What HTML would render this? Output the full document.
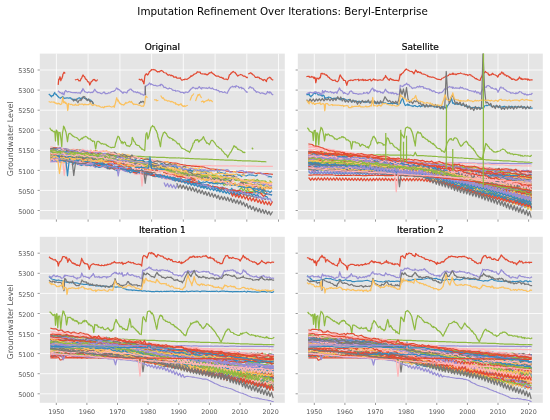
<!DOCTYPE html>
<html><head><meta charset="utf-8"><style>html,body{margin:0;padding:0;background:#fff;}svg{display:block;filter:blur(0.35px);}</style></head><body>
<svg width="550" height="420" viewBox="0 0 550 420" font-family="DejaVu Sans, Liberation Sans, sans-serif">
<rect width="550" height="420" fill="#fff"/>
<rect x="39.8" y="53.6" width="245.0" height="165.9" fill="#E5E5E5"/>
<clipPath id="cTL"><rect x="39.8" y="53.6" width="245.0" height="165.9"/></clipPath>
<path d="M56.4 53.6V219.5M88.1 53.6V219.5M119.9 53.6V219.5M151.6 53.6V219.5M183.3 53.6V219.5M215.1 53.6V219.5M246.8 53.6V219.5M278.5 53.6V219.5M39.8 210.5H284.8M39.8 190.4H284.8M39.8 170.4H284.8M39.8 150.3H284.8M39.8 130.2H284.8M39.8 110.2H284.8M39.8 90.1H284.8M39.8 70.0H284.8" stroke="#fff" stroke-width="0.8" fill="none"/>
<path d="M56.4 219.5v2.2M88.1 219.5v2.2M119.9 219.5v2.2M151.6 219.5v2.2M183.3 219.5v2.2M215.1 219.5v2.2M246.8 219.5v2.2M278.5 219.5v2.2M39.8 210.5h-2.2M39.8 190.4h-2.2M39.8 170.4h-2.2M39.8 150.3h-2.2M39.8 130.2h-2.2M39.8 110.2h-2.2M39.8 90.1h-2.2M39.8 70.0h-2.2" stroke="#555" stroke-width="0.6" fill="none"/>
<g clip-path="url(#cTL)"><g fill="none" stroke-width="5.00" stroke-linejoin="round" stroke-linecap="square" transform="scale(0.25)">
<path d="M233 337l2-20l2 1l3-11l2 8l1 8l3-8l1 0l4-12l0-4l4-8l1-2l3 3M302 319l5-1l4-1l1 1l4 6l4-2l1 1l3-8l3-4l2-5l3-6l1 1l3 5l2 0l4 10l0-1l5 4l2 4l2 4l4 0l1 2l3 11l1-2l4-9l0-1l5-4l1-2l3-4l3 1l2-1l4 5l1 0l4 0l2-3M557 317l5 3l4-2l1-1l4 9l2-1l2 9l1 1l3-27l1-6l4-5l1-2l3 2l2 3l3-3l4-8l0-2l5-3l4-5l1-1l4 1l4-1l1 1l3 0l5 3l1 2l3 2l3 2l2-2l4 0l1 1l4-4l2 0l2-1l5 3l2 2l2 3l4 1l5 1l2 2l2 3l5 4l4-2l5 2l2 2l2-2l5 2l4 5l4 0l4 1l1-2l4 6l5-1l4 1l4-2l1 3l4 6l4 0l5-2l4 0l1-2l4 1l4 1l1-2l4-2l4-3l5-4l2-4l2 2l4-2l5-5l2-2l2 0l5-2l4-4l1-3l4 1l4 0l4 0l1 6l4 1l4 0l5 1l4 1l1-2l4 3l4-1l0 3l5-3l4-6l0 2l5-2l4-3l0 2l4 3l5 4l1 0l3 3l5 4l4 0l5 0l4 3l3 2l2 0l4 0l4 4l3-1l2 4l4 1l5-1l1 0l3 2l3 0l2-3l4-13l0-2l5-3l2-5l2 0l4-4l3-2l2 2l4 1l5 6l1 1l3 4l3 4l2-1l4-3l4-1l1-1l4 1l4 2l0 1l5 3l4-1l0 1l5 3l4 3l1-1M995 295l4-1l2-3l3 1l3 3l1 0l5 5l3 1l1 2l4 6l5 0l3 1l1-2l5 1l4 5l2 0l3 1l4 3l5 4l1-3l3-1l4 2l5 6l0-4l4-7l2-2l3-2l3-1l1-1l5 4l0 2l4 3l3 2" stroke="#E24A33"/>
<path d="M197 378l5 4l4 5l0-1l4-4l3 0l2-6l4-6l0 4l5 4l1-1l3 5l5 5l1 1l3 3l5 2l1-2l3-1l4-3l1-1l4 7l1 1l3-2l5 0l1 0l3-1l5 1l4 0l0-1l5 0l4 5l4 2l0-1l5 0l4 0l3 3l2 0l4-3l5-4l4-2l4 3l1-1l4 0l4-3l3-1l2 2l4 3l5 1l2-1l2 3l5 2l4 0l1 0l4 1l4 5l4 2l0 3l3 3" stroke="#348ABD"/>
<path d="M234 365l5 5l4 0l0 1l5 4l3-4l1 5l4 3l0-1l3-11l2-3l1-2l3 2l3 3l2 1l4-2l5 1l4 2l1 0l4 1l4 1l4-1l5 0l1 1l3-1l5 2l4-1l5 0l2 3l2-3l4-9l1 3l4-11l0 3l4 4l3 6l2 0l4 2l5 2l2-2l2-1l5 1l4 2l4-2l3 1l2-2l4-5l0-2l3-4l2 3l4 6l1 0l4 4l4 0l1 0l4 1l4 3l4 1l0-1l5-3l4-3l4 4l1 3l4-1l5 0l2-1l2-2l5 1l4-2l1-2l3-2l5-1l4 0l1-2l4-2l2-3l2-4l1-2l4 2l2 5l2-2l5 3l2 4l2 0l4 4l5 5l2-3l2-2l5 1l4 2l3 0l2-6l4-4l0 1l5-3l1-3l3 0l3 2l1 3l5 3l4 4l5-1l4 3l3 0l2-2l4 3l5 0l1 2l3 3l4 0l5 2l1 3l3-1l3-2l2-22l1-11l3-1l3-3l2-1l4-2l3-5l1-1l5 7l1-4l3 2l5 2l1 2l3 1l5-1l4 2l3 0l2 1l4-1l4-2l3 2l2-6l4 0l0 1l5 5l1 1l3 6l5-1l4 3l1 1l4 2l4 0l4-3l0 1l5 1l4 2l3 4l2 0l4 2l5-1l2 4l2-1l5-1l4 1l1 0l3 2l5 4l4-1l5 0l4 4l4-2l1-3l4 0l5 2l2-1l2-1l4-5l5-6l1-1l3-2l5-5l2 0l2 3l5 1l2 2l2-2l5 2l4-6l1 1l3-3l5 7l4 2l1-6l4 1l4 0l5 1l4 0l0-1l4 3l5-2l3-3l1 2l5 3l4 0l2-2l3 3l4 3l5 1l1 0l3-1l4 4l5 1l0-2l4 7l5-2l4 0l0 1l5 3l4-1l3-2l2 3l4 2l4 1l1-3l4-8l0 1l4-8l3-4l2-2l4-2l3-2l2 2l4 0l5-2l1 4l3-6l4 2l5 1l1 4l3 2l5-3l4 0l0 6l5-2l4 3l5 7l4 3l0 2l4 0M995 354l4-7l2 0l3 3l3 2l1-1l5 2l3 7l1 0l4 3l5 6l3-2l1 0l5 2l4 2l2 3l3-1l4-2l5 3l1-1l3 1l4 3l2-1l3-1l4-9l2 2l3 3l3 1l1-5l5 4l0 1l4 5l3 2" stroke="#988ED5"/>
<path d="M290 397l4 7l2-2l3-1l4-1l2-4l3 9l4 6l0-2l4-7l2-2l3-1l3 3l1-3l5-6l0-5l4 0l2-2l3 1l3 8l1 0l5 6l1 1l3-3l3-3l1 3l5 10l0-4l4 1l2-1l3 3l3 8M557 413l5-4l1-3l3 3l4-2l1-2l4 1l1 5M581 345l1 34" stroke="#777777"/>
<path d="M197 407l5 2l4-1l0-1l4 1l5 1l1-2l3 4l3 2l2-1l4 2l0 2l5-3l1 1l3 0l3 3l2 1l4-2l1-1l3-18l1-8l3 18l1 4l4-4l3 7l2-3l4 7l0-3l3 27l2-13l1-15l3 2l4 1l1 1l4-1l4 2l0 1l5 0l4 0l3-3l2 3l4 0l5 1l2-2l2-3l5 1l4-1l1 0l3 0l5 4l4-2l0-2l5 3l4-1l5 1l4-3l1 0l4-3l4 5l4 4l5-1l1-3l3 1l4 1l1 1l4 3l5-1l2 1l2 0l5 4l4 1l1 0l3-1l5 3l4-5l5 1l4-2l5 0l4-1l1 1l3 1l5 2l4-1l5-3l2 5l2-8l4-13l1-6l3-11l1 3l4 11l1-5l4 10l4 5l0-2l5 5l4 0l4 2l1 0l4-4l5-6l1 2l3 0l5-2l4-3l0-2l4 3l2 1l3-3l4 7l5 5l1-2l3 1l5 0l4 0l0 1l5 2l4 0l3 1l1 1l5 3l4-1l3 1l2-2l4-11l0-1l3-25l2-1l4 4M619 399l4 1l2-1l3 4l3-1M644 384l4 7l2 2l3-2l4 7l2 2l3 0l4 1l4 3l2 0l3-1l4 2l5 3l0-3l4 1l5 3l4 3l5-1l1 6l3-1l4 2l5 3l0-3l4 1l5-4l3 6l1 0l5 5l4-3l3 3l2-1l4-2l3-1M761 400l5-13l1-4l3-1l4-6M783 402l4-12l2-4l3-7l0 3l4-4l2-1l3 6l4 7M806 407l5-3l4 4l0 2l4-4l5-2l1-2l3 1l5-4l1-2l3 6l3 0l2-2l4 1l3 4" stroke="#FBC15E"/>
<path d="M200 513l5 8l1 1l3-1l4 6l1-1l4 2l1-3l3 39l0-7l3-37l2 3l2 1l2 36l2 20l2-51l1 2l4-1l5 36l2 21l2-42l1-13l4-22l0-6l4 6l0 2l4 11l2 6l3 18l3 20l1-7l3-23l2-2l4-2l1 2l4 2l4 6l1-1l3 3l5 3l1 0l3 1l5 1l1 2l3 2l5 7l2 1l2-3l5-4l2-2l2 2l4-5l3-2l2 0l4-2l0-1l5 3l4 2l1 4l4 2l4-1l1 1l4 5l4 2l1 3l3-2l5 2l0 2l4 25l1 3l4-25l1-4l3-2l4 0l1 2l4 4l4 3l1 2l4-2l4 2l5 0l4 1l1 0l4 5l4 0l1 3l4 2l4 1l1 1l4 2l4-2l2 0l2 0l5 0l2-3l2-12l4-11l1-5l4-11l1-2l4 3l2 5l2 6l5 8l0 5l4-5l2 3l1 5l1-4l5-3l4 3l0 5l5 7l4 0l0-1l5 3l1 1l3-2l4-8l2 0l3-26l0-1l4 8l3 9l2 0l4 7l0 4l5 2l1 2l3 0l5 2l1 0l3 6l4 3l3 5l2-1l4 3l3 1l2 2l1 0l3-44l2-22l3-5l1 1l3 22l0 2l5-12l1-5l3-13l4-15l0-2l5-3l1-4l3 4l3 0l2 4l4 10l3 2l2 6l4 11l0 6l5 15l2 8l2 12l2 7l2-19l3-18l2-5l4-11l0-2l5-3l1-1l3 4l4 3l1 3l4 8l5 4l2 2l2-1l4 2l5 2l1 5l3-2l5 5l4 1l1 1l4 6l4 4l4 0l1-1l4 8l4 6l3 5l2 0l4 2l5 2l2 0l2 3l5 3l4 2l1-1l4 3l2 3l2-3l4-10l0 1l5-12l2-6l2-8l4-1l1-7l4-3l1-2l4 2l2-3l2 0l4 10l5-6l1-2l3 0l4-3l1-3l4-6l1-1l4 11l1 1l3 4l5 10l1-2l3 2l4 2l2 4l3-6l4-9l2-3l3 0l4 3l3 4l2 1l4 8l5 7l1 1l3 1l4 4l5 4l4 1l5 9l4 2l0 1l5 7l4 4l3 1l2 2l4 9l0-2l4-7l5-8l1-3l3-2l5-10l1-2l3-6l3-7l2 1l4 5l3-1l2 3l4 7l4-1l0 2l5 1l4 2l3 2l2 1l4 5l5-1l1 1M1009 593l2 2" stroke="#8EBA42"/>
<path d="M353 656l6 0l6 0l7 0l6 0l6 0l7 0l6 1l6-1l7 0l6 0l6 1l7-1l6 1l6-1l7 1l6 0l6 0l7 1l6 0l6-1l7 0l6 0l6 0l7 1l6-1l7 1l6 0l6 0l7 0l6 1l6-1l7 1l6 0l6-1l7 0l6 1l6 0l7 0l6 0l6 0l7 1l6 0l6-1l7 0l6 0l6 1l7 0l6 0l6 0l7 0l6 0l7 0l6 0l6 0l7 0l6 0l6 0l7 0l6 0l6 1l7 0l6 0l6 1l7 0l6 0l6-1l7 0l6 0l6 0l7 1l6 0l6 0l7 0l6 0l6 0l7 0l6 0l7 1l6 0l6 0l7 0l6 0l6 0l7 0l6 0l6 0l7 0l6 0l6 1l7-1l6 0l6 0l7 0l6 1l6 0l7 0l6-1l6 0l7 1l6 0l6 0l7 0l6 0l7 0l6 0l6 1l7 0l6 0l6 0l7 0l6 0l6 0l7 0l6 0l6 0l7 0" stroke="#FFB5B8"/>
<path d="M213 591l6 0l7 0l6 2l6-1l7 3l6 1l6 0l7 0l6 2l6 2l7 1l6-1l6 0l7-1l6-1l6 3l7 1l6 2l6 1l7 1l6 1l7 0l6 1l6 2l7-1l6 0l6 1l7 3l6 2l6 1l7-1l6-1l6 0l7 1l6 3l6 0l7 1l6 0l6 2l7 3l6-2l6 0l7 2l6 2l6 1l7-1l6 0l7 1l6 0l6 1l7 2l6 0l6 2l7 1l6 0l6 0l7 3l6 0l6 1l7 1l6 2l6 2l7 2l6 0l6 0l7 1l6 0l6 1l7 1l6 1l6 0l7-1l6 3l7 0l6 2l6 0l7 0l6 1l6 2l7 2l6 1l6 1l7 1l6 2l6 0l7 0l6 2l6 0l7 1l6 0l6 1l7 0l6 1l6 0l7 1l6 3l6 1l7 2l6 2l7 0l6 0l6 1l7 0l6 1l6 0l7 1l6 1l6 1l7 3l6 0l6 2l7 0l6 0l6 0l7 2l6-2l6 3l7 0l6 1l6 2l7-2l6 0l6-2l7 0l6 1l7 0l6 3l6 2l7-2l6 0l6 2l7 0l6 1l6-1l7 0l6 2l6 0l7 1" stroke="#E24A33"/>
<path d="M314 615l7 1l6 0l6 1l7 0l6 0l7 0l6 1l6-1l7 1l6 0l6 0l7 0l6 1l6 0l7 1l6 0l6 0l7 1l6 0l6 0l7 0l6 0l6 1l7-1l6 1l6 1l7 0l6 0l6 0l7 0l6 1l7 0l6 0l6 0l7 0l6 1l6 0l7 0l6 0l6 1l7 0l6 1l6 0l7 0l6 0l6 1l7 0l6 0l6 1l7 0l6 0l6 0l7 0l6 0l6 1l7 0l6 1l7 0l6 0l6 0l7 0l6 1l6-1l7 1l6 0l6 0l7 1l6 0l6 0l7 1l6 0l6 0l7 1l6 0l6 0l7 0l6 1l6 0l7 0l6 0l6 0l7 1l6 0l7 0l6 1l6 0l7 0l6 0l6 1l7 0l6 0l6 1l7 0l6 0l6 0l7 0l6 0l6 1l7 0l6 1l6 0l7 0l6 1l6 0l7 0l6 0l6 0l7 0l6 1l7 0l6 0l6 0l7 1l6 0l6 1l7 0l6 0l6 1" stroke="#8EBA42"/>
<path d="M204 594l6 5l7-6M248 598l7 2l6 0l6 4l7 0l6 2l7-1l6-1l6 0l7 0l6 3l6-1l7 2l6-3l6 3l7-1l6 3l6-1l7 2l6 4l6-3l7 3M413 618l7 4l6 4l6-3M490 632l6 2l6 1l7 1l6 1l6 0l7 0l6 6l6 1l7 1l6 2l6-1l7 1l6 4M604 656l6 3l7 3" stroke="#E24A33"/>
<path d="M204 602l6 4l7-6l6-2l6 8l7-1l6 4l6-2l7 2l6 3l6-3l7 3l6-1l7 3l6-4l6 1M356 624l7-2l6-2l6 6l7-2l6 1l6 0l7 2l6 2l6-2l7 3l6 0l6 5l7-1l6-1l7 3l6 2l6 5l7 1l6-1l6 1l7-5l6 2l6 7l7-6l6 8l6 3l7 1l6-1l6-6l7 6l6 1l6 6M578 656l7 2l6 0l6 3l7 2M617 671l6 0l6 0l7 2l6-2l6-2l7 4l6 6M699 680l6 4l7 1l6 3l6 6l7-3l6 1l6-1l7 3l6-1l6 0l7 2l6 3l7 0l6-2l6-1l7-2l6 4l6 1l7-2l6 6l6-2l7 2l6 1l6-2l7 2l6 0l6 4l7-1l6 2l6 0l7-7l6 5l6 2l7 2M966 720l6 2l6-2l7 4M1016 729l7 8l6 1l6-2l7 1l6 2l6 5l7-2l6 4l6 1l7 4l6-3" stroke="#348ABD"/>
<path d="M699 700l6 4l7 1l6 1l6 6M750 714l6 2l6-3l7 3l6-5l7 3l6 1M832 722l7-1l6 0l6 8l7-6l6 7M883 732l6-5l7 3l6 5l6 0l7 1l6 1l6-2l7 0M991 746l6-2" stroke="#988ED5"/>
<path d="M204 604l6 6l7-3l6 1l6 0M267 613l7-2l6-2l7 4l6 1l6-2l7 5l6 0M344 614l6 1l6 2l7-2l6-1l6 5l7 1l6 0l6-2l7 8l6-2l6-7l7 4l6-2l6-2l7 4l6-1l7 5l6 7l6 0l7-4l6-4l6 5l7 8l6-1l6 5l7-3l6-4l6 6l7 2l6 1l6 0l7-1l6 1l6 0l7 5l6-3l6 1M597 653l7 4l6-7l7 2l6 2l6-1M642 659l6-3l7 6l6 2M686 668l7-3l6 6l6 1l7 4l6-2l6-2l7 6l6 6l6-2l7-2l6 4l6-5l7 7l6-2l7-3l6 3l6-1l7 2l6 4l6 1l7-4l6 8M902 701l6 0l7 0l6 0l6 3l7 0l6 3l7 1" stroke="#777777"/>
<path d="M204 599l6-4M236 596l6-4l6 5l7 0l6 0l6 2l7-2l6 3l7 1l6 0l6 1l7 3l6-5l6 1l7 3l6 2l6-2l7 2M375 603l7 0l6-1M401 611l6-6l6 1l7-1l6-2l6 4l7 1l6 7l7-6l6 3l6 3l7 1l6-1l6 7l7-7l6 4l6 2l7-2l6 1l6 3l7 5l6-3l6 2l7 4l6 1M572 633l6 3l7-1M617 641l6 1l6 4l7 0l6 2l6 1l7-2l6-1l6 0l7 4l6 6l6 2l7-2l6 3l6-2l7 6l6-1l6 7l7 0l6-1l6 0l7 1l6 4l6-1l7 0l6 2l7-1l6 2l6 1l7-7l6 3M832 681l7 1l6 0l6-3l7 2l6 1l6 0l7-2l6 2l6-2M934 686l6 2l7-3" stroke="#FBC15E"/>
<path d="M686 677l7 3l6 5l6 4l7-8M762 692l7 0l6 2l7 5" stroke="#8EBA42"/>
<path d="M204 647l6-2l7 2l6 0l6 3l7-3l6 1l6 0l7 0l6 1l6 2M287 658l6-2l6-1l7-1l6-1l6-3l7 0l6 0l6 4l7-1l6 8l6 0l7-7l6 3l6 1M445 665l7 2l6 3l6-3l7 3l6-6" stroke="#FFB5B8"/>
<path d="M426 662l6 6l7-1l6 1M477 671l6-4l7 5l6 1l6 0M578 678l7 1" stroke="#E24A33"/>
<path d="M242 606l6 1l7-3l6 0l6 3l7 2l6 0l7 0l6 2l6-2M318 610l7 6l6 0l6 2M369 619l6-1l7 3l6-4l6 3l7 2l6 1l6-1l7-3l6 1l6 2l7 3l6 2l7-1l6-1l6-1l7 4l6 5l6 0l7 0l6 0l6 1l7-2M540 637l7 4l6 2l6-3l7 3l6-3l6 10l7-2l6-1l6-3l7 2l6 5M642 656l6-3l7 11l6-2l6-2l7-1l6 4l6 2l7 1l6-5l6 5l7 7l6 3l6-1l7 3l6-2l6 1l7 2l6 0l6 4l7 0l6 0l7-1l6 0l6 1l7-4l6 8l6-4l7 1l6 4l6-1l7 2M870 688l7 6l6-4l6 1l7 4l6-3M934 701l6-3l7-1l6 3l6 0l7 6l6-7l6 3l7 2l6-3l6-2l7 1l6 0l6 2l7 2l6-4M1073 707l7-1l6 2" stroke="#348ABD"/>
<path d="M204 638l6 1l7 6l6-1l6 1l7-1l6 6l6-2l7-7l6 7l6-1l7-4l6 3l7-1l6 4l6 4l7 1l6-3l6 3l7 0l6 1l6 4M369 659l6 0M407 664l6-3M432 666l7-3l6-2l7 6l6 3l6-1l7 1l6 0l6 3l7 4l6-3l6 5l7 2l6 2l6-1l7 4M585 691l6 4l6 0l7 3l6 0l7 0l6 0l6 1l7 2l6 8l6-3l7 1l6 1M705 719l7-3M737 725l6 2l7 1l6-1l6 1l7 1l6 5l7-1l6-3l6 4l7 0l6 4l6-2l7 3l6 0l6 2M870 747l7 4l6-2l6-1l7 5l6 2l6 2l7 5l6-1l6-1l7-1l6 3l7 2l6 0l6 2l7-3l6 2l6 7l7-2l6-2l6 7l7-4l6 1l6-3l7 4l6 1l6 2l7-1l6-2l6 2l7-1l6 3l6 1l7 0l6 0" stroke="#988ED5"/>
<path d="M204 597l6-6l7 4M236 603l6-2l6-3l7 0l6-2l6 6l7 4l6-2l7 0l6 1l6-3l7 4l6 0l6-1M331 605l6-2l7 4M382 617l6 1l6-2l7 3l6 1l6-1M464 626l7 0l6 0l6 7l7-1l6 1l6-3M515 639l6-4l7 4l6 1l6 2l7 5l6-2l6 3l7-2l6 2l6 0l7 4l6 3l6-4l7 6l6-4l7 0l6 4l6 1l7 4" stroke="#777777"/>
<path d="M617 684l6 3M655 691l6 0l6 4l7-2l6 4" stroke="#FBC15E"/>
<path d="M204 618l6 1l7 2l6-2l6 4l7 2l6 2l6-7l7 2l6 5l6-5l7 5l6 0l7-5l6 4l6-3l7 4l6-1l6-2l7 2l6 1l6 0l7 4l6-2l6 0l7-3l6 4l6-2l7 2l6 5l6-1M420 635l6-2l6 0l7 4l6 2l7-2l6 4l6 0l7 0l6 7l6-6l7 0l6 2M515 648l6 5l7 4l6-1l6 0M559 662l7 1l6 0l6 5l7-2l6 1l6-1M610 670l7 2l6 1l6-1l7 1l6 0l6-1l7 2l6 6l6 7l7-2l6 0l6-1l7 2l6 2l6 5l7 3l6 0l6-4l7 6l6 6l6-2l7 1l6 2l6-1l7 3l6 7l7 0l6-1l6 0l7 2l6 3l6-5M845 730l6-9l7 11l6-7l6 11l7-7l6 6l6-6l7 13l6-4M959 758l7-8l6 13l6-6l7 10l6-13l6 14l7-3l6 3l6-7l7 12l6-9l6 6l7-1l6 5l6-9l7 13" stroke="#8EBA42"/>
<path d="M204 644l6 3l7-3M236 643l6 1l6-1l7 7l6-3l6 1M299 653l7 1l6 4l6 2l7-8l6 5l6 5l7 2l6 0l6-2l7 3l6-2l6 2l7 4l6-5l6 0l7 2l6-1l6 4l7 0l6 5l6 2l7-4l6 4l7-1l6-1l6 4l7 3l6 0l6-1l7-1l6 1l6 6l7-3l6 6l6 0l7 1l6 2l6 5l7 1l6-3l6 1l7-3l6 4l6 2l7 0l6 4l6-4l7 2l6-2l7 7l6 4M642 710l6-1l7 4l6 3l6 0l7 0l6-1l6-4l7 4l6 1l6 5l7 4l6 2l6 0l7 2l6-4l6 2l7 6l6 1l6-5M788 736l6 12l7-7l6 9l6-10l7 7l6-5l6 5M845 754l6-8l7 9l6-10l6 13l7-6l6 9l6-6l7 7l6-6l6 12l7-6l6 5l6-5l7 7l6-3l7 3l6-1l6 1l7-1l6 1l6-3M1023 776l6-7M1073 778l7-8l6-2" stroke="#FFB5B8"/>
<path d="M204 640l6-4l7 0l6 3l6-1l7-3l6 5l6-1l7 2l6 1l6 2l7 0l6-2l7 1l6-1M318 645l7 0l6 0l6 1l7 3l6 1l6 1M413 652l7 6l6 1l6-3l7-3M490 667l6 3l6 7l7-3l6 0l6 0M559 685l7 4l6-5l6-3" stroke="#E24A33"/>
<path d="M204 607l6-1l7 3M236 609l6 4M267 618l7 2M337 634l7-1l6-3M426 643l6-2l7 0" stroke="#348ABD"/>
<path d="M204 599l6 2l7 1l6-2l6 6l7-2l6 0l6 1l7 6l6 4l6-4l7-3l6 0l7 4l6 0l6-2l7 5l6 1l6 5l7-7l6 8l6-1l7 3l6-2l6 6l7 4l6-4l6 5l7-4l6 2M426 638l6 2l7-1M452 645l6 1l6-1l7 2l6 4l6 1l7-1l6 1l6 1l7-2l6 0l6 3l7 5l6-2l6 4M572 666l6 4l7-2l6-2l6 5l7 0l6 2l7-3l6 3M648 678l7-4l6 6l6 0l7 3l6 4l6 0l7-2l6 5l6-1l7-1l6 2l6 3l7-1l6 0l6 8l7-1l6 2l6 1l7 2l6 0l7-6l6 7l6-2l7 1l6 7l6-4l7-2l6-1l6 3l7-1l6 4l6 0l7 6l6 1l6-2l7 6l6 2l6-5l7 2l6 3l6 1M959 734l7 4l6 0l6 0l7 1l6 4l6 1l7 0l6 2l6 3l7 4l6 1l6 2l7-1l6 4" stroke="#988ED5"/>
<path d="M204 594l6-1l7 1l6-1l6 4l7-4l6-1l6 4l7-1M306 600l6 5l6-5l7 0M337 602l7 0M382 604l6 4l6-1l7 2M432 612l7-1l6 0l7-1l6-1l6 5l7 6l6 1l6-2l7 2l6-3l6 2l7 5l6 1l6 2l7-8l6 8l6 3l7 2l6 0M578 638l7-2l6-1l6 2l7 2l6 2l7 3l6 0l6-1l7 4l6 0l6 1l7 3l6 5l6 3l7-3l6-2l6 5l7 2l6-2l6 1M731 668l6-3l6 3" stroke="#777777"/>
<path d="M617 668l6 2l6 1M642 670l6 4l7 4l6-3l6 2l7 1l6 2l6 4l7 3M724 691l7 3l6 2M807 708l6 1l7-3l6 6l6-2l7 2l6 3l6 2l7 3l6-1l6 0l7 2l6-1l6 6l7 3M959 736l7-1l6-1l6 2l7 2l6-4l6-1l7 0l6 7l6-2l7 2l6 3l6 4l7-1l6-5M1061 743l6-5l6 6l7 5l6-1" stroke="#FBC15E"/>
<path d="M204 620l6-1l7 2l6-1l6-1l7 1l6-1l6-4M274 622l6-4l7 6l6 1M312 625l6 0M375 619l7 2l6 0l6 6M426 627l6-1l7 4l6-3l7 0l6-3M496 631l6 1l7-1" stroke="#8EBA42"/>
<path d="M204 615l6 5M229 617l7 0l6 1l6-2l7 5l6-2l6-4l7 2M312 623l6-3l7 0l6-1l6 2M369 619l6-2l7 2l6 0l6 2l7-1l6-1l6 1l7-1l6 1l6 5l7 1l6 2l7-1l6 3M483 635l7-2l6-1l6 4l7 6l6 2l6-3l7 3l6 5l6 0l7 0l6 0l6 3l7 4l6-1l6 7l7-3l6 5l6 2l7 2l6-1l7 5l6 3l6-6l7 3l6-2l6 7l7 4l6 2l6-3l7-2l6 4l6 1l7-1l6-1l6 7l7 5l6-5l6 2l7 3l6 2l6 3l7 4l6 0l6-3l7 0l6 3l7 4l6-3l6 2l7 1l6-1l6 1l7-1M845 710l6 1l7 1l6 4l6 4M883 721l6-2l7-1l6-3M921 723l6 5l7-5M966 724l6 3l6 4l7 2l6-5l6 0l7 1l6 2l6-3l7 7l6 1l6-1l7-1l6 0l6-2l7 2l6 2l6-2l7 2l6 4" stroke="#FFB5B8"/>
<path d="M477 654l6-2l7 6l6-3l6-1l7 4l6 2M553 666l6 0M591 679l6 2M655 688l6 2l6 5l7 0l6 4l6-3l7 3l6 0l6 7l7-2l6 0l6 2l7-2l6 1l6 2M762 708l7 6l6 2l7 0l6-4l6 0l7-1l6 0l6 7l7 0l6 2l6 0l7 1l6 1l6 1l7 0l6 3l6-3l7 3l6 0l6 1l7 4l6 0l6-2M921 731l6 2l7 2l6 5l7-2l6 0l6-4l7 1l6 3l6 2l7 2l6-1l6 2M1010 741l6 7l7-2l6-4M1061 751l6-1l6 1l7 3l6-1" stroke="#E24A33"/>
<path d="M204 638l6 3l7 1l6-1l6 3l7-2l6 0l6 1l7-3l6 6l6 0l7-2l6-2l7-2l6 1l6-1l7 1l6 2l6 2M331 647l6 1l7-5M363 649l6 0M388 651l6-2l7 1l6 2l6-6l7 0l6-1l6 6l7 1l6 0l7 5M477 659l6 1l7 4l6 1l6 0l7 2l6 1l6 0l7 8l6 2M566 678l6 5l6-1l7 5l6 1l6 4l7-2l6 5M661 706l6 1l7 4l6-3l6 3l7 2l6-1l6 2l7 2l6 4l6-4l7 2l6 1l6 2l7 1l6 2l6 2l7-1l6 5l7 2l6 5l6-6l7 3l6 3l6 0l7 4l6-2l6 3M883 758l6-8l7 9l6-6l6 7l7-2l6 3l6-8l7 13l6-4l7 6l6-5l6 9l7-1l6 1l6-3l7 8l6-9l6 9l7-3l6 8l6-6l7 7l6-4l6 6M1061 786l6 0l6 10" stroke="#348ABD"/>
<path d="M204 624l6 2l7-1l6 0l6 3l7-2l6 0M293 633l6 0M337 639l7-1l6 4l6-4l7 7l6-5l6 2l7 4l6 4l6 1l7-2l6 4l6-1l7-1l6-1l6 1l7 0l6 2l7 3l6 0l6 1l7 3l6 0l6 2M528 663l6 0l6 0l7 5l6-2l6 2l7 1M591 666l6 5l7 2l6 2M636 676l6-5l6 3l7-1l6-1l6 5l7 0l6 6l6-1l7 4l6 0l6 4l7 2l6-5l6 6l7 2l6 1l6 1l7-2l6 0l6 8l7 1l6 1l7-2l6-2l6 6l7 2l6 3l6-6l7 2l6 4l6 1l7 2l6 3l6 1l7 0l6 2l6 3" stroke="#988ED5"/>
<path d="M204 625l6 4l7 1M255 635l6 2l6 1l7-2l6 2l7 7l6-5l6 8l7-2l6-1l6-1l7 3l6 5l6-1l7 2l6-2l6 5M388 655l6 4l7-2l6 4l6-1M432 663l7 3l6-7l7 8l6 3l6 3l7 0l6-1l6 3l7 2M534 686l6 2l7-1l6 3l6-2l7 2l6 6l6-5l7 4l6-1l6 3l7 1l6-1l7 4l6 4l6 1l7-4l6 3l6 5l7-1l6 3l6 2l7-3l6 0l6 3l7 5l6 4l6-3l7-2l6 6M737 730l6-5l7-1l6 8l6-3l7-1M801 740l6 1l6 3l7 2l6 1l6 0l7-3l6 3l6 1l7-1l6 7l6 0l7 2l6 2l6-2l7 3l6-3l6 5l7-1l6 6l6-2l7 4l6-1M953 768l6 5l7 0l6 4l6 2l7 0l6 6l6-4l7 4l6-1l6 4l7-1l6 4l6-3l7 2l6 2l6 2l7 4" stroke="#777777"/>
<path d="M204 621l6 2l7-1l6 1l6-3l7 5l6 2l6 0l7-1l6-2M287 631l6-1l6-3l7 6l6 2l6 2l7-1l6 1l6 2l7 0l6-1l6-3l7 3l6 1l6 2l7 1l6 0l6 0l7 3l6 1l6 1l7-1l6 0l6 1l7-4l6 7l7-4l6 2l6 2l7 3l6-1l6 1l7 1l6 10l6 0l7-5l6-2l6 4l7 3l6 0l6 4M604 676l6 3l7-1l6 2l6-2l7 5l6-1l6 0l7-4l6 8l6-2l7 1l6 4l6 1l7 0l6 4l6 7l7-3l6 1l6 4l7-5l6 7l6-2M794 715l7-7l6 11l6-3l7 3l6-5l6 7l7-7l6 2l6-2l7 11l6-5l6 6l7-4l6 6l6-4l7 7l6-6l6 3l7-3l6 5M953 735l6 11l7-5l6 7l6 0l7 7l6-9l6 15l7-9l6 8l6-8l7 13l6-5l6 12l7-7l6 7l6 0" stroke="#FBC15E"/>
<path d="M394 644l7 4l6-2l6-3l7 3l6-3l6-1l7 1l6 3l7 3l6-2l6 8l7-1l6 2M502 658l7 5l6-5l6 2M553 669l6-2l7 0l6 3l6 0l7-5l6 7M661 682l6-2l7 5l6 3l6 0l7-1l6 2l6 1l7-1l6 5l6 3l7-1l6-1M762 693l7 1l6 6l7 0l6 6l6-1l7-2l6-3l6 3M845 712l6-4l7 2l6 0l6 0l7 4l6 2l6-1l7 2l6-1M953 723l6-2l7 1l6 5l6-2l7-6l6 3l6 3l7 0l6 4l6 0l7-4l6 1l6 3l7 1l6 1l6-2" stroke="#8EBA42"/>
<path d="M604 686l6-5l7 3l6 3l6 2l7-2l6 5M655 697l6 4l6-2l7 0l6 0l6 4l7 3l6-1l6-2l7 1l6 2" stroke="#FFB5B8"/>
<path d="M204 632l6 2l7-3l6 4l6 1l7 0l6 3l6-2l7 4l6-4l6 2M293 648l6 0l7-2l6-1M325 651l6-6l6 4l7 3l6-5l6 4l7 1l6 0l6 0l7 0l6 1l6 1l7 1M413 654l7 5l6 0l6-3l7 4l6 0M458 666l6 1l7 0l6-3l6 2l7 5M572 688l6 0l7 2l6 1l6 2l7-3l6 4" stroke="#E24A33"/>
<path d="M229 643l7-5l6 4l6 5l7 0l6-4l6 11M293 656l6-6l7 4l6 4l6-1l7 5l6-2l6-6l7 7l6-1l6 1l7 2l6-3l6-5l7 11l6 0l6 3l7 0l6-2l6-6l7 6l6 4l6 4M464 681l7 3M490 678l6 0l6 6l7 3l6-3l6 7l7-4l6 0l6 4l7 2l6-8l6 6l7 3l6-3l6 5l7 4l6-1l6-1l7 3M636 707l6-1l6 6l7-3M680 715l6-2l7 6l6 2l6-3M737 722l6-2l7 1l6 1l6 5M801 730l6 2M839 730l6 0l6 4l7 0l6 0l6 0M889 735l7-4l6 2l6-2l7 5l6 5l6 0l7-2l6 0l7 0l6 0l6 3l7 3l6-1l6 4l7 2l6 0l6-1l7 1l6 4l6-1l7 4l6-1l6 6l7-5l6 5l6 0l7 3l6-1l6 0l7 6l6-5" stroke="#348ABD"/>
<path d="M229 593l7 1l6-3l6 6l7-3l6 2l6-1l7 3l6 4l7-1l6 2l6 2l7 1l6-3l6 5l7-2l6-4l6 0l7 5l6-2l6 5l7-1M375 608l7 6l6-7l6 3l7 1l6 2l6 1l7-1l6 2l6 4l7 5M464 628l7-1l6 5l6-1l7-2l6 8l6 0l7-1l6 0l6 2l7 3l6 4l6 1l7 7l6 0l6-4l7 3M617 665l6-4l6 4l7 4l6-2l6 2M667 673l7 4l6 4l6-2l7 3M724 691l7-1l6-2l6 6l7-4l6 1M782 697l6 0l6 3l7-2l6-1l6-2l7 10l6-3M851 711l7-5l6 1l6 0l7-1l6 2l6 5l7-2l6-2l6-2l7 3l6 2l6 4l7-2l6 2l7 2l6 2M972 722l6-2l7 3l6 2l6-4l7 4l6 3l6 3l7-2l6-2l6 2l7-1l6 4l6 5l7 0l6-4l6 4l7 7l6-3" stroke="#988ED5"/>
<path d="M204 631l6-4M229 629l7-2l6 4l6-2l7 3l6 0l6-2l7 0M306 628l6 9l6-5l7 0l6-1l6 2l7 1l6 0l6-1l7 1l6-2M401 634l6 1l6-3l7 1l6 2l6 1M458 640l6 1l7 6l6-1M502 649l7 6l6-1l6-1l7 9l6 0l6-2l7 4l6-4l6 6l7-4l6 5l6 3l7-4l6 3l6 4l7 3l6-3l7 0l6 8l6 0l7 1l6 0l6 1l7 4l6 2l6 2l7-3M693 691l6 0l6 0l7 4l6 3l6 0l7 2l6-2l6 2l7 2M775 704l7 3l6-8l6 10l7-4l6 9l6-12l7 9l6-6l6 7l7-5l6 9l6-3l7 5l6-5l6 3l7-3l6 9l6-6l7 5l6-11l6 9l7 1l6 5l6-8M959 736l7-9l6 6l6-7l7 9l6 0l6 10l7-7l6 9l6-7l7 4l6 0l6 10l7-5l6 10l6-4l7 9" stroke="#777777"/>
<path d="M204 603l6 1l7 2l6 5l6 0l7-1l6-3l6 4l7 1l6 2l6 2l7-2l6-1l7 2l6-2l6 3l7 1l6-1l6-2l7 4l6-3l6 1l7 3l6-3l6 1l7 1l6 1l6 8l7-2l6-6M477 635l6 6l7-4l6 2l6-1l7 0l6-1l6 7l7 1l6 4l6-2l7-2l6 1l6 1l7-1l6 4l6 2l7-2l6 0l6 8l7-3l6-1l7 3l6 2l6-1M655 665l6-3l6 0l7 5l6-4l6 9l7-1l6 3l6 3l7 0l6-4l6 3l7 4l6 3l6-1M775 685l7-6l6 6l6 2l7 0l6 2l6 0l7-2l6 1l6 4l7 0l6-2l6 7l7 0l6-3l6 1l7-4l6 4l6-2l7 3l6 3l6-5l7 5l6-2l6 0l7 0l6 2l7-1M966 700l6 2l6-2" stroke="#FBC15E"/>
<path d="M762 693l7 2l6-1l7 3l6-1l6 3l7-2l6 3l6 1l7 2M851 700l7 4l6-4l6 5" stroke="#8EBA42"/>
<path d="M204 638l6-3l7 9l6-7l6 5M248 646l7-4l6 3l6 1M306 648l6-1l6-2l7 5l6 1l6 0l7 2l6 4l6-5l7-2l6 7M502 676l7 0l6 2l6-1l7 4" stroke="#FFB5B8"/>
<path d="M204 614l6 5l7 0l6-2l6 4l7 4l6 0l6 0l7 3l6 0l6-1l7 4l6 2l7 0l6 4M325 635l6 3l6 3l7-2l6 2l6 5l7 0l6 1M382 652l6-1l6 3l7 3l6 1l6-3M432 661l7 2l6 1l7 1l6 2l6 2l7-1l6-2l6 6l7 0l6 2l6 2l7 2l6-1l6-1l7 3l6 2l6 0l7 4l6-2l6 5l7 3l6-5l6 1l7 1l6-1l6 3l7-1l6 8l7 1l6-2l6 4l7 0l6 4l6-4l7 5l6 0l6 4l7 1l6-2l6 2l7 0l6 0l6 9l7 1l6 1l6-6M762 725l7 3l6 0l7 4l6 0l6 4l7-5M832 739l7 3l6 5l6-2l7 1l6 1l6 2l7 4l6-2l6 1l7 0l6 3l6 0l7 8l6 1l6-3l7-1l6 0l7 5l6-4l6 1l7 4l6 5M985 770l6 1l6-1l7 0l6 1M1042 772l6 7l6 6l7-4l6-10" stroke="#E24A33"/>
<path d="M229 625l7-2M267 628l7 5M293 631l6 2l7 1l6 0M350 646l6 0l7 0l6 1l6 6l7 1l6 1l6-1l7 1l6-1l6 5l7 0l6-2l6 4l7 4l6 3M458 665l6 0l7 5l6 0l6 4l7 2l6-3l6 3l7 3l6 1l6-1l7 2l6 4l6 2l7-1l6-5M585 691l6 3l6 4l7 0l6 6l7 2l6-4l6 4l7 2M648 707l7-2l6 6l6 2l7-2l6 3l6 1l7 6l6 0l6 1l7-1l6 1l6 4l7-1l6 0M756 731l6 1l7-1l6 5l7-2l6 4l6-2l7 5l6 6l6 0l7-5l6 3M851 745l7 9l6-3l6 3l7 9" stroke="#348ABD"/>
<path d="M204 647l6-1l7 0l6-5l6 1l7 5l6-3l6 5l7 2M306 653l6 3l6 3l7-3l6 1l6 2l7-3l6 2l6-2l7 3l6-1l6 7l7 5M394 660l7 7M432 670l7 3l6 0l7-5l6 6l6 2l7 3l6-4l6 0l7 4l6 4l6 0l7 0M547 689l6-2l6 0l7 1l6 3l6-1l7 5M636 701l6-3l6 8l7-1l6 2l6 1" stroke="#988ED5"/>
<path d="M217 630l6 2l6 5l7 2l6 0l6 0l7 0M318 654l7 1l6-2l6 0l7 0M375 661l7 1M413 664l7 4l6 0l6 3l7 5l6-5l7 4l6 4" stroke="#777777"/>
<path d="M204 629l6 0l7 1l6 7l6-5l7 3l6-2l6 1M280 633l7 3l6-3l6-1l7 1l6-1l6 5l7-5l6 2l6 1l7 2l6-4l6 2l7-3M394 637l7-1l6 2l6 3l7-3l6 2l6-5l7 2l6 0l7 4l6 1l6-4l7 5l6 3l6 4l7-4M521 654l7-4l6 3l6-1l7 0l6 4l6-4M585 660l6 4l6 4l7-5l6 3l7 1M642 674l6-1l7 0l6 2l6-2l7 3l6 0l6 1l7 6l6-3l6 2l7 2l6 2l6 5l7 1l6-5l6 3l7 4l6 4l6-3l7 0l6 2l7-1l6 4l6 3l7-1l6 0l6-4l7 6l6-1M858 706l6-1l6 0l7 3l6 6l6 2M947 721l6-4l6 5l7-4l6 3l6-1l7 1l6 2M1010 724l6 0l7 0l6 0l6 0l7 3l6 4l6 0l7-4l6 5l6-2l7-1l6 2" stroke="#FBC15E"/>
<path d="M204 602l6-2l7 0l6 3l6 3l7-1l6 0l6 3l7-2M280 607l7 4l6 0l6-2l7 2l6-1l6 6l7-3l6 0l6 3l7-5l6 0l6 4l7 3l6 1l6-5l7 3l6 2l6 3l7-8l6-1M426 616l6 3l7 6M458 627l6 1M502 638l7 3l6 1l6 2l7 0l6 0l6 5l7 1l6 1l6 3l7 1l6 2l6-3l7 5l6 1l6 1l7 1l6 2l7 4M636 670l6 3l6 0l7 2l6 4l6-5l7 3l6 1l6 5l7 1l6 2l6 6l7-3l6 3l6 2l7-4l6 3l6 2l7 1l6 2l6 1l7-1l6 0l7 0l6 9l6-3l7-2l6 7l6-5l7 1l6 1l6 0l7 2l6-2l6 2l7-1l6 3l6 7M896 718l6 3l6-5l7-1M959 720l7 5l6-1l6 3l7 3l6 3M1029 736l6 5l7-4" stroke="#8EBA42"/>
<path d="M439 644l6 5l7 0l6 2l6 4l7-2l6-1l6-2l7 10l6 0l6 1l7 2l6-3l6 1M566 672l6-1l6 0l7 2l6 1l6 0l7 5l6-5l7 6l6-4l6 4l7 2l6-2l6 1l7 5l6 3l6-4l7-2M705 690l7 2l6-1l6 4l7 1l6-1l6-1l7 3l6-1l6 0l7 1l6 5l7 0l6-1l6-3l7 5M832 702l7 4l6 7M864 709l6-1l7 0l6-3l6 7l7-5l6 1l6 3l7-2l6-2l6 5l7 6l6-6l7 0l6 3l6 0l7 6l6-2l6 6l7-3l6 1l6-1l7 6l6-4M1048 733l6-4l7 3l6 2l6-2l7 7l6-4" stroke="#FFB5B8"/>
<path d="M344 639l6-1M363 637l6 0l6 4M407 645l6 0l7 0l6 1l6 1l7-2l6 2l7-3l6 10l6-2l7 3l6 0l6-1l7 2l6 3l6 1l7 2l6 5l6-2l7-4l6 2l6 4l7 11l6 1l6-10l7 2l6 0l6 0l7 6l6-3l6 6l7-1l6 2l7-3l6-3l6 7M655 688l6 1M705 700l7 8l6-2l6 0l7 3l6 1l6 2l7-2l6 3l6 4l7 3l6 0l7 4l6 1" stroke="#E24A33"/>
<path d="M255 631l6-5l6 4l7-5l6 1l7 5l6-1l6 2l7 1M337 630l7 7l6 0l6-1l7-2l6-2l6 7l7-5M413 637l7-2M490 651l6 0l6 1l7 2l6-3M540 657l7 5l6-2l6 3l7 3l6 2" stroke="#348ABD"/>
<path d="M204 627l6 5l7 3l6-2l6-1l7 1l6 2l6 2l7-1l6 1l6 5l7-1l6 2l7-2l6 3l6 2l7 1l6-1l6-4M363 653l6 6l6-7l7 2l6 8l6 3l7-5l6 3l6 1l7 3l6 0l6-1l7-1M471 674l6 1l6 3l7-5l6 7l6 1l7 5M547 686l6 3l6 5l7-1l6-2l6 3l7 3M617 700l6 2M642 709l6-1l7 0l6 6l6 1l7-4l6 5l6 3l7 1l6-1l6 0l7 2l6-2l6 0l7 3l6 1l6 2l7 6l6-1l6 4l7 4l6 1l7 1l6-3l6 2l7 1l6 2l6-4l7 4l6-1l6 7l7-5l6 9l6-2l7 8l6-7M896 763l6-7l6 4l7 0l6 5l6-1l7 8l6-4l7 2l6 0l6 9l7-12l6 8l6-3l7 5l6-4l6 6M1016 786l7 0l6 1l6 5l7-6l6 13l6-8l7 3l6 1l6 4l7-5l6 12" stroke="#988ED5"/>
<path d="M204 632l6-5M242 630l6-4l7 3l6 1l6 0l7 4l6-2l7-2l6-4l6 6l7 0l6 0l6-5l7 6l6 0l6 0l7 0l6 2l6-1l7-4l6 4l6 1l7-1l6-5l6 2l7 1l6 0l6 3l7-7l6 2l6 4l7 5l6-4l7 0l6 5l6 3l7-1l6-1l6 5l7 1l6-2l6 0l7 3l6 0l6 4l7 3M559 658l7 0l6 2l6 0l7 2M604 669l6-2l7-1l6-3l6 6M642 669l6 10l7 1M667 678l7 2l6 2l6 1M724 695l7-2l6 2l6-2l7 4l6 3l6 2l7 0l6-2l7 2l6 1" stroke="#777777"/>
<path d="M204 634l6-2M248 636l7 0l6-1l6 1l7 1l6 3l7-4l6 4l6-3l7 0l6 1l6 2l7-1l6 5l6 2l7-5l6 4l6-3l7 3l6-1l6 1l7-1l6-3l6 5l7-7l6 7M420 649l6 0l6 0l7-1M471 654l6 0l6 3l7 3M509 662l6 0l6 1l7 0l6 2l6 1l7 2l6-1l6-1l7 4l6 3l6-2l7-2l6 10l6 2l7-5M617 677l6-2M642 681l6 4l7-2l6 1l6-1l7 5l6 4l6 0l7 0l6 1l6 6l7 1l6-2l6 1l7 1l6 3l6 1M775 708l7 6l6-5l6 3l7 1l6 7l6-4l7 5l6 1l6-3l7 0l6 5l6-4l7 9l6-8l6 10l7-9l6 11M902 727l6 14l7-5l6 6l6-9l7 7l6-10l7 13l6-4l6 6l7-4l6 8l6-10l7 8l6-8l6 4l7-6l6 13l6-9M1029 743l6 7l7-10l6 15l6-8l7 10l6-10l6 8l7-6l6 5" stroke="#FBC15E"/>
<path d="M204 606l6 3l7 0l6 3l6-1l7-2l6 1M261 611l6 2l7 3l6-2l7 4l6 0l6-4l7 5l6-7l6 4l7-1l6 5l6 1l7 0l6-2l6 3l7 1l6 0l6-1l7 1l6-1l6 4l7 3l6-4l6 1l7-1l6 3l6 4l7 3l6 1l7 1l6-1l6 2l7 0l6 7l6-3l7-2l6 4l6 5M521 647l7 4M559 656l7 0l6-2l6 8l7 4l6-6l6 4l7 4l6-2M648 671l7 3l6-1l6 9l7-1l6 2l6-5M712 687l6 0l6 5l7 2l6 2l6-1l7-3l6 9l6-2l7 1l6-6l7 7l6-3l6-3l7 3l6 3l6-2l7 4l6-1l6-3l7 2l6-1l6 10l7 0l6-3l6 2l7-3l6-3l6 4l7 5l6-3l6 1l7 3l6 2l6-3l7-1l6 10l7 0l6-6l6 6M978 719l7-1l6 2l6 2l7 0l6-3l6 1l7 2l6-4l6 5l7 1l6-1l6 1l7 0l6 6M1080 724l6 5" stroke="#8EBA42"/>
<path d="M204 587l6 1M248 593l7 7l6 1M293 596l6 2l7 2l6 1l6 5l7-5l6-4l6 3l7 2l6-1l6 5l7-6l6 7l6-1l7 0l6 0l6 0l7-2l6 3l6-5l7 3l6 2l6 0l7 4l6 2l7-2l6 3l6 4l7 1l6 1M528 632l6-4l6-1l7 1l6 7l6-1M604 638l6 6l7-2l6-1M648 649l7-3" stroke="#FFB5B8"/>
<path d="M382 655l6 4l6 3l7-1M439 667l6 0l7 4l6 0l6 1l7 1l6 1l6 1l7 1l6-1l6 1l7 3M534 689l6 2l7 0l6-4l6 3l7 5l6 0l6 0l7 2l6 1l6-1l7 3l6 2l7 0M674 714l6 1M699 721l6-1l7 1l6 2l6 3l7-1l6 1l6 3l7-2l6 2l6 2l7-1" stroke="#E24A33"/>
<path d="M204 625l6-4l7 2l6-1l6 1l7 2l6 6l6 1l7-1l6 4l6 1l7-4l6 7M306 638l6 5l6-5l7 2l6 5l6-1l7 3l6-2M375 650l7 4l6 3M401 657l6 2l6-3l7 1l6 3l6 7l7-3l6 4l7 2l6-5l6 4l7 0l6 1l6 4l7 2l6 0l6 1l7 6l6 0l6-1l7-2l6 2l6 2l7 3l6 2l6 0l7 2l6 1l6-1l7 3l6 2l6 0l7-1l6 0M623 698l6 4l7-3l6 1l6 5l7-1l6 2l6 0l7 5l6-2l6 1l7-1l6 3l6 6l7-3l6 0M750 720l6-3l6 2M794 724l7 7l6-1l6-2l7 2l6-4l6 3l7 4l6-4M870 732l7 1l6 2l6-2M908 739l7-5l6 2M953 747l6-2l7 2l6 0l6 5M1010 755l6 5l7 7l6-1l6 6l7-4l6-2l6 5l7 4l6 0l6 1l7 2l6 2" stroke="#348ABD"/>
<path d="M204 613l6 1M229 618l7-4l6 2l6 1l7 2l6 0l6-2l7 0l6 4M312 622l6 3l7 0l6 2l6-2M369 624l6 9l7-5l6 5l6-3l7-3l6 2M432 640l7-2l6 0l7 5l6-3l6-2l7 3l6 2l6 2l7-5l6 2l6 0l7 1l6 2l6-1l7 0l6 2l6 1l7 0l6 1l6 2l7-1l6 3l6-1l7 0l6 0l6 0l7 4M629 660l7 1l6 0l6-2l7 0l6 6l6-3l7 2l6 1l6-1l7-3l6 0l6 2l7 4l6-1l6 2l7 9l6 2l6-3l7 2l6-2l6-3l7 2l6 2l7 4l6-2l6 3l7 0l6-3l6 0l7 0l6 2l6 0l7-1l6 4l6-2l7 2l6-2l6-3l7 6l6-6l6 2l7 2l6-3l6-2l7 3l6 8l6-1M947 685l6 1l6-3l7-1l6 1l6 6l7-3l6 5l6 0l7 1l6 0l6-2M1042 691l6 3l6 3l7 1l6 4l6-2l7-2" stroke="#988ED5"/>
<path d="M325 632l6-3l6 7l7-3l6 1l6-1l7 0l6 4l6-1l7 1l6 3M432 640l7-2l6 1M471 644l6 0l6 3l7 3l6 3M521 653l7 3l6 2l6-4l7 1l6 4l6-1l7 0M585 659l6 1l6-2l7 6l6-5l7 3l6 1l6 0l7 0l6 4l6-2l7 2l6 0l6 3M699 678l6 1M731 682l6 4l6 1l7-1l6 2l6 1l7 6l6 0l7 4l6-3l6 1l7 3" stroke="#777777"/>
<path d="M204 626l6-3l7 3l6-2l6 6M242 630l6 2l7-3l6 5l6-1l7 0l6-3l7 3l6 1l6 1l7 0l6-1l6 1l7 0l6 10l6-3l7-5l6-2l6 2l7-1l6 6l6 2l7-3l6 3l6 2l7-4l6 0l6 3l7 5M477 647l6 3M502 653l7 2l6-4l6 5l7-2M547 662l6-8l6 1l7 2l6 3l6 4l7-3l6-3l6 5M629 666l7 3l6-7l6 7l7 2l6 1l6 0l7-1l6 5l6-3l7 5l6 2l6-4l7 5l6 0l6 3l7 0l6 3l6-4l7 7M775 694l7 2l6-5l6 2l7 2l6 2l6 1l7 0l6 0l6 1l7 2l6 3l6 3l7-1l6-1l6-4l7 5l6 4l6-2l7 3l6-3l6 1l7 1l6 2l6 2l7-1l6-1l7 4l6 2l6 2l7 3l6 0l6 3l7-2l6-5l6 2l7-2l6 3l6-5M1042 727l6 1l6-2l7 4l6 0l6 2l7-1l6-2" stroke="#FBC15E"/>
<path d="M204 613l6 3l7-4l6 0l6 2l7 4l6-5M274 618l6 1l7 5l6-1l6-3M318 623l7 4l6-3l6 3l7-2l6 0l6 0l7 5M375 632l7-1l6 1l6 5l7-1l6-3l6 0l7 3l6-1l6 1l7-2l6 0l7 5" stroke="#8EBA42"/>
<path d="M204 613l6 3l7-1l6 0l6 2l7-1M255 614l6 7l6 3l7-3l6 0l7-1l6 4l6 0l7-5l6 1l6-1l7 4l6-1l6 5l7-3l6-2l6 4l7 0l6 0l6 2l7 0l6 5l6-2l7-2l6 1l6-3l7 10l6-5l6 5l7-1l6 0l7 3l6 2l6 2l7 4l6-3l6 1l7 5l6-3l6 7l7-6l6 7l6-1l7 1l6 3l6 4l7-3l6 1l6 4l7-5l6 7l6 3l7 5l6-2l6 0l7 2l6-2l7 6M636 680l6 3l6 2l7-1l6 1l6 5l7 2l6 0l6 4l7-1M737 705l6 2l7 4l6 2l6-9l7 3l6 0l7 1l6 8l6 0l7 0M839 722l6 3l6-2l7 1l6-5l6 1l7 8l6 1l6-4l7 3l6 1l6 6l7 0l6 0l6 0M953 738l6-3l7 1l6 5l6 0l7-4l6 0l6 1l7 4l6 1l6-1l7 0l6-3l6 4" stroke="#FFB5B8"/>
<path d="M708 735l6 17l7-13l6 15l6-13l7 15l6-12l6 17l7-14l6 16l6-13l7 16l6-12l6 17l7-12l6 15l6-12l7 16l6-12l6 16l7-13l6 17l7-13l6 16l6-12l7 16l6-12l6 17l7-13l6 14l6-12l7 15l6-13l6 16l7-12l6 17l6-13l7 16l6-13l6 16l7-13l6 17l6-11l7 17l6-12l6 19l7-11l6 16l7-12l6 18l6-13l7 16l6-13l6 17l7-13l6 16l6-13l7 16l6-12l6 15l7-12" stroke="#777777"/>
<path d="M657 702l6 9l7-7l6 10l7-5l6 9l6-5l7 11l6-7l6 9l7-6l6 9l6-6l7 10l6-5l6 9l7-6l6 10l6-7l7 9l6-6l6 10l7-6l6 10l6-7l7 9l6-6l6 9l7-6l6 10l7-7l6 9l6-7l7 10l6-6l6 9l7-7l6 10l6-7l7 9l6-7l6 10l7-8l6 9l6-7l7 9l6-7l6 9l7-7" stroke="#348ABD"/>
<path d="M924 772l6 13l6-11l7 14l6-11l6 14l7-12l6 14l6-11l7 14l6-10l6 15l7-12l6 15l7-12l6 14l6-11l7 15l6-11l6 15l7-12l6 15l6-11l7 13l6-12l6 14l7-13" stroke="#E24A33"/>
<path d="M657 732l6 14l7-12l6 14l7-11l6 14l6-11l7 14l6-12" stroke="#988ED5"/>
<path d="M543 669l6 0l7 0l6 0l6 1l7 0l6 1l6 1l7 0l6-44l6 46l7 1l6 0l6 0l7 1l6 1l6 0l7 0l6 0" stroke="#348ABD"/>
<path d="M429 662l6 2l6 2l7 1l6 0l6 1l7 0l6 36l6-35l7 0l6 2l6 1l7 0" stroke="#988ED5"/>
<path d="M530 673l7 1l6 1l6 1l7 2l6 1l6 65l7-63l6-1l6 1l7 2l6 1l6 1" stroke="#FFB5B8"/>
<path d="M543 681l6 1l7 0l6 0l6 1l7 1l6 49l6-47l7 2l6 0l6 1l7 1l6 1" stroke="#777777"/>
<path d="M226 641l6 3l6 50l7-47l6 3l6 0" stroke="#FBC15E"/>
<path d="M226 637l6 2l6 1l7 2l6 1l6 58l7-55l6 2l6 1" stroke="#FFB5B8"/>
<path d="M238 641l7 1l6 1l6 2l7 1l6 57l6-55l7 1l6 1" stroke="#348ABD"/>
<path d="M251 641l6 1l7 1l6 1l6 2l7 1l6 1l6 54l7-51l6 1l6 1" stroke="#777777"/>
</g></g>
<text x="34.4" y="213.6" font-size="6.40" text-anchor="end" fill="#555">5000</text>
<text x="34.4" y="193.5" font-size="6.40" text-anchor="end" fill="#555">5050</text>
<text x="34.4" y="173.5" font-size="6.40" text-anchor="end" fill="#555">5100</text>
<text x="34.4" y="153.4" font-size="6.40" text-anchor="end" fill="#555">5150</text>
<text x="34.4" y="133.3" font-size="6.40" text-anchor="end" fill="#555">5200</text>
<text x="34.4" y="113.3" font-size="6.40" text-anchor="end" fill="#555">5250</text>
<text x="34.4" y="93.2" font-size="6.40" text-anchor="end" fill="#555">5300</text>
<text x="34.4" y="73.1" font-size="6.40" text-anchor="end" fill="#555">5350</text>
<text x="162.3" y="49.6" font-size="9.00" text-anchor="middle" fill="#000" stroke="#000" stroke-width="0.2">Original</text>
<rect x="297.8" y="53.6" width="245.0" height="165.9" fill="#E5E5E5"/>
<clipPath id="cTR"><rect x="297.8" y="53.6" width="245.0" height="165.9"/></clipPath>
<path d="M314.3 53.6V219.5M344.9 53.6V219.5M375.5 53.6V219.5M406.1 53.6V219.5M436.8 53.6V219.5M467.4 53.6V219.5M498.0 53.6V219.5M528.6 53.6V219.5M297.8 210.5H542.8M297.8 190.4H542.8M297.8 170.4H542.8M297.8 150.3H542.8M297.8 130.2H542.8M297.8 110.2H542.8M297.8 90.1H542.8M297.8 70.0H542.8" stroke="#fff" stroke-width="0.8" fill="none"/>
<path d="M314.3 219.5v2.2M344.9 219.5v2.2M375.5 219.5v2.2M406.1 219.5v2.2M436.8 219.5v2.2M467.4 219.5v2.2M498.0 219.5v2.2M528.6 219.5v2.2M297.8 210.5h-2.2M297.8 190.4h-2.2M297.8 170.4h-2.2M297.8 150.3h-2.2M297.8 130.2h-2.2M297.8 110.2h-2.2M297.8 90.1h-2.2M297.8 70.0h-2.2" stroke="#555" stroke-width="0.6" fill="none"/>
<g clip-path="url(#cTR)"><g fill="none" stroke-width="5.00" stroke-linejoin="round" stroke-linecap="square" transform="scale(0.25)">
<path d="M1228 306l4-1l5 0l0 3l4 0l4 0l2-2l3 2l4 0l2 6l2-5l3 3l1 10l1 9l4-16l0-3l4 1l4 3l0-1l5-6l1 2l3-14l0-3l4-1l2 2l2 0l5 0l2 2l2 2l4 2l0-2l5 5l2 4l2 0l4 3l0 2l4 3l2 1l3 2l4 3l4-1l1 0l4-1l4 5l4 1l1 1l3-2l3-5l2-9l3-10l1-1l4 7l2 4l3 3l3 3l1 4l4 0l4 2l1 5l4 11l0 2l4-14l1-2l3-2l5-2l1 1l3-2l4 1l3 0l1 1l5-3l4-1l2 1l2 0l5-1l4-1l1 6l3-3l4-1l5 0l1 2l3-4l4 5l5-2l0-2l4 4l4-1l4 1l0-2l5-2l4-1l4 7l0-1l5-3l4-4l3 1l1 3l4-1l5 1l3 1l1 1l4-2l5-1l2 0l2 1l4 1l4-1l1-3l4-5l4-4l1-6l3 6l3 3l2 4l4 3l3 3l1-4l4-3l5 5l3 1l1-2l4 3l5 0l2 0l2 0l4 0l4 2l3 0l2-7l4-19l0 4l4-2l2-5l3-1l4-4l2-3l2-3l4-4l3-3l2 2l4 2l1 0l3 2l5 3l4 1l0-1l4 1l4 4l4 5l1-3l4-8l2-4l2 3l4 5l1 2l4-3l4 3l3 0l1-1l5 6l4 1l3 0l1 0l5 2l4 2l4 1l4 5l0-2l5 3l4 0l4 2l4-1l2 0l3 1l4 2l4 2l5 3l2 0l2 1l4 0l4 1l2 0l3 1l4-6l4-1l2-1l3-2l4-2l4-3l1 0l3 0l5-2l4-6l1 0l3 2l5-2l4 1l0-5l4 5l4-1l4 0l1 3l4-3l4-2l5 0l4-1l1-1l3 2l4 1l5 1l4 0l4 3l5-1l4 2l0 2l4-2l4-2l5 2l0 3l4 1l4 3l4 2l1 0l4 6l4-1l3 3l1 0l5 3l4 1l3 0l1-6l5-9l0 2l4-13l2-5l2 3l4-4l3-3l2 3l4 2l4 1l0 3l5 6l1 0l3-2l4 0l4-4l1-2l4 5l4 1l4 1l1 1l4 2l4 5l1-1l3-7l4-4l2 1l3-4l3-5l1 1l4 6l2-3l3 7l4 0l4 3l1 3l3-2l5 2l4 5l0-2l4 3l5 6l4 0l0-2l4 1l4 3l4 2l1-1l4 0l4-4l0 1l5-6l1-3l3 5l4 4l0-4l4 3l2 2l3-2l4 0l2-1l2 2l5-1l4 4l1-4l3 2l4 3l5-2l4 0" stroke="#E24A33"/>
<path d="M1228 378l4 0l5-4l0 7l4 3l3 3l1-3l5-3l4-6l2-1l2-3l4 4l0-1l5-4l4 7l1 2l3 0l5 1l1-1l3 2l4 3l2 0l2-4l5 4l2 10l2-3l4 1l5-2l2 1l2-3l4 1l4 1l2 2l3 1l4 1l4-1l1 1l4 1l4-3l4 0l1 1l3 1l5 0l4 1l0 4l4-5l5 0l3 2l1-2l4 2l4 1l4 6l1-2l4-1l4-2l3 0l2 0l4 6l4 4l3-4l1 0l5-1l4 2l2 0l2 3l5-2l4 1l1-2l3 0l4 2l5-1l1 1l3-1l4 0l5 3l0 1l4-5l4 3l4-2l0 1l5 2l4 2l4-1l0-1l5 0l4 3l3 0l1-1l4-3l5 6l3-3l1 0l4-1l5 2l2-1l2-3l4 2l4 0l1 0l4 3l4-2l4 2l5 1l4 0l4 0l4-1l5 1l3 2l1-4l4 1l5 0l4 1l4 2l4 2l3 0l2-4l4-3l0 2l4-11l5-8l0-4l4 14l2 7l2 4l1 3l3 4l5-3l4-3l1 6l3-4l5 4l4 1l4 0l4 3l5-4l4 0l2 3l2 0l5 2l4-2l4-3l4 5l5-2l4-1l3-2l1-1l5 3l4 1l4-2l4 1l5 1l4-3l3-2l1 2l4 2l5 0l4 4l4-1l5 1l4-5l4 2l0 1l4 2l5 5l4-4l4-3l5 4l3-1l1 0l4 6l1-3l3-7l5-7l4-6l1-2l3-7l3-10l2 4l4 16l0-3l4 3l4 4l5-2l4 2l2-2l2 3l5-3l4 3l1-1l3 3l4 1l5-2l4 2l4 3l5 3l4-2l0-1l4 3l4 0l5 3l4 1l2 0l2-1l5-1l4 3l4-2l4 0l5 1l4-1l3 2l1 1l5-1l3 1l1-2l4 0l4-8l5-1l1-1l3 2l4-2l5-2l4 1l3 1l1 4l4 1l5 0l4 1l4-3l5 1l2 1l2-1l4 3l4 1l5 0l4-2l4 0l2-1l3-1l4 4l4 0l4-1l5 2l4 0l4-3l2-1l3-1l4 2l4 1l4-2l5 2l4-1l4-1l3 2l2 1l4 0l4-2l4 0l5 1l4-1l4 4l5 0l4-2l4 2l4 1l5 0l4 0" stroke="#348ABD"/>
<path d="M1228 374l4-2l5-2l0 2l4-3l4 1l5 2l0-1l4 0l4-3l1 2l3-3l5 2l1 5l3-3l4-1l5 5l1-2l3 6l3-1l1-4l2-12l2 5l4 5l1-5l4-4l4 4l5-1l2 2l2 1l4-1l4-2l5 5l3-2l1 0l4 4l5-4l4-1l4 5l1-3l3-7l3-4l2-6l1-1l3 6l3 4l1 0l5 3l3 7l1 2l4-4l4 4l5 1l4 3l1-1l3-2l5-10l4-1l0-1l4 4l3 1l1 5l5 0l4 1l2 0l2 0l5 2l4 0l1 1l3-2l4 0l5 1l4-1l3-1l1-4l5 3l4-1l4-3l4 5l0 1l5-4l4-5l4-8l0 1l5-7l1 0l3 8l3 5l1-6l4 2l5 5l3-2l1 4l4-3l5 0l2 4l2 2l4-2l4 4l1-3l4-3l4-9l1-1l3 5l3 5l2-1l4 5l4 0l4 1l2-2l3 4l4-4l4 4l1 2l4-3l4 0l4 4l0 2l4-2l5-1l1-1l3-34l0 1l4 2l5 2l4-3l4-4l1 1l3-1l5-6l1 2l3 4l4-1l3 4l2 4l4 1l4 6l2 1l2-2l5-1l4 1l2-1l2-1l5-4l4 2l1 0l3-4l4 4l5-2l4 0l3 3l1 4l5-1l4 2l2 0l2 2l4-1l5 0l1 5l3-2l4 3l4 4l2 1l3-3l4 1l4 6l1-1l4 1l4 1l4 1l0 2l4-4l5 1l4-2l4-4l5-7l3-3l1 1l4 0l4-2l0-3l5-2l4-3l1 1l3 1l5 0l4 5l0-5l4 4l4 1l4-2l1 1l4 0l4 0l5 2l4-4l1-2l3 4l4-2l5 5l4 1l4-1l5 2l4 0l0 2l4 2l3 1l1 0l5 1l4 2l4-1l4 2l1 3l4-6l4 6l3 3l1-4l5 1l4 5l3 3l1-3l5-10l0 1l4-9l2-7l2-3l4 3l5-1l1 1l3-6l4-1l5 2l1 2l3 1l4 6l4-2l1 2l4 2l4 1l4 0l1-2l4 5l4 6l1 4l3-7l3-4l1-5l5-5l0 3l4 1l4-1l2 2l3 4l4 2l4 3l1 1l3 3l5 1l4 1l4 3l2 2l3-1l4-1l4 2l4 1l4 1l1-4l4 3l4-1l0-2l5-3l1-2l3 1l4 1l3 4l1 1l5 2l4 3l2-3l2 2l5 3l4-2l1 2l3-1l4-2l5 1l4-4" stroke="#988ED5"/>
<path d="M1228 400l6 8l6-12l7 9l6-9l6 10l6-10l6 7l6-8l6 8l6-9l7 9l6-8l6 5l6-6l6 9l6-9l6 9l6-10l6 8l7-14l6 11l6-10l6 16l6-9l6 13l6-8l6 9l7-12l6 12l6-9l6 9l6-6l6 14l6-12l6 9l7-12l6 7l6-4l6 4l6-9l6 12l6-8l6 7l7-7l6 11l6-10l6 11l6-13l6 10l6-11l6-15l6 10l7 9l6-4l6 9l6-5l6 7l6-8l6 8l6-13l7-44l6 21l6-21l6 34l6-40l6 46l6 14l6-5l7 9l6-11l6 4l6-6l6 13l6-3l6 12l6-7l7 13l6-12l6 11l6-8l6 6l6-9l6 10l6-9l6 12l7-5l6 10l6-11l6 13l6-9l6-142l6 97l6 30l7-23l6-10l6 16l6 20l6-7l6 8l6-9l6 14l7-10l6 14l6-8l6 15l6-9l6 13l6-7l6 12l7-16l6 12l6-9l6 9l6-7l6-224l6 148l6 57l6-3l7 11l6-6l6 15l6-6l6 11l6-13l6 10l6-9l7 15l6-7l6 7l6-11l6 10l6-12l6 10l6-7l7 9l6-11l6 9l6-9l6 5l6-6l6 10l6-7l6 9l7-11l6 9l6-8" stroke="#777777"/>
<path d="M1228 403l4 6l5 6l0-9l4 1l4 3l5 4l0 1l4-4l4 7l4-1l0-3l5 0l4-1l4 1l5-4l1 5l3 3l4-2l4-2l4 3l1 2l2 24l2-12l1-15l3-2l5 0l2 3l2 3l4 1l4-1l5-2l3 0l1 4l4-2l5 0l4 0l4 1l1 0l3-1l5 1l4 0l4 2l5-2l3 1l1 4l4-3l4 0l5-1l4 1l1 1l3 6l5 0l4 1l4-7l3 4l1-1l5-2l4 0l4 0l5 0l4-1l1 2l3-5l4 6l5 0l4 0l4 1l5-1l4-3l2 3l2 1l4-2l5 0l4-3l4 1l0-1l5-25l1-8l3 29l0 4l4-1l4 1l5 1l3 1l1-4l4 1l5-1l2 3l2 0l4-5l4-6l1 1l4 1l4-2l4 2l5 3l4 1l4 1l4-1l5 3l3 0l1-2l4 1l5 2l4 1l4-1l4 0l3-1l2-13l4-26l0-4l4 5l2 2l3 1l4 6l2 1l2 0l4 1l3 3l2 7l4-1l1-2l3 0l5 2l4-1l0 1l4-5l4-5l5-1l4-8l2-3l2 10l4 9l1 0l4 3l4 1l3 1l1-1l5 2l4 0l3 5l1-2l5 3l4-1l4-2l4 1l0 1l5 1l4-1l4 5l4-1l2 4l3 0l4-1l4 2l5-1l4-1l4 3l0-1l4 0l5 1l4-3l4-15l2-1l3-13l3-9l1-1l4 14l1 4l3 1l5 2l4 1l1-1l3-8l5-10l4-9l0-3l4 16l2 8l2 1l5 2l4 2l2 0l2-1l5 5l4-2l1 3l3-2l4 1l5-1l4 1l4 1l5-2l4 1l0-6l4 3l4 2l5 0l4 1l4 3l5-3l4-3l4 3l4-2l5 2l4-2l4-1l5-1l4 0l4 2l4-2l5 2l4-1l4-1l5 2l4 2l4-3l4 2l5 1l4 0l4-3l5 1l4 4l4-5l4-3l5-1l4 4l4 0l5-1l4 0l4 1l4 2l5-2l4-1l4 4l5-1l4-2l4 0l4-1l5 0l4 0l4 1l5 3l4-3l4-2l4-2l5 3l4 1l4-2l5-1l4 2l4 0l4 2l5-1l4 2" stroke="#FBC15E"/>
<path d="M1231 513l5 6l1 5l3 1l4 2l4 3l2-1l3 30l0 3l3-38l1-1l4-2l0 7l2 57l3-31l1-23l3 1l2 6l2 35l1 7l3-40l1-7l4-18l1-6l3 4l1 1l3 8l2 10l3 16l2 16l2-10l2-18l2 1l4 4l1-4l4-1l4 3l1 3l3 0l4 2l2-1l3 2l4 4l2 1l2 6l5-1l4 3l2 0l2-3l4-1l3-3l2 1l4-1l3-5l1 0l5 4l0-3l4 3l4 2l2 3l2 5l5-1l2 0l2 3l4 3l3 2l2 9l3 20l1-5l4-25l0 3l4-1l5-1l0-1l4 6l4-1l1 0l4 2l4 2l1 5l3 5l4-5l3-3l2 0l4 4l4 1l2 0l3 5l4 2l2 1l2-3l4 5l0-3l5-9l2-1l2-13l4-7l3-9l2-4l3-1l1 4l4 4l2 4l2 8l5 10l0-1l4-5l2 1l2 0l5 1l2 1l2 1l4 2l2 6l2-3l5 2l2 2l2-9l4-21l0-1l5 3l1 3l3 7l4 11l0-3l4 1l2 0l3 2l4 8l2 1l2 4l5 1l2 2l2 1l4 4l4 4l0-1l5 3l1-3l3-68l0 4l4 4l2 4l3 2l3 7l1-2l4-30l1-7l3-2l3-2l2-1l4 3l4 2l0-2l5 5l4 10l0-2l4 13l4 17l1 7l4 15l1 8l3-31l2-15l2-4l4-8l1 5l4 0l4 2l0-3l4 6l5 13l4-2l0 3l4 1l5 5l3 1l1 0l4 4l4 5l3-1l2 1l4 5l4 2l3 3l2-2l4 5l4 4l2 1l2 5l5 4l4 1l1 0l3 0l5 4l4 7l1-2l3 1l4 3l2 2l3-4l3-12l1-1l4-19l1-1l4-8l2-2l2-4l4-3l4-1l0 5l5 1l4 0l0-3l4-5l2-1l3 1l3 1l1 1l4 6l4 11l1 1l4 8l4 5l1-1l3-2l5-6l4-6l4-2l4-3l5 6l4 9l0-1l4 3l5 4l1 1l3 4l4 4l2-1l2 6l5 5l2 4l2 4l4 6l3 5l2 0l4 5l4 4l0-3l4 3l5 0l0 1l4-19l4-17l4-19l1-5l4 4l2 2l2 4l4 3l3 6l2 2l4 2l3 2l1 3l5 3l3 3l1-1l4 1l4 0l4-3l1 2l4-2l4-1l3-1l2-3l4-1l4-3l3 1l1 1l5 2l4 6l4 3l4 4l5-2l4 4l4 0l5 0l1 1l3 3l4-2l4 0l5 1l4 1l4 0l0 2l5-1l4 4l4-2l4 3l5-1l3-2l1 1l4 1l5-1l4 1l4 1l4 0l3-3" stroke="#8EBA42"/>
<path d="M1392 617l6 1l6-1l6 1l6 0l7 0l6 0l6 0l6 0l6 0l6 1l6 0l6-1l7 0l6 1l6 0l6 0l6 1l6 0l6-1l6 0l7 0l6 1l6-1l6 0l6 1l6-1l6 1l6 0l6 0l7 0l6 0l6 0l6 0l6 0l6 0l6 0l6 0l7 0l6 0l6 1l6-1l6 2l6 0l6-13l6 13l7 0l6 0l6 0l6 0l6 1l6 0l6 1l6 0l7 0l6 1l6 0l6 0l6 1l6 1l6 0l6 0l6 1l7 0l6 1l6-1l6 1l6 0l6 1l6 1l6-1l7 1l6 0l6 1l6-1l6 1l6 1l6 0l6 0l7 1l6 0l6 0l6 1l6 1l6 0l6 0l6 1l7 0l6 0l6 1l6 1l6 0l6 0l6 1l6 0l6 1l7 0l6 0l6 0l6 1l6 0l6 1l6 0l6 0l7 0l6 0l6 1l6 1l6 0l6 0l6 1l6 1l7 0l6 0l6 0l6 1l6 0l6 1l6-1l6 1l7 1" stroke="#8EBA42"/>
<path d="M1236 646l7 0l6 0l6 0l6 0l6 0l6 0l6 0l6 0l7 0l6 0l6 1l6 0l6 0l6 0l6 0l6 0l7 0l6 0l6 0l6 0l6 0l6 0l6 0l6 0l7 0l6 1l6 0l6 0l6 0l6 0l6 0l6 0l6 0l7 0l6 0l6 0l6 0l6 0l6 1l6-1l6 1l7 0l6 0l6 0l6 0l6 0l6 0l6 0l6 0l7 0l6 0l6 0l6 0l6 0l6 0l6 1l6 0l7 0l6 0l6 0l6 0l6 0l6 0l6 0l6 0l6 0l7 0l6 0l6 0l6 0l6-1l6 1l6 0l6 0l7 1l6-1l6 0l6 0l6 1l6-1l6 1l6 0l7 0l6 0l6 0l6 0l6 0l6 0l6 0l6 0l7 0l6 0l6 0l6 0l6 0l6 0l6 1l6-1l6 0l7 1l6 0l6 0l6 0l6 0l6 0l6 0l6 0l7 0l6 1l6 0l6 0l6 0l6 0l6-1l6 1l7 0l6-1l6 0l6 1l6 0l6 0l6 0l6 0l7 0l6 0l6 0l6 0l6 0l6 0l6 0l6 1l6 0l7 0l6 0l6 0l6 0l6 0l6 0l6 0l6 0l7 0l6 0l6 0l6 0l6 1" stroke="#988ED5"/>
<path d="M1236 583l7 3l6 1l6-1l6 2l6 1l6 1l6 2l6 0l7 2l6 3l6 1l6 0l6 1l6 3l6 1l6 0l7 2l6 1l6 0l6 3l6 0l6 2l6 0l6 1l7 2l6 1l6 0l6 0l6 1l6 2l6 1l6 0l6 0l7 0l6-3l6 1l6 2l6 0l6 0l6 2l6 4l7 0l6 1l6-2l6 4l6-2l6 2l6 0l6 1l7 1l6-1l6 2l6-1l6 2l6 2l6 1l6 2l7 0l6-1l6 3l6 2l6 0l6-2l6 0l6-1l6 0l7 3l6 1l6 5l6 1l6-1l6 3l6 2l6 1l7-1l6-2l6-3l6-1l6 4l6 4l6 0l6-2l7 3l6 1l6 0l6 0l6 0l6 0l6-1l6 1l7 0l6-2l6 3l6 2l6 0l6-2l6 2l6-1l6 2l7 0l6 2l6 0l6 0l6 1l6-1l6 0l6 2l7 0l6 4l6-1l6-3l6 1l6 1l6 2l6 0l7 2l6 0l6 1l6 2l6 0l6 1l6 3l6-3l7 0l6 4l6-2l6 1l6 0l6 0l6 2l6 5l6-1l7-1l6-1l6 1l6 1l6 0l6 1l6 1l6 0l7 1l6-2l6 2l6 1l6 1" stroke="#FFB5B8"/>
<path d="M1236 589l7 0l6-1l6 1l6 3l6 0l6 4l6 1l6 1l7 1l6 3l6 3l6-2l6 2l6 4l6 2l6 0l7-1l6 2l6-1l6 1l6 1l6 0l6 2l6 0l7 2l6 1l6 0l6 2l6 0l6 1l6 1l6 1l6-2l7 1l6 1l6-2l6 6l6 1l6 4l6-1l6-1l7-1l6 0l6 2l6-2l6 1l6 1l6 3l6-1l7 2l6 1l6 0l6 0l6 2l6-1l6 2l6 2l7 0l6 0l6 0l6 2l6 0l6 2l6 2l6-1l6 2l7 0l6-1l6 1l6-3l6 4l6 1l6 1l6-1l7 1l6 3l6-2l6 2l6 1l6-1l6 2l6 1l7-1l6 1l6 0l6 2l6 0l6 2l6 2l6-3l7 0l6 0l6 2l6 1l6 0l6 3l6-1l6 1l6 1l7 2l6-2l6-1l6 1l6 2l6 1l6-2l6 1l7 1l6 0l6 2l6-1l6 3l6 0l6 0l6 3l7-1l6 0l6 0l6 2l6-1l6-1l6 1l6-2l7 1l6 0l6 0l6 3l6 2l6 0l6 0l6-1l6 0l7 1l6 1l6 2l6 1l6 2l6-1l6 1l6 2l7 0l6 1l6 1l6 3l6-1" stroke="#FFB5B8"/>
<path d="M1236 597l7 0l6 4l6-4l6 1l6 2l6 3l6 0l6 1l7 1l6 1l6-1l6 2l6 3l6-1l6 1l6 2l7-2l6 2l6 3l6 0l6 2l6 0l6 1l6 2l7 1l6 0l6 0l6 0l6-1l6 1l6 1l6 1l6 2l7-1l6 4l6-1l6-3l6 4l6-1l6 4l6 0l7-2l6-1l6 3l6 3l6 3l6-1l6 1l6 0l7 0l6 0l6 0l6 1l6 3l6-1l6 5l6-2l7 1l6 1l6 1l6 1l6 0l6 1l6 2l6-2l6 2l7-2l6 2l6 1l6 0l6 0l6 2l6 1l6-1l7 2l6 2l6 0l6 2l6 3l6 1l6-1l6-2l7 0l6 0l6 2l6-1l6-1l6 2l6-1l6 2l7 0l6 0l6 3l6-2l6 3l6 0l6 1l6 0l6 0l7 0l6-1l6 1l6 2l6 4l6 0l6 1l6 1l7 0l6-1l6-1l6-2l6 0l6 3l6 0l6 3l7-1l6 0l6 2l6 1l6 1l6 1l6-2l6-3l7 1l6 0l6 2l6 2l6-2l6 2l6 1l6 2l6 0l7 1l6 0l6 3l6 0l6-1l6 2l6 2l6-2l7 0l6 0l6 4l6 0l6 2" stroke="#FFB5B8"/>
<path d="M1236 602l7-1l6 4l6 2l6 1l6 0l6 3l6-3l6 0l7 2l6 2l6-2l6-1l6 3l6 2l6 0l6 3l7 2l6 0l6 2l6 2l6 2l6 1l6-1l6 1l7 2l6 1l6-3l6 1l6 1l6 0l6 0l6 1l6 3l7 0l6 0l6 0l6 2l6-1l6 2l6 3l6-2l7 1l6 0l6 1l6-1l6 0l6 0l6 0l6 4l7 3l6 0l6 2l6-1l6 1l6 2l6 2l6 1l7 1l6 0l6-2l6-1l6 2l6 2l6-2l6 0l6 1l7 4l6 2l6 0l6 1l6-3l6 1l6 1l6 2l7 2l6 1l6 0l6 1l6-1l6 0l6-1l6 3l7 0l6 0l6-2l6 2l6 0l6 2l6 0l6 0l7 2l6 1l6 1l6-1l6 2l6-1l6 1l6-2l6 0l7 2l6 2l6-3l6 1l6 1l6 2l6 1l6 0l7 0l6 3l6-2l6 1l6 3l6-1l6 1l6 0l7 1l6 1l6 3l6-1l6 3l6-1l6 4l6-1l7-1l6-1l6-1l6 2l6-1l6-2l6 4l6 2l6 1l7 0l6 0l6 4l6-1l6 0l6 2l6-2l6 1l7-1l6 0l6 1l6-1l6 0" stroke="#FFB5B8"/>
<path d="M1236 622l7-1l6-1l6 4l6-1l6 1l6 5l6 0l6-6l7 1l6 0l6 4l6-1l6-4l6 1l6 2l6-4l7 3l6 1l6-3l6 7l6-4l6 4l6 0l6 0l7-2l6 0l6 0l6 0l6-3l6-1l6 2l6 1l6 3l7 3l6-3l6 1l6-1l6 7l6-9l6 8l6 0l7-2l6 6l6 0l6 4l6 1l6 1l6-3l6-2l7 2l6-3l6 0l6 4l6 2l6 1l6 2l6-4l7 2l6 3l6 1l6-1l6 2l6 0l6 1l6-2l6 0l7 7l6-1l6-1l6 3l6-2l6 1l6 0l6 2l7 1l6 0l6 5l6 1l6 1l6-5l6 2l6 1l7 1l6 3l6 2l6-3l6 3l6-4l6 3l6 2l7 2l6 1l6 0l6-3l6-2l6 8l6 0l6-1l6 4l7 2l6 0l6 6l6-6l6 1l6 1l6 0l6 0l7-4l6 4l6 0l6 4l6 0l6 2l6 1l6 3l7 2l6-1l6 0l6 1l6 5l6 0l6 8l6-5l7 2l6 1l6-1l6 5l6 0l6 4l6 0l6 4l6 1l7-2l6 6l6 4l6 1l6 1l6-5l6 8l6 8l7 0l6 4l6 0l6 0l6 4" stroke="#E24A33"/>
<path d="M1236 663l7 3l6 1l6-2l6 6l6-2l6-5l6 3l6 1l7 0l6 4l6-4l6 0l6 1l6-1l6 0l6 7l7-4l6 2l6-1l6 2l6 1l6-4l6 1l6 2l7 0l6 0l6 0l6 6l6-2l6-2l6-2l6-2l6 5l7-6l6 4l6 0l6 2l6 2l6-5l6 3l6 1l7-3l6-2l6 8l6-1l6 0l6-5l6-3l6 6l7 1l6-1l6-1l6 4l6-2l6 4l6 6l6-1l7-4l6-3l6 8l6 1l6-4l6 7l6-7l6-3l6 9l7-6l6 0l6-3l6 2l6 2l6 0l6-2l6 3l7 2l6 6l6-2l6 1l6-2l6 5l6 3l6 3l7-1l6 3l6 4l6-4l6 0l6 7l6 4l6-2l7 5l6-6l6 7l6 0l6 7l6 1l6-2l6 3l6 4l7-4l6 4l6 5l6 4l6 1l6-2l6 6l6 1l7 4l6-2l6 4l6 0l6 2l6 5l6 0l6 0l7 7l6-1l6-6l6 9l6 2l6 7l6-1l6 4l7-1l6 3l6 5l6-2l6 3l6 5l6 0l6 4l6 0l7 2l6 3l6 0l6 6l6-2l6 8l6-5l6 4l7 3l6 4l6 0l6 3l6 2" stroke="#348ABD"/>
<path d="M1236 666l7 1l6-2l6 6l6 0l6 0l6-1l6-2l6 3l7 1l6-2l6 6l6 0l6 0l6-1l6-1l6 2l7-4l6 4l6 1l6-3l6 0l6 3l6 0l6-1l7 2l6-1l6 4l6-1l6 4l6 0l6 1l6-6l6 3l7-1l6 3l6 0l6 0l6 2l6-3l6 5l6-3l7-6l6 7l6 0l6 5l6-2l6 4l6-5l6 2l7 4l6 0l6 2l6-3l6-3l6 2l6 3l6 1l7-2l6 6l6-5l6-1l6 7l6-7l6 6l6-2l6-3l7 6l6 3l6-1l6 0l6-2l6 1l6 0l6 1l7 1l6 3l6 0l6 1l6 5l6-5l6 8l6-2l7 5l6-1l6 1l6 1l6 0l6 7l6-6l6 5l7 6l6 4l6-6l6 1l6 5l6 1l6 0l6 5l6 3l7 2l6-1l6 3l6 6l6-3l6 7l6 1l6-4l7 3l6 2l6 2l6 0l6 3l6 7l6-2l6 9l7 2l6-8l6 1l6 5l6 2l6 1l6 0l6 6l7 3l6 1l6 0l6 1l6 3l6 0l6 5l6 1l6 3l7 3l6-3l6 4l6 4l6 0l6 4l6-2l6 1l7 0l6 7l6 1l6-3l6 5" stroke="#988ED5"/>
<path d="M1236 651l7-2l6-2l6 3l6-1l6 6l6-7l6 4l6-1l7 1l6 1l6 1l6 1l6 5l6-1l6-4l6 5l7 2l6-7l6 1l6-1l6 6l6-2l6 3l6-3l7 8l6-3l6 8l6-6l6 2l6-5l6 9l6-9l6 10l7-9l6 12l6-5l6 2l6-4l6 10l6-7l6 9l7-10l6 7l6-4l6 7l6-6l6 5l6-3l6 7l7-10l6 14l6-10l6 8l6-6l6 9l6-11l6 10l7-6l6 9l6-10l6 7l6-7l6 9l6-10l6 17l6-7l7 13l6-15l6 15l6-12l6 6l6-4l6 9l6-9l7 8l6-2l6 7l6-9l6 12l6-7l6 8l6-5l7 11l6-5l6 8l6-5l6 8l6-6l6 9l6-3l7 9l6-7l6 10l6-9l6 12l6-8l6 8l6-5l6 16l7-5l6 7l6-6l6 9l6-6l6 8l6-8l6 16l7-8l6 11l6-4l6 7l6-6l6 9l6-12l6 12l7-6l6 15l6-4l6 5l6-4l6 10l6-6l6 10l7-13l6 16l6-6l6 10l6-7l6 14l6-5l6 9l6-9l7 12l6-6l6 10l6-8l6 10l6-4l6 9l6-9l7 11l6-4l6 9l6-8l6 8" stroke="#777777"/>
<path d="M1236 637l7 5l6-1l6-2l6-3l6 3l6 1l6 0l6 0l7 2l6-1l6-1l6-1l6 1l6 2l6 0l6 1l7-5l6-2l6 2l6-2l6 4l6 1l6 3l6-2l7 1l6-1l6-1l6 1l6 3l6-2l6 0l6-1l6-1l7 2l6 1l6-5l6 1l6 3l6 3l6 0l6-1l7-2l6-4l6 6l6 1l6 2l6 0l6 1l6 2l7-4l6 1l6-2l6 4l6 0l6-1l6 6l6 1l7-4l6 0l6 5l6 0l6 0l6 0l6-5l6 4l6-5l7 4l6 3l6-4l6 0l6 0l6-2l6 2l6 1l7 8l6 1l6-2l6 0l6 0l6 3l6-2l6-3l7 4l6 1l6 1l6 0l6 2l6 4l6-1l6 1l7 5l6-3l6 1l6 0l6 2l6-1l6 0l6 4l6-1l7-1l6 1l6 4l6 2l6-1l6 3l6-7l6 6l7 3l6-3l6 3l6 6l6-3l6 2l6 0l6 3l7 0l6-1l6 0l6 3l6 1l6 1l6-1l6 1l7 3l6-2l6 3l6-1l6 3l6-1l6 2l6 1l6-1l7 1l6 2l6 1l6 5l6-1l6 6l6 3l6-3l7-1l6-3l6 2l6 0l6 5" stroke="#FBC15E"/>
<path d="M1236 671l7 2l6-3l6 1l6 1l6-2l6 2l6-3l6-2l7 2l6 4l6 4l6-8l6 2l6 5l6-4l6 6l7-1l6-1l6 1l6 2l6-8l6 5l6 0l6 1l7 4l6-1l6-1l6-3l6 3l6-1l6 2l6-1l6 7l7-5l6 1l6 1l6 6l6-2l6-3l6-8l6 11l7-5l6 7l6-10l6 15l6-14l6 15l6-16l6 14l7-17l6 16l6-12l6 16l6-15l6 18l6-19l6 17l7-16l6 19l6-16l6 15l6-12l6 16l6-12l6 8l6-14l7 17l6-12l6 16l6-10l6 15l6-15l6 12l6-11l7 12l6-13l6 16l6-7l6 13l6-13l6 18l6-9l7 6l6-11l6 18l6-16l6 15l6-10l6 17l6-14l7 14l6-9l6 17l6-14l6 24l6-17l6 15l6-13l6 16l7-14l6 16l6-12l6 16l6-13l6 17l6-15l6 21l7-15l6 14l6-8l6 15l6-17l6 18l6-10l6 21l7-19l6 14l6-14l6 11l6-8l6 16l6-11l6 15l7-13l6 13l6-13l6 18l6-12l6 11l6-9l6 13l6-16l7 16l6-11l6 13l6-11l6 16l6-12l6 12l6-12l7 13l6-9l6 16l6-12l6 13" stroke="#8EBA42"/>
<path d="M1236 616l7-2l6 6l6 2l6-1l6-4l6-2l6 0l6 1l7 4l6-4l6 2l6 0l6 0l6 1l6 1l6 0l7 3l6-4l6 1l6-3l6 7l6-6l6 2l6 1l7 2l6 1l6 2l6-5l6 1l6-2l6 0l6 3l6 1l7 0l6-3l6 2l6 2l6-1l6 3l6-4l6 7l7-2l6-1l6 7l6-2l6 1l6 0l6 6l6-2l7 4l6 0l6-4l6 4l6 7l6 0l6 0l6-4l7 3l6 4l6-5l6 2l6 1l6 3l6-3l6 3l6 6l7 1l6 0l6-1l6-2l6 4l6 1l6-6l6 4l7 4l6 0l6 4l6-3l6-1l6 4l6-2l6 3l7 0l6 3l6 2l6 3l6-3l6 1l6 1l6 3l7 1l6 0l6-2l6 0l6 3l6 0l6-4l6 4l6-3l7 4l6-1l6 5l6-2l6 6l6-1l6 1l6 5l7 1l6-5l6 0l6-1l6 3l6 9l6-5l6 2l7 0l6 1l6 1l6 2l6-5l6 1l6 4l6 1l7-3l6 2l6 1l6 4l6 0l6 3l6 3l6-6l6 2l7 2l6 2l6-3l6-4l6 3l6 1l6 6l6-1l7 0l6-3l6 4l6 4l6-1" stroke="#FFB5B8"/>
<path d="M1236 632l7 4l6 3l6-6l6 1l6 0l6 2l6-3l6 6l7-4l6 5l6 1l6 2l6-2l6 1l6-1l6 2l7 3l6-3l6-3l6 1l6 3l6 0l6 6l6-2l7-3l6 1l6 4l6-3l6 2l6-1l6 5l6 0l6-2l7 0l6 0l6 1l6 2l6-1l6-1l6 6l6 0l7 0l6-1l6-2l6 6l6-2l6 5l6-1l6 0l7 0l6 1l6 1l6 0l6 0l6 5l6 0l6-1l7-3l6-1l6-5l6 6l6 4l6 0l6-1l6 1l6 4l7-1l6 0l6 4l6 1l6-5l6 7l6-3l6 1l7-3l6 2l6 5l6-3l6 5l6-4l6 0l6 5l7 1l6 2l6 4l6-2l6 1l6 1l6 0l6 0l7 2l6 4l6 2l6 1l6 2l6 2l6-4l6 3l6-1l7 7l6 1l6 2l6 2l6 1l6 1l6 1l6-3l7 2l6 5l6 2l6-2l6 1l6 4l6-1l6 6l7 1l6-4l6 10l6-1l6-3l6 4l6 3l6 3l7 5l6 0l6-2l6 3l6 0l6 2l6 0l6 7l6-1l7 2l6 1l6 3l6 6l6-4l6-1l6-2l6 4l7 1l6 4l6 5l6 0l6 6" stroke="#E24A33"/>
<path d="M1236 624l7-2l6 3l6 1l6-4l6 1l6 5l6-5l6 2l7-2l6 1l6 4l6 1l6 3l6 1l6 0l6-1l7-3l6 6l6-2l6 2l6 1l6-2l6 3l6-2l7 4l6 3l6-3l6 5l6 2l6-2l6 0l6 1l6 5l7 0l6-4l6 0l6 4l6-2l6 1l6-2l6 5l7-3l6 3l6-2l6 1l6 6l6 0l6-2l6 2l7 1l6 7l6-10l6 9l6-6l6 14l6-16l6 17l7-15l6 12l6-11l6 21l6-20l6 12l6-13l6 15l6-6l7 8l6-12l6 13l6-10l6 15l6-12l6 10l6-11l7 17l6-9l6 11l6-12l6 14l6-14l6 15l6-10l7 15l6-12l6 13l6-12l6 16l6-9l6 11l6-13l7 19l6-14l6 16l6-7l6 11l6-16l6 18l6-11l6 10l7-7l6 15l6-13l6 12l6-13l6 18l6-12l6 14l7-11l6 16l6-11l6 11l6-11l6 8l6-9l6 19l7-12l6 14l6-12l6 15l6-12l6 17l6-14l6 11l7-6l6 16l6-13l6 13l6-11l6 14l6-9l6 17l6-14l7 15l6-14l6 15l6-4l6 11l6-9l6 20l6-16l7 15l6-11l6 17l6-11l6 14" stroke="#348ABD"/>
<path d="M1236 647l7-2l6 1l6-1l6 5l6 0l6-2l6-1l6 1l7 0l6 3l6-1l6-2l6 5l6 0l6-2l6-5l7 1l6-1l6 0l6 4l6 1l6 3l6-4l6 0l7 0l6 0l6 1l6 1l6 1l6-2l6 4l6 2l6-1l7-3l6 1l6 2l6-2l6 1l6 6l6 0l6 2l7-3l6-1l6-2l6-4l6 5l6 1l6 1l6 7l7-3l6-1l6-2l6 2l6 2l6-4l6 1l6 2l7 1l6-1l6-3l6-2l6 7l6-4l6 1l6 0l6-1l7 5l6-3l6 5l6-1l6 1l6-5l6-2l6 2l7 2l6 4l6-4l6 1l6 1l6 4l6 2l6 1l7-3l6 5l6-1l6-3l6 1l6-1l6 4l6 1l7-1l6 2l6 1l6 3l6 4l6-6l6 4l6 2l6-3l7 4l6 3l6-1l6-1l6-1l6 0l6-1l6 3l7 0l6 1l6 3l6-2l6 0l6-3l6 2l6 5l7-2l6 3l6-4l6 8l6 0l6 1l6-2l6 1l7 4l6 3l6-4l6-4l6 0l6 5l6 0l6 3l6 3l7-5l6 1l6 3l6 1l6-2l6 2l6 2l6 0l7 1l6 2l6 2l6-3l6 3" stroke="#988ED5"/>
<path d="M1236 659l7 0l6 0l6 2l6-1l6 3l6 0l6 4l6-2l7 1l6 3l6-1l6-1l6 2l6-3l6 3l6-2l7 0l6 4l6-3l6 6l6-3l6 1l6-1l6 6l7 1l6 0l6-2l6 0l6 0l6 2l6 2l6 2l6-1l7-2l6-2l6 4l6-2l6 5l6-3l6 4l6-2l7 3l6 1l6 0l6-4l6 4l6-2l6 1l6 1l7 0l6 0l6 5l6-2l6 0l6 2l6-1l6 3l7-3l6 3l6 1l6-2l6-1l6 4l6 1l6-3l6 9l7-7l6-2l6 6l6-3l6 1l6 0l6 8l6-2l7 1l6 2l6 1l6 2l6 8l6-3l6 1l6 0l7 3l6 0l6 1l6-2l6 7l6-3l6 5l6 4l7 4l6-3l6 6l6-3l6 2l6 4l6 2l6-1l6 2l7 1l6 3l6 3l6 0l6 5l6-2l6 2l6 5l7 3l6 0l6 5l6-5l6 0l6 7l6 1l6-3l7 3l6 6l6 6l6 2l6-5l6 2l6 5l6-1l7 3l6 3l6 2l6 2l6-4l6 7l6 2l6-2l6 0l7 7l6-4l6 3l6 8l6-4l6 8l6-2l6 6l7 4l6-4l6 2l6 2l6 2" stroke="#777777"/>
<path d="M1236 658l7 4l6-1l6 2l6-5l6 4l6 1l6-1l6-2l7 1l6 1l6-4l6 4l6 1l6-5l6 7l6-2l7 1l6 5l6 0l6-3l6 5l6-2l6-2l6 2l7 0l6 2l6 1l6 0l6 0l6-2l6 1l6-4l6 3l7 1l6-4l6 5l6 4l6-1l6 3l6-3l6-2l7 0l6 6l6-3l6 4l6-8l6 11l6-8l6 8l7-10l6 12l6-11l6 15l6-12l6 9l6-9l6 13l7-12l6 11l6-16l6 18l6-11l6 7l6-7l6 12l6-7l7 8l6-13l6 12l6-8l6 11l6-10l6 10l6-9l7 12l6-6l6 12l6-4l6 8l6-14l6 15l6-16l7 19l6-10l6 15l6-11l6 13l6-8l6 13l6-18l7 16l6-12l6 18l6-11l6 11l6-9l6 14l6-11l6 13l7-13l6 12l6-5l6 17l6-14l6 12l6-13l6 12l7-7l6 8l6-8l6 19l6-15l6 13l6-10l6 18l7-13l6 12l6-10l6 10l6-12l6 12l6-10l6 16l7-14l6 15l6-11l6 15l6-7l6 17l6-16l6 13l6-12l7 11l6-6l6 15l6-15l6 11l6-9l6 13l6-7l7 10l6-10l6 10l6-13l6 16" stroke="#FBC15E"/>
<path d="M1236 621l7-4l6-1l6-2l6 8l6 0l6 5l6-1l6 3l7-6l6 0l6 5l6-2l6-1l6-2l6 2l6 3l7 2l6-1l6 1l6 3l6 3l6-5l6 4l6 0l7-2l6 2l6-2l6 5l6-2l6 5l6 2l6 0l6-2l7 1l6 3l6-5l6 4l6 0l6 0l6 2l6-1l7 0l6 2l6-2l6 4l6 3l6-2l6 3l6-2l7 2l6 1l6-1l6 0l6 9l6-3l6-1l6-1l7 3l6 3l6-2l6-2l6 7l6 1l6-1l6 5l6-3l7-4l6 4l6-1l6 3l6-2l6-1l6-1l6 3l7 0l6 2l6 3l6-3l6 5l6 0l6-4l6 3l7 5l6 0l6 3l6 0l6 4l6-2l6 4l6-3l7 0l6 0l6-3l6 9l6 2l6 1l6 0l6-3l6 3l7 2l6 3l6 0l6 0l6 0l6 4l6-2l6-1l7 1l6 4l6-3l6 0l6 2l6 5l6 2l6-2l7 2l6 3l6-5l6 0l6 1l6-1l6 1l6 6l7-3l6 2l6 1l6-2l6 3l6-2l6 4l6 3l6 2l7 0l6 4l6-2l6 1l6 1l6 5l6 2l6-5l7 3l6-5l6 5l6-1l6 5" stroke="#8EBA42"/>
<path d="M1236 622l7-2l6 0l6-2l6-3l6 5l6-2l6-1l6 6l7-4l6-1l6 3l6-2l6 4l6-1l6 2l6 4l7-1l6 1l6 2l6 3l6 0l6 1l6-5l6 7l7-3l6 2l6 2l6-4l6 3l6-3l6 2l6 0l6 2l7-1l6-1l6 4l6 1l6-3l6 5l6-4l6 6l7 2l6 4l6 0l6 3l6-1l6-3l6 2l6 2l7 3l6 0l6 3l6 1l6-7l6 3l6 4l6-2l7-2l6 6l6 1l6 3l6 3l6-6l6-6l6 9l6 6l7-6l6 0l6 2l6-1l6 5l6 0l6 0l6 4l7 0l6 2l6 0l6 2l6 7l6-2l6 4l6 1l7 3l6-4l6 3l6 2l6-3l6 2l6 4l6 6l7-3l6 2l6 2l6-1l6 4l6 1l6-1l6 1l6 5l7-3l6 1l6 0l6 6l6 2l6 0l6 2l6 3l7 2l6 3l6 2l6 2l6 0l6 2l6 4l6-2l7-4l6 0l6 9l6 0l6-4l6 1l6 1l6 1l7 0l6 3l6-4l6 4l6 0l6-4l6 0l6 3l6 1l7 2l6 0l6 0l6-4l6 3l6-1l6 0l6 0l7 2l6-2l6 1l6 0l6 2" stroke="#FFB5B8"/>
<path d="M1236 630l7-2l6 1l6 0l6 0l6 8l6-4l6 2l6-3l7 0l6 1l6 3l6-6l6 6l6 4l6-3l6 5l7-6l6 1l6 0l6 1l6 2l6 6l6 0l6-3l7 2l6-1l6 3l6 2l6-2l6-1l6 2l6 3l6 3l7-8l6 6l6 2l6 0l6-4l6 4l6-2l6 0l7 4l6-2l6 4l6-2l6-2l6 2l6 3l6 0l7-1l6-1l6 7l6 1l6-5l6 0l6 0l6 0l7 1l6 2l6-1l6-1l6 1l6 1l6 3l6-1l6 3l7 0l6-2l6 0l6-2l6 0l6 2l6 2l6 1l7 2l6-4l6 3l6 4l6 2l6-3l6 4l6 0l7 0l6-1l6 5l6-1l6 1l6 0l6-1l6 4l7 2l6-1l6 6l6-2l6 4l6 2l6 2l6 1l6-4l7-1l6 2l6-1l6 3l6 3l6 3l6-3l6-1l7 0l6 5l6 2l6 3l6-4l6 0l6 2l6 2l7 2l6 1l6-2l6 4l6-1l6 1l6 5l6 3l7 0l6-1l6 3l6-3l6-1l6 2l6 7l6 4l6-6l7-2l6 4l6 0l6 3l6 2l6-2l6 4l6-2l7-1l6 4l6-2l6 7l6-2" stroke="#E24A33"/>
<path d="M1236 623l7 3l6-4l6 2l6-1l6 2l6 4l6 4l6-8l7 1l6 5l6-1l6-3l6 6l6-8l6 5l6 1l7-3l6 2l6 4l6-3l6 0l6-1l6 5l6 2l7-3l6 2l6 5l6-2l6-3l6 2l6-3l6 3l6 1l7 4l6-1l6-1l6-2l6 1l6-2l6 8l6-3l7 0l6 2l6-1l6 2l6-3l6 2l6-1l6 3l7-4l6 1l6-2l6 4l6 2l6 0l6 2l6 2l7-2l6 0l6 2l6 0l6 2l6-2l6 4l6-6l6 2l7-1l6 5l6-2l6 1l6-2l6 0l6 7l6-5l7 7l6-5l6 3l6 5l6-3l6 2l6 4l6 1l7-1l6 4l6 1l6-5l6 6l6-1l6 1l6 0l7 1l6 10l6-1l6-4l6 5l6-4l6 4l6 5l6-1l7-3l6 6l6 0l6 5l6 2l6-1l6 1l6 1l7 2l6-4l6 9l6 5l6-3l6 1l6 5l6-6l7 4l6 3l6-3l6-2l6-4l6 8l6 2l6-2l7 0l6-1l6 1l6 3l6-2l6-4l6-1l6 3l6-2l7-1l6 2l6 0l6-1l6-7l6 4l6 4l6-1l7 0l6-4l6 7l6-1l6-5" stroke="#348ABD"/>
<path d="M1236 635l7-2l6 3l6 1l6-2l6 3l6-2l6-4l6 5l7-1l6 1l6 5l6 2l6-2l6 5l6-3l6-2l7 0l6 0l6-1l6 4l6-3l6 2l6 1l6 2l7-2l6 4l6-2l6-1l6 5l6 2l6 1l6-2l6-1l7-1l6-2l6 0l6 3l6 3l6 3l6-4l6 0l7 2l6 1l6 0l6 6l6-4l6-2l6 1l6 2l7-1l6-2l6-3l6 1l6 1l6 3l6 4l6-1l7 2l6-2l6-3l6-1l6 0l6 3l6-2l6 3l6 6l7-4l6 0l6 4l6-1l6 4l6-3l6-5l6 4l7-3l6 2l6 4l6 5l6-5l6 0l6 6l6 0l7-3l6 4l6 0l6 6l6 0l6-3l6 4l6 3l7 1l6-1l6 4l6-2l6-2l6-2l6 5l6-3l6 3l7 3l6 0l6-1l6 0l6 3l6 3l6 0l6 2l7 2l6 1l6-3l6 7l6 1l6 3l6-3l6-2l7-1l6 4l6 1l6-2l6 2l6 0l6 0l6 0l7 2l6-1l6 4l6-1l6 2l6-2l6 1l6-3l6-3l7 6l6 0l6-2l6-4l6 1l6 1l6 1l6 1l7-1l6-1l6 1l6 1l6 3" stroke="#988ED5"/>
<path d="M1236 628l7-2l6 1l6-2l6 4l6 2l6-4l6 4l6-1l7 4l6-6l6-1l6 4l6 3l6-4l6-1l6-2l7-3l6 4l6 2l6 1l6 0l6 3l6 0l6-2l7 3l6 1l6-7l6 3l6-2l6-2l6 3l6-2l6 3l7 2l6-1l6 0l6 0l6 1l6 2l6-3l6 3l7 2l6-2l6 4l6 0l6-4l6 3l6-2l6 4l7 3l6 0l6 2l6 0l6 1l6-2l6 1l6 2l7 2l6-8l6 6l6-1l6 6l6 1l6-4l6 5l6 2l7-1l6 2l6 0l6-1l6-2l6 2l6 1l6-2l7 0l6 4l6 6l6 0l6-5l6 3l6 1l6 1l7-5l6 3l6 2l6 2l6 2l6-9l6 5l6 1l7 2l6-3l6 5l6 4l6-2l6-3l6-5l6 4l6 4l7 0l6 1l6 1l6-2l6-1l6 2l6-3l6 2l7 0l6 2l6-1l6-1l6 0l6 3l6-2l6 2l7 0l6-2l6-2l6 5l6 3l6-2l6-3l6 3l7-5l6 9l6-6l6 0l6 0l6 5l6-3l6-1l6 0l7 4l6 1l6-3l6 2l6 3l6 2l6-2l6 4l7-4l6 0l6 5l6-3l6-3" stroke="#777777"/>
<path d="M1236 632l7 1l6 1l6-3l6-3l6 3l6 5l6 2l6-2l7 3l6-3l6-3l6 8l6-4l6-2l6 2l6-2l7-1l6-1l6-4l6 4l6 5l6 2l6 1l6-4l7 0l6 0l6 0l6-3l6 1l6 0l6 5l6 1l6 2l7 0l6-2l6 3l6 0l6-6l6 5l6 5l6 1l7-2l6-2l6 2l6-1l6 2l6 4l6-3l6 3l7-4l6 5l6 1l6 2l6 0l6-1l6 2l6-2l7 2l6-2l6 4l6-2l6 1l6 4l6-5l6 1l6 4l7 3l6 1l6 1l6 0l6 4l6-1l6 2l6-5l7 2l6-1l6-2l6 5l6-2l6 4l6 1l6 5l7-1l6-3l6 2l6 3l6 1l6 2l6 2l6 2l7-5l6-1l6 3l6 5l6-1l6-6l6 7l6 1l6 0l7-2l6 4l6-2l6 3l6 0l6 2l6-3l6 2l7 1l6-3l6 1l6-4l6 3l6 3l6 1l6-6l7 2l6 5l6 0l6 3l6-2l6 3l6 1l6-2l7-2l6 1l6 1l6 2l6 7l6-3l6 0l6-2l6-3l7 2l6 7l6-2l6 0l6-2l6 2l6 5l6 0l7-2l6 4l6-3l6 0l6-3" stroke="#FBC15E"/>
<path d="M1236 649l7-3l6 5l6 3l6-5l6 8l6 2l6-1l6-2l7 2l6-2l6 2l6-3l6 1l6 6l6-2l6 2l7-2l6 0l6-6l6 5l6 5l6-3l6 3l6-6l7 1l6-2l6 5l6 3l6-2l6 3l6 0l6 0l6-1l7 3l6 3l6-8l6 3l6 0l6-1l6 0l6 3l7 1l6-4l6-1l6 2l6-1l6 8l6-2l6 1l7 5l6-4l6-1l6 0l6 6l6-2l6-1l6 1l7 0l6-1l6-2l6 3l6-5l6 5l6 2l6-1l6 3l7 1l6-3l6 8l6 2l6-9l6 1l6 1l6 3l7 1l6 5l6 1l6 3l6-3l6 1l6 3l6 1l7 3l6 5l6-5l6 3l6 4l6 0l6 0l6 1l7 3l6 2l6 4l6-1l6 1l6 2l6 8l6-2l6 1l7 1l6 10l6 3l6-3l6 3l6-1l6 2l6 0l7 4l6 4l6-1l6 3l6 4l6 5l6-11l6 7l7 2l6 6l6 0l6-1l6-1l6 0l6 4l6-1l7-1l6 4l6 1l6 6l6 0l6 2l6-4l6 1l6-3l7 3l6 0l6 2l6 2l6 4l6-5l6 4l6 6l7-1l6 2l6-5l6 0l6-1" stroke="#8EBA42"/>
<path d="M1236 628l7 5l6-1l6 2l6-6l6-2l6 7l6 1l6-1l7-2l6 0l6-1l6-1l6 0l6-2l6 4l6 2l7 0l6-5l6 1l6 1l6-1l6 0l6-2l6 7l7 0l6-2l6 0l6 3l6 4l6-2l6 1l6-2l6-3l7 0l6 5l6 1l6-1l6-3l6 3l6 1l6 5l7-1l6 1l6-1l6 1l6 2l6 2l6-2l6 2l7-3l6 2l6 2l6-2l6 5l6-3l6 4l6-2l7 3l6 2l6 4l6-4l6-1l6 5l6-6l6 3l6 4l7-6l6 5l6-3l6 10l6-9l6 3l6 2l6 0l7 4l6-3l6 0l6 1l6 3l6 3l6-3l6-2l7 2l6 1l6 2l6-3l6-2l6 4l6 3l6-7l7 8l6-2l6 1l6-4l6 3l6 5l6 0l6-2l6-1l7 2l6 0l6 3l6 1l6-2l6-1l6-1l6 2l7-6l6 6l6-4l6-1l6-3l6 0l6 7l6-2l7-1l6-1l6 1l6 4l6-4l6 3l6 2l6-1l7 2l6 1l6-1l6-7l6 4l6 2l6 2l6-1l6 4l7-3l6 0l6 1l6-1l6 2l6-1l6 0l6 0l7 2l6-2l6 3l6-3l6 3" stroke="#FFB5B8"/>
<path d="M1236 609l7-1l6 0l6 3l6 2l6-3l6 0l6-3l6-2l7 3l6 2l6 1l6 2l6 2l6 7l6-7l6-1l7 2l6 0l6-1l6 0l6 2l6 2l6-1l6-1l7-3l6 7l6-1l6 4l6 0l6-7l6 6l6 1l6 2l7-3l6 3l6 4l6-3l6-2l6 2l6 1l6 2l7 2l6-1l6 3l6-1l6 2l6-1l6-2l6 1l7-1l6 1l6 3l6 3l6-2l6 4l6-4l6 5l7 2l6 0l6 2l6-3l6 1l6 1l6-3l6 7l6-2l7-2l6-2l6 2l6 3l6-2l6-1l6-3l6 0l7 7l6-2l6 3l6 5l6-2l6-2l6 9l6-6l7 5l6-5l6 3l6 2l6-2l6 4l6-4l6 7l7 2l6 2l6-3l6 2l6-2l6 0l6 1l6 1l6 0l7 4l6 4l6 2l6-3l6 3l6 3l6 1l6-1l7 0l6 1l6 4l6-3l6 7l6-2l6-3l6 1l7-1l6 3l6 0l6 2l6 2l6-1l6-1l6 8l7 0l6 3l6-1l6 1l6-1l6 0l6-3l6-1l6 6l7 1l6-2l6 4l6 1l6 4l6-4l6 0l6 4l7 2l6 1l6-3l6 2l6 4" stroke="#E24A33"/>
<path d="M1236 607l7 0l6 1l6 5l6 1l6 1l6-3l6 3l6 3l7-4l6-1l6 6l6 0l6-2l6 3l6-1l6 6l7-1l6-2l6-2l6 1l6 8l6 2l6 0l6-4l7 0l6-1l6 2l6 4l6 1l6 2l6-3l6 5l6-1l7-1l6 0l6 2l6 3l6-1l6 3l6-4l6 9l7-5l6 8l6-7l6 9l6-11l6 13l6-10l6 7l7-2l6 12l6-12l6 12l6-8l6 7l6-9l6 10l7-6l6 5l6-6l6 5l6-1l6 8l6-7l6 7l6-7l7 10l6-12l6 13l6-8l6 10l6-5l6 6l6-1l7 3l6-2l6 8l6-9l6 10l6-6l6 5l6-12l7 12l6-5l6 13l6-6l6 4l6-7l6 8l6-7l7 9l6-3l6 11l6-5l6 7l6-8l6 9l6-4l6 7l7-10l6 11l6 0l6 5l6-8l6 6l6-5l6 8l7-5l6 8l6-9l6 11l6-7l6 9l6-8l6 11l7-8l6 14l6-9l6 6l6-8l6 13l6-6l6 7l7-8l6 9l6-6l6 9l6-9l6 13l6-5l6 5l6-5l7 7l6-4l6 11l6-13l6 11l6-3l6 8l6-8l7 9l6-8l6 12l6-8l6 8" stroke="#348ABD"/>
<path d="M1236 658l7 1l6-1l6-6l6-2l6 5l6 0l6 6l6-4l7-2l6 2l6-5l6 1l6 1l6 8l6-2l6-4l7 1l6 4l6-2l6-6l6 1l6-1l6 2l6-3l7 10l6-1l6-8l6 0l6 1l6 3l6 4l6-2l6-2l7 1l6-3l6-4l6 8l6-7l6 9l6-8l6 12l7-17l6 19l6-11l6 7l6-10l6 16l6-9l6 8l7-8l6 10l6-10l6 10l6-13l6 16l6-14l6 12l7-11l6 12l6-16l6 19l6-14l6 13l6-10l6 7l6-7l7 9l6-12l6 15l6-15l6 11l6-5l6 10l6-7l7 10l6-11l6 10l6-7l6 13l6-8l6 13l6-11l7 9l6-7l6 12l6-8l6 8l6-8l6 15l6-15l7 10l6-7l6 13l6-10l6 14l6-13l6 9l6-9l6 13l7-8l6 10l6-12l6 17l6-9l6 12l6-7l6 8l7-12l6 16l6-13l6 11l6-8l6 9l6-5l6 7l7-5l6 10l6-4l6 7l6-8l6 13l6-8l6 9l7-12l6 12l6-6l6 13l6-8l6 10l6-6l6 9l6-13l7 13l6-8l6 13l6-11l6 10l6-11l6 16l6-6l7 11l6-7l6 9l6-9l6 13" stroke="#988ED5"/>
<path d="M1236 659l7 4l6 0l6 0l6-3l6 3l6-1l6 1l6 2l7-3l6 2l6-1l6 0l6 6l6 1l6 5l6-7l7-2l6 2l6 0l6 0l6 1l6-1l6 0l6 3l7-5l6 0l6 3l6-5l6-1l6 2l6 1l6 5l6 1l7 4l6-2l6-3l6 3l6 4l6-6l6-3l6 1l7 8l6-3l6 4l6 0l6-2l6-2l6 5l6 1l7 4l6-2l6 2l6 0l6-3l6 2l6 0l6 1l7-1l6-2l6 7l6 3l6-4l6-1l6-2l6 2l6-2l7 3l6 5l6-3l6 4l6 2l6-2l6 1l6-1l7 4l6-4l6 9l6-4l6 7l6-6l6 9l6-5l7 15l6-7l6 0l6-2l6 7l6-5l6 2l6 4l7 6l6-3l6 4l6 0l6 9l6-3l6 2l6-4l6 4l7 2l6 7l6-5l6 3l6-4l6 8l6-1l6 4l7-2l6 3l6-7l6 10l6 0l6-1l6-1l6 6l7-2l6 6l6-4l6 6l6 0l6 5l6-6l6 5l7-5l6 5l6 1l6 6l6-5l6 3l6-4l6 0l6 0l7 7l6-1l6-2l6-2l6 7l6-3l6 4l6-4l7 2l6-1l6 6l6-4l6 3" stroke="#777777"/>
<path d="M1236 661l7 2l6 5l6-7l6-1l6 0l6 2l6-1l6 8l7-5l6 7l6-3l6 0l6-1l6 0l6 0l6 4l7 1l6 1l6-1l6 1l6 3l6-4l6 4l6 0l7 1l6 0l6-2l6 2l6 3l6-1l6 1l6 2l6-5l7-2l6 6l6-5l6-1l6 7l6-1l6 1l6-2l7 10l6-6l6 1l6-1l6-3l6 12l6-8l6 6l7-10l6 9l6-10l6 16l6-15l6 17l6-16l6 16l7-13l6 13l6-8l6 12l6-11l6 9l6-15l6 19l6-8l7 8l6-12l6 15l6-20l6 18l6-10l6 13l6-14l7 11l6-9l6 19l6-12l6 9l6-4l6 13l6-15l7 16l6-10l6 17l6-14l6 14l6-11l6 13l6-10l7 12l6-9l6 14l6-9l6 11l6-12l6 16l6-6l6 13l7-4l6 11l6-14l6 16l6-13l6 13l6-15l6 19l7-7l6 18l6-15l6 11l6-13l6 16l6-9l6 15l7-13l6 13l6-13l6 15l6-17l6 17l6-12l6 13l7-12l6 18l6-9l6 14l6-16l6 12l6-12l6 13l6-14l7 18l6-19l6 11l6-8l6 17l6-12l6 17l6-15l7 16l6-14l6 13l6-18l6 19" stroke="#FBC15E"/>
<path d="M1236 642l7 2l6-2l6-2l6 1l6 0l6-1l6 1l6-3l7 5l6-2l6 2l6-2l6-2l6 1l6 0l6-1l7 1l6 2l6-2l6-1l6 0l6 2l6 0l6 6l7-1l6-1l6-4l6-1l6 2l6 4l6-3l6-2l6 0l7 4l6 2l6 1l6 1l6-4l6 1l6-4l6 0l7 2l6 6l6-1l6 0l6 5l6 2l6 0l6-5l7 3l6 4l6-2l6-1l6 4l6-6l6 6l6-3l7 1l6 4l6 0l6 0l6 2l6-2l6 2l6 5l6-3l7 3l6-1l6-1l6 1l6-2l6 3l6 2l6-4l7 2l6 3l6 1l6 2l6 0l6 4l6-5l6 0l7 9l6 1l6-2l6 2l6 4l6-4l6 3l6-3l7 1l6-2l6 6l6-4l6 6l6-4l6 1l6 2l6 5l7-5l6 1l6 8l6 5l6-3l6 0l6-3l6 1l7 0l6 3l6-2l6 3l6 4l6 4l6-5l6 2l7 4l6 0l6-1l6-2l6 7l6-1l6-3l6 1l7 0l6-2l6 7l6 2l6-2l6-2l6 4l6 3l6 4l7-2l6 0l6 5l6 1l6 2l6-2l6 2l6-3l7 0l6 4l6 0l6 1l6 0" stroke="#8EBA42"/>
<path d="M1236 659l7 4l6 3l6-3l6 3l6 4l6 2l6-3l6 1l7-4l6 4l6 4l6 0l6 1l6-5l6 4l6-4l7 1l6-2l6 4l6 0l6 8l6-2l6 1l6-4l7 2l6-1l6 4l6 2l6 0l6-7l6 8l6-10l6 13l7-8l6 13l6-13l6 15l6-14l6 15l6-12l6 8l7-14l6 17l6-11l6 16l6-17l6 16l6-19l6 21l7-16l6 11l6-10l6 9l6-13l6 15l6-9l6 11l7-14l6 16l6-17l6 17l6-6l6 9l6-18l6 19l6-15l7 16l6-13l6 20l6-13l6 10l6-14l6 17l6-18l7 15l6-9l6 19l6-17l6 16l6-15l6 13l6-8l7 16l6-15l6 17l6-7l6 10l6-12l6 17l6-14l7 17l6-12l6 13l6-8l6 17l6-14l6 17l6-17l6 18l7-9l6 13l6-8l6 7l6-11l6 14l6-12l6 16l7-9l6 12l6-11l6 17l6-8l6 7l6-10l6 17l7-8l6 10l6-11l6 13l6-10l6 18l6-14l6 20l7-10l6 12l6-15l6 14l6-9l6 16l6-12l6 17l6-11l7 13l6-9l6 15l6-15l6 17l6-9l6 13l6-10l7 14l6-8l6 16l6-10l6 10" stroke="#FFB5B8"/>
<path d="M1236 635l7-1l6 1l6 2l6 0l6 0l6 3l6 0l6 2l7-5l6 6l6 1l6 0l6-2l6 2l6-5l6 1l7 9l6-4l6-1l6 4l6-1l6-1l6 2l6 0l7-1l6 2l6 0l6 3l6-3l6 3l6-4l6-2l6 0l7 6l6 0l6 2l6-1l6 3l6 2l6-1l6 1l7-4l6 0l6 2l6 2l6 1l6-2l6 2l6 1l7-4l6 3l6 3l6 1l6-3l6 3l6 2l6-3l7-1l6 0l6 6l6-2l6 3l6-1l6 5l6-2l6-3l7 1l6 8l6-6l6 0l6 2l6 0l6 1l6-2l7 3l6 5l6 0l6-5l6 0l6 2l6 5l6-1l7-1l6 2l6 0l6 0l6 0l6 2l6 2l6 5l7 0l6-3l6-2l6 4l6-1l6 3l6 4l6-2l6 0l7 4l6 1l6-1l6 1l6-1l6 4l6-3l6 3l7-1l6 5l6-5l6 1l6-4l6 9l6 4l6-4l7-1l6 7l6-3l6 0l6-1l6 4l6 6l6 4l7-8l6 3l6 1l6 4l6 2l6 2l6 3l6 0l6 4l7 0l6-3l6 3l6 4l6-4l6 2l6 4l6 7l7-4l6 0l6 5l6-1l6 6" stroke="#E24A33"/>
<path d="M1236 619l7-2l6 2l6-1l6-3l6 0l6 6l6 0l6 1l7 1l6 0l6 1l6-3l6-2l6 2l6 2l6 0l7 2l6-3l6-4l6 11l6-4l6 0l6 0l6 2l7 4l6-3l6 1l6 0l6 0l6 1l6-6l6 7l6 1l7 2l6-1l6-5l6 4l6 4l6 2l6-2l6 2l7-1l6 3l6 1l6 0l6 5l6-5l6 5l6-1l7-1l6-4l6 4l6 1l6 5l6 1l6 0l6-1l7 5l6-2l6-5l6 8l6 5l6-1l6 0l6-4l6 2l7 0l6 5l6 0l6 0l6 4l6-1l6 1l6 0l7 5l6 3l6-6l6 2l6 1l6-5l6 3l6 2l7 5l6-1l6 1l6 2l6-3l6 1l6 2l6 5l7 1l6-3l6 2l6 3l6-1l6 1l6 3l6 0l6-1l7 1l6 4l6 1l6-1l6 3l6-1l6 1l6 4l7 4l6-2l6-2l6 0l6-3l6 4l6 1l6 0l7 3l6-4l6 6l6 3l6 0l6-3l6 4l6 3l7-2l6-1l6 4l6-1l6 4l6-3l6 6l6 1l6 1l7 2l6 0l6-1l6 4l6-5l6 4l6 1l6 4l7 1l6-2l6 5l6 2l6 2" stroke="#348ABD"/>
<path d="M1236 620l7 3l6 3l6-2l6-2l6 1l6-2l6 5l6-4l7-5l6 1l6 0l6 4l6 2l6-4l6 3l6-1l7 3l6-2l6 0l6 6l6-3l6-2l6-1l6 1l7-2l6 3l6 2l6-3l6-3l6 5l6-3l6 3l6 5l7 0l6 0l6-4l6 2l6 3l6 0l6-3l6 4l7 3l6 0l6 3l6-2l6-1l6 3l6 3l6 0l7 4l6-5l6-3l6 6l6 8l6-1l6 3l6 2l7-3l6 0l6 2l6-3l6 2l6 4l6-1l6 4l6 0l7 1l6-1l6 1l6 2l6-1l6 0l6 1l6-1l7 6l6-2l6-3l6 4l6 7l6-5l6 1l6-1l7 1l6 0l6-1l6 3l6 0l6 5l6 1l6-1l7-4l6 5l6 1l6-2l6 3l6 3l6 2l6-5l6 3l7-2l6-1l6 4l6-2l6 6l6-3l6 2l6-2l7-1l6 0l6 0l6 3l6 3l6 1l6-5l6 3l7 0l6-1l6 1l6 2l6 4l6-6l6 2l6 4l7-1l6-2l6 4l6-3l6-1l6-1l6 1l6 3l6 3l7-2l6 0l6-5l6 3l6 0l6 1l6 5l6-5l7 2l6 3l6-3l6-3l6 3" stroke="#988ED5"/>
<path d="M1236 644l7 8l6-5l6-2l6 0l6 4l6 0l6-3l6-1l7 0l6 4l6-2l6-3l6 2l6-2l6 1l6 0l7 4l6 1l6 1l6-4l6-1l6 5l6 2l6-2l7-4l6 2l6 0l6 0l6 0l6 2l6-1l6-1l6 4l7-7l6 11l6-6l6 10l6-14l6 11l6-7l6 12l7-10l6 16l6-13l6 11l6-14l6 17l6-13l6 11l7-14l6 15l6-8l6 16l6-15l6 14l6-12l6 14l7-12l6 12l6-14l6 17l6-18l6 13l6-8l6 13l6-15l7 19l6-12l6 14l6-11l6 10l6-11l6 13l6-12l7 15l6-15l6 17l6-9l6 16l6-13l6 12l6-12l7 14l6-10l6 12l6-12l6 18l6-14l6 13l6-10l7 12l6-10l6 16l6-14l6 11l6-6l6 14l6-14l6 14l7-13l6 13l6-4l6 11l6-8l6 14l6-11l6 11l7-8l6 12l6-9l6 7l6-8l6 14l6-9l6 14l7-16l6 16l6-8l6 14l6-12l6 9l6-8l6 14l7-13l6 11l6-9l6 20l6-10l6 8l6-10l6 21l6-13l7 14l6-12l6 12l6-12l6 13l6-4l6 11l6-11l7 17l6-15l6 18l6-10l6 8" stroke="#777777"/>
<path d="M1236 677l7-1l6-1l6-2l6 8l6-7l6 4l6-6l6 2l7-2l6 4l6-3l6 2l6 1l6 0l6 8l6 0l7 0l6-3l6-1l6-2l6 0l6-2l6 5l6-1l7 2l6 2l6 2l6-3l6 1l6 0l6 1l6 1l6-10l7 5l6 4l6 0l6-1l6 4l6-5l6 4l6-2l7 2l6 2l6-9l6 7l6 5l6-1l6 1l6-4l7 0l6 5l6-6l6 4l6 4l6-5l6 1l6 4l7 2l6-1l6 1l6-3l6 1l6 4l6 1l6-1l6-4l7 4l6-2l6 3l6-1l6 2l6-2l6 5l6-1l7-1l6-3l6 14l6-11l6 13l6-11l6 18l6-11l7 13l6-8l6 14l6-16l6 15l6-8l6 16l6-14l7 10l6-6l6 16l6-12l6 12l6-5l6 5l6-8l6 17l7-8l6 9l6-11l6 13l6-8l6 14l6-14l6 16l7-8l6 11l6-7l6 10l6-11l6 21l6-11l6 7l7-10l6 17l6-11l6 13l6-8l6 14l6-12l6 11l7-10l6 15l6-7l6 10l6-15l6 20l6-7l6 8l6-3l7 18l6-16l6 9l6-9l6 13l6-9l6 17l6-12l7 17l6-6l6 10l6-7l6 12" stroke="#FBC15E"/>
<path d="M1236 676l7-3l6-1l6 1l6 0l6 3l6-2l6-2l6 3l7-4l6 4l6-3l6-2l6 3l6 3l6-2l6 2l7 2l6-4l6 6l6-5l6 3l6-3l6 2l6-4l7 4l6 6l6-11l6 4l6 2l6 0l6 1l6-1l6 2l7-6l6 5l6-1l6-2l6 4l6-2l6 4l6 2l7 1l6-4l6-1l6 5l6-3l6 4l6-1l6-1l7 7l6-5l6 2l6 3l6-4l6 1l6 0l6 2l7 2l6 2l6-1l6 1l6 0l6-2l6-1l6 1l6 1l7 2l6-2l6-1l6 4l6 1l6 2l6 0l6 1l7-4l6 1l6 9l6-2l6 3l6 6l6-2l6 3l7 0l6 1l6 4l6-3l6 4l6 5l6 4l6-7l7 8l6-1l6 5l6-5l6 13l6-2l6 6l6-5l6 9l7-14l6 16l6-10l6 15l6-16l6 17l6-8l6 13l7-6l6 7l6-5l6 13l6-7l6 10l6-8l6 10l7-5l6 11l6-14l6 15l6-10l6 15l6-8l6 13l7-4l6 9l6-11l6 8l6-7l6 15l6-7l6 14l6-11l7 9l6-6l6 14l6-10l6 11l6-8l6 12l6-8l7 14l6-7l6 16l6-13l6 10" stroke="#8EBA42"/>
<path d="M1236 609l7 2l6 5l6-2l6-4l6 0l6-4l6 4l6 3l7 3l6-2l6-3l6 6l6 1l6-2l6 1l6-2l7 3l6-1l6 1l6 0l6-3l6 6l6 3l6 1l7-3l6-1l6-1l6 0l6 1l6 5l6-1l6-2l6 3l7 0l6 0l6-2l6 4l6 3l6-2l6 0l6-2l7 3l6 1l6 1l6 1l6-6l6 11l6-4l6 2l7-1l6 5l6-3l6 2l6-2l6-2l6 6l6 4l7-6l6-3l6 5l6 7l6 1l6-5l6-3l6 4l6 5l7-5l6 6l6 0l6 1l6 0l6-2l6 4l6-1l7-2l6 0l6 0l6 4l6 6l6-2l6-1l6 1l7 2l6-1l6 5l6-3l6-3l6 4l6 2l6 0l7 1l6 1l6 2l6 2l6-3l6 7l6-3l6 4l6-1l7 4l6 4l6 0l6 1l6-5l6 4l6 3l6 2l7-1l6 0l6 0l6 3l6 4l6-1l6-2l6 0l7 6l6 1l6 0l6 3l6 4l6-2l6 2l6 0l7-1l6 4l6 4l6 2l6-3l6 2l6 1l6 3l6 0l7 4l6 3l6 1l6 1l6 2l6 1l6 0l6 5l7 5l6-2l6-3l6 2l6 8" stroke="#FFB5B8"/>
<path d="M1236 676l7 4l6 1l6 3l6 0l6-3l6-4l6-1l6 1l7-1l6 4l6 2l6-6l6 2l6 3l6-2l6 4l7-5l6 6l6 0l6-1l6 0l6 3l6-5l6 0l7 1l6-1l6 3l6-3l6 3l6 3l6-2l6 0l6-1l7-1l6-3l6 7l6 3l6-3l6-4l6 0l6 3l7 2l6 1l6-5l6 4l6 0l6 4l6-3l6 1l7 1l6 1l6 0l6-7l6 4l6 1l6 4l6 4l7 3l6-3l6-2l6-1l6 4l6-3l6 2l6-3l6 3l7 0l6 2l6 1l6-1l6-2l6 0l6 4l6 3l7-2l6-1l6 5l6 3l6 2l6 0l6-1l6 6l7 0l6-2l6 3l6 6l6 4l6-1l6-2l6 1l7 1l6 5l6 2l6 4l6-1l6 3l6 3l6 2l6-1l7 0l6 2l6-3l6 5l6 7l6-2l6 5l6 4l7-3l6 4l6 1l6 3l6 1l6 5l6-4l6-2l7 3l6-2l6 1l6-1l6 0l6 6l6-3l6 2l7-2l6 3l6-6l6 0l6 4l6 0l6 1l6 0l6-2l7 4l6 2l6-6l6 0l6 2l6 0l6 2l6-2l7 2l6-4l6-3l6 2l6-4" stroke="#E24A33"/>
<path d="M1236 663l7 5l6-4l6 1l6-1l6-1l6-1l6 3l6-2l7 2l6 6l6-9l6 2l6 2l6-4l6 1l6 3l7-1l6 0l6 1l6 6l6-5l6 2l6 0l6-2l7-6l6 7l6-2l6 4l6 2l6-3l6-4l6 1l6 0l7-2l6 1l6 3l6 3l6-1l6-2l6 2l6 0l7 1l6 1l6 2l6-1l6-6l6 0l6 0l6 3l7 2l6-2l6 3l6-3l6 2l6-1l6 4l6-5l7 3l6-1l6 4l6 1l6-2l6 5l6-6l6 4l6-3l7 3l6 0l6 0l6-2l6 4l6-2l6 0l6 0l7 4l6 0l6 3l6 0l6-3l6 0l6 5l6 1l7 0l6 3l6 0l6 2l6-3l6 4l6-5l6 8l7-4l6-1l6 4l6 4l6-3l6 3l6-5l6 2l6 1l7 0l6-1l6 2l6-1l6 1l6 3l6-3l6-2l7 1l6 3l6 0l6 4l6 1l6 1l6 0l6-3l7 4l6 1l6 3l6 0l6 3l6-5l6 1l6-1l7-1l6 2l6 2l6 2l6 2l6 6l6-4l6 2l6 2l7 0l6-1l6-1l6 4l6 3l6-5l6 1l6 0l7 3l6 5l6-5l6-1l6 5" stroke="#348ABD"/>
<path d="M1236 638l7 4l6 3l6-1l6 1l6 2l6 3l6 0l6 1l7-1l6 4l6-2l6 2l6-4l6 7l6-4l6-3l7 7l6-3l6 3l6 6l6 2l6-3l6 1l6 0l7 2l6-2l6 5l6 4l6 0l6 0l6 2l6 0l6 1l7 1l6 0l6 1l6-2l6 2l6-1l6 6l6-1l7 1l6 4l6-8l6 7l6-3l6-1l6 0l6 4l7 7l6-5l6 0l6-1l6 2l6-2l6 1l6 3l7-5l6 6l6 6l6-3l6-1l6-1l6 3l6 0l6 3l7 0l6-2l6 3l6-2l6 2l6 0l6 2l6-2l7 3l6 5l6 0l6-1l6 3l6 5l6 2l6 3l7-4l6 3l6 0l6 2l6 4l6-1l6 4l6 1l7 8l6-2l6 2l6 2l6 0l6 5l6 0l6 7l6-3l7 2l6-4l6 4l6 1l6 10l6-2l6 3l6-4l7 0l6 4l6 2l6 2l6 2l6 1l6 1l6 3l7 4l6-3l6 5l6 3l6-5l6 5l6 4l6 5l7 2l6-4l6 4l6-2l6 7l6-2l6 3l6 3l6 5l7-5l6 3l6 3l6-1l6 6l6-3l6 2l6 2l7 2l6 4l6 2l6 0l6 3" stroke="#988ED5"/>
<path d="M1236 628l7-2l6 2l6 0l6-1l6 0l6-1l6 1l6 1l7 0l6 5l6-2l6 5l6-4l6-2l6 2l6 0l7-4l6 3l6-1l6-4l6 2l6 0l6 0l6 1l7-2l6 3l6-1l6 2l6 1l6-2l6 2l6 6l6-4l7-5l6 4l6-2l6 3l6 4l6-1l6 5l6-6l7 3l6 0l6 1l6 5l6 0l6-4l6 1l6 4l7 2l6 0l6 4l6-2l6 5l6-1l6-3l6 2l7 3l6-1l6 2l6 0l6-2l6 4l6 5l6-3l6 3l7-3l6 0l6 3l6 0l6 6l6 3l6-2l6-2l7-2l6 5l6 3l6 1l6 1l6-1l6 4l6-4l7 5l6-6l6 4l6 2l6 5l6-3l6 6l6-5l7 3l6-1l6 0l6 0l6-1l6 1l6 2l6 5l6 3l7-3l6 1l6 3l6 0l6-2l6 0l6 5l6 3l7 4l6-2l6-1l6 3l6-4l6-3l6 6l6-1l7 2l6-1l6 1l6 1l6-1l6 0l6 3l6-1l7 3l6 0l6-1l6 0l6 5l6-3l6 3l6-2l6-1l7 5l6 0l6-4l6 1l6 6l6-6l6 3l6 2l7-2l6 1l6-1l6 0l6-6" stroke="#777777"/>
<path d="M1236 652l7 2l6 1l6-1l6-3l6 0l6 10l6-7l6 1l7 0l6-3l6 5l6 2l6 3l6 0l6-5l6 2l7 2l6-3l6 3l6 1l6 0l6-3l6 3l6 0l7 0l6 4l6-3l6 4l6-1l6-1l6-2l6 1l6-3l7 2l6-1l6 3l6 2l6-5l6 7l6-4l6 3l7-1l6 4l6-2l6 0l6 6l6-1l6-3l6-2l7 2l6 3l6 0l6 4l6 0l6-2l6 0l6-1l7 1l6 0l6 2l6-1l6-4l6 8l6 0l6 1l6-1l7 0l6 4l6-1l6 0l6 1l6-1l6-2l6 2l7 4l6 1l6-3l6 7l6-1l6 5l6 5l6 0l7-1l6 2l6 3l6 2l6 2l6 2l6 0l6 6l7-4l6 0l6 2l6 0l6 4l6 1l6 8l6-3l6 1l7-1l6 1l6 3l6 5l6-1l6-1l6 1l6 5l7 4l6 0l6 4l6 4l6-3l6 0l6 0l6 5l7 0l6 4l6 3l6-3l6 5l6-1l6-6l6 2l7 2l6 2l6 3l6 3l6-4l6 4l6 3l6-1l6 2l7-2l6 5l6 3l6 0l6-4l6 2l6 2l6 2l7 1l6 4l6-2l6 3l6 0" stroke="#FBC15E"/>
<path d="M1236 652l7 1l6-1l6 4l6 0l6 0l6 1l6-4l6 3l7 5l6-1l6 1l6-6l6 6l6 3l6-3l6 2l7 1l6 0l6 2l6 0l6 5l6-3l6-3l6-3l7 4l6-1l6 4l6-4l6-2l6 4l6 3l6 1l6-4l7 6l6-3l6 4l6 2l6-2l6-1l6-1l6-1l7 6l6 0l6-2l6 1l6-1l6 3l6 2l6 5l7 1l6-5l6 3l6-2l6-1l6 2l6-2l6 4l7-1l6 1l6 4l6 3l6-3l6-5l6 0l6 2l6 0l7 1l6 2l6 0l6-1l6 6l6-13l6 10l6-1l7 6l6 0l6 8l6-11l6 8l6 0l6 10l6-7l7 8l6-9l6 13l6-10l6 10l6-2l6 4l6-2l7 6l6-4l6 11l6-6l6 3l6 0l6 7l6-6l6 2l7-5l6 4l6 2l6 3l6-3l6 11l6-8l6 7l7-2l6 8l6-3l6 2l6-5l6 8l6-4l6 8l7-7l6 8l6 1l6 4l6-5l6 9l6-4l6 8l7-7l6 9l6-4l6 7l6-8l6 14l6-11l6 13l6-4l7 9l6-6l6 6l6-9l6 9l6 1l6 7l6-4l7 9l6-6l6 8l6-2l6 8" stroke="#8EBA42"/>
<path d="M1236 613l7-5l6 3l6-4l6 2l6 7l6-3l6-3l6 7l7 1l6-2l6 0l6-5l6 5l6-4l6 6l6 1l7-2l6-1l6 1l6-3l6-1l6-1l6 5l6 0l7 2l6-3l6 9l6-1l6-1l6 0l6-4l6 6l6 0l7 2l6-2l6 2l6-4l6 0l6 7l6 3l6-6l7 0l6 6l6-2l6 3l6-4l6 5l6 0l6-2l7 0l6-1l6 1l6 6l6-2l6 3l6-5l6-1l7 1l6-2l6 4l6-1l6 2l6 1l6 1l6 2l6-2l7 6l6 4l6 0l6-6l6 4l6 3l6 1l6-2l7 1l6-3l6 4l6-2l6 5l6-2l6-6l6 6l7 2l6-1l6 5l6 0l6 1l6-1l6 4l6-5l7 2l6 1l6 1l6 1l6 6l6-6l6 3l6-2l6 2l7 1l6-1l6-3l6 4l6 3l6-1l6 7l6-1l7 0l6-1l6 3l6-4l6 2l6 0l6 0l6 1l7 2l6-4l6 0l6-2l6 4l6 1l6 0l6 2l7 0l6 4l6 1l6-1l6 1l6-3l6-1l6 0l6 2l7-2l6-1l6 1l6 3l6-3l6 5l6 4l6 0l7-6l6 1l6 3l6 5l6-3" stroke="#FFB5B8"/>
<path d="M1236 636l7 0l6-3l6 2l6-1l6 1l6 4l6-1l6 0l7 3l6-1l6-2l6-1l6 3l6 8l6-5l6-4l7 5l6 3l6-1l6 0l6-1l6 3l6-4l6 2l7 5l6-3l6 2l6 0l6 1l6 1l6 0l6 3l6 2l7-1l6 1l6-1l6 0l6 5l6-4l6 2l6-2l7 0l6 2l6 0l6 5l6-5l6-2l6 3l6 4l7-1l6 2l6-4l6 5l6 3l6 1l6 0l6-3l7 1l6 0l6 2l6-3l6 3l6 0l6-2l6 2l6 4l7 0l6-2l6 1l6 3l6-3l6 6l6 4l6-1l7 3l6-2l6 0l6 2l6 2l6 3l6-3l6 8l7-4l6 2l6 2l6 1l6 6l6-3l6 1l6 0l7 9l6-2l6 2l6 7l6-1l6-1l6 4l6-1l6 1l7 4l6 2l6-1l6 5l6 0l6-1l6 4l6 2l7 2l6 0l6 7l6 5l6 0l6 1l6-3l6 0l7 2l6 1l6 5l6 3l6 4l6-4l6 1l6 3l7 5l6 2l6-3l6 2l6-1l6 3l6 4l6 3l6 0l7-4l6 0l6 7l6 0l6 4l6 0l6 9l6-2l7 3l6-6l6 4l6 0l6 2" stroke="#E24A33"/>
<path d="M1236 654l7 6l6 0l6 0l6-4l6-2l6 3l6-1l6 8l7-4l6 3l6-5l6-1l6 0l6 1l6-1l6-1l7 5l6-3l6 4l6 4l6-3l6-2l6 1l6 3l7-2l6 2l6-6l6 4l6 1l6 3l6-2l6-3l6 5l7 1l6 5l6-3l6-5l6 6l6 1l6 1l6 0l7 1l6 0l6 2l6-2l6-2l6 0l6 8l6-6l7 1l6-1l6 5l6 2l6-3l6-3l6 6l6 1l7-3l6 6l6-5l6 8l6-10l6 14l6-11l6 10l6-8l7 11l6-2l6-1l6-8l6 9l6-7l6 9l6-6l7 10l6-10l6 14l6-5l6 4l6-3l6 10l6-6l7 9l6-7l6 11l6-4l6 11l6-8l6 5l6 1l7 8l6-8l6 12l6-8l6 11l6-9l6 8l6-2l6 10l7-7l6 11l6-6l6 15l6-10l6 12l6-7l6 8l7-7l6 12l6-5l6 10l6-5l6 5l6-8l6 14l7-10l6 12l6-2l6 7l6-7l6 11l6-2l6 9l7-2l6 6l6-7l6 12l6-6l6 4l6-1l6 7l6-6l7 7l6 0l6 8l6-10l6 13l6-3l6 13l6-9l7 5l6-9l6 13l6-7l6 9" stroke="#348ABD"/>
<path d="M1236 661l7-1l6 3l6 0l6 1l6 1l6-2l6 0l6 2l7 0l6 1l6 1l6 3l6-2l6 1l6 0l6-2l7 1l6 0l6 4l6 4l6-2l6-1l6 0l6-3l7 2l6-1l6 4l6 3l6-3l6 4l6 2l6-1l6-2l7-3l6 3l6-1l6 2l6 5l6 1l6 2l6-3l7 4l6 0l6-1l6-4l6 0l6 3l6 0l6 1l7-6l6 9l6 4l6 1l6 0l6-2l6-4l6 3l7 1l6 0l6 0l6 3l6-2l6 1l6 0l6 0l6 0l7 0l6 4l6-1l6 5l6 3l6-3l6-2l6 0l7 1l6 1l6 8l6 0l6 1l6 3l6-1l6 0l7 2l6 2l6-2l6 3l6 7l6-6l6 6l6-1l7 14l6-15l6 14l6-12l6 18l6-13l6 20l6-12l6 9l7-7l6 14l6-14l6 16l6-9l6 15l6-14l6 16l7-16l6 18l6-16l6 19l6-14l6 17l6-11l6 20l7-16l6 16l6-13l6 18l6-10l6 16l6-14l6 13l7-10l6 18l6-12l6 17l6-11l6 13l6-11l6 14l6-17l7 16l6-13l6 19l6-11l6 18l6-9l6 16l6-14l7 12l6-16l6 19l6-7l6 14" stroke="#988ED5"/>
<path d="M1236 617l7-1l6-1l6 2l6 1l6 0l6 0l6-5l6 5l7 1l6-3l6 6l6 0l6-2l6 2l6 2l6 2l7 0l6 1l6-3l6 1l6 2l6-2l6 5l6 1l7-3l6 1l6 4l6 0l6 0l6 1l6-1l6 0l6 0l7 1l6 0l6 2l6-1l6 1l6-1l6 2l6 2l7 1l6-3l6 3l6 1l6-3l6 2l6 1l6 4l7 2l6-2l6-4l6 8l6 3l6-5l6 0l6 4l7-3l6 1l6 2l6 1l6 1l6-1l6 3l6 2l6 0l7-2l6-2l6 4l6 2l6-1l6-2l6 3l6-3l7 5l6-3l6 1l6 7l6-3l6 2l6 1l6 2l7 0l6 1l6 0l6-2l6-1l6 1l6 2l6 2l7 2l6 4l6-3l6 2l6 0l6 5l6-3l6-2l6 3l7 0l6 2l6 1l6 2l6 7l6-5l6-1l6 0l7-2l6 2l6 2l6 4l6-7l6 9l6 1l6 1l7-2l6 2l6 1l6 6l6 0l6-2l6 3l6 4l7-1l6 2l6 1l6 0l6 4l6 0l6-2l6 4l6 2l7 3l6 0l6 0l6 5l6 0l6-2l6 8l6-3l7 1l6 7l6 4l6-1l6-3" stroke="#777777"/>
<path d="M1236 609l7-2l6-1l6 4l6-1l6 2l6 2l6 0l6-3l7 1l6 5l6-4l6 1l6 7l6-1l6 2l6-2l7-9l6-1l6 5l6 4l6 3l6 0l6-2l6-3l7 3l6-2l6 3l6 6l6-4l6-2l6 1l6-1l6 5l7 0l6 0l6 0l6-1l6 0l6 4l6 3l6 0l7-1l6 1l6 2l6-3l6-1l6 0l6 1l6 2l7 3l6 1l6 0l6 5l6-3l6 5l6-7l6 1l7 4l6 0l6 1l6-4l6 1l6 3l6 3l6-2l6 1l7 2l6 2l6 3l6 1l6-1l6 3l6-1l6-6l7 3l6 1l6 3l6-2l6 3l6 0l6 0l6 2l7-2l6 7l6 2l6-1l6 2l6 0l6-3l6 6l7 1l6 4l6 2l6 5l6-4l6-2l6 3l6 0l6 7l7 0l6 1l6-1l6 3l6 0l6-1l6 7l6 1l7 0l6 4l6 0l6 6l6 1l6 0l6 4l6-8l7 0l6 1l6 3l6 1l6 4l6 1l6 6l6-5l7 2l6 6l6-1l6-2l6 5l6-1l6 5l6-2l6-1l7 6l6-1l6-3l6 2l6-3l6 1l6 0l6 7l7 2l6-2l6 0l6 3l6 1" stroke="#FBC15E"/>
<path d="M1236 643l7 1l6-1l6 5l6-3l6 0l6 0l6 1l6 3l7 2l6-3l6 10l6-7l6 6l6-8l6 11l6-11l7 12l6-13l6 9l6-11l6 15l6-15l6 15l6-13l7 12l6-14l6 17l6-10l6 14l6-17l6 19l6-15l6 12l7-10l6 9l6-11l6 18l6-13l6 11l6-16l6 16l7-12l6 15l6-16l6 14l6-6l6 12l6-14l6 15l7-14l6 14l6-9l6 10l6-11l6 12l6-11l6 15l7-15l6 15l6-15l6 16l6-16l6 21l6-14l6 17l6-12l7 12l6-10l6 12l6-16l6 15l6-11l6 15l6-15l7 13l6-9l6 16l6-13l6 17l6-13l6 15l6-15l7 20l6-13l6 15l6-10l6 15l6-13l6 19l6-13l7 16l6-13l6 15l6-12l6 12l6-14l6 16l6-8l6 14l7-9l6 12l6-13l6 17l6-12l6 14l6-12l6 18l7-11l6 18l6-14l6 15l6-13l6 14l6-8l6 16l7-13l6 18l6-14l6 16l6-14l6 15l6-12l6 18l7-12l6 15l6-13l6 22l6-13l6 16l6-13l6 13l6-11l7 17l6-9l6 14l6-12l6 19l6-15l6 18l6-7l7 13l6-14l6 15l6-10l6 16" stroke="#8EBA42"/>
<path d="M1236 661l7-4l6 5l6 0l6-5l6 2l6 1l6 2l6-3l7-4l6 4l6 5l6-6l6 3l6-3l6 11l6-10l7 12l6-12l6 11l6-11l6 10l6-10l6 16l6-13l7 9l6-10l6 14l6-15l6 13l6-11l6 11l6-9l6 10l7-6l6 8l6-14l6 14l6-10l6 14l6-14l6 14l7-8l6 8l6-11l6 14l6-11l6 8l6-8l6 12l7-11l6 8l6-12l6 11l6-1l6 5l6-9l6 11l7-9l6 8l6-5l6 13l6-10l6 7l6-6l6 10l6-7l7 7l6-6l6 8l6-7l6 5l6-9l6 6l6-2l7 14l6-10l6 14l6-8l6 8l6-7l6 9l6-4l7 11l6-8l6 8l6-8l6 10l6-5l6 14l6-7l7 10l6-4l6 11l6-6l6 7l6-9l6 14l6-11l6 12l7-6l6 9l6-7l6 15l6-8l6 13l6-11l6 11l7-9l6 14l6-5l6 7l6-8l6 16l6-11l6 13l7-11l6 12l6-5l6 12l6-8l6 18l6-14l6 11l7-10l6 19l6-13l6 11l6-5l6 5l6-7l6 16l6-7l7 8l6-10l6 12l6-4l6 6l6-2l6 7l6-6l7 13l6-6l6 12l6-9l6 8" stroke="#FFB5B8"/>
<path d="M1236 615l7 2l6 0l6 1l6 2l6 1l6 3l6 0l6-5l7 3l6 4l6 1l6 1l6-1l6 2l6-3l6 4l7 0l6-3l6 3l6-2l6 4l6-1l6-3l6 7l7-1l6 4l6 0l6 1l6 0l6 3l6 4l6-5l6 0l7-2l6 2l6 2l6 3l6 3l6-3l6 3l6-5l7-1l6 2l6 0l6 3l6 3l6-6l6 5l6-2l7 5l6-1l6-1l6 7l6 2l6-1l6-1l6-1l7 2l6 2l6 1l6 1l6-3l6 3l6 0l6 5l6-5l7 8l6-10l6 7l6-5l6 10l6-10l6 7l6-5l7 11l6-7l6 11l6-8l6 1l6-6l6 14l6-8l7 16l6-8l6 7l6-7l6 8l6-6l6 11l6-8l7 11l6-8l6 10l6-5l6 12l6-7l6 10l6-9l6 11l7-2l6 9l6-8l6 10l6-7l6 11l6-11l6 11l7-9l6 18l6-7l6 12l6-13l6 11l6-6l6 12l7-10l6 8l6-10l6 16l6-11l6 13l6-12l6 7l7-5l6 12l6 0l6 5l6-4l6 9l6-12l6 16l6-17l7 16l6-11l6 14l6-11l6 13l6-8l6 16l6-15l7 10l6-7l6 12l6-7l6 11" stroke="#E24A33"/>
<path d="M1236 672l7 5l6-1l6 4l6-2l6 3l6 0l6-11l6 10l7-4l6 3l6 3l6 1l6-4l6 1l6 0l6-4l7 6l6 4l6-4l6-4l6 2l6-2l6 0l6 2l7 3l6-1l6-2l6 1l6 1l6 0l6 1l6-1l6 2l7-4l6 2l6 2l6 5l6 3l6-3l6-1l6-5l7 5l6 2l6-3l6 6l6-3l6 3l6 5l6-1l7-4l6-1l6 1l6 2l6-2l6 0l6 0l6-3l7 1l6 5l6 1l6 1l6-1l6-3l6-2l6 4l6 3l7 2l6 2l6-7l6 3l6 2l6-5l6 5l6 1l7 1l6 6l6 2l6-9l6 5l6 9l6 0l6 0l7 0l6 2l6 5l6 0l6-2l6 5l6 4l6 2l7 5l6-6l6 1l6 3l6 1l6-1l6 5l6 5l6-3l7 8l6-1l6-3l6 0l6 5l6 2l6 2l6 2l7 2l6-2l6 2l6-1l6 4l6 4l6 3l6-4l7 7l6-1l6 6l6 0l6 3l6 3l6 3l6 2l7 0l6-2l6 3l6 6l6-1l6 9l6-2l6-5l6 11l7 0l6-2l6-2l6 3l6 6l6-2l6 1l6 7l7 2l6 5l6 1l6-3l6 7" stroke="#348ABD"/>
<path d="M1236 662l7 2l6 1l6-2l6 1l6 1l6 1l6 1l6 1l7-4l6 4l6 2l6-4l6-4l6 2l6 2l6-5l7 2l6 4l6-1l6-2l6 3l6-3l6 3l6-1l7 0l6 7l6-7l6-1l6 1l6 0l6 2l6-4l6 3l7-2l6 7l6-7l6 3l6 1l6 4l6 1l6-2l7 9l6-8l6 3l6 1l6-2l6-2l6 0l6 3l7 1l6 7l6-10l6 13l6-4l6 7l6-11l6 10l7-12l6 10l6-7l6 9l6-8l6 10l6-6l6 7l6-8l7 7l6-4l6 6l6-5l6 8l6-6l6 11l6-13l7 16l6-13l6 7l6-6l6 17l6-12l6 12l6-8l7 11l6-10l6 8l6-5l6 9l6-4l6 6l6-2l7 13l6-9l6 8l6-10l6 17l6-10l6 10l6-14l6 16l7-4l6 13l6-11l6 9l6-9l6 12l6-6l6 10l7-9l6 5l6-3l6 15l6-9l6 11l6-4l6 7l7-10l6 11l6-5l6 10l6-10l6 9l6-7l6 15l7-12l6 8l6-4l6 18l6-15l6 9l6-7l6 13l6-12l7 11l6-6l6 12l6-9l6 9l6-7l6 15l6-8l7 9l6-9l6 13l6-11l6 14" stroke="#988ED5"/>
<path d="M1236 618l7 2l6-2l6 1l6 0l6-4l6 2l6 2l6 0l7 2l6-4l6 4l6 0l6-5l6 3l6 0l6 0l7 5l6-3l6-2l6 1l6-1l6 4l6-1l6 1l7-1l6 3l6 0l6-3l6 2l6-2l6-3l6 3l6 1l7-1l6 4l6 1l6 2l6 1l6-6l6 6l6 0l7 2l6 1l6 1l6 1l6-1l6 2l6 0l6 2l7 2l6 0l6-3l6 6l6 1l6-2l6 1l6 4l7 3l6-1l6-3l6 1l6 3l6 2l6 1l6 1l6 4l7 1l6-2l6-4l6 3l6 6l6 1l6-1l6 2l7-2l6 3l6 1l6 2l6-3l6 0l6 0l6 0l7 2l6-2l6 5l6-2l6 2l6 2l6 1l6-2l7 1l6-2l6 5l6-1l6 2l6-2l6-2l6 5l6-3l7 5l6-5l6 3l6 0l6 4l6-5l6 3l6 2l7-2l6 3l6 1l6 0l6 2l6-4l6-2l6 5l7-4l6 0l6 4l6-1l6-4l6 5l6 2l6 2l7-7l6 0l6 5l6 0l6-2l6 2l6-3l6 2l6-2l7 1l6 1l6 2l6-2l6-1l6 5l6-3l6-3l7 0l6 1l6 2l6 3l6 0" stroke="#777777"/>
<path d="M1236 615l7-5l6 4l6-3l6 2l6-4l6 6l6 0l6-3l7-3l6 7l6 0l6 2l6-5l6-2l6 4l6 0l7 4l6 2l6-2l6 2l6-2l6 2l6-3l6 3l7 1l6-1l6 1l6-2l6 5l6 2l6-3l6 0l6 3l7 3l6 0l6-1l6 1l6 2l6 1l6-3l6-2l7-1l6 6l6 3l6-3l6 2l6-2l6 0l6 3l7 1l6 4l6 1l6-4l6-4l6 8l6 2l6-1l7-3l6 6l6-3l6-3l6 8l6 0l6-4l6-1l6 4l7-2l6-1l6 6l6-1l6 1l6 1l6-1l6 3l7 3l6 1l6 0l6-2l6-3l6 3l6 2l6 1l7-3l6 2l6 1l6 2l6-1l6 2l6-3l6 2l7-2l6 2l6 1l6 6l6-2l6 2l6-3l6 0l6 1l7 2l6-3l6 8l6-4l6 2l6 3l6 0l6-1l7 0l6-2l6 4l6 2l6-3l6-1l6 5l6 2l7-1l6 1l6-1l6 4l6 2l6-8l6 3l6 1l7 3l6 5l6-3l6 0l6 5l6 2l6 0l6 2l6 5l7-3l6 0l6 7l6-6l6 6l6 4l6 1l6-1l7 1l6 5l6-2l6 0l6 4" stroke="#FBC15E"/>
<path d="M1236 678l7-1l6 0l6-3l6-1l6-1l6 3l6 4l6 2l7-1l6-2l6 2l6 1l6-3l6 0l6 0l6-6l7 1l6 5l6-4l6 2l6 2l6 0l6-8l6 5l7 3l6-2l6 0l6-3l6 6l6-4l6 8l6-8l6 7l7-12l6 10l6-9l6 8l6-8l6 10l6-5l6 10l7-9l6 7l6-8l6 11l6-9l6 7l6-6l6 12l7-11l6 11l6-13l6 10l6-8l6 13l6-10l6 7l7-8l6 11l6-2l6 9l6-12l6 8l6-10l6 12l6-5l7 8l6-9l6 15l6-12l6 9l6-11l6 8l6-8l7 13l6-8l6 11l6-6l6 8l6-8l6 9l6-8l7 14l6-8l6 11l6-9l6 18l6-10l6 4l6-7l7 9l6-5l6 16l6-11l6 11l6-8l6 8l6-11l6 16l7-14l6 13l6-3l6 7l6-8l6 13l6-5l6 8l7-7l6 6l6-4l6 15l6-13l6 14l6-14l6 16l7-11l6 15l6-8l6 10l6-7l6 9l6-5l6 7l7-8l6 18l6-15l6 14l6-5l6 10l6-8l6 10l6-9l7 11l6-2l6 10l6-7l6 15l6-10l6 13l6-12l7 13l6-10l6 13l6-8l6 11" stroke="#8EBA42"/>
<path d="M1236 637l7 4l6-1l6-4l6-2l6 3l6-2l6 0l6-1l7 4l6 4l6 0l6-2l6 4l6 0l6 2l6 1l7 2l6-5l6 3l6-1l6 0l6 2l6 2l6 0l7 2l6-2l6 1l6-3l6 2l6 0l6 3l6 4l6-3l7-3l6-1l6 0l6 4l6 2l6-1l6 2l6-1l7-1l6 0l6 5l6-4l6 8l6-1l6 1l6-1l7 1l6-3l6 5l6-2l6 4l6 0l6-1l6-2l7 6l6 4l6-7l6 4l6 1l6 0l6-3l6 1l6-1l7 0l6 3l6 3l6-3l6 1l6 2l6 7l6-1l7-1l6 3l6-1l6-4l6 7l6 2l6 1l6-1l7 11l6 0l6-3l6 4l6 6l6-2l6 5l6-3l7 1l6 4l6 5l6-1l6 3l6 2l6 3l6 2l6 3l7-2l6 0l6 6l6 5l6-3l6 0l6 3l6 1l7 3l6 4l6 3l6 4l6 1l6 6l6-5l6 6l7 0l6 1l6 2l6 2l6 4l6 1l6-1l6 1l7 6l6 0l6 6l6-1l6 0l6 5l6-4l6 7l6-3l7 7l6-2l6 7l6 0l6 3l6-2l6 3l6 1l7 1l6 4l6 2l6-1l6 4" stroke="#FFB5B8"/>
<path d="M1236 666l7 1l6-1l6 0l6 6l6-1l6 1l6-1l6 1l7 5l6-1l6-6l6 2l6 1l6-1l6 7l6-5l7 7l6-9l6 9l6-1l6 1l6-7l6 9l6-6l7 5l6-6l6 10l6-10l6 2l6-1l6 11l6-10l6 5l7-1l6 10l6-6l6 5l6-6l6 5l6-6l6 9l7-10l6 2l6 1l6 5l6-7l6 8l6-8l6 8l7-10l6 8l6-4l6 4l6-7l6 4l6-5l6 9l7-11l6 9l6-6l6 4l6-2l6 6l6-4l6 0l6-1l7 9l6-6l6 0l6-7l6 11l6-5l6 0l6-1l7 8l6-3l6 0l6 1l6 11l6-8l6 6l6-4l7 9l6-2l6 6l6-12l6 14l6-10l6 3l6-4l7 10l6-6l6 7l6 1l6 4l6-2l6 11l6-11l6 10l7-8l6 11l6-10l6 7l6-3l6 10l6-5l6 5l7-4l6 9l6-9l6 7l6-7l6 7l6 0l6 6l7-4l6 10l6-9l6 8l6-7l6 9l6-8l6 9l7-6l6 5l6-7l6 12l6 0l6 8l6-12l6 4l6-4l7 6l6-1l6 9l6-10l6 8l6-5l6 7l6-4l7 12l6-11l6 8l6-3l6 8" stroke="#E24A33"/>
<path d="M1236 661l7-3l6 1l6-5l6 4l6 0l6-1l6 5l6 2l7-5l6-1l6 7l6-2l6-3l6 4l6 0l6 0l7 2l6 1l6 6l6-2l6-2l6-1l6-4l6-3l7 2l6 5l6 4l6 0l6-3l6 2l6 0l6-2l6 5l7 2l6-5l6 1l6 0l6 2l6 4l6-4l6 4l7-1l6 0l6 1l6 4l6-2l6 5l6-3l6 2l7-5l6 7l6-3l6 6l6-2l6 6l6-11l6 14l7-13l6 12l6-12l6 12l6-13l6 12l6-8l6 12l6-11l7 14l6-11l6 15l6-15l6 10l6-9l6 14l6-9l7 15l6-11l6 11l6-7l6 7l6-10l6 15l6-8l7 11l6-8l6 9l6-7l6 13l6-7l6 10l6-10l7 14l6-13l6 19l6-7l6 16l6-13l6 12l6-11l6 12l7-13l6 18l6-14l6 17l6-8l6 10l6-11l6 14l7-7l6 10l6-10l6 18l6-12l6 13l6-10l6 16l7-16l6 18l6-12l6 15l6-11l6 18l6-18l6 13l7-7l6 12l6-8l6 12l6-8l6 18l6-12l6 14l6-11l7 18l6-14l6 11l6-11l6 16l6-15l6 16l6-11l7 15l6-8l6 12l6-8l6 14" stroke="#348ABD"/>
<path d="M1236 626l7 0l6 0l6-1l6 2l6-4l6 5l6 0l6 0l7 1l6 3l6-2l6 2l6-1l6-1l6-1l6 2l7 2l6-6l6 4l6-3l6 5l6 0l6-3l6 5l7 2l6-4l6-2l6 1l6 2l6 3l6-1l6-1l6 2l7 5l6-5l6 4l6 2l6 0l6-4l6 5l6-1l7-4l6 3l6 3l6 3l6 3l6-6l6 6l6-2l7-1l6 3l6 1l6-2l6 2l6-2l6 1l6-1l7 8l6-1l6 0l6 2l6 4l6-2l6-3l6 0l6 5l7 0l6 1l6-1l6 3l6 2l6 3l6-4l6-4l7 4l6 1l6 0l6 6l6-2l6-2l6 1l6 4l7 3l6 1l6-3l6 4l6 0l6 0l6 2l6 3l7-2l6 3l6 0l6-3l6 1l6 8l6 0l6-4l6 4l7-3l6 0l6 0l6-1l6 7l6 2l6 0l6 1l7-3l6 1l6 4l6 1l6 2l6 0l6 2l6-6l7 1l6 4l6 1l6-2l6 2l6-2l6 3l6-4l7 3l6 6l6 2l6 0l6-5l6 4l6-1l6 5l6-2l7 4l6 0l6-1l6 4l6-8l6 7l6 1l6-5l7 1l6 9l6-3l6-3l6 5" stroke="#988ED5"/>
<path d="M1236 672l7 1l6 2l6 1l6-1l6 4l6-1l6 1l6-6l7 4l6-1l6 4l6-8l6 5l6-3l6 6l6-8l7 7l6-5l6 7l6-2l6 0l6-6l6 4l6-12l7 12l6-6l6 8l6-4l6 6l6-6l6 4l6-10l6 8l7-3l6 3l6-2l6 4l6-5l6 9l6-7l6 4l7-5l6 13l6-3l6 2l6-5l6 9l6-10l6 6l7-7l6 8l6-8l6 11l6-4l6 4l6-5l6 11l7-6l6 3l6-5l6 9l6-6l6 6l6-5l6 5l6-7l7 10l6-12l6 9l6-3l6 2l6-2l6 11l6-3l7 6l6-4l6 10l6-7l6 8l6-9l6 8l6-1l7 4l6-2l6 12l6-7l6 3l6-2l6 10l6-5l7 8l6-6l6 7l6-2l6 5l6-7l6 10l6-6l6 9l7-2l6 8l6-8l6 9l6-4l6 13l6-8l6 12l7-11l6 9l6-5l6 11l6-4l6 10l6-4l6 4l7-3l6 7l6-5l6 4l6-5l6 5l6 0l6 10l7-6l6 5l6 1l6 3l6-3l6 6l6-5l6 9l6-3l7 6l6-8l6 13l6-7l6 7l6-5l6 6l6-5l7 8l6-8l6 10l6-9l6 15" stroke="#777777"/>
<path d="M1236 646l7 0l6-2l6 1l6-3l6 4l6 2l6 0l6 2l7 0l6 1l6 4l6 0l6-1l6 4l6-3l6-4l7 0l6 4l6 2l6-2l6 1l6-3l6 0l6 1l7 1l6-2l6 1l6-5l6 3l6 3l6 2l6 1l6 2l7-2l6-1l6-3l6 3l6 0l6 2l6 0l6 3l7-5l6 8l6-6l6 9l6-5l6 8l6-8l6 4l7-8l6 12l6-11l6 17l6-18l6 16l6-15l6 11l7-11l6 22l6-13l6 11l6-10l6 10l6-17l6 12l6-7l7 15l6-15l6 11l6-9l6 15l6-17l6 10l6-10l7 15l6-7l6 13l6-8l6 8l6-5l6 14l6-11l7 12l6-14l6 14l6-6l6 12l6-11l6 11l6-4l7 13l6-9l6 11l6-13l6 16l6-16l6 20l6-11l6 15l7-7l6 12l6-12l6 15l6-10l6 13l6-9l6 10l7-10l6 14l6-11l6 21l6-11l6 8l6-7l6 10l7-10l6 14l6-9l6 16l6-9l6 14l6-15l6 13l7-12l6 17l6-12l6 10l6-7l6 14l6-11l6 7l6-9l7 11l6-13l6 20l6-10l6 20l6-14l6 13l6-12l7 13l6-5l6 9l6-10l6 16" stroke="#FBC15E"/>
<path d="M1236 606l7 2l6 0l6-1l6 1l6 3l6 0l6 1l6-1l7 5l6-1l6-4l6 5l6 1l6-2l6 4l6-2l7-1l6-1l6 1l6 1l6 2l6 0l6 0l6 0l7-1l6 0l6 1l6 1l6 2l6 2l6-2l6-2l6 4l7-1l6 2l6 1l6 3l6-1l6-2l6 1l6-1l7 4l6 6l6-5l6 1l6-2l6-2l6 1l6 9l7-1l6 0l6-5l6 5l6 1l6-3l6 7l6 0l7 2l6 0l6-3l6 1l6 1l6 0l6 2l6 0l6-1l7 3l6-1l6 2l6-2l6-2l6 2l6 0l6 4l7 1l6 0l6 2l6-2l6 2l6 4l6 1l6-3l7-5l6 4l6 6l6-2l6 2l6 3l6-9l6-1l7 6l6 2l6 2l6-2l6 0l6-1l6 6l6 0l6-2l7 2l6 5l6-2l6-3l6 8l6-7l6 3l6-3l7 1l6 2l6 2l6 2l6 2l6-1l6 0l6 5l7 0l6 5l6 0l6-1l6-3l6 1l6 1l6 2l7 3l6-3l6 0l6 5l6 0l6 0l6 4l6 1l6-2l7 1l6-1l6 4l6-1l6 1l6-2l6 7l6 1l7 3l6-2l6 0l6-1l6 5" stroke="#8EBA42"/>
<path d="M1236 618l7 2l6 4l6-4l6-3l6 3l6-1l6 4l6-1l7 0l6 4l6 4l6 0l6-1l6-1l6 7l6-6l7 1l6 3l6 4l6 1l6-2l6 0l6 1l6 5l7 0l6-1l6 1l6 2l6-1l6-2l6 6l6-4l6 5l7 2l6 2l6-4l6 0l6-1l6 5l6 2l6-6l7 2l6 8l6 0l6-3l6-4l6-1l6 7l6-2l7 2l6 2l6 1l6 2l6 1l6-1l6-2l6 5l7-6l6 4l6-2l6 4l6 3l6-5l6 0l6 7l6-3l7 5l6-5l6 1l6-1l6 5l6-4l6 6l6-4l7 6l6-5l6 12l6-10l6 3l6-6l6 12l6-4l7 9l6-11l6 8l6-2l6 7l6-10l6 11l6-6l7 10l6-3l6 3l6-7l6 8l6-8l6 11l6-4l6 7l7-3l6 11l6-9l6 8l6-6l6 6l6-8l6 11l7-2l6 9l6-9l6 7l6-8l6 7l6-11l6 15l7-9l6 11l6-6l6 10l6-10l6 9l6-8l6 7l7 2l6 8l6-8l6 8l6-6l6 13l6-12l6 15l6-9l7 11l6-5l6 6l6-2l6 6l6-5l6 12l6-7l7 8l6-7l6 7l6 0l6 10" stroke="#FFB5B8"/>
<path d="M1236 608l7 2l6-1l6 0l6-1l6-1l6 4l6 3l6 0l7-1l6 1l6-1l6 3l6-1l6-1l6 3l6-3l7-3l6 11l6-2l6-1l6-3l6 4l6-1l6-4l7 2l6 3l6 2l6-2l6 0l6 0l6 1l6 6l6-1l7-1l6-1l6-1l6 3l6-2l6-2l6 2l6 1l7 3l6 3l6-2l6 0l6-1l6 3l6 4l6 1l7-2l6 5l6-6l6 3l6 1l6 1l6-4l6 7l7-3l6 0l6-1l6 1l6 5l6 4l6 3l6-3l6-3l7 1l6 2l6-1l6 4l6-4l6-2l6 1l6 2l7-1l6 8l6 2l6-2l6 1l6 1l6-1l6 3l7-4l6 4l6 7l6-2l6 1l6 3l6-4l6 4l7 4l6-2l6-5l6 3l6-3l6 3l6-1l6 3l6 2l7 10l6 0l6 1l6-2l6-3l6 1l6 1l6 7l7 1l6-1l6-1l6 1l6 4l6 3l6-4l6 4l7-1l6 0l6 0l6 3l6 3l6-2l6 2l6-1l7 4l6-1l6 2l6-7l6 8l6 0l6 0l6 1l6 2l7 1l6-2l6-4l6 0l6-1l6 6l6 1l6-2l7 1l6 2l6 1l6 0l6 3" stroke="#E24A33"/>
<path d="M1236 606l7 0l6 6l6 0l6 6l6 0l6-2l6-2l6 0l7 4l6-5l6 11l6 1l6-6l6-2l6-1l6 7l7 3l6 2l6 0l6-3l6 1l6 1l6-1l6 2l7 0l6-3l6 5l6 0l6 3l6-3l6 5l6 1l6-3l7 6l6-7l6 1l6 3l6 2l6-1l6 0l6 4l7-1l6 3l6 1l6-1l6 0l6 2l6 0l6 2l7 0l6-4l6 0l6 6l6 6l6-5l6-4l6 5l7 0l6 1l6 1l6 2l6 0l6 2l6 1l6-1l6 5l7-5l6 2l6 0l6 4l6 4l6-3l6 1l6 6l7-7l6-2l6 4l6 1l6-2l6 2l6 10l6-7l7 7l6-1l6-5l6 6l6 4l6-2l6 1l6 5l7-7l6 3l6 1l6 1l6 1l6-2l6 3l6 3l6-1l7 1l6 0l6 4l6-1l6 0l6 5l6-2l6 1l7-2l6-1l6 4l6 5l6 0l6 3l6 0l6-5l7 1l6 2l6 3l6-2l6-4l6 1l6 1l6 0l7-2l6 0l6 2l6 6l6-5l6-1l6 1l6-3l6 4l7-2l6 0l6 3l6-2l6-2l6-3l6 1l6 1l7-2l6 6l6-2l6 0l6-4" stroke="#348ABD"/>
<path d="M1236 621l7 2l6 0l6-2l6-1l6 3l6-2l6 3l6 2l7 0l6 1l6-2l6 0l6 4l6 1l6 2l6-2l7 1l6 0l6 5l6-2l6 2l6 2l6-1l6 1l7-1l6 0l6 1l6 0l6 1l6 2l6 2l6-3l6 0l7 0l6 5l6 2l6-1l6-2l6 2l6-1l6 5l7-2l6 6l6 0l6 1l6-3l6 2l6 0l6-1l7 3l6-2l6 5l6-4l6 5l6 3l6-3l6-3l7 8l6-4l6-1l6 2l6 5l6 2l6-3l6 6l6-6l7-2l6 7l6 2l6-3l6 3l6-2l6 2l6 2l7 1l6-1l6 1l6 3l6-1l6 0l6 3l6 7l7 2l6 0l6 0l6-1l6 5l6-1l6 6l6-1l7 3l6 2l6-2l6 5l6 1l6-2l6 4l6 6l6 3l7 0l6 0l6 1l6 6l6 2l6 3l6-1l6 0l7 2l6 1l6 3l6 2l6-2l6 3l6 4l6 2l7-3l6 3l6 3l6-2l6 5l6-2l6 2l6-1l7-5l6 4l6 5l6 4l6-3l6 0l6 3l6 0l6-1l7 3l6-1l6-2l6 3l6-4l6 5l6 2l6-4l7 2l6 2l6 2l6-3l6 2" stroke="#988ED5"/>
<path d="M1236 656l7-1l6 5l6-2l6 2l6-2l6 4l6-2l6-2l7 1l6 0l6 2l6 5l6-2l6 0l6-5l6 1l7 3l6-3l6 0l6 5l6-5l6 0l6-5l6 2l7 9l6-7l6 4l6-2l6 4l6-6l6 8l6-4l6 3l7-6l6 10l6-11l6 9l6-11l6 6l6-2l6 5l7-2l6 5l6-2l6 6l6-9l6 4l6-7l6 5l7-6l6 10l6-6l6 8l6-7l6 11l6-8l6 1l7-5l6 9l6-8l6 6l6-5l6 8l6-4l6 4l6-7l7 7l6-10l6 9l6-6l6 4l6-5l6 14l6-9l7 9l6-5l6 3l6-9l6 10l6 2l6 5l6-6l7 7l6-11l6 9l6-6l6 9l6-7l6 10l6-2l7 5l6-4l6 9l6-3l6 4l6-7l6 2l6-1l6 9l7-7l6 5l6-1l6 6l6-10l6 5l6 0l6 11l7-8l6 7l6-9l6 6l6-3l6 10l6-7l6 10l7-4l6 6l6-11l6 7l6-5l6 16l6-8l6 10l7-7l6 6l6-5l6 11l6-2l6 4l6-7l6 12l6-3l7 6l6-4l6 5l6-6l6 8l6-1l6 10l6-5l7 6l6-6l6 8l6-2l6 6" stroke="#777777"/>
<path d="M1236 641l7 0l6 2l6 1l6-2l6 1l6 0l6 4l6-2l7-4l6 6l6-1l6 1l6 0l6-1l6 3l6-2l7 0l6 3l6-1l6-2l6 0l6 4l6-1l6 2l7 3l6-6l6 1l6 2l6 3l6 0l6 2l6-5l6 5l7 1l6-2l6 2l6-1l6 1l6 1l6 1l6 5l7-5l6-1l6 1l6 1l6 3l6-1l6 2l6 0l7 2l6-2l6-3l6 0l6 4l6 1l6-4l6 2l7-1l6-3l6 1l6 6l6 5l6-8l6 5l6 2l6-1l7-1l6-2l6 3l6 1l6-3l6 3l6-7l6 8l7 0l6-2l6 3l6 6l6-1l6-3l6 5l6 5l7-2l6 6l6-5l6 0l6 2l6 4l6-3l6-1l7 1l6 5l6 1l6 3l6-2l6 4l6 4l6 0l6-1l7 2l6 1l6 4l6-1l6 1l6 1l6 2l6 1l7 3l6-4l6 8l6-2l6-1l6 7l6 3l6-4l7-5l6 3l6 5l6 3l6 2l6 3l6 0l6-3l7 3l6 0l6 0l6 4l6 1l6 0l6 3l6 0l6-1l7 2l6 6l6-2l6 1l6 1l6 4l6-1l6 1l7 2l6 2l6 0l6 5l6-3" stroke="#FBC15E"/>
<path d="M1236 648l7 2l6-2l6 1l6 1l6 1l6 1l6 0l6-2l7 1l6 2l6-3l6 0l6-1l6 1l6-3l6 1l7 2l6 0l6-1l6 2l6-1l6 2l6-3l6 3l7 9l6-7l6 0l6 0l6-2l6 8l6 0l6-3l6 2l7-5l6 0l6 2l6-2l6 7l6-2l6-3l6-1l7 2l6-2l6 3l6 3l6 0l6-5l6-1l6 5l7 2l6 1l6 5l6 0l6-1l6 2l6 0l6 3l7-2l6-3l6 2l6-1l6 3l6 3l6-1l6 4l6 0l7-1l6 1l6-2l6 3l6-3l6 0l6 2l6 3l7 3l6-2l6 2l6-5l6 3l6 1l6 7l6 1l7 2l6 6l6-4l6 2l6 1l6 0l6-1l6 2l7-2l6 7l6-1l6 4l6 1l6-2l6 2l6 2l6 2l7 0l6 0l6 2l6 4l6 0l6 2l6 1l6 2l7-1l6 3l6 3l6 5l6 2l6-3l6 3l6-3l7 2l6 1l6 2l6-5l6 3l6 3l6 1l6 8l7 0l6-5l6-1l6 6l6 5l6 1l6-4l6 1l6-2l7 4l6 0l6 0l6 2l6 2l6 2l6 0l6 0l7-2l6 3l6 3l6 2l6 1" stroke="#8EBA42"/>
<path d="M1236 625l7 1l6-2l6-1l6 1l6 6l6-4l6 0l6-3l7 3l6 0l6 1l6 3l6-3l6-4l6 6l6-4l7-1l6 7l6 2l6 0l6 1l6 0l6 1l6-2l7-1l6-2l6 3l6 3l6-3l6-1l6 4l6-2l6 4l7 0l6-1l6 0l6-2l6 2l6 0l6-1l6 6l7-3l6-2l6 3l6-2l6 6l6 1l6 2l6-6l7 4l6-2l6 6l6-5l6 5l6 0l6 5l6-1l7-6l6 5l6-6l6-3l6 6l6 5l6-1l6-1l6 6l7-2l6-2l6-1l6 6l6-2l6-1l6-2l6 2l7-1l6 2l6 5l6-7l6 4l6 3l6 3l6-3l7 4l6 0l6 4l6-2l6 11l6-7l6 3l6-7l7 16l6-10l6 15l6-13l6 13l6-16l6 16l6-15l6 22l7-13l6 19l6-11l6 10l6-9l6 11l6-10l6 10l7-14l6 21l6-15l6 15l6-13l6 17l6-15l6 14l7-10l6 19l6-8l6 7l6-12l6 19l6-12l6 5l7-5l6 13l6-14l6 11l6-8l6 15l6-7l6 12l6-11l7 17l6-10l6 9l6-13l6 10l6-5l6 21l6-20l7 16l6-14l6 20l6-11l6 11" stroke="#FFB5B8"/>
<path d="M1236 608l7-1l6 3l6 0l6 3l6 3l6 0l6-3l6 0l7 0l6 4l6 0l6-2l6-2l6 1l6 2l6 2l7 3l6-2l6-4l6 3l6 1l6-1l6-6l6 6l7 4l6 3l6 2l6-5l6-1l6 2l6-2l6 0l6 3l7-1l6-2l6 6l6-1l6 0l6 6l6-9l6 2l7-1l6 8l6 0l6-3l6 5l6-5l6 7l6 0l7 2l6 4l6-2l6 0l6 3l6 0l6-3l6 0l7 2l6 0l6-1l6 4l6 4l6-1l6 0l6 3l6-1l7 0l6-1l6 5l6-3l6 3l6 5l6-4l6 0l7 2l6 4l6-3l6 4l6 2l6-1l6-3l6 2l7 1l6 4l6-4l6 3l6-1l6-5l6 5l6 6l7 3l6 0l6 1l6-3l6-3l6 3l6 2l6-1l6 4l7 0l6-2l6-1l6 4l6 2l6 1l6-1l6-3l7 3l6 5l6-4l6-1l6 0l6 1l6 4l6 3l7-2l6 1l6 0l6-3l6 8l6 2l6 0l6-1l7-2l6-1l6 3l6-4l6 3l6-2l6-2l6 1l6 4l7 1l6-1l6-1l6 5l6 2l6-1l6-4l6 2l7 1l6 4l6 2l6-4l6 3" stroke="#E24A33"/>
<path d="M1236 671l7-2l6-2l6 2l6-3l6-1l6 0l6 2l6-1l7 5l6 0l6-2l6 7l6 0l6-5l6 0l6 1l7 1l6-4l6 1l6 3l6 4l6-3l6 3l6-2l7 1l6-4l6 4l6-1l6-3l6 8l6-2l6 3l6-7l7 1l6 1l6 1l6-1l6 0l6 2l6-1l6 2l7-3l6 7l6 0l6-2l6 0l6 4l6-4l6 1l7-1l6 5l6-2l6 3l6 0l6 0l6 3l6 1l7-4l6 6l6-2l6-2l6-1l6 5l6 4l6-4l6 3l7 0l6 3l6 2l6 0l6-1l6 4l6-6l6 3l7-2l6 1l6 6l6 2l6 3l6 1l6 1l6 1l7 1l6 2l6 4l6 5l6-2l6 2l6 0l6 4l7 0l6 5l6-1l6 2l6 1l6-5l6 5l6 5l6 1l7 3l6 2l6 2l6 1l6 2l6-1l6 1l6 0l7 4l6 3l6-3l6 10l6 0l6 1l6 1l6 5l7 2l6 4l6 1l6 5l6-4l6 2l6 4l6-3l7 3l6 5l6-1l6 4l6 6l6-2l6-3l6 8l6 1l7-1l6 2l6 0l6 4l6-1l6 4l6 3l6 1l7 3l6 2l6 3l6 3l6 1" stroke="#348ABD"/>
<path d="M1236 638l7 0l6-2l6 2l6-2l6-1l6-6l6 0l6 4l7 1l6 0l6-1l6 6l6-4l6-2l6 0l6 3l7 2l6 1l6-8l6-1l6-2l6 4l6 2l6 3l7-4l6 3l6-1l6-5l6-3l6 4l6-2l6 1l6 0l7 4l6-3l6 0l6 0l6 0l6 1l6 0l6 4l7-2l6 3l6-1l6 1l6 2l6 0l6 1l6-3l7 3l6-1l6 0l6-4l6 2l6 6l6 3l6-2l7-2l6 3l6-2l6 6l6 3l6-2l6-4l6-1l6 2l7-2l6 2l6 2l6-3l6 3l6 4l6-2l6 4l7-4l6 3l6 5l6-5l6 0l6 4l6-1l6-1l7 3l6 0l6-1l6 3l6 1l6-4l6 5l6 2l7 0l6-2l6 4l6 1l6 1l6-5l6 1l6 3l6-1l7 6l6 1l6-1l6-3l6 7l6-2l6 1l6 1l7 0l6 3l6-4l6 4l6-1l6 4l6 0l6 3l7-7l6-4l6 5l6 1l6-4l6 5l6 0l6 3l7-4l6 1l6-2l6 0l6 5l6 1l6-2l6-1l6 1l7-1l6-1l6 3l6 0l6 1l6 3l6-5l6-3l7 4l6-4l6 0l6 5l6 1" stroke="#988ED5"/>
<path d="M1236 650l7 0l6 1l6 5l6-3l6 1l6 1l6 0l6 2l7 2l6-1l6-1l6-3l6 5l6 4l6-6l6 1l7 5l6 1l6-1l6-2l6 3l6-2l6 2l6 4l7-1l6 5l6-1l6-2l6 3l6 0l6 3l6-2l6 4l7-2l6-3l6 3l6-3l6 1l6 0l6 4l6-1l7 3l6 0l6 0l6-2l6-3l6 6l6-4l6 8l7 2l6-9l6-1l6 3l6 1l6 1l6 5l6-3l7-1l6 8l6-9l6 3l6-7l6 7l6-3l6 5l6-4l7 7l6-11l6 11l6 1l6 4l6-5l6 6l6-12l7 9l6-2l6 7l6-9l6 9l6-9l6 13l6-7l7 8l6-3l6 5l6-7l6 6l6 2l6 4l6-7l7 5l6-4l6 9l6-4l6 3l6-3l6 4l6-3l6 8l7-3l6 10l6-9l6 7l6-9l6 13l6-5l6 2l7-2l6 9l6-3l6 5l6-10l6 5l6 1l6 4l7-3l6 8l6-9l6 9l6-6l6 7l6-6l6 8l7-6l6 11l6-3l6 8l6-8l6 10l6-8l6 8l6-9l7 13l6-9l6 7l6-9l6 14l6-6l6 10l6-5l7 6l6-7l6 6l6-2l6 10" stroke="#777777"/>
<path d="M1236 674l7 0l6-1l6-1l6-1l6 5l6 0l6-1l6 2l7 3l6-1l6-6l6 4l6-5l6 2l6 1l6-4l7-1l6 7l6-3l6 0l6 4l6 0l6 2l6-6l7-4l6 9l6 1l6-1l6 2l6-4l6 1l6 2l6 4l7 1l6-4l6 4l6-4l6 1l6-2l6 1l6 0l7 1l6 3l6 2l6 0l6-1l6-1l6 2l6-3l7 4l6 3l6 1l6 0l6-5l6 1l6 2l6 2l7 0l6 4l6-8l6 3l6 0l6 0l6 3l6 2l6 3l7-1l6 0l6 5l6-3l6 3l6-2l6-4l6-3l7 14l6-6l6 8l6-11l6 11l6-6l6 16l6-11l7 12l6-4l6 10l6-9l6 8l6-9l6 15l6-11l7 15l6-9l6 12l6-4l6 8l6-12l6 13l6-10l6 18l7-11l6 14l6-10l6 16l6-10l6 11l6-8l6 12l7-8l6 10l6-15l6 16l6-8l6 17l6-10l6 10l7-10l6 15l6-6l6 13l6-13l6 15l6-13l6 14l7-7l6 7l6 0l6 10l6-7l6 11l6-13l6 11l6-8l7 15l6-10l6 17l6-12l6 11l6-9l6 12l6-7l7 11l6-8l6 16l6-8l6 16" stroke="#FBC15E"/>
<path d="M1236 637l7-3l6-1l6-1l6 3l6 3l6-4l6-1l6 4l7 6l6-2l6-4l6 3l6 1l6-3l6 1l6 1l7 3l6-2l6 1l6-1l6 6l6-5l6-3l6 3l7 3l6-3l6 0l6 5l6 0l6 0l6 3l6-1l6-3l7-3l6 9l6-3l6 5l6 0l6-3l6 4l6-2l7 2l6-2l6 5l6-6l6 6l6 1l6 3l6-5l7 1l6 1l6-2l6 6l6 2l6-2l6 2l6 0l7 0l6 1l6 0l6 3l6-4l6 2l6 3l6 1l6-1l7 1l6-1l6-2l6 3l6 6l6-3l6 0l6 1l7 2l6 5l6-1l6 0l6 1l6-3l6 0l6 10l7-6l6 7l6 1l6-6l6 1l6 4l6 6l6 0l7 0l6 5l6-1l6 5l6-4l6 3l6 4l6-4l6 2l7-1l6 8l6 2l6 0l6 5l6-2l6 0l6 2l7 1l6 5l6-2l6-2l6 7l6 3l6-1l6 3l7 2l6 0l6 3l6 3l6-5l6 5l6-3l6 5l7-1l6 3l6 5l6-3l6 2l6 3l6-5l6 0l6 9l7 1l6 2l6 2l6-1l6 0l6 0l6 7l6-1l7-1l6 9l6-1l6 2l6-2" stroke="#8EBA42"/>
<path d="M1236 670l7-1l6-2l6 3l6 2l6 3l6 1l6-4l6-4l7 3l6 1l6 1l6-3l6-3l6 3l6 1l6-1l7 2l6-1l6-3l6 1l6 5l6-7l6-5l6 10l7 0l6-2l6-3l6 7l6-6l6-1l6 1l6 2l6 5l7-3l6 1l6-2l6 2l6 3l6-7l6-3l6 9l7-1l6 3l6-3l6 3l6-2l6 3l6-2l6 5l7-3l6 0l6-1l6 1l6-2l6 0l6 5l6 0l7 3l6 0l6-5l6 5l6-2l6-3l6 2l6 0l6 6l7 0l6 2l6-5l6 3l6 2l6 0l6-3l6 6l7-3l6 2l6 2l6 0l6 3l6 3l6 3l6-3l7 4l6 0l6 1l6-3l6 8l6-2l6-1l6 0l7 1l6-1l6 3l6 2l6 0l6 0l6 1l6 0l6-1l7 0l6 6l6 2l6-6l6 5l6 6l6-2l6-2l7-2l6 2l6 0l6 2l6-1l6 6l6-1l6-1l7 1l6-2l6 5l6-4l6 1l6 5l6-1l6 0l7 6l6-4l6 1l6 0l6 4l6-4l6-4l6 0l6 0l7 2l6 0l6 5l6 0l6-1l6 0l6 1l6 0l7-3l6 5l6-3l6 0l6 0" stroke="#FFB5B8"/>
<path d="M1236 613l7-1l6-2l6-4l6 2l6 1l6-1l6 7l6-3l7 8l6-3l6-2l6 3l6 4l6-1l6-5l6-1l7 0l6 2l6-2l6 1l6 3l6 0l6-5l6 5l7 4l6 1l6 3l6-1l6-6l6 0l6 0l6 0l6 4l7 1l6-1l6-3l6 4l6 5l6 0l6-5l6 3l7 5l6-2l6-1l6 4l6 1l6 2l6 3l6-1l7-3l6 0l6 2l6 5l6-2l6-2l6 0l6 5l7 2l6-3l6 2l6-2l6 1l6 1l6 3l6 5l6-3l7 2l6-1l6 2l6 0l6 3l6 0l6-2l6-1l7 7l6-1l6 1l6 1l6 2l6 0l6 3l6-1l7-2l6 8l6-4l6 6l6 0l6 2l6-2l6 2l7 0l6 7l6-2l6-2l6 2l6 4l6 0l6-3l6 1l7 1l6 6l6 1l6 2l6 1l6 3l6 1l6-4l7 6l6-2l6 3l6 3l6-2l6 2l6-2l6-1l7 4l6 4l6 3l6 4l6-2l6 2l6-6l6 6l7 3l6 3l6-1l6 2l6 4l6-4l6 1l6-2l6 3l7 3l6 0l6 3l6-1l6 3l6 2l6 6l6 0l7-2l6 2l6 2l6-2l6 1" stroke="#E24A33"/>
<path d="M1236 650l7-1l6 8l6-5l6-2l6 3l6-2l6 4l6 3l7 2l6-2l6-2l6 0l6 4l6-1l6-2l6 0l7-2l6 6l6-2l6 1l6 0l6 2l6 0l6 3l7 0l6-4l6 3l6 1l6-2l6 0l6-2l6 5l6 1l7 1l6 0l6-4l6 7l6-3l6 5l6-4l6 11l7-9l6 10l6-11l6 10l6-6l6 6l6-8l6 12l7-6l6 11l6-11l6 10l6-9l6 9l6-7l6 12l7-10l6 10l6-3l6 8l6-13l6 10l6-6l6 11l6-10l7 11l6-5l6 10l6-17l6 14l6-8l6 9l6-7l7 9l6-6l6 12l6-7l6 10l6-11l6 9l6-5l7 9l6-2l6 12l6-3l6 4l6-7l6 14l6-10l7 11l6-8l6 8l6-6l6 12l6-6l6 8l6-3l6 8l7-9l6 9l6-1l6 8l6-6l6 10l6-9l6 11l7 0l6 5l6-5l6 7l6-5l6 12l6-9l6 9l7-4l6 6l6-4l6 9l6-11l6 14l6-7l6 9l7-8l6 10l6-5l6 11l6-7l6 11l6-3l6 6l6-8l7 4l6-1l6 13l6-7l6 10l6-10l6 12l6-9l7 12l6-7l6 9l6-8l6 14" stroke="#348ABD"/>
<path d="M1236 672l7 2l6 3l6-4l6-2l6-1l6-3l6 4l6 1l7 1l6-3l6-2l6 2l6-2l6 3l6 1l6-4l7-2l6 3l6 3l6-2l6 3l6-3l6 1l6 1l7-1l6-7l6 3l6 1l6 5l6-5l6 8l6-7l6 5l7-14l6 16l6-13l6 15l6-8l6 9l6-19l6 16l7-8l6 14l6-15l6 18l6-15l6 15l6-14l6 15l7-14l6 13l6-10l6 9l6-8l6 12l6-17l6 13l7-8l6 13l6-9l6 11l6-10l6 10l6-12l6 16l6-15l7 16l6-14l6 16l6-13l6 11l6-16l6 13l6-11l7 17l6-12l6 16l6-11l6 15l6-14l6 15l6-7l7 11l6-15l6 16l6-9l6 14l6-12l6 13l6-12l7 16l6-14l6 21l6-10l6 9l6-8l6 8l6-11l6 15l7-14l6 12l6-8l6 15l6-9l6 17l6-12l6 8l7-9l6 10l6-6l6 15l6-14l6 12l6-8l6 15l7-11l6 9l6-11l6 16l6-9l6 14l6-10l6 8l7-8l6 21l6-12l6 17l6-13l6 15l6-18l6 16l6-9l7 8l6-8l6 11l6-9l6 16l6-13l6 12l6-9l7 12l6-7l6 9l6-9l6 17" stroke="#988ED5"/>
<path d="M1236 688l7 6l6-6l6 7l6-6l6 6l6-6l6 6l6-7l7 7l6-7l6 7l6-6l6 6l6-6l6 7l6-7l7 7l6-7l6 7l6-6l6 7l6-7l6 7l6-7l7 6l6-6l6 6l6-6l6 6l6-6l6 7l6-6l6 7l7-7l6 6l6-6l6 7l6-6l6 6l6-7l6 7l7-6l6 6l6-6l6 6l6-7l6 7l6-6l6 6l7-6l6 7l6-7l6 7l6-6l6 6l6-7l6 6l7-6l6 7l6-6l6 6l6-6l6 7l6-6l6 6l6-6l7 6l6-6l6 6l6-5l6 7l6-7l6 6l6-5l7 8l6-6l6 8l6-5l6 8l6-5l6 8l6-5l7 7l6-5l6 8l6-5l6 8l6-5l6 9l6-5l7 7l6-6l6 9l6-5l6 7l6-4l6 7l6-5l6 8l7-5l6 7l6-5l6 8l6-5l6 8l6-6l6 8l7-4l6 8l6-5l6 8l6-4l6 7l6-6l6 8l7-5l6 9l6-4l6 8l6-5l6 8l6-4l6 7l7-4l6 7l6-4l6 8l6-4l6 8l6-5l6 8l6-4l7 9l6-5l6 8l6-5l6 8l6-4l6 8l6-5l7 8l6-4l6 8l6-5l6 8" stroke="#348ABD"/>
<path d="M1236 682l7 12l6-12l6 12l6-11l6 11l6-11l6 12l6-11l7 11l6-12l6 12l6-12l6 11l6-10l6 11l6-12l7 11l6-11l6 11l6-10l6 11l6-11l6 11l6-11l7 12l6-11l6 11l6-11l6 11l6-11l6 11l6-11l6 11l7-11l6 11l6-11l6 11l6-11l6 12l6-11l6 12l7-13l6 12l6-11l6 12l6-12l6 12l6-12l6 11l7-10l6 12l6-12l6 11l6-11l6 11l6-11l6 12l7-12l6 12l6-11l6 11l6-11l6 11l6-11l6 11l6-11l7 12l6-12l6 12l6-12l6 11l6-11l6 11l6-10l7 13l6-10l6 12l6-10l6 13l6-10l6 12l6-10l7 13l6-10l6 13l6-11l6 13l6-9l6 11l6-10l7 13l6-10l6 12l6-8l6 12l6-10l6 12l6-9l6 12l7-10l6 12l6-9l6 11l6-9l6 13l6-10l6 12l7-10l6 13l6-10l6 12l6-10l6 13l6-10l6 13l7-10l6 13l6-10l6 13l6-10l6 13l6-10l6 12l7-9l6 13l6-10l6 14l6-11l6 13l6-10l6 12l6-9l7 12l6-10l6 13l6-9l6 13l6-10l6 13l6-10l7 13l6-10l6 13l6-10l6 13" stroke="#988ED5"/>
<path d="M1236 700l7 0l6 0l6-1l6 0l6 0l6 0l6 0l6 1l7 0l6-1l6 0l6 0l6 0l6 0l6 0l6 1l7 1l6 0l6 0l6 0l6 0l6 0l6 0l6 0l7 0l6 0l6 0l6 0l6-1l6 1l6 0l6 0l6 0l7 1l6 1l6-1l6 0l6 0l6-1l6 0l6 0l7 0l6-1l6 1l6 0l6 0l6 1l6-1l6 1l7 0l6 0l6 0l6 0l6 0l6 0l6-1l6 0l7 1l6 0l6-1l6 1l6 1l6 0l6 0l6 0l6 0l7-1l6 0l6 0l6 0l6 0l6 0l6 1l6 0l7 1l6 0l6 0l6 2l6 1l6 0l6 1l6 1l7 1l6 0l6 0l6 1l6 1l6 1l6 0l6 1l7 0l6 1l6 1l6 0l6 1l6 0l6 1l6 1l6 0l7 1l6 1l6 0l6 1l6 1l6 1l6 1l6 0l7 0l6 2l6 0l6 2l6 0l6 1l6 0l6 2l7 1l6 1l6 1l6 1l6 1l6 1l6 1l6 1l7 1l6 1l6 1l6 1l6 1l6 1l6 0l6 1l6 1l7 1l6 1l6 1l6 0l6 1l6 2l6 2l6 2l7 0l6 0l6 1l6 2l6 1" stroke="#E24A33"/>
<path d="M1236 712l7 9l6-9l6 8l6-8l6 9l6-10l6 9l6-8l7 9l6-10l6 9l6-9l6 10l6-9l6 9l6-9l7 9l6-10l6 10l6-9l6 10l6-10l6 9l6-9l7 9l6-8l6 8l6-8l6 9l6-9l6 9l6-9l6 9l7-9l6 10l6-9l6 9l6-9l6 9l6-9l6 9l7-9l6 8l6-9l6 9l6-9l6 9l6-9l6 9l7-9l6 9l6-8l6 9l6-9l6 8l6-9l6 9l7-8l6 9l6-9l6 9l6-9l6 9l6-10l6 10l6-9l7 9l6-9l6 9l6-9l6 9l6-9l6 9l6-8l7 10l6-9l6 10l6-8l6 10l6-8l6 10l6-9l7 10l6-8l6 10l6-9l6 10l6-8l6 11l6-7l7 11l6-8l6 11l6-7l6 11l6-6l6 11l6-7l6 10l7-6l6 10l6-7l6 11l6-8l6 10l6-7l6 12l7-7l6 11l6-7l6 10l6-7l6 11l6-8l6 10l7-7l6 10l6-7l6 11l6-7l6 10l6-8l6 11l7-8l6 11l6-7l6 10l6-7l6 10l6-8l6 11l6-8l7 11l6-8l6 10l6-7l6 11l6-8l6 11l6-7l7 10l6-7l6 10l6-7l6 10" stroke="#E24A33"/>
<path d="M1236 676l7 0l6-1l6 0l6 1l6-1l6 1l6 0l6 0l7 0l6 1l6 1l6 0l6 2l6 0l6 1l6-1l7 1l6 0l6 1l6 0l6 1l6 1l6 1l6-1l7 1l6 0l6 0l6 0l6 0l6 2l6 1l6 1l6 1l7 0l6 0l6-1l6 1l6 1l6 0l6 0l6 0l7 1l6 1l6 0l6-1l6 1l6 2l6 0l6 0l7 1l6 0l6 0l6 0l6 1l6 0l6 1l6 0l7 0l6 49l6-48l6 1l6 0l6 2l6 0l6-1l6 1l7 0l6 2l6 0l6 1l6 0l6 0l6 1l6 1l7 3l6 2l6 4l6-3l6 11l6-7l6 15l6-14l7 19l6-17l6 21l6-17l6 20l6-17l6 21l6-17l7 21l6-17l6 21l6-15l6 21l6-17l6 20l6-16l6 21l7-17l6 20l6-18l6 21l6-17l6 21l6-17l6 21l7-17l6 20l6-19l6 23l6-17l6 21l6-16l6 21l7-18l6 22l6-18l6 22l6-17l6 21l6-17l6 22l7-18l6 22l6-17l6 21l6-16l6 22l6-17l6 22l6-18l7 22l6-18l6 22l6-17l6 22l6-18l6 22l6-16l7 21l6-17l6 22l6-17l6 22" stroke="#777777"/>
<path d="M1236 672l7 1l6 1l6 0l6 1l6 1l6-1l6 0l6 1l7 1l6 1l6 0l6 1l6 1l6 0l6 0l6 0l7 1l6 0l6 0l6 0l6 2l6 1l6 0l6-1l7 2l6 0l6-1l6 1l6 0l6 0l6 0l6 1l6 0l7 1l6 0l6 0l6 0l6 0l6 3l6 0l6 0l7 0l6 0l6 0l6 1l6 0l6 0l6 0l6 0l7 1l6 1l6 0l6 0l6 1l6 2l6-1l6 72l7-72l6 1l6 0l6 0l6 1l6 0l6 1l6 1l6 0l7 0l6 0l6 1l6 0l6 0l6 0l6 1l6 1l7 0l6 1l6-1l6 1l6 0l6 0l6 1l6 1l7 0l6 0l6 1l6 0l6 0l6 1l6 0l6 0l7 1l6 1l6 2l6-2l6 1l6 0l6 1l6 0l6 1l7-1l6 1l6 1l6 0l6 0l6 1l6 1l6 0l7 0l6 1l6-1l6 1l6 0l6 1l6 0l6 0l7 2l6 0l6 1l6 0l6 1l6 0l6 0l6 0l7 1l6-1l6 1l6 0l6 1l6 1l6 1l6 0l6 1l7 0l6 0l6 1l6 0l6 0l6 1l6 0l6-1l7 1l6 0l6 0l6 0l6 1" stroke="#FFB5B8"/>
<path d="M1236 583l7 1l6 1l6 2l6 1l6 0l6 1l6 2l6 0l7 2l6 1l6 2l6 0l6 0l6 2l6 1l6 0l7 2l6 1l6 1l6 1l6 0l6 2l6 0l6 2l7 0l6 1l6 1l6 1l6 1l6 2l6 1l6 2l6 0l7 2l6 0l6 1l6 0l6 0l6 2l6 1l6 0l7 1l6 1l6-1l6 1l6 2l6 1l6 1l6-1l7 1l6 0l6 2l6 1l6 1l6 1l6 0l6 0l7 1l6 2l6 0l6 1l6 0l6 1l6 0l6 1l6 1l7 0l6 2l6 1l6 0l6 1l6-1l6 1l6 1l7 0l6 0l6 2l6 0l6 1l6 0l6 1l6-1l7 0l6 0l6 0l6 0l6 1l6 1l6 1l6-1l7 1l6 0l6 0l6 0l6-1l6 0l6 1l6 1l6 1l7 0l6-1l6 1l6 0l6 0l6-1l6-1l6 2l7 0l6 0l6 2l6 0l6 0l6 0l6 0l6 1l7-1l6 0l6 2l6 0l6 0l6 0l6 1l6 0l7 1l6 0l6-1l6 1l6 1l6 0l6 1l6 0l6 0l7 0l6 0l6 0l6 0l6 0l6 1l6 0l6 1l7-1l6 0l6 1l6-1l6 1" stroke="#FFB5B8"/>
<path d="M1236 576l7 1l6 1l6 5l6 1l6 0l6 2l6 2l6 2l7 2l6 4l6 1l6 3l6 3l6 0l6 1l6 0l7 3l6 0l6 0l6 0l6 3l6-1l6 2l6 4l7-1l6 2l6-2l6 2l6 0l6 3l6-2l6-2l6 1l7-2l6 2l6 3l6 0l6 2l6-1l6 0l6-2l7 3l6 1l6 2l6 2l6 0l6-1l6 0l6-1l7 2l6 1l6 2l6 6l6-1l6-1l6 1l6 0l7-2l6 3l6-1l6 2l6 1l6 0l6 1l6-2l6 1l7 1l6 3l6-3l6 1l6 1l6 2l6 2l6-3l7 3l6 3l6-2l6 2l6 0l6-3l6 5l6 2l7-2l6-1l6-2l6 3l6 1l6 4l6 1l6 1l7 1l6 2l6 1l6-1l6-2l6 1l6 0l6-1l6 6l7-2l6 2l6 4l6 0l6-1l6 2l6-1l6 0l7-2l6 2l6 2l6 3l6 3l6 0l6-4l6 3l7 2l6 0l6 1l6-1l6 1l6 1l6 1l6 0l7-3l6 5l6-4l6 0l6-1l6-1l6 1l6 3l6 2l7-1l6 0l6-3l6 7l6 1l6 4l6-5l6 1l7 2l6-2l6-1l6 2l6 1" stroke="#E24A33"/>
<path d="M1543 637l0-103" stroke="#8EBA42"/>
<path d="M1603 643l0-122" stroke="#8EBA42"/>
<path d="M1614 645l0-76" stroke="#8EBA42"/>
<path d="M1626 645l0-100" stroke="#8EBA42"/>
<path d="M1785 672l1-251" stroke="#8EBA42"/>
<path d="M1811 681l0-83" stroke="#8EBA42"/>
<path d="M1933 746l1-546" stroke="#8EBA42"/>
</g></g>
<text x="420.3" y="49.6" font-size="9.00" text-anchor="middle" fill="#000" stroke="#000" stroke-width="0.2">Satellite</text>
<rect x="39.8" y="236.8" width="245.0" height="166.0" fill="#E5E5E5"/>
<clipPath id="cBL"><rect x="39.8" y="236.8" width="245.0" height="166.0"/></clipPath>
<path d="M56.3 236.8V402.8M86.9 236.8V402.8M117.5 236.8V402.8M148.1 236.8V402.8M178.8 236.8V402.8M209.4 236.8V402.8M240.0 236.8V402.8M270.6 236.8V402.8M39.8 393.8H284.8M39.8 373.7H284.8M39.8 353.6H284.8M39.8 333.6H284.8M39.8 313.5H284.8M39.8 293.4H284.8M39.8 273.3H284.8M39.8 253.2H284.8" stroke="#fff" stroke-width="0.8" fill="none"/>
<path d="M56.3 402.8v2.2M86.9 402.8v2.2M117.5 402.8v2.2M148.1 402.8v2.2M178.8 402.8v2.2M209.4 402.8v2.2M240.0 402.8v2.2M270.6 402.8v2.2M39.8 393.8h-2.2M39.8 373.7h-2.2M39.8 353.6h-2.2M39.8 333.6h-2.2M39.8 313.5h-2.2M39.8 293.4h-2.2M39.8 273.3h-2.2M39.8 253.2h-2.2" stroke="#555" stroke-width="0.6" fill="none"/>
<g clip-path="url(#cBL)"><g fill="none" stroke-width="5.00" stroke-linejoin="round" stroke-linecap="square" transform="scale(0.25)">
<path d="M198 1029l5 5l3 1l1-1l4 3l2 2l3 1l3-1l1-1l4 4l1 3l3 1l1 0l4 15l0 3l4-13l0-4l4 0l2-2l3-5l4-10l0-3l4-1l2 0l2 1l4 2l1 4l3-4l1 3l4 15l0 2l5-12l0-3l4 6l1 2l3 3l4 6l2 2l3-1l4 4l2-2l2 1l4 6l3-2l2 2l4 0l4 1l0 2l4-10l1-3l4-18l0 3l4 6l2 6l2 2l5 5l2-1l2 1l4 0l4 4l1 4l4 12l0 2l4-12l0-3l4-2l5-4l4-1l4 3l5 1l0-1l4 0l4 2l4-2l0 3l5 1l4 1l3-3l1 1l5 1l4 0l3-3l1 1l4 1l5-4l2 2l2-1l4-2l5 0l1-1l3-4l4 0l0 1l4-2l2-4l3 3l3 2l1 0l4 0l5 0l2 0l2-1l4 2l4 0l3-3l2 3l2 6l2-5l4 0l5 1l2-3l2-1l4-2l3-2l1 2l5 2l0-2l4 3l4 0l5-1l3 5l1-1l4 1l4 2l3 1l2-1l4-1l4 2l2-1l3 2l4 5l0-4l4-31l1-2l3-5l4 1l1 1l4 3l4 5l5-13l1-5l3-3l4 1l3 3l1-5l5 2l3 5l1-3l4 4l4 7l1-1l4 4l1-3l3-6l1-1l3 2l5 2l1 2l3 0l4 0l5 2l0 3l4 3l4 0l4 3l0 1l5 3l4-5l4 2l5 5l1-2l3-1l4 8l4 0l5 1l3-1l1 1l4 2l5 1l2-3l2-1l4 5l4 3l2-6l3 4l4-2l4-3l2-1l3-4l4-2l4-1l1-2l3-3l5-6l4-1l0 3l4-1l5-5l4 1l0 4l4-1l4 0l4-2l1 3l4-2l4-1l5 3l4-1l4-3l1-1l3 0l5 1l4-3l1 2l3 3l5 5l1-1l3 1l4-4l2 5l2-1l5 1l4 4l2-1l2 7l5 1l4 0l1 6l3 1l4-2l5 3l0 3l4-1l4 0l2-2l3-9l3-9l1 0l4-7l1-4l3 0l5-1l1 1l3 6l3 4l1-3l5 1l1 2l3 0l3-4l1 0l4 3l5 2l2 0l2 0l4 1l5 2l2 0l2 2l4 5l4-8l2-2l3-6l3-7l1 4l4 6l1-4l3 4l3 2l2 4l4-2l4 3l3 4l2 1l4 1l4 2l2 1l2 2l5-2l4 3l2 0l2 2l5 6l4-3l1 1l3-3l3-3l1 0l5-8l0 1l4 4l3 2l1 0l5 2l0 2l4 2l4-6l4 2l0-3l5 1l4 2l3 0l1-2l5-1l4 1" stroke="#E24A33"/>
<path d="M198 1108l5 4l3 3l1 1l4 1l5 1l4 2l4 0l4 2l5-2l4 1l4 1l5 1l1-1l3 2l4 1l4 2l1 0l4 1l4 1l4 0l5 0l4 1l4-1l0 2l4 0l5-1l4 1l4 0l4 0l3 1l2 0l4 2l4 1l5 0l4 1l4 0l2 1l2 1l5-1l4 0l4 1l5 1l4 1l1 0l3 0l4 0l5 1l4 0l4 0l5 1l0 1l4 0l4 0l4 0l5 1l4 2l3 1l1-2l5-1l4 0l4 0l4 1l5 1l2 1l2-1l4 1l5-1l4 0l4 1l4-1l2 1l3 1l4 0l4 0l5-1l4 1l4-1l1 0l3 2l5 2l4 3l4 1l5 1l2 2l2 0l4 1l4 0l5 1l4-1l4 2l1 1l4-2l4 0l4 1l4 0l5 1l4 0l4 0l5 0l4 1l0 1l4 0l4-1l5 0l4 2l4 0l5-1l4 1l4 0l3 1l1 0l5 0l4 0l4 1l5-2l4 0l4 0l4 1l5 0l4-1l4 2l5-1l4-1l4 1l4-1l0 1l5-1l4 0l4 0l5-1l4 1l4-1l4 2l5 0l4-1l4 0l5 1l4-1l4 1l4 0l2 1l3-1l4 0l4 0l5 0l4-2l4 2l4 0l5-1l4 0l4-1l5 1l4 0l4 0l4-1l4 0l1 0l4 1l4 1l5 0l4-2l4 0l4 0l5 0l4 1l4 0l5 1l4-1l4 1l4-1l5 0l4 0l4 0l4 0l1 0l4-1l4 2l4 1l5-2l4 0l4-1l5 0l4 0l4 2l4-1l5 0l4 1l4 0l5 0l4 0l4 2l4-2l5 0l4 0l4 0l5 0l4 1l4-1l4 0l5 1l4-1l4-1l4 2l3 1l2 0l4-3l4 1l5 0l4 1l4 0l4 1l5-1l4 0l4 1l5 0l4 0l4-1l4 0l5-1l4 0l4 0l5 0l4 2l4 0l4-2l5 1l4 0l4 2l5 0l4-2" stroke="#348ABD"/>
<path d="M198 1105l5 3l3 4l1-4l4-4l5-4l0 3l4 1l4 3l4-3l0-2l5 4l4 0l3 0l1 2l5 5l4-1l3-1l1-1l4-9l0 5l4-4l1-1l4 1l4 0l0 1l5 1l4 1l4 1l0-1l4 1l5-2l3 6l1-1l4 2l4 2l3 3l2-5l4 1l4-1l4-3l1 0l4-16l4 10l1 1l3 4l5-2l4 3l2 0l2 1l5 0l4 5l1-1l3-5l4-2l2-5l3 0l3-7l1 2l4 8l1 4l4 0l4-1l4 2l4-2l0-2l5 6l4-2l3 2l1-1l5-4l4 0l4 1l4 0l1 5l4-5l4 1l4-2l5-1l1-2l3-5l4-3l3-2l1 0l5-4l0-1l4 6l2-4l2 4l5 3l2-3l2-3l4 5l4 1l3-7l2 7l2 8l2-1l4-5l5 1l2 0l2-4l4-5l0 2l4 6l5 0l0 2l4 0l4-3l5 3l3 2l1 1l4 0l4 0l3 4l2-1l4-1l4 2l2 4l3 1l4 2l0-3l4-31l1-1l3 2l4 0l1-2l4-3l4-2l0 1l5-4l4-4l0 3l4 2l3-2l1 5l5 2l4 2l2 0l2 0l5 1l4-3l1 2l3 2l4 2l5-4l1 4l3-3l4-2l5 0l0 1l4 1l4 0l4 1l0 1l5-2l4 5l4-2l0 1l5 4l4 1l3 0l1 5l4 3l5 2l3-1l1 0l4 1l5 3l2 0l2-2l4 0l4 3l2 3l3-5l3-4l1 0l4-7l5-4l3 0l1 1l4-6l1 0l3 2l5 4l1 3l3-2l4-5l3 1l2 2l4-3l0 1l4 1l2-2l2-1l5 3l4 3l1 0l3 0l5-1l4-1l4-1l1 1l3-2l5 1l4 2l1-2l3 2l5-2l4 3l0 2l4 3l4 1l4-1l1 3l4-1l4 6l4-1l1-2l4 1l4 2l3 0l1 3l5 3l4 0l3-2l1-4l5-9l0-1l4-9l2-1l2 4l4-3l5 0l1-2l3 1l4 0l5-2l1 0l3 1l4-2l4 4l1 1l4-1l4 6l4 4l0-5l5 3l4 3l4 3l0-1l4-2l2-1l3-4l3-10l1 0l4 6l4 3l0-4l5 10l4 3l1-1l3 2l5 5l4 0l4 2l4 2l4 1l1-2l4 0l4-2l4 5l1 0l4 2l4-2l0 1l4-3l5-2l0-1l4 0l3-2l1 1l5 5l4 1l2-1l2 1l4 0l5-1l1 1l3 2l4 3l5-2l4 1" stroke="#988ED5"/>
<path d="M198 1123l5 4l4 0l3 1l1-4l5 1l4 5l2-3l2 0l4 2l5 1l1-1l3 0l4 0l5 3l1 0l3 11l3 9l1 4l2 7l2-35l1-14l4 3l2 5l2 4l4 1l5 3l1 2l3-4l4 2l4-1l2-5l3 6l4 5l4 3l1 2l3 2l5 0l4-1l1 2l3-4l5-7l1-2l3-7l1-3l3 4l2 1l2 2l5 0l4 2l2-1l2 6l5-2l4 6l1 1l3-3l4 3l5-3l0 2l4 4l4-1l5 2l0-3l4-1l4 2l4 2l5-2l4 3l3 1l1-2l5 0l4 2l3 1l1 3l4-5l5 1l2 3l2 0l4 0l5-5l1 0l3 2l4-7l3-2l1-3l5-13l0-6l3 11l1 1l4 9l1-1l4 0l4 3l4 5l1 0l3-1l5 4l2-4l2 1l4-2l5-1l2-2l2-3l4-8l3 0l1 4l5 5l0 2l4-1l4 4l5 0l3-1l1 0l4 1l4-1l3 0l2 5l4-2l4 0l2 1l3 1l4 1l0-3l4-32l1-5l3-14l1 2l4 5l2 0l2 0l4-5l0-1l5 3l1 2l3 0l4 6l3 1l1 2l5 0l4 1l2 3l2 0l5-12l4-7l1-2l3 6l4 5l0-1l5 3l4 2l3 3l1 3l5-1l4 2l2 0l2 3l4-3l5-3l2 1l2 0l4 0l5 1l1-2l3 4l4 3l4 2l1 4l4 1l4-3l4 2l1-3l4 4l4 3l4 0l0 1l4-1l5 6l0-2l4-6l3-4l1-5l5-10l3-6l1 0l4-12l1 0l3 7l3 6l2 2l4 5l4-10l3-3l2-6l4-5l0 1l4 10l4 8l1-1l4 4l4 4l1 2l3-3l5 3l4 0l4-3l1-2l3 3l5 0l4 6l1-3l3-1l5 3l4 2l0-2l4-1l4-1l4 1l1-1l4 0l4 5l4 0l1 0l4-3l4 3l3-2l1 1l5-4l4 2l3 1l1-2l5-7l0-5l4 1l4-1l1-2l3-1l5 4l1-2l3 0l4 2l5 1l1 2l3 0l4 2l4-3l1-2l4 5l4 3l4 6l0-2l5-1l4 0l4 0l0-1l4-2l5 0l3-5l1 5l4 2l4 1l3 1l2 0l4 1l4 1l3 0l2-1l4 2l4 1l2 2l2 2l5-1l4-1l2 0l2-1l5 0l4 0l1 3l3-5l4-3l5-6l0 2l4 5l3 3l1 0l5 3l4-1l2-1l2-2l4 3l5 0l1-3l3 3l4-1l5 2l4 0" stroke="#777777"/>
<path d="M198 1130l5 5l3 3l1-4l4 3l5 0l4 2l4 4l1 1l3 3l5-2l1 1l3 0l4-4l5 1l1 1l3-8l3-13l1 32l0 3l4-9l1 0l4 2l2 1l2 17l1 9l3-16l0-6l5-3l1 1l3-1l4 0l4-2l2 0l3 1l4 0l4 2l1 0l3 0l5-1l4 2l1-4l3 1l5-1l4-3l0-2l4 1l4 3l4 5l1 0l4-1l4 2l4 0l1 1l4-2l4 0l3 1l1 2l5 4l4 1l4-2l5-1l0 6l4-3l4-3l4-1l5 3l4-1l3 1l1 0l5-2l4-1l4 3l4 2l5 1l2 0l2-4l4-3l5 2l4 0l4 2l0-1l4-14l5-26l0 2l4 9l2 3l2 2l5 3l2 4l2 0l4 1l4 1l3 2l2 2l2 2l2-3l4-1l5 0l2 0l2-3l4-3l3-2l1 2l5 0l3 3l1 1l4 2l5-1l3-1l1 2l4 2l4 4l3-2l2 1l4 1l4 2l2 2l3 0l4-1l0-3l4-17l1-2l2-18l1 6l3 9l2-10l2-9l2 0l4 8l0-1l5 4l4-1l0 1l4-1l4 3l5 0l0 1l4 0l4 2l4 2l1-2l4-12l1 0l3 6l4 4l5 6l4 2l3 0l1-1l5 0l4 0l4 1l4-1l0 6l5 1l4-1l4 5l5 3l1-2l3-2l4 1l4 6l5 2l3-1l1 1l4 0l5 1l4-1l4 4l4 0l5-1l0 3l4-6l4-5l2 0l3-14l3-12l1-5l4-13l1-4l3 11l3 8l2 5l4 7l4 12l0-6l5-14l4-17l0 2l4 14l2 5l2 4l5 7l2 1l2-1l4 4l5-5l4-2l4 5l1-2l3-1l5 4l4 1l1 0l3-2l5-1l4 2l0 1l4-1l4 2l4 2l1-2l4 5l4 0l4 1l1 1l4-1l4 1l3-3l1 2l5 3l4-1l3 2l1 4l5-5l0-2l4-5l2-5l2 2l4 0l5 4l1 2l3-2l4-1l5-2l1 2l3 2l4-1l4 2l1-3l4 3l4 5l4 1l5 1l4 0l4 0l0-1l4-1l5-3l3-1l1 0l4 1l4 4l3 1l2-1l4-1l4 4l3-1l2-1l4-2l4 3l2 2l2-2l5 2l4 1l2-1l2 3l5 0l4 1l1-2l3 3l4 0l5-2l0-1l4 0l4 1l5-1l0-1l4 1l4 3l4-3l0 4l5-1l4-1l4 2l5-3l4-1" stroke="#FBC15E"/>
<path d="M200 1248l4 3l2 4l3 2l4 5l4-4l2-1l3 44l3-41l1-5l2 0l2 41l1 15l3-46l0 1l5-2l0 2l4 49l0 1l4-38l0-5l5-29l4 3l0 4l4 10l2 2l2 20l2 17l3-13l2-18l2 2l4-2l5 0l2 4l2 1l4 6l0-5l4 2l2 5l3 2l4-2l2 4l2-3l5 6l3 7l1-5l4 1l4 1l0 1l5-4l4-7l0 3l4 1l2-6l3 3l4-1l0 3l4 5l2 1l2 7l4-3l1 3l4 4l1-2l3 3l3 1l2 7l3 18l1-5l3-27l1 2l4-1l2 2l3-1l4 9l2-2l2 1l5 2l2 3l2-3l4-2l3 4l1 4l5 2l4 0l0-1l4-2l5-4l0 2l4 4l4 4l1 3l3 1l4-5l1 1l4-6l1 2l3-19l3-10l2-1l2-9l2 2l3 10l1 1l4 6l1 1l4 9l3 0l1-2l4 3l1 2l3 7l1-4l4 1l1 1l3 3l3 2l1-2l5 0l0 2l4-15l3-12l1-9l2-9l3 13l0-1l3 22l1-2l4-1l1-1l3 6l3 1l2 2l4 6l0-1l4 4l3 3l2 3l1-2l3 6l3 3l1 0l4 1l1 1l4-44l2-22l2-4l1-1l3 6l1 5l4 3l2 6l2-16l4-24l4-2l2-1l3 0l3 3l1 3l4 5l1-4l4 7l3 7l1 6l4 17l1 2l3 15l3 12l2-10l4-25l0-2l4-9l2-7l3-3l3 3l1-2l4 5l2 8l2 4l5 1l4 5l1 0l3 0l5 4l4 1l0-2l4 2l4 6l5 2l0 1l4-1l4 5l4 5l1-1l4 2l4 5l4 2l0 1l5 3l4 3l3 4l1 3l5 3l4 7l2-1l2 2l1 2l3-2l5-17l2-6l2-4l4-6l5-9l1-7l3 4l4-4l4-2l1 1l4-3l4 0l2-4l2 4l4-3l1 2l4 7l4 7l0-3l4 5l5 9l4 2l4-5l5-5l4-8l0-2l4 2l4 3l5 6l1 1l3 1l4 5l5 6l4 4l2 4l2 1l4 7l5 9l4 4l3 5l1 1l4 10l4 4l1-3l4-8l4-10l5-10l0-2l4-8l4-4l4-5l0-1l5 0l4 7l2 4l2 2l5 1l4 1l2 4l2 0l4 2l5 2l4 2l4 0l5 0l4-8l4 3l0 1l4-5l5 0l4-1l4-1l1-1l4 3l4 3l4 3l4 2l3 1l2-3l4 2l4 0l5 3l3-1l1 4l4-2l4-1l5 3l4 2l0-3l4 2l5 2l4 0l4 2l4 0l5-4l1 4l3-2l4 4l5 0l4 1l4 0l4-1l4-3" stroke="#8EBA42"/>
<path d="M317 1350l6 1l6 0l6 0l7 0l6 1l6 0l6 0l6 1l6 0l6 0l6 0l7 0l6 0l6 0l6 1l6 0l6 0l6 0l6 1l7 0l6 0l6 0l6 0l6 1l6 0l6 0l6 1l7 0l6 0l6 0l6 0l6 1l6 0l6 0l6 0l6 0l7 1l6 0l6 1l6 0l6 0l6 0l6 0l6 1l7 0l6 0l6 0l6 0l6 0l6 1l6 0l6 1l7 0l6 0l6 0l6 0l6 1l6 0l6 0l6 1l7 0l6 0l6 1l6 0l6 0l6 0l6 0l6 0l6 0l7 0l6 1l6 0l6 0l6 0l6 0l6 1l6 0l7 0l6 1l6 0l6 0l6 0l6 0l6 0l6 0l7 1l6 0l6 0l6 0l6 0l6 1l6 0l6 0l7 1l6 0l6 1l6-1l6 1l6 0l6 0l6 0l6 1l7 0l6 0l6 1l6 0l6 0l6 0l6 0l6 0l7 1l6 0l6 0l6 1l6 0l6 0l6 0l6 0l7 0l6 1l6 0l6 0l6 0l6 0l6 0l6 0l7 1" stroke="#8EBA42"/>
<path d="M204 1416l7-1l6 2l6 2l6 3l6 1l6-3l6 0l6 0l7 3l6-2l6 4l6 0l6-1l6-4l6 2l6 2l7-3l6 1l6-2l6 0l6 1l6 1l6-1l6 3l7 3l6-5l6 2l6-1l6-1l6-1l6 9l6-2l6-6l7 6l6-4l6 1l6 2l6-1l6 4l6-4l6-3l7 5l6 0l6-4l6 2l6 3l6-3l6 7l6 0l7-1l6 2l6-2l6 6l6-2l6 3l6-4l6 0l7 6l6 3l6-1l6 3l6 1l6-1l6 2l6-4l6 4l7 4l6 3l6 1l6-3l6 2l6-3l6 4l6-1l7 9l6-4l6 7l6-2l6 5l6-4l6 7l6-6l7 6l6-12l6 17l6-8l6 4l6-1l6 9l6-7l7 8l6-2l6 5l6-8l6 3l6-1l6 11l6-7l6 15l7-12l6 5l6-5l6 10l6-6l6 8l6-3l6 3l7-3l6 9l6-11l6 11l6-4l6 4l6-4l6 8l7-4l6 14l6-10l6 4l6-3l6 9l6-8l6 10l7-6l6 8l6-6l6 11l6-10l6 9l6-5l6 8l6 2l7 4l6-7l6 14l6-16l6 11l6-4l6 10l6-8l7 9l6-2l6 7l6-9l6 8" stroke="#E24A33"/>
<path d="M204 1366l7 0l6 2l6 3l6-3l6 2l6 2l6-1l6-3l7-2l6 1l6-1l6 4l6 1l6 2l6 1l6-6l7 2l6 0l6-4l6 0l6 8l6-3l6 4l6-3l7 7l6 0l6 0l6-7l6 8l6-5l6-1l6 2l6-1l7-4l6 5l6 3l6-3l6 0l6 6l6-2l6 0l7 4l6 1l6 0l6 1l6-3l6 0l6 7l6-2l7-2l6 4l6-1l6-2l6 5l6-1l6 5l6-6l7 3l6 3l6 2l6 1l6-7l6 4l6 1l6 1l6 3l7-4l6 7l6-6l6 3l6 0l6-1l6-1l6 6l7-2l6 1l6 2l6 1l6-2l6 1l6-1l6 2l7 8l6-1l6-3l6 5l6 4l6 3l6-9l6 5l7 0l6 4l6-2l6-3l6 7l6 0l6 2l6 4l6 0l7-2l6-3l6 0l6 4l6 6l6-3l6 1l6 1l7 4l6-1l6-4l6 0l6 2l6 2l6 4l6 1l7 0l6 0l6 3l6 2l6-4l6 3l6-1l6 2l7 0l6 0l6 0l6 1l6 5l6 3l6-2l6-4l6 5l7 2l6-6l6 8l6 0l6 1l6 1l6 1l6-4l7 2l6 1l6 5l6-4l6 1" stroke="#348ABD"/>
<path d="M204 1375l7 7l6-4l6 4l6-1l6-2l6-3l6 5l6 1l7 0l6 4l6-1l6-8l6 5l6-2l6 1l6-1l7 0l6 4l6 5l6-5l6 0l6 1l6 0l6 4l7-1l6 0l6 4l6 1l6-2l6 5l6-6l6-2l6 2l7 0l6 6l6-3l6-3l6 1l6-1l6 3l6-4l7 3l6 0l6 0l6 5l6 3l6-3l6 5l6 0l7-3l6 4l6 2l6 2l6 0l6-6l6 2l6 0l7 8l6 5l6-2l6-5l6-1l6 8l6 3l6-5l6 1l7 0l6 0l6 5l6 0l6 1l6-2l6 3l6 6l7-5l6-3l6 3l6 4l6 4l6-3l6 4l6-1l7 0l6 3l6 6l6-4l6 4l6 3l6-2l6 0l7 1l6-1l6 7l6-5l6 1l6-1l6 10l6-8l6 8l7-8l6 16l6-9l6 7l6-14l6 17l6-16l6 19l7-13l6 18l6-11l6 12l6-14l6 13l6-8l6 13l7-13l6 14l6-13l6 11l6-14l6 21l6-19l6 15l7-13l6 14l6-14l6 14l6-8l6 10l6-9l6 11l6-13l7 18l6-16l6 14l6-12l6 7l6-10l6 16l6-17l7 16l6-11l6 18l6-18l6 11" stroke="#988ED5"/>
<path d="M204 1378l7 1l6 2l6 1l6-5l6 5l6 5l6 2l6-5l7 0l6 1l6 4l6-2l6 1l6-3l6 2l6 0l7-1l6 1l6-2l6 9l6-3l6-6l6 0l6 4l7-1l6 1l6 0l6-5l6 4l6-1l6 3l6 1l6 2l7-1l6-1l6-1l6-1l6 0l6-2l6 2l6-3l7 1l6-2l6 3l6-2l6 3l6 5l6-2l6 0l7 3l6 1l6-1l6-7l6 3l6-3l6 2l6 1l7 1l6 6l6-4l6 4l6-2l6 1l6-3l6 0l6-1l7 3l6 3l6-1l6-4l6 4l6 2l6 4l6 1l7-1l6-1l6 0l6 2l6 1l6-3l6-1l6 2l7 1l6 1l6 0l6 8l6 1l6-1l6 0l6-2l7 8l6-2l6 0l6 2l6 0l6-2l6 2l6 2l6 0l7 2l6-2l6 3l6-1l6 4l6 0l6 4l6-1l7-2l6 5l6 0l6-1l6 2l6-2l6 5l6-4l7-2l6-1l6 4l6 3l6 4l6-5l6-1l6 1l7 0l6-1l6 3l6 4l6 1l6-1l6 0l6 2l6-2l7 1l6-4l6 1l6-2l6 5l6 1l6 1l6-4l7-8l6 5l6 3l6 0l6 0" stroke="#777777"/>
<path d="M204 1353l7 1l6-1l6 0l6-3l6 1l6-2l6 2l6 2l7-5l6 5l6 1l6-7l6 3l6-3l6 10l6-7l7 1l6 1l6-1l6 8l6-3l6-4l6-7l6 7l7-5l6 2l6 0l6 5l6-2l6 3l6 2l6-6l6 3l7 1l6-3l6 4l6 2l6-2l6 0l6-3l6 7l7-2l6 0l6 3l6 1l6 1l6 3l6 2l6-4l7 4l6 2l6-3l6 2l6 2l6 3l6 1l6 1l7 1l6-5l6 4l6 5l6 0l6-5l6 4l6 0l6 2l7 3l6-1l6 1l6-1l6-2l6 2l6-5l6 8l7-3l6 2l6-1l6 2l6 8l6-2l6-3l6 2l7 4l6 0l6-2l6-2l6 5l6 0l6 3l6 2l7 0l6-4l6 0l6 4l6 1l6-1l6 2l6 2l6 1l7-2l6 3l6-2l6 7l6 0l6-1l6-2l6 4l7 1l6-2l6 2l6 2l6 0l6 3l6-3l6 0l7 0l6-3l6 2l6 3l6 3l6-4l6 4l6 3l7-2l6 2l6 3l6 0l6-3l6 4l6 2l6 4l6 1l7-3l6 3l6 1l6-2l6 4l6-2l6 5l6 2l7 2l6 3l6-3l6 1l6-2" stroke="#FBC15E"/>
<path d="M204 1372l7-3l6-2l6 2l6 0l6 4l6-3l6 1l6 2l7-1l6 6l6-3l6 2l6-4l6 1l6 3l6 2l7-7l6 8l6-4l6 1l6 2l6 7l6-4l6 3l7 2l6-2l6 3l6-2l6 3l6-2l6 1l6 3l6 2l7 1l6 0l6 0l6-5l6 2l6 3l6 1l6 2l7-2l6 0l6 3l6 1l6 0l6 2l6-2l6 3l7-2l6 2l6-1l6 3l6 4l6 1l6-2l6-1l7 0l6 1l6 0l6 1l6 1l6 3l6 0l6 2l6 1l7 0l6-4l6 9l6 0l6 1l6-1l6 1l6-3l7 8l6-6l6 7l6 1l6-2l6 1l6 2l6 0l7 0l6 0l6 1l6 6l6 0l6-4l6-2l6 3l7 1l6 2l6-2l6 6l6 2l6 2l6-4l6 4l6-1l7 5l6 3l6-5l6 0l6 0l6 2l6 3l6 2l7 3l6-1l6-3l6 3l6 4l6-1l6 2l6 0l7-2l6 0l6 1l6-6l6-3l6 2l6-2l6 3l7 0l6-4l6 1l6-1l6 7l6-5l6 0l6-2l6 3l7-2l6-4l6-2l6-2l6-1l6-2l6 1l6 1l7 1l6-1l6 0l6-1l6-3" stroke="#8EBA42"/>
<path d="M204 1401l7-1l6-4l6 0l6 3l6-1l6-1l6-2l6 3l7-4l6 0l6 3l6 1l6 2l6 0l6-3l6-3l7-2l6 3l6 2l6 1l6-2l6 1l6-2l6 1l7-1l6 2l6-6l6 1l6 2l6 4l6-3l6-1l6 4l7-2l6-5l6 3l6 3l6-1l6-3l6 5l6 1l7 1l6 0l6-2l6 2l6 7l6-3l6-1l6 0l7 2l6 2l6 0l6 3l6 5l6-2l6 2l6-5l7 4l6-2l6 7l6 3l6-3l6 6l6 0l6 3l6-3l7 5l6-2l6 5l6-4l6-1l6 2l6 5l6-2l7 0l6 1l6 0l6-1l6 5l6 4l6 3l6 0l7 2l6 2l6-1l6-3l6 7l6 2l6 1l6 3l7-3l6 3l6 0l6 6l6-2l6 2l6 5l6-4l6 0l7 3l6 1l6 5l6-2l6 3l6 0l6 1l6 2l7 4l6 0l6 1l6-1l6 6l6-2l6 2l6 2l7-3l6 3l6 5l6 1l6 3l6 4l6 0l6 1l7-4l6 2l6 9l6-2l6 2l6 0l6 0l6 2l6 0l7 4l6-3l6 4l6-1l6 4l6 1l6 4l6-2l7 2l6 3l6 0l6 1l6 6" stroke="#FFB5B8"/>
<path d="M204 1414l7-1l6-4l6 6l6 2l6 0l6-4l6 3l6-6l7 3l6 2l6 2l6-3l6-2l6 2l6-2l6-1l7 2l6 2l6 2l6-1l6 1l6-4l6 1l6 2l7 2l6-2l6-2l6 2l6-1l6 3l6-1l6-1l6 1l7 0l6-1l6 2l6-2l6 3l6-2l6 2l6 1l7-3l6-2l6 3l6 1l6-2l6 4l6-2l6 5l7 4l6-4l6 1l6 1l6 5l6-4l6 1l6 3l7-2l6 4l6 0l6 1l6-4l6 3l6-2l6 5l6 3l7-6l6 7l6-4l6 5l6-2l6 4l6-4l6-2l7 2l6 4l6 3l6-2l6-3l6 6l6 5l6-6l7 4l6-1l6 2l6 1l6 2l6 1l6 5l6-1l7 2l6-5l6 4l6-2l6 8l6-5l6 0l6-2l6 5l7-2l6 7l6-7l6 8l6-2l6 4l6-4l6 2l7-4l6 11l6-8l6 10l6-7l6 4l6-2l6 7l7-7l6 7l6-1l6 0l6-4l6 7l6-3l6 4l7-2l6 5l6-3l6 8l6-7l6 7l6-1l6 6l6 1l7 5l6-4l6 0l6-5l6 4l6-3l6 3l6 1l7 8l6-3l6 4l6-3l6 7" stroke="#E24A33"/>
<path d="M204 1343l7 2l6 6l6-6l6 0l6 3l6 0l6-3l6-1l7 5l6-2l6 3l6 2l6 1l6 1l6 2l6 2l7 0l6 2l6-2l6 3l6-1l6 2l6 5l6-5l7 1l6 2l6 2l6-4l6 4l6-1l6 2l6 5l6-3l7 5l6-2l6-1l6 1l6 3l6-4l6-1l6 7l7 1l6-4l6 4l6-1l6 5l6 1l6-1l6-1l7 6l6 1l6-3l6-2l6 2l6 1l6 1l6 5l7-2l6-1l6 2l6 5l6 2l6-4l6 5l6 2l6-5l7 5l6 2l6-2l6-1l6 3l6 5l6 0l6-2l7 3l6 1l6-5l6 1l6 0l6 0l6 5l6-2l7-2l6 1l6 5l6 3l6-1l6-3l6 1l6-1l7 4l6-4l6 3l6-3l6 2l6 8l6-4l6 0l6 1l7-2l6-3l6 0l6-1l6 3l6 6l6-1l6 0l7 0l6-8l6 2l6 6l6-4l6 3l6 4l6-5l7 3l6 0l6-5l6 7l6-3l6 3l6 3l6 0l7-1l6 0l6 5l6-4l6 3l6-2l6 1l6 2l6-2l7 4l6 1l6 3l6 2l6-2l6 4l6-4l6 0l7-4l6 5l6-3l6 1l6 1" stroke="#348ABD"/>
<path d="M204 1413l7-5l6 8l6-4l6 0l6 2l6 5l6-1l6-4l7-4l6 0l6-1l6 2l6-2l6 0l6-1l6 3l7 2l6 2l6-6l6 3l6 2l6 3l6-5l6 3l7-3l6-1l6-3l6 4l6 4l6-5l6 0l6 2l6-1l7-5l6 3l6 3l6 0l6-2l6 0l6 1l6 0l7 4l6-3l6-2l6 1l6 3l6 1l6 1l6 1l7 5l6-2l6-3l6 3l6 2l6-1l6 1l6 3l7 0l6-3l6-1l6 5l6 3l6-2l6 2l6 1l6 3l7 4l6 3l6-2l6 3l6-3l6-1l6-1l6 4l7-1l6-1l6 8l6-5l6 12l6 0l6 2l6-10l7 9l6-7l6 13l6-7l6 12l6-11l6 16l6-9l7 6l6-3l6 12l6-11l6 10l6-10l6 9l6-8l6 11l7-7l6 11l6-7l6 11l6-11l6 11l6-3l6 11l7-17l6 19l6-11l6 13l6-10l6 12l6-11l6 14l7-14l6 7l6 1l6 10l6-8l6 8l6-14l6 10l7-9l6 14l6-7l6 8l6-6l6 12l6-10l6 13l6-11l7 13l6-12l6 8l6-6l6 9l6-10l6 14l6-10l7 12l6-15l6 16l6-10l6 15" stroke="#988ED5"/>
<path d="M204 1392l7 7l6-8l6 10l6-1l6 1l6-2l6 4l6-5l7 2l6 2l6 2l6 0l6 2l6-2l6 2l6 4l7 0l6 2l6-2l6 4l6 1l6 4l6-3l6 1l7 3l6-4l6 4l6 4l6-4l6 3l6 9l6-5l6-1l7 1l6 1l6 2l6-2l6 4l6-2l6-3l6-2l7 4l6-5l6 2l6 4l6 0l6 3l6-3l6 4l7 1l6 2l6 1l6-1l6-5l6 3l6-1l6 4l7-1l6 6l6 3l6-6l6 2l6 7l6-3l6 2l6 2l7-2l6 5l6-3l6 2l6 3l6 4l6-6l6 5l7 4l6-1l6 0l6 0l6-1l6 3l6 3l6-4l7 0l6 9l6-2l6 5l6-4l6 6l6 0l6-3l7 5l6-2l6 8l6 0l6 6l6-8l6 9l6-9l6 10l7-8l6 8l6 0l6 5l6-5l6 6l6-3l6 4l7-4l6 6l6 0l6 12l6-10l6 9l6-5l6 6l7-6l6 11l6-7l6 2l6 1l6 6l6-9l6 6l7-4l6 8l6 0l6 4l6-3l6 5l6-3l6 8l6-7l7 3l6-2l6 6l6-6l6 6l6 0l6 6l6-7l7 6l6-8l6 8l6-1l6 4" stroke="#777777"/>
<path d="M204 1355l7 0l6-1l6 0l6-2l6 2l6 3l6-2l6 3l7-3l6 3l6-2l6 1l6 2l6 3l6 0l6-5l7 2l6-1l6 3l6 1l6 3l6-2l6 3l6 1l7-4l6 4l6-6l6 4l6 3l6-3l6 5l6-1l6 0l7-2l6-2l6 3l6 6l6 2l6-1l6-3l6 1l7 0l6 2l6-3l6 6l6-5l6 1l6 2l6 3l7 2l6 0l6 2l6 1l6 2l6-3l6 1l6 0l7 4l6 3l6 0l6-2l6 4l6-3l6 4l6 0l6-1l7 4l6 4l6-7l6 2l6 3l6-5l6-2l6 6l7 1l6-5l6 7l6-2l6 0l6 5l6 3l6 0l7-1l6-1l6-5l6 8l6 0l6 3l6-3l6 1l7 4l6 0l6-1l6-1l6 1l6 0l6 2l6 0l6 1l7-1l6 1l6 4l6 0l6 2l6 0l6-2l6 1l7 2l6 2l6-4l6 3l6 3l6 1l6-3l6-3l7 1l6 5l6-1l6 6l6-3l6 2l6 0l6 4l7-2l6 4l6 2l6-6l6 5l6-3l6 3l6 1l6 0l7-2l6 2l6 4l6 1l6-4l6 0l6 5l6-2l7 3l6-1l6 5l6-2l6 3" stroke="#FBC15E"/>
<path d="M204 1374l7 3l6 0l6 1l6 1l6-1l6-3l6 2l6 3l7 2l6-2l6 6l6-3l6-1l6 0l6 1l6 1l7 3l6-4l6 2l6 0l6 1l6 4l6-4l6 1l7 1l6-1l6-3l6 3l6 0l6-3l6 5l6-2l6 2l7-1l6 2l6-1l6 3l6 1l6 1l6-1l6-4l7 1l6 0l6 2l6 0l6 0l6 0l6 3l6 0l7 3l6-4l6-1l6-3l6 12l6-5l6-1l6-5l7 7l6 3l6-1l6 4l6 1l6-4l6 5l6 1l6-6l7 1l6 5l6-5l6 2l6 2l6 0l6 1l6-3l7 1l6 4l6 1l6-3l6 3l6 1l6 5l6-7l7 0l6 1l6 2l6 0l6-1l6 2l6-2l6-4l7 4l6 0l6-4l6 3l6-3l6 0l6 1l6 3l6 1l7-4l6 2l6 1l6 6l6-4l6-7l6 2l6-2l7 3l6 5l6-2l6-5l6 3l6 1l6 1l6 3l7-1l6-2l6-2l6 0l6 5l6 4l6-3l6 1l7-4l6 4l6-3l6 2l6-3l6 2l6 6l6 3l6-6l7 2l6-4l6 1l6-3l6 3l6 3l6 4l6-4l7 0l6 1l6-7l6 3l6 5" stroke="#8EBA42"/>
<path d="M204 1423l7 1l6 3l6 2l6-3l6-3l6 3l6-3l6-2l7 1l6-1l6-1l6-1l6 2l6 1l6 0l6-3l7 4l6-4l6 5l6-6l6 1l6-5l6 5l6 0l7 6l6-2l6-2l6-1l6-1l6 1l6 1l6-3l6 6l7-1l6-4l6 1l6-2l6 4l6 1l6-2l6-3l7 7l6 3l6 0l6 1l6-3l6-1l6 2l6 1l7 0l6 1l6 2l6 1l6-1l6 6l6 1l6-1l7-5l6 8l6-1l6 5l6 1l6 2l6-4l6 3l6 4l7-2l6 5l6 0l6 5l6 0l6-1l6 1l6 4l7 1l6 4l6 2l6-3l6-4l6 1l6 1l6 2l7 2l6-1l6 0l6 0l6 3l6 0l6 10l6-11l7 14l6-17l6 13l6-10l6 13l6-11l6 13l6-14l6 10l7-5l6 13l6-8l6 12l6-17l6 11l6-12l6 13l7-10l6 11l6-7l6 11l6-12l6 12l6-6l6 12l7-18l6 18l6-8l6 10l6-9l6 9l6-7l6 10l7-8l6 12l6-9l6 14l6-10l6 13l6-10l6 10l6-10l7 14l6-9l6 11l6-14l6 13l6-9l6 9l6-8l7 15l6-14l6 15l6-12l6 13" stroke="#FFB5B8"/>
<path d="M204 1421l7 2l6 0l6 1l6 1l6-2l6-2l6 3l6 2l7 1l6-5l6 6l6-2l6-1l6-1l6 6l6-4l7 5l6-2l6 0l6 3l6-8l6 3l6 4l6 0l7-2l6-3l6 1l6 3l6-5l6 1l6-3l6 0l6 2l7-1l6 3l6-2l6 6l6 2l6-1l6-4l6 0l7 2l6 0l6 1l6-1l6-2l6 0l6 3l6 1l7 0l6 4l6-1l6-1l6 1l6 3l6 2l6 2l7-4l6 3l6 4l6 4l6-3l6-3l6 4l6 3l6-2l7 3l6 1l6 0l6 2l6-1l6 0l6 3l6 3l7 0l6 8l6-2l6 0l6-2l6 5l6-3l6 3l7 0l6-1l6 3l6 4l6 0l6 0l6-2l6 5l7-1l6 0l6 2l6 4l6 5l6-4l6-1l6 3l6 0l7 4l6 0l6 0l6 3l6 0l6 3l6 4l6-1l7 2l6 0l6 1l6 3l6 0l6 3l6-2l6 5l7 2l6-4l6 6l6-1l6 0l6-3l6 3l6 1l7 5l6-5l6 3l6 0l6 2l6-4l6 4l6 3l6-6l7 4l6-1l6 0l6 4l6-4l6 4l6-1l6-1l7 1l6 3l6-4l6 4l6 2" stroke="#E24A33"/>
<path d="M204 1356l7 5l6-4l6-2l6 4l6 3l6-1l6 4l6-6l7 1l6 5l6 0l6-1l6-4l6 0l6 4l6-1l7 1l6-1l6 1l6-5l6 3l6 2l6 3l6 2l7-4l6-2l6-2l6 6l6-2l6 4l6-3l6-1l6 1l7 2l6 1l6 0l6 5l6-5l6 4l6-2l6 1l7-1l6 1l6 2l6 0l6-1l6 3l6 3l6 0l7 0l6-1l6 1l6 1l6-1l6 2l6 1l6 3l7-3l6 2l6 5l6 2l6-6l6 3l6-2l6-1l6 5l7 2l6 0l6 5l6 4l6-7l6 5l6 0l6-3l7 3l6-1l6 1l6 5l6 0l6-2l6 3l6-4l7 0l6 6l6-4l6 2l6 0l6-2l6 6l6 0l7-3l6 4l6-6l6 10l6-8l6-1l6 3l6 0l6 2l7-6l6 3l6 0l6 1l6 4l6 3l6-4l6-4l7 1l6 2l6-1l6 2l6-3l6 1l6 1l6-4l7 6l6 3l6-1l6 1l6 0l6-2l6-1l6 6l7-1l6 0l6 3l6-4l6-1l6 0l6 3l6 1l6-2l7 0l6 2l6-2l6 3l6-3l6 0l6 3l6 3l7-3l6-3l6 3l6-3l6 1" stroke="#348ABD"/>
<path d="M204 1379l7 6l6-6l6-1l6 2l6 0l6 1l6-3l6 2l7-3l6 3l6 2l6 3l6-5l6 1l6-2l6-2l7 1l6-2l6 4l6 2l6-2l6 0l6-4l6 7l7 1l6-6l6 3l6 0l6 1l6-1l6-6l6 1l6 3l7-4l6 6l6-1l6-3l6 7l6 1l6 1l6 0l7-3l6-2l6 1l6 0l6 3l6 4l6 2l6 0l7 2l6 2l6-3l6 3l6 1l6-6l6 3l6 2l7 3l6 3l6-2l6 3l6 1l6 2l6-2l6 1l6 7l7 0l6-1l6-5l6 6l6-1l6-1l6 0l6 5l7-2l6 2l6 2l6 3l6 4l6-1l6 3l6-5l7 1l6-3l6 8l6 3l6-1l6-1l6-1l6 5l7 4l6 0l6-10l6 8l6 2l6-2l6 0l6 4l6 8l7-6l6 2l6-4l6 3l6 0l6 7l6-2l6 0l7 2l6-1l6 0l6 3l6-1l6-2l6 2l6 3l7 1l6 1l6 0l6-1l6 3l6-1l6-2l6 4l7 3l6 1l6-2l6 0l6 3l6 7l6-6l6-1l6 1l7 3l6 5l6-2l6 0l6-3l6-2l6 1l6 4l7-2l6 4l6-2l6 2l6 2" stroke="#988ED5"/>
<path d="M204 1364l7 1l6-4l6 11l6 1l6-1l6-5l6-1l6 3l7 3l6 4l6-3l6 0l6 3l6-3l6-2l6 6l7 0l6 4l6-2l6 4l6-2l6-5l6 6l6-3l7 0l6 1l6 4l6 5l6-2l6-2l6 3l6 3l6 2l7-10l6 10l6-3l6 2l6-3l6-1l6 6l6 0l7 1l6-2l6 2l6-1l6 1l6 3l6-2l6 1l7 1l6 3l6-1l6 3l6-3l6 2l6 8l6-4l7-1l6 2l6 0l6 6l6-2l6 3l6-1l6 3l6 2l7 0l6 3l6-2l6-2l6-1l6 3l6 3l6 1l7 1l6-2l6 5l6 1l6 5l6-6l6 5l6 2l7 3l6-4l6 1l6 1l6 3l6 0l6-4l6 6l7-1l6-3l6 6l6-2l6 0l6 4l6 0l6-1l6 0l7 4l6 4l6-2l6 0l6-1l6-1l6 1l6 1l7 4l6-2l6 0l6 5l6 2l6 3l6 0l6 0l7 2l6-1l6 3l6 4l6-3l6 7l6-3l6 3l7 1l6 4l6 0l6-2l6 6l6 1l6 1l6 10l6-2l7-1l6 3l6 1l6 4l6-4l6 3l6 3l6 4l7-1l6 2l6 1l6 2l6 7" stroke="#777777"/>
<path d="M204 1377l7 3l6-1l6 6l6-1l6-1l6-3l6-2l6 4l7-4l6 2l6 2l6-3l6 4l6 1l6 2l6 0l7 3l6-10l6 1l6-2l6 7l6 4l6-7l6 2l7 1l6 1l6 2l6-1l6-7l6 6l6-4l6 1l6 0l7-1l6 5l6-2l6 1l6-5l6 5l6 1l6 3l7 1l6 1l6 2l6-1l6 2l6 1l6 1l6 5l7 1l6 0l6 0l6-2l6 10l6 1l6 1l6-1l7 2l6 5l6 1l6 1l6 4l6 0l6 0l6-3l6 3l7 3l6 3l6 0l6-2l6 0l6 7l6 1l6 1l7 0l6 4l6-2l6 0l6 1l6-2l6 3l6 4l7 6l6-1l6 2l6-4l6 5l6 2l6 4l6-9l7 12l6-8l6 8l6-8l6 16l6-8l6 11l6-13l6 12l7-7l6 10l6-10l6 16l6-8l6 8l6-13l6 14l7-9l6 8l6-4l6 11l6-9l6 7l6-5l6 14l7-13l6 6l6-6l6 12l6-9l6 14l6-7l6 8l7-7l6 16l6-9l6 11l6-7l6 10l6-8l6 12l6-6l7 5l6-4l6 14l6-14l6 13l6-8l6 7l6-4l7 15l6-10l6 12l6-11l6 10" stroke="#FBC15E"/>
<path d="M204 1395l7 3l6-1l6-4l6 6l6-1l6 2l6-4l6 3l7 5l6-1l6-2l6-1l6-4l6 1l6 5l6-4l7 2l6-5l6 5l6 2l6-1l6-4l6 4l6-3l7 2l6 1l6-2l6 0l6 1l6-3l6 6l6 6l6-6l7 0l6 1l6-3l6 8l6-3l6-4l6 1l6-2l7 1l6 5l6 1l6-2l6 3l6-6l6 5l6 4l7-2l6-3l6 2l6 1l6 1l6 4l6-3l6-2l7 4l6-2l6 6l6-3l6 3l6-3l6 5l6 1l6-1l7-1l6 1l6-1l6 1l6 2l6-4l6 1l6 3l7 2l6 7l6 2l6-7l6 8l6-3l6 1l6 4l7-5l6 6l6-1l6 6l6 0l6 1l6 2l6-1l7 3l6 6l6 0l6 4l6-2l6-4l6 8l6-4l6 10l7-3l6 12l6-13l6 19l6-15l6 13l6-11l6 15l7-15l6 16l6-13l6 14l6-5l6 17l6-13l6 10l7-12l6 14l6-17l6 17l6-14l6 20l6-14l6 13l7-13l6 8l6-4l6 14l6-12l6 13l6-11l6 12l6-9l7 11l6-10l6 9l6-8l6 10l6-11l6 14l6-13l7 20l6-15l6 14l6-6l6 9" stroke="#8EBA42"/>
<path d="M204 1348l7-4l6 2l6 2l6-1l6 3l6 3l6-1l6 0l7-1l6 5l6-3l6 4l6-1l6 2l6 7l6-2l7 0l6 1l6-6l6 6l6 0l6 0l6 4l6 4l7 0l6-5l6 4l6 0l6 0l6 4l6-3l6 1l6 5l7 1l6 0l6-3l6 4l6 5l6-7l6 5l6 1l7 1l6 5l6-6l6-1l6 1l6 3l6-6l6 11l7 0l6 2l6 6l6-1l6-1l6 1l6 1l6 1l7 0l6 2l6-2l6 4l6-2l6 0l6 4l6 5l6 0l7-2l6 9l6-1l6-6l6 6l6 4l6 2l6 1l7 1l6 3l6-2l6 0l6 5l6-5l6 1l6 3l7 4l6-4l6 7l6-7l6 7l6-9l6 11l6-5l7 12l6-5l6 8l6-13l6 11l6-4l6 9l6-7l6 10l7-7l6 5l6 0l6 10l6-12l6 16l6-11l6 12l7-12l6 11l6-8l6 10l6-7l6 5l6-4l6 13l7-10l6 14l6-8l6 5l6-8l6 12l6-11l6 15l7-5l6 4l6-7l6 5l6 0l6 9l6-8l6 9l6-7l7 11l6-13l6 11l6-7l6 10l6-7l6 16l6-9l7 8l6-9l6 7l6-3l6 10" stroke="#FFB5B8"/>
<path d="M204 1392l7-2l6-1l6 1l6 4l6 0l6 3l6-5l6 2l7-4l6 3l6 4l6-1l6-3l6 2l6 0l6 4l7-1l6-3l6 1l6 0l6 0l6 3l6-1l6 0l7 2l6-5l6-1l6 0l6 4l6 5l6-4l6 3l6-3l7 3l6 1l6 4l6-4l6-3l6-1l6-1l6 7l7-3l6-3l6-1l6 7l6-2l6-3l6 1l6 4l7-3l6 1l6-2l6 5l6-1l6 1l6-1l6 5l7-1l6 3l6-1l6 1l6-1l6-2l6 1l6 0l6 1l7 2l6 2l6-1l6 5l6-3l6 1l6 2l6-1l7-1l6 4l6-2l6-1l6 3l6-2l6 5l6 0l7-4l6 2l6 2l6-2l6-1l6 2l6 0l6 1l7 2l6-1l6 1l6 5l6-2l6-3l6 1l6 1l6 1l7 4l6 0l6 1l6 1l6-5l6 1l6 3l6-3l7-2l6 5l6-3l6 4l6-8l6 3l6 7l6-5l7 4l6-2l6-3l6 1l6 7l6-2l6 2l6-2l7 2l6 0l6-4l6 5l6-3l6 5l6 0l6 3l6-5l7 2l6 4l6-2l6 1l6 1l6 1l6-3l6 3l7-3l6 1l6-1l6 0l6 2" stroke="#E24A33"/>
<path d="M204 1366l7 4l6-3l6 2l6-2l6 0l6-6l6-2l6 7l7 1l6-1l6 0l6 0l6 0l6-3l6-3l6 7l7-4l6 0l6 3l6-2l6 1l6-2l6 0l6 4l7-2l6-2l6 1l6 6l6-9l6 1l6-2l6 3l6 1l7-4l6 1l6 2l6-1l6 1l6 0l6-1l6 2l7 2l6-2l6-1l6 2l6 2l6 1l6 2l6-2l7 3l6 1l6-1l6-3l6 1l6 6l6-4l6 1l7 2l6-1l6 2l6-3l6 6l6-3l6 5l6 1l6-2l7 7l6-5l6-2l6 8l6 0l6-4l6 4l6 3l7-6l6 4l6-3l6 1l6 3l6 5l6-3l6 1l7 4l6 2l6 1l6 3l6-1l6-1l6 3l6 1l7 1l6 0l6 2l6-1l6-1l6 6l6 1l6 0l6-3l7 4l6 2l6-2l6 3l6 4l6-1l6 1l6 2l7 4l6 0l6-2l6 1l6 5l6 2l6-5l6 5l7-5l6-1l6-4l6 8l6-4l6 3l6-1l6 2l7-4l6-1l6 4l6 2l6-4l6 0l6-1l6-1l6 0l7 0l6 1l6-3l6-1l6 1l6 0l6 0l6 0l7 1l6-5l6 3l6-4l6 1" stroke="#348ABD"/>
<path d="M204 1358l7 1l6 1l6-1l6 5l6-2l6 1l6 1l6 1l7-2l6 3l6-3l6-1l6 4l6 1l6-1l6-3l7 1l6 4l6 0l6 3l6-1l6 2l6-3l6 1l7 0l6 4l6-1l6 0l6-4l6 7l6 0l6 0l6-3l7 2l6-3l6-2l6 8l6-5l6 0l6 0l6 1l7 2l6 2l6 1l6 1l6-2l6 1l6-1l6 1l7 5l6-2l6 1l6 1l6-1l6-3l6 3l6 0l7-3l6 1l6 2l6 3l6-2l6 3l6-4l6-1l6 6l7 0l6 0l6-2l6 6l6-4l6 0l6 2l6 0l7 2l6 0l6 2l6 3l6 0l6 0l6-2l6 2l7-1l6-2l6 4l6-1l6 5l6-2l6-3l6 0l7-6l6 9l6 1l6 1l6 2l6 0l6 3l6-1l6-8l7 7l6-2l6-1l6 0l6 2l6 2l6-1l6 0l7 6l6-5l6 2l6-1l6 0l6 2l6 5l6 2l7-5l6 3l6 3l6-2l6-1l6-4l6 6l6-2l7 0l6 2l6 2l6-5l6 3l6-1l6 2l6-5l6 3l7 3l6-2l6 1l6 3l6 3l6-2l6 0l6 3l7 2l6-4l6-1l6-2l6 5" stroke="#988ED5"/>
<path d="M204 1344l7-1l6 2l6 0l6-1l6-1l6-1l6 2l6 2l7 2l6-4l6 2l6 2l6-5l6 0l6 4l6 0l7 2l6 0l6-4l6 3l6-2l6-1l6 8l6-1l7-4l6 3l6 1l6 1l6-3l6 2l6-6l6 4l6 7l7 1l6-4l6-4l6 1l6 5l6 2l6 4l6-5l7 6l6-4l6-1l6 2l6-1l6-2l6 7l6-3l7 9l6-1l6 0l6 0l6-2l6 3l6 3l6 2l7 0l6-2l6 4l6 1l6 0l6-2l6 1l6 4l6 2l7 0l6-2l6-2l6 3l6 3l6-5l6 2l6 9l7-4l6-2l6 0l6 4l6 4l6-2l6-2l6 0l7 2l6 3l6-1l6 1l6 2l6-5l6 4l6 2l7-4l6 4l6 2l6 1l6 3l6-3l6 2l6-1l6-1l7 4l6 1l6 4l6-5l6 3l6-2l6 2l6 2l7 2l6-4l6 0l6 0l6 3l6 5l6-2l6-2l7-1l6 0l6-1l6 1l6-2l6 8l6-3l6-1l7 0l6 2l6 3l6-2l6-1l6 1l6-2l6 0l6 8l7-8l6 6l6-7l6 3l6 4l6-1l6 1l6-1l7 5l6-1l6 5l6-5l6 1" stroke="#777777"/>
<path d="M204 1366l7 3l6-3l6 3l6 0l6-2l6-2l6 7l6-1l7 2l6-3l6 0l6 4l6 0l6 0l6-4l6 6l7-5l6 1l6 1l6-1l6 2l6-6l6 3l6 3l7-3l6 1l6 3l6 0l6-2l6 1l6 0l6 0l6-1l7 2l6-4l6 2l6-1l6 3l6 3l6 0l6 0l7 2l6 6l6-3l6-5l6-2l6 0l6 5l6 3l7-5l6 2l6 6l6 2l6 0l6 0l6 5l6-2l7 0l6-3l6 2l6 5l6-3l6-2l6-2l6 1l6 2l7-2l6 8l6-5l6-1l6 7l6-2l6 6l6-9l7 4l6 3l6 4l6-1l6-1l6 1l6-1l6 2l7 3l6-3l6-5l6 12l6-1l6-3l6 4l6 3l7 0l6-1l6 3l6 3l6 1l6-4l6 1l6-2l6 1l7 5l6 0l6 1l6-3l6 2l6 1l6 0l6-1l7 4l6 3l6-2l6 1l6-1l6 4l6-5l6 2l7-2l6 1l6 2l6 3l6-1l6 2l6-6l6 4l7 0l6 2l6 0l6-2l6-5l6 7l6-1l6-3l6 2l7 2l6-7l6 4l6 3l6 4l6 0l6-1l6-4l7 1l6 2l6-5l6 0l6 4" stroke="#FBC15E"/>
<path d="M204 1386l7-2l6-3l6-2l6 4l6-1l6-2l6 4l6 2l7 4l6-4l6 4l6-1l6-4l6-3l6 5l6 3l7 0l6-5l6-5l6 3l6 6l6 0l6-6l6 0l7 0l6 2l6 0l6 5l6-5l6-4l6 5l6 1l6-1l7 1l6 2l6 1l6-3l6-4l6 4l6 4l6-4l7-3l6 4l6 3l6 0l6-1l6-4l6 6l6-2l7 0l6 2l6-4l6 2l6 4l6 1l6-1l6-3l7 4l6-1l6 1l6 5l6-2l6 4l6-1l6 0l6-1l7 1l6 2l6 1l6 1l6-1l6 4l6 0l6-1l7 6l6-5l6-2l6 4l6 0l6 1l6 1l6 0l7 4l6-4l6 3l6-2l6-5l6 5l6 2l6 1l7 2l6-1l6 0l6 4l6-3l6 4l6-3l6 4l6 6l7-2l6 2l6-1l6-3l6 4l6 1l6-1l6 4l7 0l6-4l6-1l6 5l6 1l6-2l6-1l6 4l7 3l6 1l6-4l6 1l6 4l6-5l6 4l6 3l7-3l6-1l6 5l6 1l6-2l6 2l6-2l6 0l6 4l7 7l6-4l6-1l6-5l6 7l6 0l6-3l6 3l7-1l6 2l6 1l6 0l6 3" stroke="#8EBA42"/>
<path d="M204 1395l7 2l6 0l6 1l6-1l6 0l6-3l6-2l6 1l7 7l6-3l6-1l6-3l6 1l6 0l6 1l6 5l7-4l6-2l6 5l6-6l6-3l6 8l6 1l6 2l7-3l6 2l6-5l6 4l6 0l6-2l6 2l6-4l6 3l7 1l6-1l6 5l6-2l6 1l6-1l6 3l6-5l7 0l6 3l6 1l6 4l6-3l6 4l6-4l6 4l7-5l6 4l6 3l6-3l6 3l6-4l6-1l6 7l7-2l6 2l6 2l6 6l6-1l6 1l6-3l6-1l6 7l7 3l6-2l6 1l6-2l6 4l6-3l6-1l6 7l7 3l6-1l6 1l6-4l6 4l6 3l6 4l6-2l7 3l6 1l6 5l6-3l6 0l6 0l6 5l6-2l7 0l6 0l6 6l6-1l6 0l6 2l6 0l6 4l6 2l7-7l6 2l6 2l6 3l6 3l6 3l6 3l6-1l7 4l6-2l6 2l6 1l6 1l6-5l6 0l6 8l7-4l6 3l6 3l6 1l6 10l6-3l6-3l6 6l7-1l6 5l6 4l6-1l6 3l6 3l6 1l6 1l6 0l7 3l6 2l6 3l6 3l6 3l6 1l6 3l6 1l7-1l6 3l6 2l6 5l6 2" stroke="#FFB5B8"/>
<path d="M204 1352l7 4l6 1l6 4l6 2l6-3l6 3l6-2l6-1l7 5l6 2l6-4l6 3l6 0l6 1l6 2l6 1l7-1l6 3l6 5l6-1l6 1l6 0l6-2l6 6l7-3l6 4l6 0l6-2l6 4l6-4l6 0l6 4l6 2l7 1l6 7l6-2l6-1l6-1l6-1l6 10l6-3l7-4l6 0l6-2l6 5l6 5l6-2l6 0l6 4l7 2l6 2l6-3l6 4l6-1l6 1l6 1l6 0l7 2l6 5l6 1l6-2l6-3l6 3l6 3l6 2l6 4l7-4l6 1l6 9l6-3l6 6l6-2l6-2l6 4l7 0l6 1l6 9l6-11l6 1l6 9l6-7l6 4l7 1l6 1l6-3l6 1l6 4l6 0l6 3l6-5l7 2l6-1l6 6l6-1l6-5l6 5l6 1l6 2l6 1l7-1l6 1l6 2l6 1l6-2l6-3l6 2l6 1l7 4l6 0l6 2l6-1l6 0l6-3l6 0l6 5l7-2l6 3l6 3l6 1l6-2l6 0l6-1l6 4l7 0l6 5l6-5l6-7l6 5l6 9l6-3l6 0l6-2l7 1l6-2l6 1l6 2l6 4l6 2l6-2l6 2l7-3l6 0l6 1l6 8l6-1" stroke="#E24A33"/>
<path d="M204 1379l7 2l6-1l6 4l6-7l6-3l6 2l6 2l6 7l7-8l6 1l6 4l6 2l6-2l6 2l6-2l6-2l7 5l6 3l6-2l6-4l6 1l6 1l6 1l6-3l7 5l6-4l6 4l6 0l6-1l6-3l6 2l6 5l6-2l7 4l6-5l6 1l6 1l6 0l6 4l6 4l6-2l7 0l6 4l6-3l6-2l6-2l6 3l6 3l6 8l7 3l6-7l6-3l6 6l6 0l6 0l6 1l6 0l7 5l6 5l6-2l6 0l6 8l6-4l6-7l6 4l6 4l7 0l6 1l6 3l6 2l6 5l6 1l6-3l6 3l7 1l6-2l6 0l6 4l6 4l6-1l6 1l6-3l7 6l6-2l6-1l6 6l6-3l6-1l6-3l6 3l7 0l6 3l6-3l6 6l6-4l6 1l6 8l6 0l6-5l7 0l6 4l6 2l6-1l6 5l6-1l6-4l6 7l7-6l6-1l6 6l6 4l6-1l6-2l6 0l6 3l7 3l6-4l6 3l6 3l6 0l6-3l6 2l6 1l7-3l6 5l6 5l6-5l6-1l6 0l6 2l6 4l6-2l7 2l6-4l6 0l6-3l6 2l6 3l6-3l6 6l7-4l6 0l6 3l6 3l6-1" stroke="#348ABD"/>
<path d="M204 1359l7-1l6 8l6-2l6 2l6-3l6 1l6-1l6-2l7 5l6-2l6 1l6 4l6 1l6-2l6 6l6-2l7 1l6-1l6 0l6-5l6 5l6 4l6-2l6 2l7-3l6-1l6 6l6 2l6-4l6 2l6-1l6-3l6 3l7 0l6 4l6 3l6 0l6-1l6-2l6-1l6-2l7 6l6-2l6 4l6 4l6-6l6 1l6 5l6 0l7-1l6-3l6 2l6 2l6 5l6 4l6-2l6 4l7-1l6-4l6 3l6 4l6 4l6 0l6-3l6 7l6 0l7-3l6 2l6 0l6 4l6-4l6-3l6 4l6-1l7 5l6 1l6 1l6 6l6-2l6 0l6 2l6 0l7 5l6-5l6 5l6-3l6 4l6-6l6 7l6-5l7 11l6-9l6 7l6-4l6 8l6-7l6 7l6-5l6 7l7-4l6 9l6-4l6 2l6-6l6 9l6-5l6 8l7-5l6 4l6-5l6 8l6-4l6 9l6-11l6 11l7-8l6 11l6-6l6 5l6 0l6 8l6-5l6 5l7-1l6 6l6-3l6 9l6-15l6 11l6-8l6 8l6-7l7 12l6-2l6 1l6 2l6 11l6-10l6 6l6-6l7 11l6-2l6 5l6-8l6 10" stroke="#988ED5"/>
<path d="M204 1345l7 2l6-2l6 1l6 5l6-3l6-1l6 5l6 0l7 4l6-1l6 1l6 0l6 1l6 2l6-1l6 8l7-1l6-2l6 0l6-1l6 4l6 3l6-2l6 1l7 5l6-6l6 0l6 3l6-6l6 7l6 1l6-1l6 2l7 2l6 0l6 0l6 0l6 4l6 1l6 2l6 1l7 1l6 1l6-5l6 5l6 3l6-6l6 3l6 11l7-3l6 1l6 4l6 1l6-3l6 0l6 2l6 4l7-3l6 2l6 2l6 2l6 6l6-3l6-2l6 3l6 4l7-2l6 6l6 2l6-1l6 0l6 1l6 7l6-3l7 0l6 4l6-4l6 4l6 3l6-3l6 5l6-4l7 10l6-8l6 11l6-7l6 14l6-19l6 18l6-9l7 9l6-9l6 17l6-15l6 11l6-8l6 13l6-10l6 14l7-8l6 8l6-14l6 12l6-7l6 11l6-9l6 11l7-10l6 18l6-10l6 7l6-5l6 16l6-17l6 13l7-11l6 10l6-5l6 10l6-10l6 13l6-10l6 12l7-12l6 15l6-11l6 14l6-13l6 10l6-7l6 12l6-8l7 5l6-7l6 11l6-14l6 16l6-9l6 14l6-8l7 5l6-9l6 13l6-10l6 14" stroke="#777777"/>
<path d="M204 1415l7 0l6-2l6-3l6-1l6 4l6 3l6-2l6-6l7 1l6 2l6-5l6 3l6 3l6-1l6 1l6 0l7-2l6 2l6 0l6 0l6-2l6 6l6 0l6-1l7 1l6-1l6 2l6 0l6 1l6-3l6-4l6 5l6-4l7-1l6 8l6-3l6-1l6 6l6-3l6 0l6 0l7-3l6 2l6 1l6 5l6-3l6 0l6 1l6-5l7 7l6 1l6 3l6 0l6-4l6 6l6 5l6-3l7 4l6 1l6 0l6 3l6 0l6 0l6-1l6 7l6-5l7 4l6 5l6 2l6-1l6-3l6 6l6 4l6-4l7 6l6-2l6 1l6 1l6 8l6-7l6 6l6-5l7 8l6-6l6 17l6-8l6 8l6-10l6 10l6-11l7 14l6-9l6 13l6-13l6 17l6-15l6 15l6-12l6 17l7-14l6 15l6-11l6 13l6-14l6 14l6-9l6 17l7-12l6 16l6-14l6 14l6-11l6 15l6-12l6 12l7-14l6 14l6-10l6 17l6-14l6 16l6-9l6 12l7-12l6 14l6-10l6 10l6-8l6 13l6-10l6 11l6-11l7 15l6-14l6 21l6-16l6 9l6-12l6 14l6-10l7 16l6-10l6 14l6-11l6 16" stroke="#FBC15E"/>
<path d="M204 1388l7-2l6-6l6 3l6 4l6 1l6 0l6-1l6-4l7 1l6-1l6 4l6-9l6 5l6 3l6-2l6-3l7 1l6 0l6-6l6 6l6-3l6 7l6-4l6 0l7-3l6 0l6 2l6-1l6-1l6 1l6 1l6 1l6 0l7-2l6 1l6-3l6 5l6 3l6 0l6-1l6-1l7-2l6 2l6-2l6 3l6 0l6-1l6 3l6 0l7 3l6 3l6 0l6-4l6 3l6 8l6 0l6-4l7 3l6-2l6 1l6 3l6-4l6 5l6-4l6 4l6 1l7 2l6 4l6 1l6-1l6 4l6-3l6 2l6 1l7 2l6 7l6-4l6-1l6-3l6 3l6 4l6 1l7 3l6 1l6 5l6-2l6-3l6 3l6 5l6 1l7-3l6 0l6 7l6 2l6 0l6-2l6 2l6 1l6 0l7 1l6 7l6-2l6 3l6 1l6 0l6 2l6 1l7-1l6-2l6 6l6 1l6 4l6 4l6 1l6 1l7-4l6 0l6-4l6 1l6 0l6 2l6 0l6-3l7 0l6-1l6 0l6 3l6-1l6-5l6 1l6-3l6 3l7-1l6-2l6-5l6 4l6 4l6-1l6 1l6 0l7-2l6 0l6-2l6 3l6-3" stroke="#8EBA42"/>
<path d="M204 1388l7-4l6 3l6 2l6-3l6-1l6 6l6-3l6 2l7 0l6 4l6-3l6-1l6 8l6-5l6 1l6 5l7-4l6 5l6-3l6-2l6 5l6 2l6 4l6-1l7-6l6 6l6-4l6 0l6 4l6-1l6 2l6 0l6 0l7 0l6 4l6-1l6 0l6 1l6 1l6 0l6-1l7 0l6 3l6 3l6-5l6 1l6 3l6-3l6 2l7 3l6-4l6 0l6 3l6-1l6 1l6 6l6 3l7-3l6 1l6 3l6-1l6-1l6-1l6 3l6 3l6-3l7 5l6 3l6-1l6 1l6-1l6 2l6-2l6 4l7 1l6-4l6 4l6 3l6-1l6-1l6 0l6 6l7 4l6 1l6 0l6-4l6 1l6 2l6 7l6-9l7 10l6-7l6 7l6-8l6 16l6-11l6 11l6-11l6 16l7-10l6 11l6-10l6 13l6-13l6 15l6-13l6 9l7-6l6 8l6-9l6 14l6-6l6 11l6-9l6 8l7-9l6 12l6-9l6 10l6-4l6 11l6-6l6 7l7-9l6 10l6-7l6 11l6-6l6 12l6-13l6 18l6-14l7 16l6-9l6 7l6-5l6 15l6-13l6 9l6-8l7 16l6-11l6 11l6-7l6 10" stroke="#FFB5B8"/>
<path d="M204 1379l7-1l6 1l6 4l6-2l6 1l6 0l6 3l6 0l7-1l6-2l6-1l6 1l6 2l6-1l6-4l6 1l7 1l6 0l6 2l6 0l6-1l6 0l6 0l6-1l7-1l6 2l6 2l6 3l6 3l6-6l6 0l6 1l6 3l7-2l6-3l6-1l6-2l6 4l6 1l6 0l6 8l7-3l6 3l6-1l6 5l6 1l6 1l6 0l6-2l7 4l6-2l6-1l6 6l6-3l6-2l6 6l6 0l7-1l6 5l6 3l6 0l6 1l6 3l6 1l6 2l6-2l7-4l6 3l6 7l6-3l6 5l6-1l6 3l6-3l7 3l6 1l6 3l6-1l6 3l6-7l6 5l6-2l7 9l6-5l6 5l6-2l6 10l6-6l6 5l6-7l7 8l6-5l6 10l6-2l6 3l6-5l6 4l6-2l6 7l7-8l6 8l6-7l6 7l6-5l6 7l6-4l6 9l7-13l6 13l6-4l6 12l6-6l6 5l6-5l6 7l7-3l6 2l6-4l6 10l6-6l6 8l6-8l6 11l7-8l6 10l6-3l6 7l6-8l6 7l6-9l6 14l6-5l7 6l6-5l6 12l6-11l6 12l6-4l6 8l6-4l7 7l6-10l6 6l6-3l6 10" stroke="#E24A33"/>
<path d="M204 1380l7-10l6 10l6-3l6-3l6 4l6 2l6-3l6 1l7 1l6 2l6-6l6 3l6-2l6 2l6 3l6-1l7 4l6-5l6 0l6 5l6-4l6-4l6 5l6 4l7 1l6-2l6-6l6 5l6-6l6 6l6-1l6 4l6-5l7 1l6-3l6 2l6 1l6 0l6 1l6 1l6 2l7 1l6 2l6-4l6 4l6 6l6-3l6-2l6 4l7 0l6 2l6-1l6-2l6 3l6 2l6-1l6 2l7 4l6 0l6-3l6 4l6 1l6 5l6-4l6 4l6 1l7 1l6 3l6 3l6-4l6 2l6-1l6-3l6 8l7 2l6-2l6 10l6-6l6 2l6-6l6 11l6-15l7 21l6-17l6 16l6-10l6 15l6-15l6 18l6-15l7 15l6-4l6 11l6-13l6 13l6-12l6 13l6-11l6 19l7-20l6 19l6-15l6 17l6-10l6 17l6-19l6 16l7-12l6 20l6-16l6 16l6-15l6 16l6-12l6 14l7-12l6 11l6-10l6 16l6-17l6 15l6-12l6 15l7-14l6 16l6-10l6 11l6-12l6 20l6-14l6 14l6-15l7 10l6-10l6 16l6-11l6 10l6-12l6 18l6-17l7 12l6-9l6 15l6-16l6 12" stroke="#348ABD"/>
<path d="M204 1346l7 3l6-1l6-2l6 6l6-2l6-6l6 4l6 1l7-1l6 2l6-6l6 7l6-5l6 0l6 2l6-2l7 6l6-2l6-2l6 0l6 4l6-2l6-1l6 5l7-2l6 3l6 0l6 1l6-3l6 1l6 2l6-3l6 2l7 0l6 2l6 0l6-5l6 3l6 4l6-2l6 2l7 1l6 0l6-3l6 1l6 7l6-3l6-2l6 6l7 1l6 0l6-2l6 6l6-5l6 0l6 3l6-2l7 7l6-5l6 4l6-2l6 7l6-4l6 2l6 5l6 0l7-6l6 6l6 1l6-2l6-1l6 4l6 1l6 1l7 0l6 7l6 1l6 1l6-4l6 6l6 2l6-3l7 7l6 1l6 0l6-4l6 0l6-1l6 13l6 1l7-4l6 7l6-4l6 5l6-3l6 3l6 4l6 0l6-5l7 3l6-2l6 9l6 1l6-1l6 0l6 4l6 2l7 3l6 1l6 3l6-2l6 2l6 2l6 0l6 0l7 3l6 0l6-1l6 5l6-1l6 0l6-4l6 4l7-1l6-2l6 4l6-7l6 9l6-1l6-8l6-4l6 6l7-1l6 4l6 0l6 1l6-3l6 0l6 3l6-2l7 5l6-7l6 5l6 1l6-4" stroke="#988ED5"/>
<path d="M204 1392l7-4l6 0l6 0l6 1l6-1l6 2l6-1l6 1l7 0l6 3l6-1l6 3l6-1l6-2l6-1l6 1l7 1l6 0l6 0l6-1l6-2l6 3l6-1l6 1l7 0l6-3l6 7l6-2l6 1l6 1l6-1l6-1l6-2l7 3l6 2l6-3l6-3l6 1l6 1l6 4l6-1l7 1l6 7l6-2l6 4l6-5l6 4l6 3l6 0l7 1l6 0l6 1l6 7l6 1l6 0l6 0l6-2l7 6l6 1l6 0l6 1l6 6l6 1l6-1l6 3l6 2l7 3l6 4l6 0l6 3l6 1l6 1l6-3l6 1l7 3l6 0l6 7l6-3l6-4l6 7l6 0l6 0l7 0l6-3l6-1l6 5l6 1l6-3l6-2l6 0l7 1l6 3l6 0l6 3l6 1l6 1l6-3l6-1l6 2l7-1l6-1l6 0l6 2l6 1l6-2l6 0l6-2l7-5l6 4l6 5l6-2l6 2l6 2l6 3l6-1l7 2l6-5l6 5l6-3l6 7l6 1l6 2l6 3l7-1l6 0l6 3l6 2l6 1l6 1l6 4l6 2l6-1l7 5l6-3l6 4l6 1l6 2l6-2l6 3l6-2l7 7l6 3l6-2l6-2l6 8" stroke="#777777"/>
<path d="M204 1374l7-2l6 0l6 5l6-1l6-1l6 0l6 2l6 1l7 5l6 0l6-6l6 3l6 2l6-1l6 3l6 6l7 1l6-4l6-2l6 1l6-1l6 3l6-3l6 1l7 5l6-1l6-2l6-3l6 8l6 0l6-1l6 8l6-4l7-2l6 0l6-3l6 0l6 3l6-1l6 5l6-1l7 0l6 5l6-4l6 3l6 6l6-5l6 5l6 3l7-2l6 0l6-2l6 6l6-4l6 1l6 3l6 1l7 1l6 5l6-1l6 1l6 6l6 3l6-2l6 0l6 3l7-3l6 3l6 0l6 3l6 2l6-1l6 3l6-2l7 3l6 1l6 5l6-5l6 2l6 0l6 0l6-2l7 13l6-11l6 15l6-12l6 11l6-10l6 13l6-8l7 10l6-9l6 14l6-15l6 10l6-7l6 11l6-12l6 14l7-9l6 13l6-13l6 17l6-9l6 9l6-8l6 14l7-13l6 12l6-9l6 9l6-9l6 14l6-10l6 14l7-13l6 12l6-13l6 14l6-13l6 13l6-10l6 14l7-11l6 14l6-11l6 9l6-11l6 15l6-15l6 12l6-9l7 12l6-11l6 15l6-11l6 11l6-6l6 14l6-14l7 13l6-12l6 15l6-14l6 9" stroke="#FBC15E"/>
<path d="M204 1339l7 3l6 2l6 5l6-1l6-3l6 3l6-4l6-4l7 0l6 4l6 3l6-3l6 3l6 2l6-5l6 6l7 1l6-4l6 2l6 0l6-2l6 0l6 3l6-1l7-1l6-3l6 4l6 3l6 0l6-2l6 0l6 6l6-2l7 2l6-5l6 1l6 3l6-4l6 7l6 1l6-2l7 0l6 4l6-1l6-1l6 0l6 6l6 2l6 0l7 0l6-1l6 5l6-8l6 1l6 3l6 3l6-3l7 4l6 1l6 5l6-2l6 4l6 0l6-3l6 4l6 0l7 5l6-1l6 0l6-1l6-2l6 0l6 4l6 3l7 0l6 1l6 1l6 2l6-1l6-1l6 1l6 2l7 1l6-1l6 0l6 0l6 1l6 2l6-1l6 4l7-5l6 5l6-1l6-2l6 1l6 2l6 3l6-3l6 4l7 0l6 2l6 1l6 2l6 3l6-5l6 4l6-1l7 1l6 2l6 1l6-1l6 0l6 7l6-1l6-2l7-3l6 2l6-2l6 3l6 0l6 2l6-1l6 8l7-5l6-1l6 2l6 1l6-2l6 4l6-2l6-1l6 6l7 2l6-2l6-3l6 2l6 2l6-2l6 1l6 2l7-1l6-2l6 3l6-2l6 2" stroke="#8EBA42"/>
<path d="M204 1356l7 0l6 4l6 0l6 0l6-2l6 1l6 1l6 8l7-2l6-1l6-1l6 3l6-7l6 3l6-1l6 6l7 0l6-3l6 2l6 1l6-4l6 3l6 3l6 2l7-3l6-1l6-1l6 2l6 2l6-1l6-4l6 4l6-1l7 5l6 2l6 2l6-2l6 1l6-2l6 0l6 1l7 2l6 3l6-1l6-1l6-4l6 3l6 5l6-4l7 1l6 3l6 4l6-2l6 3l6-1l6 4l6-1l7-1l6-1l6-1l6 0l6 4l6 1l6-2l6 5l6 0l7 0l6 2l6-5l6 7l6-1l6 2l6 1l6-1l7 6l6 1l6-1l6-1l6 3l6 2l6 7l6 0l7 1l6 4l6-5l6 3l6 1l6 3l6-1l6-3l7 9l6 0l6 0l6 5l6 3l6-3l6-1l6 1l6 9l7-7l6 7l6 2l6-5l6 8l6-4l6 5l6 7l7-5l6 6l6 4l6 0l6-2l6 3l6 0l6 5l7 0l6 0l6-5l6 2l6 2l6 4l6 1l6-4l7-3l6 0l6 0l6 4l6-3l6-2l6 7l6-8l6 2l7 4l6-6l6 7l6 5l6-4l6-4l6 0l6-2l7 2l6-3l6-2l6 2l6 1" stroke="#FFB5B8"/>
<path d="M204 1377l7 2l6 1l6 0l6 2l6 1l6 1l6 3l6-4l7 2l6 4l6-1l6 0l6 3l6 4l6 1l6-5l7 6l6 1l6 0l6 3l6-1l6 1l6 0l6 3l7-2l6 2l6-3l6 2l6 3l6 6l6-1l6 3l6-5l7 3l6 3l6 2l6 0l6-5l6 3l6-3l6 2l7 1l6 5l6-3l6 3l6-4l6 1l6 4l6-4l7 5l6-2l6 2l6 1l6 3l6-5l6 2l6 6l7 1l6-3l6 2l6 1l6 0l6 2l6 3l6-5l6 1l7 2l6 4l6 0l6 6l6-3l6 3l6-2l6 4l7 3l6 1l6 0l6 6l6-6l6 1l6-2l6 4l7 8l6-7l6 8l6-4l6 8l6-8l6 10l6-7l7 12l6-8l6 11l6-9l6 9l6-9l6 15l6-9l6 11l7-9l6 13l6-10l6 10l6-7l6 6l6-6l6 12l7-8l6 13l6-8l6 9l6-11l6 8l6-3l6 9l7-2l6 8l6-6l6 2l6-6l6 12l6-10l6 5l7-5l6 10l6-11l6 10l6-6l6 12l6-10l6 8l6-11l7 11l6-7l6 7l6-10l6 6l6-2l6 10l6-14l7 11l6-5l6 6l6-12l6 11" stroke="#E24A33"/>
<path d="M204 1427l7-3l6 1l6-1l6 0l6-5l6 6l6 1l6-3l7-2l6 3l6 1l6 4l6-1l6-3l6-1l6 0l7-1l6-1l6-4l6 4l6-2l6 5l6-1l6 0l7 0l6-1l6-3l6 3l6 4l6-6l6-4l6 2l6 2l7 1l6-2l6-4l6 2l6 5l6-3l6 4l6-4l7 2l6-2l6 3l6 6l6-3l6 1l6 0l6-3l7 6l6 1l6 2l6-1l6-1l6 1l6 0l6 0l7 0l6 9l6 2l6-3l6 3l6-3l6-1l6 6l6 0l7 1l6-2l6 5l6 1l6-1l6 2l6 4l6-6l7 10l6-3l6 1l6-4l6 10l6-5l6 16l6-15l7 12l6-6l6 9l6-9l6 12l6-12l6 15l6-12l7 15l6-12l6 10l6-11l6 13l6-3l6 14l6-15l6 15l7-9l6 13l6-17l6 20l6-11l6 11l6-10l6 14l7-9l6 10l6-9l6 13l6-10l6 11l6-6l6 13l7-16l6 13l6-12l6 16l6-13l6 15l6-13l6 12l7-12l6 16l6-13l6 14l6-8l6 8l6-7l6 9l6-10l7 10l6-9l6 11l6-9l6 12l6-8l6 7l6-8l7 6l6-10l6 15l6-11l6 9" stroke="#348ABD"/>
<path d="M204 1351l7-2l6 0l6 5l6-5l6 1l6 4l6 0l6 2l7-1l6 1l6-1l6 5l6-6l6 1l6 3l6-1l7 3l6-3l6 1l6 2l6-1l6 2l6-1l6 1l7-4l6 1l6 1l6 0l6 0l6-2l6 4l6 0l6 0l7 0l6 0l6 4l6 0l6 2l6 1l6 0l6 2l7-4l6 3l6-2l6 1l6 3l6-1l6 9l6-1l7-7l6 2l6 3l6-2l6 5l6 3l6-1l6 3l7-1l6-1l6 1l6 1l6 3l6-1l6 4l6-1l6-6l7 2l6 5l6-1l6 0l6 2l6 3l6-2l6 0l7-1l6 1l6-3l6 5l6 11l6-2l6-4l6 4l7-5l6 7l6 0l6 1l6 1l6-5l6 5l6-1l7 3l6-3l6 1l6-2l6 7l6 1l6-1l6 3l6 2l7 4l6-3l6 0l6 1l6 1l6 2l6 1l6 7l7-5l6 0l6 0l6 5l6 1l6 0l6 0l6 2l7-1l6 1l6 1l6 1l6 2l6 3l6 3l6 3l7 3l6-1l6-4l6 3l6 2l6 1l6 2l6 4l6 2l7-6l6 5l6-2l6 2l6 4l6-2l6 3l6 8l7 0l6-1l6 6l6-2l6-1" stroke="#988ED5"/>
<path d="M204 1338l7 5l6 1l6-4l6 2l6 6l6-4l6 2l6 0l7-3l6 0l6-5l6 2l6 4l6 0l6 1l6 4l7-1l6-3l6 0l6 1l6-2l6 2l6 0l6 4l7 2l6-2l6-2l6 1l6 0l6-2l6 3l6 0l6 3l7 0l6-2l6-2l6 5l6 4l6-3l6-1l6 3l7 3l6 0l6 2l6 5l6-3l6-2l6 4l6-3l7 8l6-4l6 6l6 0l6 2l6 1l6-7l6 4l7-2l6-1l6 4l6 4l6 2l6 3l6-2l6-2l6 5l7 3l6-1l6-4l6 5l6-3l6 7l6-1l6-3l7 6l6 1l6-2l6 2l6 0l6 0l6 0l6-2l7 7l6 1l6-2l6 0l6 1l6 5l6-1l6 3l7-4l6 4l6 8l6 3l6-7l6-4l6 2l6 1l6 2l7 2l6 2l6 5l6-3l6-1l6 3l6-1l6-1l7 7l6-2l6 1l6-2l6 1l6 1l6 6l6-4l7 3l6 1l6 0l6-3l6 2l6-5l6-1l6 6l7 0l6 3l6 2l6 0l6-4l6 1l6 2l6 0l6 2l7-1l6-3l6-3l6 2l6 3l6 2l6-8l6 6l7 1l6 4l6-2l6 0l6-1" stroke="#777777"/>
<path d="M204 1377l7 4l6-1l6 3l6-3l6 2l6-6l6 3l6 2l7 0l6 2l6-3l6 3l6-4l6 1l6 3l6-4l7 0l6 4l6-3l6 0l6-1l6 4l6-5l6 2l7-1l6-3l6 2l6-1l6-1l6 4l6 1l6-2l6-2l7 3l6-4l6 0l6 2l6 2l6-5l6 5l6-2l7 7l6-4l6-1l6 1l6-2l6 1l6 5l6-5l7 2l6-3l6 4l6 1l6-1l6 4l6-2l6 1l7 3l6-4l6 0l6 5l6-3l6-2l6 1l6 5l6 0l7 1l6-3l6 6l6-3l6-1l6 6l6-6l6 1l7 6l6-1l6-3l6 4l6 4l6-1l6 0l6-2l7-1l6 4l6 4l6-1l6 0l6-1l6-3l6 5l7-5l6 2l6 0l6 8l6-2l6-2l6 2l6 1l6 1l7 1l6 1l6-3l6 3l6 2l6-4l6 2l6 3l7-6l6 10l6-4l6 1l6-5l6 4l6 4l6 0l7 3l6-6l6 3l6 1l6 2l6-1l6 4l6-1l7 2l6-1l6 1l6 0l6-2l6 3l6 0l6 3l6 2l7 0l6 1l6-1l6 1l6 2l6 2l6-3l6 3l7 1l6-3l6-3l6 1l6 3" stroke="#FBC15E"/>
<path d="M204 1405l7 6l6-3l6 1l6 1l6 4l6-3l6 3l6-4l7 4l6 0l6 6l6-4l6 0l6-2l6-1l6 6l7 3l6-1l6-3l6 2l6-1l6 3l6 1l6 2l7-5l6 0l6 1l6-3l6 1l6 6l6-2l6 1l6 0l7 4l6-2l6 1l6-3l6 2l6 0l6-1l6 3l7-3l6-2l6 3l6 3l6 2l6 1l6-1l6 3l7-5l6 3l6 1l6 3l6 0l6 0l6 3l6 2l7 4l6 1l6-1l6-5l6 4l6 4l6-1l6 1l6 2l7 1l6 6l6-5l6 6l6 3l6 1l6 1l6 0l7 0l6-3l6 6l6 0l6 1l6 1l6 1l6-4l7 5l6 2l6 1l6-2l6 1l6 3l6 1l6 2l7 3l6 1l6-1l6 7l6 1l6-7l6 8l6-5l6 9l7-11l6 12l6-6l6 10l6-9l6 15l6-11l6 16l7-14l6 13l6-7l6 9l6-15l6 19l6-9l6 16l7-18l6 15l6-9l6 10l6-10l6 8l6-6l6 13l7-9l6 11l6-6l6 9l6-8l6 13l6-11l6 14l6-9l7 14l6-11l6 11l6-10l6 12l6-9l6 11l6-8l7 11l6-4l6 14l6-14l6 10" stroke="#8EBA42"/>
<path d="M204 1401l7 1l6 1l6 2l6-2l6 4l6 0l6-4l6 3l7-2l6 5l6 4l6-5l6 1l6 1l6 3l6-3l7 6l6-4l6-3l6 3l6-1l6 7l6 0l6-2l7-2l6 3l6-1l6 0l6 3l6-2l6 4l6-3l6-2l7 3l6 2l6 1l6-1l6-1l6 1l6 3l6-2l7-3l6 3l6-3l6 1l6 1l6 2l6 3l6-1l7 3l6 2l6-3l6 2l6 7l6-4l6 1l6 3l7 1l6 1l6 4l6-3l6-2l6 1l6 4l6 6l6 1l7 4l6-1l6 0l6 0l6 5l6 0l6 4l6 1l7-2l6 2l6-4l6 0l6 2l6 0l6 5l6 5l7 3l6-6l6 1l6 0l6 10l6-1l6 3l6-7l7 9l6-8l6 4l6-1l6 11l6-11l6 11l6-7l6 4l7-3l6 5l6-2l6 6l6-6l6 7l6 0l6 4l7-2l6 7l6-4l6 8l6-5l6 6l6-11l6 13l7-9l6 12l6-8l6 14l6-9l6 8l6-8l6 16l7-8l6 11l6-10l6 13l6-4l6 3l6-6l6 8l6-5l7 10l6-9l6 11l6 0l6 7l6-6l6 4l6-6l7 9l6 0l6 4l6-2l6 8" stroke="#FFB5B8"/>
<path d="M204 1346l7 3l6 4l6-3l6 0l6 1l6 0l6 4l6 0l7-1l6 0l6 5l6 2l6-5l6 3l6 5l6-4l7 3l6 0l6-1l6 3l6 4l6-1l6-2l6 3l7 2l6-7l6 2l6 2l6 3l6-2l6 1l6 5l6 1l7-2l6-2l6-1l6 0l6 4l6 2l6-1l6 5l7 1l6-4l6 5l6-2l6 0l6 5l6-2l6-1l7-2l6 0l6 4l6 3l6 1l6 3l6 1l6 2l7-7l6 4l6 2l6-3l6 6l6-1l6 0l6 2l6 2l7-1l6-1l6 5l6-6l6 2l6 10l6-1l6 2l7-3l6-3l6 3l6 4l6 3l6-2l6 4l6-5l7 1l6-1l6 5l6-2l6 5l6 1l6 0l6 3l7 2l6-4l6 6l6-5l6 5l6 3l6 4l6 1l6 0l7-2l6-1l6 1l6 1l6 2l6-3l6 3l6 2l7 2l6 3l6 0l6 1l6 0l6-8l6 3l6 7l7 3l6-2l6-2l6-1l6 0l6 4l6 2l6-3l7 0l6 3l6-1l6-4l6 2l6-2l6-2l6-4l6 4l7-1l6 0l6 1l6 0l6-5l6 3l6-1l6-1l7-4l6 2l6-4l6 0l6 4" stroke="#E24A33"/>
<path d="M204 1412l7-2l6-2l6 8l6-4l6 0l6-7l6-1l6 5l7 1l6 6l6-4l6 2l6-5l6 5l6-2l6 0l7 1l6 0l6 0l6 3l6-4l6-3l6 5l6 1l7 1l6-3l6-1l6 4l6 2l6-3l6-4l6-2l6 4l7 1l6-5l6 0l6 5l6 2l6 3l6-5l6 1l7 2l6-1l6 3l6-5l6 2l6-1l6 6l6 0l7-3l6 0l6 2l6 4l6 0l6-2l6 1l6 2l7-1l6 6l6 0l6-1l6-3l6 5l6-3l6 4l6-1l7 1l6-1l6 2l6 2l6 3l6-2l6 0l6 5l7 6l6-4l6 1l6 4l6 3l6-1l6 3l6-1l7 3l6 0l6 10l6-3l6 6l6-5l6 5l6-7l7 10l6-7l6 17l6-15l6 16l6-14l6 13l6-11l6 21l7-15l6 17l6-16l6 16l6-12l6 13l6-10l6 12l7-6l6 16l6-20l6 17l6-13l6 17l6-9l6 10l7-12l6 16l6-9l6 11l6-14l6 19l6-12l6 14l7-15l6 11l6-8l6 13l6-16l6 19l6-16l6 18l6-10l7 12l6-15l6 15l6-10l6 16l6-17l6 9l6-12l7 17l6-9l6 12l6-9l6 14" stroke="#348ABD"/>
<path d="M204 1356l7 0l6 2l6 3l6 1l6-1l6-2l6-2l6 5l7 0l6 0l6-3l6 4l6 4l6-4l6 5l6-1l7-1l6-1l6 4l6 2l6 1l6 2l6-7l6 4l7 0l6 4l6-1l6 0l6 1l6-3l6 4l6-2l6 4l7 3l6-2l6 6l6 0l6-3l6 2l6-1l6-3l7-1l6 1l6 0l6 5l6 1l6 1l6 2l6 1l7-7l6 5l6 0l6-1l6 1l6 3l6-1l6 5l7 1l6-2l6-2l6-1l6 1l6 2l6 1l6-2l6 6l7 1l6 2l6 1l6 0l6-2l6 3l6-2l6 3l7-3l6 1l6 4l6 2l6 1l6-1l6 3l6-1l7 5l6 2l6-3l6 1l6 2l6 3l6 2l6 0l7 3l6 0l6 1l6-5l6 6l6 3l6 2l6-3l6 7l7-3l6 1l6 1l6 0l6 5l6-1l6 5l6-2l7 2l6-1l6 4l6 5l6-1l6 1l6 2l6-3l7 1l6 3l6-2l6 0l6-2l6 2l6 3l6 5l7-5l6 4l6 2l6-2l6 0l6 4l6 3l6-5l6-1l7 0l6-6l6 6l6 0l6-1l6 0l6 2l6 5l7-2l6 0l6-1l6 6l6-7" stroke="#988ED5"/>
<path d="M204 1376l7 0l6 1l6 6l6-7l6 8l6-9l6 8l6 6l7-4l6-3l6 8l6-2l6 0l6 3l6-1l6 1l7 1l6 2l6 1l6-1l6 0l6 4l6 3l6-7l7 5l6 3l6 4l6-5l6 0l6 5l6-4l6 0l6 7l7 1l6-2l6 0l6-1l6 8l6 1l6-4l6 0l7 0l6 3l6-2l6 3l6 1l6 0l6 3l6 0l7 7l6-3l6 2l6 1l6 3l6 8l6-7l6 0l7-1l6 9l6 4l6-3l6 3l6 1l6-3l6 2l6 2l7 0l6 8l6 1l6-1l6 4l6-2l6 5l6-3l7 9l6-4l6 2l6 2l6-2l6-1l6 7l6 1l7 0l6-3l6 2l6-2l6 8l6-4l6 11l6-6l7 2l6-3l6 12l6-7l6 6l6-4l6 9l6-5l6 5l7-6l6 6l6-6l6 8l6 1l6 6l6-8l6 8l7-6l6 10l6-5l6 6l6-8l6 7l6-5l6 12l7-10l6 8l6-3l6 7l6-2l6 11l6-2l6 2l7-6l6 9l6-6l6 12l6-11l6 6l6 0l6 9l6-3l7 6l6-2l6 7l6-6l6 5l6-4l6 4l6-6l7 10l6-3l6 6l6-5l6 5" stroke="#777777"/>
<path d="M204 1391l7 0l6 3l6 0l6 3l6 1l6 3l6-7l6-1l7 5l6-3l6 3l6-1l6-4l6-1l6-1l6 1l7 4l6 2l6-4l6 2l6 0l6 5l6 2l6-3l7-7l6 5l6-3l6-4l6 5l6 2l6-1l6-4l6 3l7 1l6 1l6-1l6-5l6 6l6 3l6-3l6 4l7 2l6-1l6 2l6 2l6 2l6 2l6-5l6 5l7 0l6 4l6 2l6 1l6-2l6 2l6-1l6-2l7 4l6 5l6 2l6 2l6 5l6-2l6 7l6-4l6 0l7 3l6 0l6 6l6 1l6 0l6 2l6 5l6-5l7 5l6-2l6 6l6-6l6 10l6-11l6 8l6-7l7 10l6-8l6 9l6-9l6 9l6-9l6 8l6-5l7 16l6-7l6 4l6-6l6 7l6-10l6 9l6-2l6 8l7-11l6 11l6-8l6 11l6-10l6 8l6-5l6 3l7-4l6 10l6-8l6 7l6-8l6 12l6-4l6 7l7-3l6 6l6-3l6 4l6-7l6 11l6-13l6 11l7-3l6 10l6-10l6 11l6-6l6 14l6-12l6 7l6-1l7 8l6-8l6 4l6-2l6 7l6-8l6 12l6-4l7 8l6-8l6 9l6-2l6 12" stroke="#FBC15E"/>
<path d="M204 1366l7-3l6 6l6-2l6 2l6-5l6 1l6 1l6 1l7-3l6 1l6 2l6-1l6-5l6 7l6-1l6 2l7-1l6 1l6-3l6 1l6-5l6 5l6 3l6-1l7-3l6 3l6-3l6 4l6-1l6-3l6 4l6-2l6-1l7 0l6-3l6 6l6-3l6 3l6-1l6 0l6 1l7-2l6 3l6 3l6-7l6 4l6 0l6 5l6-2l7-1l6 2l6 1l6 1l6 2l6-5l6 5l6-4l7 4l6-4l6 6l6 1l6 0l6-2l6 0l6 0l6 8l7-5l6-6l6 8l6-1l6 2l6 1l6-2l6-1l7 6l6 0l6 0l6 3l6-2l6-5l6 4l6 0l7 2l6 1l6 0l6-6l6 7l6 5l6-3l6-2l7 5l6 4l6-1l6 0l6 1l6-5l6 7l6-2l6 1l7 0l6 2l6 3l6-3l6 1l6-1l6 2l6-2l7 4l6-7l6 7l6 4l6-5l6 0l6 3l6-1l7 3l6-5l6 2l6 3l6-3l6 2l6-1l6 2l7-1l6 0l6 1l6 3l6-1l6 1l6 0l6-4l6 5l7-2l6 0l6-1l6 1l6 0l6 3l6-3l6 0l7 4l6 2l6 4l6-3l6-2" stroke="#8EBA42"/>
<path d="M204 1353l7 0l6 2l6 0l6 1l6 1l6-2l6 2l6 0l7 5l6 1l6 2l6 2l6-4l6 2l6 3l6-1l7-2l6 6l6 3l6-1l6 0l6 4l6-1l6-2l7 1l6 0l6 3l6 0l6 1l6 2l6 0l6-5l6 11l7 0l6-8l6 8l6 2l6-2l6 3l6-3l6 6l7 1l6-5l6 3l6-3l6 3l6 1l6 6l6-6l7-2l6 4l6 1l6 3l6-3l6 0l6 5l6 2l7-2l6 7l6 1l6-4l6 0l6 2l6 0l6 5l6-2l7 1l6 1l6 6l6 1l6 1l6 1l6-3l6 1l7 2l6 6l6-2l6 1l6 4l6 0l6 4l6-4l7 7l6-4l6 7l6-8l6 7l6-3l6 13l6-6l7 6l6-6l6 0l6 1l6 7l6-3l6 5l6-3l6 5l7-4l6 9l6-6l6 15l6-8l6 10l6-8l6 4l7 1l6 7l6-3l6 3l6 2l6 4l6-7l6 11l7-6l6 9l6-7l6 10l6-3l6 4l6-6l6 6l7-3l6 7l6-3l6 4l6-3l6 6l6 1l6 2l6 3l7 4l6-7l6 9l6-2l6 5l6-7l6 6l6 3l7 4l6-2l6 9l6-4l6 8" stroke="#FFB5B8"/>
<path d="M204 1412l7-1l6 2l6 1l6-3l6 1l6 9l6-9l6-5l7 4l6 0l6 2l6 4l6-1l6-1l6 0l6 0l7 2l6-2l6-3l6 0l6 3l6 4l6 2l6-2l7 3l6-2l6 0l6-2l6-1l6 1l6 1l6 1l6 3l7-2l6-3l6 1l6 2l6-1l6-1l6-1l6-1l7 6l6-4l6-1l6 2l6 0l6 3l6 0l6 0l7 2l6 0l6-2l6 1l6 4l6-8l6 11l6-5l7 2l6-1l6 0l6 0l6 2l6 1l6-3l6 6l6-4l7 4l6 0l6-1l6 2l6 4l6-1l6 0l6 4l7-2l6 4l6 1l6-1l6 3l6-3l6 2l6 5l7 2l6-3l6-2l6 1l6 8l6-3l6-2l6 1l7 4l6 0l6 5l6-1l6 9l6-3l6 5l6-6l6 9l7-14l6 15l6-8l6 14l6-14l6 18l6-16l6 17l7-9l6 7l6-3l6 12l6-14l6 12l6-10l6 13l7-8l6 10l6-8l6 10l6-11l6 11l6-13l6 18l7-15l6 12l6-9l6 8l6-9l6 12l6-10l6 17l6-17l7 12l6-17l6 15l6-7l6 6l6-8l6 13l6-12l7 6l6-13l6 17l6-11l6 9" stroke="#E24A33"/>
<path d="M204 1370l7 0l6-2l6 3l6 0l6 2l6-2l6 0l6 0l7 4l6 0l6 1l6-1l6 1l6-4l6 3l6-1l7-6l6 5l6 1l6-1l6 0l6 1l6-1l6 2l7-1l6 0l6-2l6 1l6 2l6 1l6 2l6-2l6 0l7 5l6-6l6 6l6 1l6-3l6 4l6-3l6 0l7 0l6 5l6-3l6 5l6-7l6 5l6 1l6-5l7 0l6 5l6 4l6-5l6 2l6 2l6-3l6 3l7-2l6 8l6-1l6-5l6 0l6 4l6 2l6-2l6-2l7 7l6 3l6-2l6-1l6 1l6 5l6-1l6-2l7 4l6-4l6 2l6 0l6 2l6 1l6 6l6-1l7-1l6 0l6 0l6-1l6 5l6 3l6 3l6-1l7-2l6-1l6 1l6 3l6-2l6 2l6 0l6 3l6-2l7 3l6-3l6 2l6 2l6 2l6 1l6 2l6-3l7 3l6 4l6 0l6-3l6 1l6 2l6 4l6-3l7 1l6 1l6 0l6 2l6 2l6 3l6-6l6 0l7-3l6-2l6 5l6 4l6 1l6 3l6 0l6-1l6 2l7-1l6 1l6 0l6 4l6-4l6 2l6 0l6-3l7 6l6-3l6 0l6 2l6 1" stroke="#348ABD"/>
<path d="M204 1378l7-6l6 2l6 1l6 5l6-2l6 0l6 5l6-3l7 1l6 2l6-1l6-4l6 0l6 5l6 2l6-2l7 6l6-5l6 6l6-4l6-2l6 2l6-6l6 4l7 3l6 3l6 1l6-2l6-4l6 5l6 2l6-3l6 2l7 3l6 1l6 0l6-1l6-3l6-2l6 4l6 4l7-2l6-2l6 2l6 3l6 3l6-4l6 0l6-1l7 0l6-1l6-1l6 5l6 4l6-2l6 1l6 0l7 4l6 0l6 1l6 1l6-1l6 3l6 3l6 3l6-4l7 7l6-11l6 3l6 5l6 2l6-3l6 4l6 1l7 3l6-3l6-1l6 1l6 3l6 2l6 3l6 0l7 4l6-1l6-2l6-3l6-2l6-1l6 6l6 3l7 2l6-5l6-1l6 5l6 2l6-1l6 4l6 5l6 0l7-3l6 2l6 2l6-2l6 3l6-5l6 5l6 0l7 4l6-5l6-2l6 5l6 2l6-3l6-1l6 1l7 6l6 1l6 1l6-3l6 1l6 3l6-4l6 8l7-4l6 2l6 0l6 1l6-5l6 7l6 0l6-5l6 3l7-1l6-1l6 3l6 0l6-2l6 3l6 1l6 2l7-2l6-2l6 3l6-2l6 5" stroke="#988ED5"/>
<path d="M204 1397l7 1l6 3l6 0l6 1l6 0l6 2l6-3l6-1l7 1l6-5l6 2l6 6l6 3l6-2l6-1l6 0l7 6l6-5l6 0l6 1l6-2l6 1l6 5l6-2l7 4l6-3l6 1l6-1l6-1l6 6l6-4l6 2l6-3l7 5l6-4l6 4l6-2l6 2l6 1l6 4l6 0l7 1l6 0l6 1l6-2l6 4l6 0l6 5l6-1l7-2l6 1l6 5l6 1l6 3l6 0l6-2l6-2l7 7l6-3l6 5l6-3l6 7l6-3l6 2l6 2l6 2l7 2l6 5l6-3l6 4l6 2l6 2l6 3l6 5l7-6l6 1l6 1l6-1l6 2l6 4l6 3l6 1l7-4l6 0l6 4l6 2l6 1l6 1l6 3l6 0l7 7l6-6l6 6l6-4l6 12l6-11l6 5l6-4l6 13l7-7l6 10l6-12l6 14l6-11l6 4l6-7l6 20l7-13l6 15l6-15l6 17l6-11l6 10l6-6l6 12l7-11l6 10l6-8l6 9l6-5l6 12l6-8l6 11l7-7l6 9l6-11l6 18l6-15l6 11l6-6l6 12l6-10l7 16l6-13l6 16l6-10l6 15l6-16l6 13l6-6l7 16l6-17l6 17l6-15l6 14" stroke="#777777"/>
<path d="M204 1406l7-2l6-2l6 2l6-1l6 0l6 1l6 3l6-1l7 1l6-4l6 5l6-2l6 1l6-2l6 2l6 1l7-1l6-1l6 1l6 2l6 1l6-1l6-1l6-2l7 2l6 1l6 2l6-2l6-6l6-1l6 7l6-2l6-1l7-3l6 1l6 1l6 2l6-3l6 6l6-1l6-2l7 3l6 1l6 2l6-3l6 1l6-2l6 3l6 4l7-3l6 0l6 1l6-2l6 8l6 2l6-2l6 5l7-1l6-5l6 8l6-3l6-4l6 5l6 5l6-5l6 5l7-5l6 3l6 8l6-2l6 5l6-4l6 3l6 0l7 2l6-1l6 3l6-3l6 5l6 2l6 5l6-2l7 4l6-1l6 1l6-2l6 4l6 3l6-1l6 5l7 1l6-3l6 3l6 2l6 6l6-6l6 9l6-5l6 11l7-8l6 3l6-1l6 11l6-2l6 4l6-7l6 6l7-3l6 6l6-4l6 4l6-4l6 9l6-6l6 6l7-5l6 11l6-4l6 9l6-9l6 10l6-6l6 8l7 3l6 6l6-3l6 7l6-11l6 9l6-4l6 9l6-6l7 8l6-2l6 10l6-7l6 9l6-5l6 6l6 2l7 4l6-9l6 14l6-10l6 10" stroke="#FBC15E"/>
<path d="M204 1412l7 4l6-2l6-1l6 3l6-4l6 4l6 0l6 2l7 4l6-6l6 6l6-1l6-1l6 1l6-3l6 1l7-3l6 3l6 3l6-5l6 3l6 5l6-3l6-3l7 4l6 0l6-4l6 1l6-2l6 2l6 5l6-2l6 6l7-2l6-2l6-4l6 7l6-2l6 0l6 2l6-7l7 5l6 2l6 0l6-2l6-1l6 5l6-3l6-1l7 2l6 2l6 3l6 0l6 0l6 2l6 0l6 2l7 4l6 0l6-2l6 4l6 4l6-3l6 3l6 4l6 0l7-3l6-2l6 6l6 2l6 5l6-3l6 3l6-1l7 3l6 0l6 1l6-3l6 8l6 2l6 0l6-4l7 6l6-5l6 5l6-6l6 12l6-14l6 9l6-3l7 10l6-4l6 5l6-15l6 19l6-12l6 11l6-11l6 13l7-13l6 16l6-14l6 12l6-11l6 14l6-10l6 10l7-15l6 16l6-11l6 10l6-7l6 14l6-12l6 15l7-12l6 11l6-10l6 18l6-14l6 12l6-11l6 18l7-11l6 13l6-6l6 13l6-17l6 14l6-14l6 15l6-7l7 11l6-9l6 13l6-11l6 17l6-9l6 14l6-16l7 16l6-11l6 18l6-15l6 16" stroke="#8EBA42"/>
<path d="M204 1390l7-1l6 6l6-1l6 2l6-3l6 3l6-4l6 0l7-1l6-1l6 3l6-3l6 2l6-2l6 2l6-4l7 2l6 2l6-1l6-2l6 0l6 2l6-1l6 4l7-3l6 2l6-7l6 2l6 1l6 2l6-1l6-4l6 2l7 1l6-1l6 0l6 0l6 5l6 2l6-3l6-1l7 4l6-2l6-5l6 10l6 3l6 3l6-6l6 1l7 0l6 6l6 1l6 0l6-3l6 3l6 5l6-2l7 0l6 3l6 3l6 5l6 1l6-1l6 2l6-1l6-2l7 4l6 1l6 1l6 2l6 6l6 0l6-1l6 0l7-2l6 4l6-3l6 9l6 0l6-2l6 2l6-1l7 3l6 2l6 3l6-2l6 0l6-4l6 9l6-4l7 9l6-5l6 6l6-8l6 9l6-5l6 12l6-9l6 8l7-9l6 12l6-8l6 11l6-11l6 15l6-11l6 7l7-7l6 14l6-13l6 18l6-13l6 12l6-10l6 8l7-5l6 9l6-13l6 12l6-13l6 17l6-12l6 13l7-14l6 10l6-8l6 9l6-12l6 13l6-10l6 12l6-11l7 6l6-6l6 10l6-11l6 11l6-12l6 12l6-6l7 11l6-13l6 11l6-8l6 8" stroke="#FFB5B8"/>
<path d="M204 1375l7-3l6 4l6 1l6 1l6-1l6 0l6-1l6 0l7 4l6 0l6-3l6-2l6 2l6 0l6 1l6 2l7-6l6 1l6-3l6 4l6 6l6-3l6 3l6-2l7 0l6 3l6-3l6 1l6 0l6 1l6-5l6 5l6 4l7-1l6-1l6-2l6 2l6 3l6-3l6 0l6-1l7 0l6-3l6 1l6 0l6 2l6 6l6-3l6-1l7 4l6 0l6-1l6 1l6-3l6 0l6 0l6 4l7-4l6 3l6 0l6 2l6-1l6 1l6-1l6 1l6-3l7 7l6-4l6-3l6 2l6 3l6 3l6-4l6 2l7-3l6 1l6 5l6-3l6 1l6 3l6-5l6 0l7 10l6-1l6 3l6-2l6-1l6-2l6 7l6-4l7 1l6 12l6-7l6-1l6-2l6 2l6 7l6-2l6-3l7 7l6-6l6 4l6 0l6 1l6 4l6 7l6-2l7-1l6 0l6-1l6 3l6 1l6-3l6 3l6 2l7-2l6 2l6 2l6-1l6-2l6 8l6-1l6-1l7 0l6 1l6-2l6-1l6 2l6 5l6 1l6-3l6 3l7 5l6 0l6-4l6-2l6 3l6 3l6 2l6-1l7 4l6 0l6-1l6 7l6-2" stroke="#E24A33"/>
<path d="M204 1382l7 3l6 3l6 4l6-2l6-3l6 2l6 1l6-4l7 0l6 1l6 0l6 3l6-2l6 2l6 5l6-2l7-5l6-3l6 6l6 2l6-5l6 3l6-2l6 2l7 2l6 0l6 2l6 3l6-4l6-1l6 2l6-1l6-3l7 3l6 1l6-4l6 5l6-3l6 3l6 5l6 2l7-3l6 8l6-7l6 5l6 2l6-2l6 1l6-2l7 6l6 2l6 0l6 2l6 5l6 1l6-2l6 4l7 0l6 2l6 5l6-1l6 0l6 8l6-1l6-3l6 5l7-4l6 1l6 9l6 1l6 0l6 4l6-5l6 3l7 4l6 2l6 0l6 0l6 2l6 0l6-6l6 3l7 4l6-3l6-1l6 3l6 2l6 2l6 1l6-4l7-5l6 11l6-1l6-2l6 3l6 2l6 3l6 2l6-7l7-2l6 3l6-3l6 3l6-4l6 2l6 6l6 0l7 0l6-5l6 8l6-1l6 2l6 1l6-6l6-2l7 6l6 6l6 3l6-5l6 0l6 5l6 2l6 2l7-3l6 4l6 1l6 3l6 4l6 1l6 0l6 2l6 0l7 4l6-3l6 6l6-1l6 0l6-2l6 9l6 1l7-5l6 2l6 4l6 4l6-2" stroke="#348ABD"/>
<path d="M204 1379l7-3l6-1l6 3l6-4l6 3l6 2l6-1l6 2l7 3l6-1l6-2l6-4l6 7l6-1l6-4l6 3l7-1l6 0l6-3l6 2l6 1l6-5l6 5l6 0l7 9l6-5l6 4l6-3l6 5l6-5l6-5l6 3l6 0l7-3l6 3l6-1l6 4l6 0l6 4l6-6l6 2l7-3l6-1l6 0l6 3l6-2l6 1l6 3l6 2l7-3l6 0l6 0l6 0l6 0l6-2l6-2l6 5l7 2l6-2l6 0l6 2l6 0l6 2l6-3l6 2l6-3l7 5l6-1l6-2l6 0l6 1l6 1l6-2l6 5l7 6l6-8l6 3l6 2l6-1l6-2l6 1l6 2l7 0l6-3l6 3l6-1l6 0l6 1l6 3l6 3l7-5l6-2l6 3l6 6l6-2l6-1l6 1l6 4l6-2l7 3l6 0l6-2l6 1l6-1l6 2l6 0l6 0l7 1l6-3l6 0l6 3l6-1l6-3l6 7l6-4l7 5l6 6l6-3l6-7l6 0l6 1l6 6l6-9l7 6l6 2l6-4l6 3l6 5l6-2l6 1l6-2l6 0l7 0l6 3l6 5l6-2l6 1l6-2l6-1l6 4l7-2l6-5l6 0l6 1l6 1" stroke="#988ED5"/>
<path d="M204 1359l7 4l6 3l6-3l6 2l6-2l6-4l6 2l6-1l7-1l6-1l6 2l6 0l6-1l6 4l6 0l6-5l7 2l6 0l6-1l6 3l6-2l6 1l6-4l6-3l7 0l6 0l6 1l6 2l6 1l6-3l6 3l6-3l6 2l7 4l6 0l6 2l6-7l6 2l6 1l6 3l6 4l7 1l6-3l6 4l6 2l6-5l6 4l6-3l6 4l7 2l6 1l6-5l6-1l6 4l6 0l6 6l6 0l7 0l6 3l6-1l6-3l6 1l6 3l6 4l6-2l6-1l7-1l6 3l6 3l6-1l6-2l6 6l6 0l6-4l7 1l6 7l6 5l6-7l6 1l6 0l6-1l6-1l7 2l6 4l6 0l6-3l6 6l6 3l6-4l6-1l7 3l6-4l6 2l6 0l6 3l6-1l6 3l6 2l6 2l7-2l6-1l6-1l6 3l6 5l6-5l6-2l6 2l7-2l6 0l6 7l6-5l6 4l6 2l6 2l6-1l7-1l6 1l6-4l6 3l6-2l6 7l6 1l6-2l7 1l6-5l6 7l6 1l6-3l6 0l6 3l6 2l6-2l7 1l6-3l6 5l6 2l6-5l6 4l6-4l6 5l7-1l6-1l6 5l6-2l6 0" stroke="#777777"/>
<path d="M204 1378l7-1l6-1l6-1l6 1l6 0l6-4l6-3l6 3l7 3l6 0l6 2l6 3l6 0l6-3l6 3l6-4l7 4l6 1l6 0l6-2l6 3l6-7l6 4l6-3l7 1l6 1l6-1l6-1l6 3l6 1l6-3l6 2l6 1l7 1l6-4l6-2l6 1l6 5l6-5l6 8l6-3l7 4l6 1l6-3l6 5l6-1l6-1l6 1l6 0l7 1l6 3l6 1l6 5l6-1l6-1l6 4l6-2l7 2l6-1l6 0l6 6l6-1l6-3l6 4l6 2l6 0l7 1l6-2l6-2l6 8l6 3l6-6l6 4l6 0l7 1l6 1l6-1l6 5l6-1l6-3l6 3l6 0l7 0l6 3l6-4l6 2l6-1l6 5l6 0l6 3l7 1l6-6l6 2l6 5l6 0l6 0l6 1l6-2l6-2l7-2l6 6l6-2l6-2l6 1l6 2l6 3l6-5l7 4l6 0l6 3l6-2l6 2l6 2l6-1l6-1l7-5l6 4l6 5l6-4l6 1l6 1l6 3l6-3l7 2l6-2l6 1l6-1l6 3l6-8l6 6l6 6l6-3l7-1l6 2l6-1l6 2l6-1l6-2l6 3l6-2l7 0l6 8l6-1l6-1l6-1" stroke="#FBC15E"/>
<path d="M204 1398l7 1l6 1l6-5l6 0l6 4l6-4l6 0l6 0l7-4l6 1l6 1l6-2l6 3l6-2l6 0l6 0l7 0l6 2l6 0l6-5l6-4l6 7l6 3l6-6l7 2l6-1l6-2l6 0l6 0l6-2l6 0l6-1l6 3l7 0l6 0l6-3l6 3l6 0l6 2l6 1l6 0l7 2l6 4l6-3l6 5l6-1l6 4l6-5l6 2l7 2l6 5l6 1l6-1l6 0l6-1l6 2l6 3l7 4l6 0l6 3l6-3l6 4l6-2l6 4l6 1l6-2l7 8l6-3l6 2l6 5l6-2l6 2l6 5l6-3l7-2l6 1l6 8l6-1l6-1l6-1l6 3l6-2l7 6l6-8l6 8l6-2l6 8l6-3l6 4l6-9l7 3l6 0l6 10l6-10l6 6l6-2l6 7l6-10l6 8l7-7l6 9l6-6l6 8l6-1l6 2l6-8l6 11l7-7l6 8l6-5l6 8l6-8l6 8l6-1l6 4l7-6l6 5l6-5l6 9l6-4l6 5l6-4l6 5l7-3l6 7l6-7l6 6l6-2l6 5l6-6l6 11l6-8l7 4l6 2l6 4l6-7l6 3l6-1l6 7l6-3l7 6l6-9l6 14l6-8l6 3" stroke="#8EBA42"/>
<path d="M204 1419l7-5l6 2l6 0l6 9l6-1l6-4l6 6l6-6l7 4l6 1l6 0l6 1l6 0l6-3l6 2l6 3l7-5l6 1l6 3l6-2l6-1l6 4l6-1l6-2l7-2l6 6l6-4l6 2l6-2l6 4l6 0l6-1l6 4l7 0l6 2l6-2l6-3l6 1l6 1l6-5l6-1l7-1l6 3l6 2l6 2l6-6l6 8l6-4l6-1l7 5l6 2l6 0l6 0l6-3l6 9l6-6l6 3l7-2l6 3l6-4l6 1l6 4l6-3l6 4l6 0l6 3l7 4l6-3l6 5l6 0l6-1l6 3l6-2l6 1l7-5l6 4l6 3l6 2l6 3l6-2l6 6l6-1l7 4l6 0l6-1l6 0l6 6l6 0l6 1l6-2l7 3l6 9l6-4l6-2l6 6l6-3l6 8l6-5l6 13l7-12l6 13l6-8l6 9l6-6l6 11l6-9l6 8l7-8l6 14l6-11l6 15l6-5l6 9l6-10l6 14l7-14l6 10l6-7l6 13l6-12l6 10l6-6l6 9l7-11l6 10l6-9l6 15l6-9l6 11l6-11l6 11l6-7l7 7l6-6l6 9l6-9l6 15l6-10l6 9l6-11l7 13l6-9l6 6l6-4l6 14" stroke="#FFB5B8"/>
<path d="M204 1357l7 0l6 2l6-1l6 1l6-1l6 4l6-1l6 2l7-2l6 0l6-2l6 4l6-1l6 0l6 4l6-4l7 0l6 2l6 1l6-2l6 1l6-1l6 5l6-3l7-1l6 7l6-2l6-2l6 1l6 0l6 4l6-1l6-1l7 3l6 1l6-2l6 2l6 2l6-2l6 1l6-3l7 3l6 0l6 4l6-3l6 1l6 1l6 3l6-5l7 4l6 2l6-4l6 5l6 2l6-2l6-2l6 1l7 5l6-2l6-2l6 0l6 6l6-1l6 1l6 1l6 1l7 0l6 5l6-6l6 0l6 3l6 3l6-4l6 1l7-6l6 5l6 8l6-2l6 3l6 2l6-3l6 0l7 0l6-1l6 0l6 3l6 1l6-5l6 9l6-5l7 2l6 2l6-2l6 0l6 3l6 3l6-2l6 2l6 3l7 0l6 3l6 0l6-4l6 4l6-6l6 3l6 3l7 0l6 3l6-6l6 2l6-5l6 4l6 3l6 7l7-7l6 1l6 2l6 0l6 1l6-3l6-1l6 2l7-4l6 5l6 0l6 2l6 0l6-1l6 4l6 1l6-9l7 5l6-3l6 4l6-4l6-3l6-4l6 12l6 1l7-6l6 0l6 6l6-4l6 2" stroke="#E24A33"/>
<path d="M204 1389l7 0l6-3l6-6l6 5l6 6l6-3l6-1l6-1l7 3l6 0l6-2l6 3l6 0l6 1l6-5l6-2l7-1l6 4l6 0l6-4l6 2l6 0l6 0l6 1l7 1l6-4l6-2l6 2l6 1l6 2l6 0l6 2l6-4l7 0l6-1l6 5l6-8l6 5l6 3l6 4l6 1l7-3l6-1l6-2l6 8l6 2l6 5l6-3l6-1l7-3l6 1l6 3l6 4l6 0l6 1l6 5l6-4l7 6l6-1l6 6l6-1l6 1l6 1l6-1l6 5l6 1l7-1l6 4l6 0l6 2l6-4l6 3l6 2l6 7l7-1l6-1l6-1l6 0l6 7l6 1l6 3l6 0l7-2l6 3l6 0l6 0l6 3l6 5l6-1l6-3l7 0l6 6l6 0l6-4l6 1l6 5l6-3l6 3l6 2l7 2l6 1l6-3l6 4l6 3l6 0l6 0l6-2l7 1l6 4l6 5l6-5l6 2l6 1l6 1l6 2l7 0l6-6l6 1l6 4l6 1l6 4l6-4l6-2l7 4l6 6l6-9l6 4l6 2l6 1l6-2l6 3l6-3l7-1l6-1l6 4l6-1l6-1l6 0l6 2l6 2l7 0l6-4l6-1l6 4l6 0" stroke="#348ABD"/>
<path d="M204 1376l7-2l6-1l6-5l6 2l6 2l6 0l6 3l6-2l7-3l6 1l6-2l6 2l6 1l6 5l6 0l6-3l7 1l6-2l6-2l6 3l6-3l6 0l6 0l6 4l7 0l6-2l6 0l6 0l6 5l6-10l6 1l6-3l6 1l7 6l6-2l6 3l6-2l6 5l6 0l6-2l6 2l7 0l6-1l6 6l6-1l6 1l6 0l6 6l6 0l7 1l6 0l6-3l6 6l6 8l6-1l6 0l6-3l7 0l6 5l6 0l6 2l6 2l6-3l6 6l6-1l6 1l7 1l6 6l6 2l6-1l6 0l6 3l6 3l6 2l7 1l6 3l6-4l6 1l6 0l6 3l6 0l6 4l7 2l6-4l6 5l6-2l6 0l6 1l6 3l6 0l7-2l6 0l6 4l6 2l6-1l6 6l6 1l6 5l6-9l7 0l6 2l6 5l6 2l6 4l6 3l6-1l6-3l7-1l6 6l6 1l6-1l6 2l6 2l6 1l6 3l7 0l6 2l6-6l6 4l6-2l6 1l6-1l6 2l7-2l6 5l6-7l6 5l6 2l6-6l6 2l6 4l6 3l7-6l6 1l6-1l6 2l6 6l6-2l6-11l6 3l7 3l6-2l6 4l6-3l6 1" stroke="#988ED5"/>
<path d="M204 1394l7 0l6 0l6 2l6 1l6 0l6-4l6 5l6-5l7 5l6 4l6 2l6 0l6-5l6 1l6 5l6-2l7 2l6-4l6 6l6 3l6-5l6 2l6 1l6-4l7 5l6-1l6-1l6 4l6-3l6 2l6-1l6 4l6 4l7 0l6-2l6 1l6-3l6 1l6 5l6-6l6 2l7 5l6 1l6-3l6 0l6 1l6 1l6 1l6-2l7 4l6 2l6-1l6 2l6 2l6-2l6 3l6-4l7 6l6 5l6 0l6-3l6 3l6 2l6 1l6 0l6 6l7 0l6 2l6 1l6 1l6 3l6 0l6-4l6 4l7 4l6 2l6 0l6-2l6 2l6 1l6 5l6 0l7-1l6 3l6-1l6 2l6 1l6 1l6 3l6 5l7 4l6-3l6 8l6-8l6 4l6-2l6 6l6 2l6 4l7-9l6 5l6-2l6 6l6-3l6 7l6-5l6 11l7-4l6 8l6-5l6 8l6-8l6 8l6-6l6 8l7-4l6 7l6-8l6 10l6-4l6 10l6-10l6 5l7-4l6 8l6-3l6 11l6-8l6 5l6-1l6 9l6-7l7 8l6-2l6 5l6-6l6 8l6-10l6 12l6-3l7 6l6-3l6 9l6-13l6 12" stroke="#777777"/>
<path d="M204 1355l7 6l6-2l6 1l6 1l6 3l6 2l6 4l6 0l7 3l6 3l6-5l6 2l6 0l6 1l6 5l6 7l7 2l6-4l6 2l6 2l6-1l6 7l6 0l6 0l7 3l6 1l6-2l6 0l6 5l6 0l6 0l6 7l6 2l7-3l6-1l6 2l6 1l6-1l6 2l6-3l6 8l7-5l6 4l6-1l6 3l6 0l6 3l6 1l6 4l7 0l6-2l6 2l6 4l6 0l6 8l6-2l6 3l7-5l6-1l6 1l6 5l6 3l6 3l6 2l6-2l6 2l7 7l6 3l6-5l6 5l6 3l6 1l6 4l6-4l7 3l6-2l6 5l6-8l6 7l6-10l6 13l6-6l7 9l6-7l6 8l6-11l6 11l6-5l6 8l6-6l7 6l6-7l6 8l6-1l6-2l6-3l6 9l6-5l6 8l7-3l6 6l6-11l6 5l6-4l6 7l6-8l6 9l7-7l6 7l6-3l6 6l6-10l6 9l6-9l6 9l7-4l6 11l6-7l6 4l6-4l6 5l6-3l6 5l7-8l6 9l6-6l6 10l6-7l6 3l6-3l6 10l6-7l7 4l6-4l6 11l6-9l6 8l6-7l6 7l6-5l7 6l6-4l6 4l6-2l6-2" stroke="#FBC15E"/>
<path d="M204 1371l7-2l6-1l6-2l6 2l6 2l6 0l6 1l6 2l7 0l6 2l6-2l6 0l6 5l6-3l6-3l6 1l7 5l6 0l6 2l6-4l6-4l6 2l6-4l6 6l7 1l6 3l6 0l6 6l6-5l6-3l6 9l6-4l6-1l7 1l6 2l6-1l6 1l6 2l6-1l6 3l6-1l7-5l6 8l6 1l6 4l6 2l6-2l6 0l6 0l7 2l6 2l6-2l6 2l6 1l6 4l6 2l6 1l7-1l6-1l6 0l6 9l6 2l6-2l6 1l6-2l6 2l7 4l6 0l6 4l6 0l6 3l6 2l6-3l6-1l7 9l6-8l6 5l6 0l6 3l6 3l6-2l6 2l7 5l6-6l6 12l6-7l6 10l6-8l6 14l6-15l7 12l6-4l6 12l6-11l6 11l6-11l6 17l6-10l6 14l7-11l6 11l6-10l6 17l6-15l6 12l6-12l6 17l7-12l6 17l6-15l6 20l6-15l6 16l6-11l6 14l7-14l6 13l6-14l6 18l6-14l6 16l6-14l6 15l7-15l6 17l6-8l6 6l6-10l6 14l6-9l6 14l6-10l7 11l6-9l6 17l6-17l6 9l6-9l6 19l6-12l7 11l6-14l6 16l6-8l6 11" stroke="#8EBA42"/>
<path d="M204 1409l7 1l6-2l6-1l6-2l6-2l6 4l6-2l6 5l7-4l6-1l6 4l6 0l6 3l6-2l6 2l6-6l7 1l6 2l6-1l6 1l6 0l6-2l6 3l6 2l7-5l6 1l6-2l6 3l6-2l6 6l6 0l6-2l6 2l7-2l6-3l6 0l6 3l6-3l6-1l6 1l6 3l7 2l6-4l6 2l6 3l6 0l6 1l6-6l6 5l7-1l6 0l6 2l6 2l6 0l6 3l6 0l6 0l7-1l6 1l6 2l6 1l6 1l6 2l6-1l6 4l6 0l7 0l6-2l6 5l6-3l6 3l6 1l6-1l6 2l7-1l6 4l6 4l6-4l6 5l6-8l6 7l6-12l7 16l6-7l6 16l6-13l6 11l6-14l6 12l6-10l7 12l6-6l6 14l6-13l6 13l6-8l6 9l6-12l6 11l7-6l6 6l6-7l6 8l6-6l6 11l6-8l6 9l7-6l6 10l6-13l6 13l6-11l6 12l6-12l6 10l7-4l6 11l6-8l6 10l6-10l6 11l6-8l6 5l7-8l6 16l6-13l6 12l6-12l6 7l6-11l6 18l6-11l7 12l6-11l6 14l6-8l6 7l6-12l6 14l6-13l7 17l6-11l6 9l6-10l6 13" stroke="#FFB5B8"/>
<path d="M204 1426l7 3l6-7l6 2l6 0l6-1l6-3l6 7l6-7l7 3l6 6l6 1l6-1l6 1l6-3l6 0l6 2l7-2l6-5l6 6l6-2l6 3l6-3l6 1l6-3l7 5l6 2l6-2l6-1l6-2l6 1l6 3l6 1l6 0l7-4l6 3l6-1l6-3l6 1l6 2l6-2l6-1l7 3l6 1l6 4l6-4l6-2l6 2l6 0l6 2l7 4l6 0l6-5l6 3l6 4l6 1l6 0l6 0l7-1l6 5l6 0l6 2l6 2l6 4l6 0l6 1l6 0l7-2l6 7l6-3l6-1l6 2l6 0l6 1l6 4l7 1l6 3l6-3l6 2l6 4l6 4l6-3l6-3l7 5l6 0l6 5l6-9l6 12l6-9l6 16l6-12l7 14l6-11l6 14l6-11l6 9l6-12l6 18l6-15l6 17l7-15l6 19l6-13l6 18l6-17l6 18l6-14l6 13l7-9l6 8l6-10l6 21l6-19l6 23l6-14l6 17l7-20l6 19l6-12l6 13l6-13l6 18l6-11l6 17l7-21l6 16l6-14l6 20l6-15l6 16l6-15l6 17l6-11l7 15l6-9l6 14l6-13l6 10l6-8l6 13l6-15l7 20l6-10l6 17l6-17l6 18" stroke="#E24A33"/>
<path d="M204 1386l7 0l6 0l6 0l6 0l6 0l6 0l6 0l6 0l7 0l6 1l6-1l6 1l6 0l6 0l6 1l6-1l7 0l6 1l6-1l6 0l6 0l6 1l6 0l6-1l7 0l6 0l6 1l6 0l6 1l6 0l6 0l6-1l6 0l7 0l6 0l6 1l6 0l6 0l6 0l6 0l6 0l7 0l6 0l6 0l6 0l6 1l6-1l6 1l6 0l7 0l6 0l6 0l6 1l6 0l6 0l6-1l6 1l7 0l6 0l6 0l6 0l6 0l6 0l6 1l6 0l6 0l7 0l6 0l6 0l6 0l6 0l6 0l6 0l6 0l7 0l6 1l6 0l6 0l6 0l6 0l6 0l6 0l7 0l6 0l6 0l6 0l6 0l6 0l6 0l6 0l7 0l6 1l6 0l6 0l6 0l6 0l6 0l6 0l6 0l7 0l6 0l6 1l6 0l6 0l6 0l6 0l6 0l7 0l6 0l6 0l6 1l6-1l6 0l6 1l6 0l7 0l6 0l6 0l6 0l6 0l6 0l6 1l6 0l7 0l6 0l6 0l6 0l6 0l6 0l6 0l6 0l6 0l7 1l6 0l6 0l6 0l6 0l6 0l6 0l6 0l7 0l6 1l6-1l6 1l6 0" stroke="#FFB5B8"/>
<path d="M204 1379l7 1l6-1l6 0l6 0l6 1l6-1l6 0l6 0l7 0l6 1l6-1l6 0l6 0l6 0l6 0l6 1l7 0l6 0l6 0l6 0l6 0l6 0l6 0l6 0l7 1l6 0l6-1l6 1l6 0l6 0l6 0l6 0l6 0l7 0l6 0l6 0l6 0l6 0l6 0l6 0l6 0l7 0l6 0l6 1l6 0l6 0l6 0l6 0l6-1l7 0l6 1l6 0l6 0l6 0l6 0l6 0l6 0l7 0l6-1l6 1l6 0l6 0l6 0l6 0l6 0l6 0l7 0l6 0l6 0l6 0l6 0l6 0l6 0l6 0l7 0l6 1l6 0l6 0l6-1l6 1l6 0l6 0l7 0l6 0l6-1l6 1l6-1l6 1l6 0l6 0l7 1l6 0l6-1l6 0l6 0l6 1l6 0l6 0l6 0l7 0l6 0l6 0l6 0l6 0l6 0l6 1l6-1l7 0l6 0l6 1l6-1l6 0l6 1l6 0l6 0l7 0l6-1l6 0l6 0l6 0l6 1l6 0l6 0l7 0l6 0l6 0l6 0l6 0l6 0l6 0l6 0l6 0l7 0l6 0l6 0l6 0l6 0l6 0l6 0l6 1l7-1l6 1l6 0l6 0l6 0" stroke="#988ED5"/>
<path d="M204 1431l7 0l6 0l6 0l6 0l6-1l6 10l6-1l6-8l7 0l6 0l6 0l6 0l6 0l6 0l6 0l6 0l7 0l6 0l6 0l6 0l6 0l6 0l6 0l6 0l7 0l6 0l6 0l6 0l6 0l6 0l6 0l6 0l6 0l7 0l6 0l6 0l6 1l6-1l6 0l6 0l6 1l7 0l6 0l6 0l6 0l6 0l6 0l6 0l6 0l7 0l6 0l6 0l6 0l6 0l6 0l6 0l6 0l7 0l6 0l6 0l6 0l6 0l6 0l6 0l6 0l6 0l7 0l6 0l6 0l6 0l6 0l6 0l6 0l6 1l7-1l6 1l6 0l6 0l6 0l6 0l6 0l6 0l7 0l6 0l6 0l6 0l6 0l6 0l6 0l6 0l7 0l6 0l6 1l6 0l6 0l6 0l6 0l6 0l6 0l7 0l6 0l6 0l6 0l6 0l6 0l6 0l6 0l7 1l6 0l6 0l6 0l6 0l6 0l6 0l6 0l7 0l6 0l6 0l6 0l6 0l6 0l6 0l6 1l7 0l6 0l6 0l6 0l6 0l6 0l6 0l6 0l6 1l7-1l6 0l6 0l6 1l6-1l6 0l6 0l6 1l7 0l6 0l6 0l6 0l6 0" stroke="#E24A33"/>
<path d="M204 1394l7 1l6 1l6 1l6 1l6 2l6 0l6 2l6 1l7 0l6 1l6 1l6 1l6 0l6-1l6 0l6 1l7 1l6 1l6 2l6 0l6 0l6 1l6 1l6 1l7 0l6 2l6 1l6 1l6 0l6 1l6-1l6 2l6 0l7 2l6 0l6 1l6 1l6 2l6 1l6-1l6 1l7 0l6 0l6 1l6 0l6 1l6 1l6 0l6 0l7 1l6 1l6 1l6 1l6 1l6 2l6 2l6 1l7 1l6 1l6 46l6-43l6 0l6 2l6 0l6 1l6 2l7 0l6 1l6 2l6 1l6 0l6 1l6 4l6-4l7 9l6-8l6 13l6-14l6 19l6-19l6 21l6-18l7 20l6-18l6 21l6-17l6 21l6-17l6 20l6-18l7 22l6-19l6 21l6-19l6 21l6-18l6 21l6-19l6 22l7-18l6 20l6-18l6 20l6-17l6 22l6-18l6 20l7-17l6 18l6-17l6 21l6-18l6 19l6-16l6 20l7-17l6 24l6-16l6 19l6-16l6 20l6-17l6 20l7-16l6 23l6-16l6 22l6-17l6 20l6-15l6 21l6-18l7 21l6-17l6 22l6-16l6 21l6-17l6 21l6-18l7 22l6-17l6 21l6-17l6 21" stroke="#777777"/>
<path d="M204 1415l7 1l6 0l6 0l6 1l6 1l6 0l6 2l6 19l7-19l6-1l6 2l6 0l6 1l6 2l6-1l6 1l7 1l6-1l6 1l6 0l6 1l6 1l6 1l6 0l7 1l6-1l6 0l6 0l6 0l6 0l6 1l6 2l6 1l7 0l6 1l6 1l6 1l6 0l6 0l6 0l6 1l7 23l6-23l6 1l6 1l6 0l6 0l6 1l6 1l7 1l6-1l6 2l6 1l6 1l6-1l6 2l6 3l7 3l6 2l6 1l6 4l6-1l6 7l6-5l6 9l6-7l7 11l6-10l6 13l6-11l6 12l6-11l6 13l6-9l7 14l6-9l6 14l6-9l6 13l6-9l6 15l6-10l7 14l6-9l6 15l6-10l6 12l6-4l6-1l6 1l7 1l6 1l6 0l6 2l6 1l6 1l6 1l6 1l6 2l7 0l6 0l6 2l6 3l6 3l6 3l6 3l6 4l7 2l6 3l6 3l6 3l6 1l6 2l6 1l6 2l7 2l6 1l6 2l6 3l6 3l6 3l6 2l6 3l7 2l6 1l6 3l6 2l6 3l6 3l6 2l6 3l6 1l7 1l6 1l6 0l6 3l6 0l6 2l6 1l6 1l7 1l6 2l6 0l6 3l6 1" stroke="#988ED5"/>
<path d="M204 1414l7 2l6 0l6-1l6 0l6 1l6 0l6 1l6 0l7 1l6 0l6 1l6 2l6-1l6 0l6 1l6-1l7 2l6 1l6-1l6 1l6 0l6 1l6-1l6 0l7 1l6 1l6 1l6 1l6 1l6 0l6 0l6 1l6 0l7 1l6 2l6-1l6 0l6 1l6 0l6 1l6 0l7 1l6 1l6 0l6-1l6 0l6 2l6 0l6 1l7 0l6 0l6 0l6 2l6-1l6 0l6 1l6-1l7 66l6-65l6 1l6 1l6 0l6 1l6 1l6 0l6 0l7 0l6 1l6 0l6 1l6 0l6 1l6 1l6 0l7 1l6 0l6 0l6 1l6 1l6 1l6 0l6 0l7 1l6-1l6 0l6 1l6 1l6 1l6 0l6 0l7 0l6 2l6 0l6 0l6 0l6 2l6 0l6 0l6 1l7 1l6 0l6 0l6 1l6 0l6 0l6 1l6 2l7-1l6 0l6 1l6-1l6 1l6 1l6-2l6 1l7 1l6 1l6 0l6 1l6 1l6-1l6 1l6 1l7 0l6 1l6 1l6 0l6 2l6 0l6 1l6 0l6 1l7-2l6 1l6 1l6-1l6 0l6 0l6 1l6 1l7 1l6 1l6 1l6 0l6-1" stroke="#FFB5B8"/>
<path d="M204 1386l7-1l6 0l6 0l6 0l6 0l6 1l6 0l6 0l7 1l6 0l6 0l6 0l6 0l6-1l6-1l6 1l7 1l6 0l6 0l6-1l6 0l6 1l6 0l6 0l7 0l6 0l6 0l6 1l6 1l6-1l6 0l6 0l6 0l7 0l6 1l6-2l6 1l6 0l6 1l6 0l6 0l7-1l6 1l6 0l6 0l6 0l6 0l6 0l6 1l7 0l6 0l6-1l6 1l6-1l6 0l6 0l6 0l7 1l6 0l6 0l6 0l6 0l6 1l6-22l6 22l6 1l7 0l6 1l6-2l6 0l6 0l6 0l6 0l6 1l7 0l6 1l6 2l6 0l6 0l6 0l6 1l6 2l7 0l6 1l6 0l6-1l6 3l6 1l6 2l6 0l7 0l6 2l6 0l6 1l6 2l6 1l6 1l6 1l6 0l7 1l6 1l6 0l6 0l6 1l6 0l6 2l6 0l7 1l6 1l6 1l6 1l6-1l6 0l6 3l6 0l7 1l6 1l6 1l6 1l6 2l6 0l6 1l6 0l7 0l6 2l6 0l6 0l6 1l6 2l6 1l6 0l6 2l7 1l6 0l6 1l6 1l6 1l6 1l6 1l6 0l7 0l6 2l6 0l6 0l6-1" stroke="#348ABD"/>
<path d="M204 1326l7 2l6-2l6 3l6 0l6 0l6 1l6-1l6 1l7-1l6 2l6-1l6 1l6 1l6 0l6 0l6 3l7 3l6 0l6-1l6 0l6 2l6 3l6 0l6 1l7 0l6-2l6 2l6 1l6 1l6 1l6 2l6 1l6 0l7-2l6 2l6 3l6 1l6 1l6 1l6 1l6 0l7 2l6 0l6-1l6 1l6 3l6-3l6 2l6 0l7 1l6 0l6 2l6 1l6 3l6 0l6-1l6 1l7 1l6-1l6 0l6 1l6 3l6 1l6 0l6 1l6 0l7 0l6 1l6 2l6 3l6 0l6 2l6 0l6 0l7-1l6 3l6 1l6 0l6 1l6 0l6 0l6 0l7 2l6-1l6 0l6 0l6 2l6-1l6 3l6 0l7-1l6 2l6-1l6-1l6 0l6 2l6 3l6-1l6 1l7 0l6 3l6-3l6 1l6 1l6 0l6 2l6 2l7 2l6-2l6-1l6 1l6 2l6 1l6 1l6 2l7 0l6 1l6 0l6-1l6 3l6-1l6 4l6 0l7-1l6 0l6 0l6-1l6 2l6 1l6-1l6 2l6-2l7 2l6 1l6 0l6 0l6 2l6 2l6 0l6 2l7-1l6 3l6-3l6 1l6 0" stroke="#FFB5B8"/>
<path d="M204 1334l7-3l6 2l6 1l6 2l6-1l6-1l6 1l6-1l7-2l6 2l6 3l6 1l6 0l6 2l6 0l6 1l7 0l6 3l6 0l6 0l6 0l6 0l6 1l6 1l7 2l6 0l6 0l6 0l6 2l6 3l6-1l6 0l6-1l7 1l6 2l6 1l6-1l6 4l6 1l6 2l6-2l7 0l6 2l6 2l6 1l6 3l6 0l6-1l6-1l7 0l6 1l6 0l6 3l6-2l6 2l6 2l6 3l7 2l6-3l6-1l6 0l6 1l6 1l6 0l6 2l6 1l7 1l6 0l6 2l6 2l6-2l6 0l6 1l6 2l7-1l6-1l6 4l6-1l6-2l6 2l6 2l6 1l7 1l6-1l6 3l6 2l6 0l6 0l6 2l6-1l7 1l6 1l6 2l6-2l6 3l6-2l6 1l6 1l6 0l7 1l6 1l6-1l6 1l6 0l6 0l6 0l6 3l7 1l6-1l6-1l6 2l6 1l6 2l6-2l6 0l7 2l6-1l6 3l6 0l6 0l6 1l6 3l6-1l7 0l6 0l6 2l6 3l6 0l6 0l6 0l6 3l6 0l7 2l6 1l6 1l6 1l6-1l6 0l6-1l6 0l7-1l6 2l6 0l6 1l6 2" stroke="#FFB5B8"/>
<path d="M204 1339l7-3l6 1l6 2l6-2l6 0l6 1l6 2l6 1l7-1l6-2l6 3l6 4l6-2l6 0l6 2l6 1l7 0l6 3l6 0l6-2l6-1l6 2l6 0l6 3l7 2l6-2l6-1l6 0l6 2l6 0l6 2l6 1l6-2l7 1l6 0l6 2l6 1l6 0l6 1l6 1l6 1l7-3l6 3l6 2l6 0l6-1l6 3l6 0l6 3l7-1l6 1l6 2l6 0l6 1l6 0l6 0l6 1l7 2l6 1l6 1l6 1l6 0l6 0l6 0l6-1l6 2l7 1l6 3l6-1l6-2l6 3l6 2l6 4l6 2l7-2l6-1l6-2l6 3l6-2l6 3l6 2l6-3l7 0l6 1l6 2l6-1l6 4l6 0l6 2l6 1l7 0l6 2l6 3l6 1l6-1l6 0l6-1l6 3l6 0l7 0l6 2l6-1l6 1l6 0l6-2l6 3l6 1l7-1l6 1l6 0l6-2l6 4l6 2l6 2l6 0l7-2l6 3l6 0l6 0l6-1l6 1l6-2l6 3l7 3l6 0l6 2l6 2l6-2l6 1l6 0l6-1l6 0l7 1l6 0l6-1l6 0l6 3l6 1l6 1l6-1l7-1l6-1l6 3l6 0l6 0" stroke="#E24A33"/>
<path d="M204 1313l7 2l6 0l6 0l6 4l6 4l6-3l6 0l6 6l7 4l6-3l6-1l6 4l6 3l6-4l6-1l6 3l7 2l6 1l6-4l6 2l6 1l6 3l6 0l6 1l7 5l6 5l6 5l6-6l6 0l6 5l6-8l6 7l6 7l7-3l6-3l6 1l6 6l6-4l6 1l6-1l6-1l7-2l6 2l6 5l6-1l6 5l6 3l6-5l6 7l7 0l6-4l6 2l6 3l6 0l6-2l6-2l6 1l7-2l6 7l6 1l6-9l6 16l6 0l6-3l6-1l6 7l7-1l6-1l6 5l6-3l6 3l6 0l6-3l6 1l7-3l6 4l6 1l6 1l6 3l6 3l6-2l6-2l7 0l6 1l6-2l6 5l6 5l6-1l6 1l6 8l7 3l6-4l6-6l6 0l6-1l6 4l6 2l6 2l6 3l7 2l6-2l6-2l6 2l6-1l6 2l6 6l6-1l7 0l6 4l6-4l6-6l6 2l6 7l6 6l6 0l7-2l6-1l6 4l6 1l6-3l6 4l6-1l6 1l7 0l6-3l6 1l6-3l6 7l6-3l6 2l6-1l6 0l7-3l6 4l6 6l6 1l6-2l6-1l6 2l6 2l7 1l6-1l6 2l6-6l6 3" stroke="#E24A33"/>
</g></g>
<text x="34.4" y="396.9" font-size="6.40" text-anchor="end" fill="#555">5000</text>
<text x="34.4" y="376.8" font-size="6.40" text-anchor="end" fill="#555">5050</text>
<text x="34.4" y="356.7" font-size="6.40" text-anchor="end" fill="#555">5100</text>
<text x="34.4" y="336.7" font-size="6.40" text-anchor="end" fill="#555">5150</text>
<text x="34.4" y="316.6" font-size="6.40" text-anchor="end" fill="#555">5200</text>
<text x="34.4" y="296.5" font-size="6.40" text-anchor="end" fill="#555">5250</text>
<text x="34.4" y="276.4" font-size="6.40" text-anchor="end" fill="#555">5300</text>
<text x="34.4" y="256.3" font-size="6.40" text-anchor="end" fill="#555">5350</text>
<text x="56.3" y="413.8" font-size="6.40" text-anchor="middle" fill="#555">1950</text>
<text x="86.9" y="413.8" font-size="6.40" text-anchor="middle" fill="#555">1960</text>
<text x="117.5" y="413.8" font-size="6.40" text-anchor="middle" fill="#555">1970</text>
<text x="148.1" y="413.8" font-size="6.40" text-anchor="middle" fill="#555">1980</text>
<text x="178.8" y="413.8" font-size="6.40" text-anchor="middle" fill="#555">1990</text>
<text x="209.4" y="413.8" font-size="6.40" text-anchor="middle" fill="#555">2000</text>
<text x="240.0" y="413.8" font-size="6.40" text-anchor="middle" fill="#555">2010</text>
<text x="270.6" y="413.8" font-size="6.40" text-anchor="middle" fill="#555">2020</text>
<text x="162.3" y="232.8" font-size="9.00" text-anchor="middle" fill="#000" stroke="#000" stroke-width="0.2">Iteration 1</text>
<rect x="297.8" y="236.8" width="245.0" height="166.0" fill="#E5E5E5"/>
<clipPath id="cBR"><rect x="297.8" y="236.8" width="245.0" height="166.0"/></clipPath>
<path d="M314.3 236.8V402.8M344.9 236.8V402.8M375.5 236.8V402.8M406.1 236.8V402.8M436.8 236.8V402.8M467.4 236.8V402.8M498.0 236.8V402.8M528.6 236.8V402.8M297.8 393.8H542.8M297.8 373.7H542.8M297.8 353.6H542.8M297.8 333.6H542.8M297.8 313.5H542.8M297.8 293.4H542.8M297.8 273.3H542.8M297.8 253.2H542.8" stroke="#fff" stroke-width="0.8" fill="none"/>
<path d="M314.3 402.8v2.2M344.9 402.8v2.2M375.5 402.8v2.2M406.1 402.8v2.2M436.8 402.8v2.2M467.4 402.8v2.2M498.0 402.8v2.2M528.6 402.8v2.2M297.8 393.8h-2.2M297.8 373.7h-2.2M297.8 353.6h-2.2M297.8 333.6h-2.2M297.8 313.5h-2.2M297.8 293.4h-2.2M297.8 273.3h-2.2M297.8 253.2h-2.2" stroke="#555" stroke-width="0.6" fill="none"/>
<g clip-path="url(#cBR)"><g fill="none" stroke-width="5.00" stroke-linejoin="round" stroke-linecap="square" transform="scale(0.25)">
<path d="M1230 1031l5 1l3 5l1-3l4 3l2 3l3-2l3-1l1 2l4 8l1 4l3-8l1 0l4 16l0 3l4-16l0 1l4-5l2 1l3-8l4-7l0-1l4 1l2-7l2 5l4 5l1-2l3 0l1 0l4 19l0-2l5-8l4 3l1 3l3 0l4 4l2 1l3 2l4 4l2 1l2-2l4 4l3 2l2 1l4 1l4 2l0-7l4-3l1-1l4-18l0-2l4 10l2 5l2 3l5 3l2 0l2 4l4 2l4 3l1 2l4 12l0 2l4-18l0 2l4-2l5-3l0-1l4 0l4 0l5 1l4 3l4 0l4 0l0-2l5 0l4 4l3-1l1-2l5-2l4 3l3-3l1 0l4 0l5-4l2 4l2-1l4-2l5-1l1 1l3-5l4-3l4-4l2 1l3 5l3-2l1 4l4-5l5 3l2 0l2 1l4-1l4 3l3-3l2 3l2 3l2 1l4-2l5-1l2-4l2-1l4 1l3-7l1 7l5-2l0 5l4 0l4-1l5 2l3 3l1-3l4 5l4 1l3-5l2 3l4-1l4-1l2 2l3 2l4 6l0-3l4-34l1-3l3 0l4-2l1 3l4 4l4 3l0-3l5-13l1-3l3 4l4-3l3-3l1 0l5 2l3 0l1 0l4 7l4 0l1 2l4 3l1 0l3-12l1 1l3 4l5 3l1-1l3 4l4 1l5 1l0-1l4 4l4 1l4 0l0 2l5 5l4-1l4 1l5 2l1 0l3 4l4-3l4 2l5 3l3 0l1 0l4 4l5 5l2 3l2-9l4 4l4 0l2-1l3 0l4-5l4 1l2-2l3 2l4-7l4-4l1-1l3-2l5-3l4-5l4 2l5-4l4 2l0-1l4 1l4 0l4 2l1-1l4 1l4 2l5-4l4 0l4 0l1 0l3 2l5-3l4 2l1-2l3 2l5 2l1 0l3 2l4 4l2-2l2-1l5 2l4 1l2 6l2 0l5 2l4 6l1-2l3 1l4 5l5 2l0-2l4-1l4-1l2 3l3-8l3-10l1-3l4-5l1-2l3-3l5-1l1 1l3 6l3 3l1-2l5-1l1-1l3 3l3-2l1 2l4 6l5 0l2 1l2-4l4 2l5 4l2 0l2 1l4 0l0 1l4-9l2-1l3-6l3-6l1 1l4 5l1 0l3 5l3 0l2 4l4 4l4-2l3 5l2 0l4 4l4 1l2 0l2 2l5-2l4 4l2 2l2-2l5 1l4 7l1-1l3-7l3 0l1-2l5-6l0 3l4 2l3-2l1-1l5 7l0 1l4-2l4-1l4-2l0 3l5-1l4-1l3-1l1 4l5-3l4 0" stroke="#E24A33"/>
<path d="M1230 1104l6 4l7 7l6 6l6 1l6 1l6-1l6-1l6 0l6-2l7-1l6-2l6-3l6 1l6 1l6-1l6 3l6 2l7 1l6 3l6-2l6-3l6 4l6 1l6-2l6-2l7 4l6-1l6 0l6 4l6 0l6 0l6-1l6-1l6 0l7 0l6 0l6-1l6-1l6-1l6 2l6 2l6 1l7-3l6-1l6 2l6 2l6 1l6-1l6 2l6-1l7-3l6 1l6-2l6 3l6-1l6 0l6 1l6-2l7 0l6 2l6-1l6-3l6 1l6-2l6 0l6-1l6 1l7-1l6-2l6 0l6-1l6 0l6 0l6 0l6 0l7-1l6-1l6-2l6-2l6 4l6 1l6-1l6-1l7-1l6 4l6 0l6 3l6 0l6 1l6 0l6-4l7 1l6 1l6-1l6-2l6 4l6-4l6 2l6 1l6 0l7-2l6-4l6-1l6 3l6 1l6 2l6-1l6-1l7 2l6-2l6 4l6 1l6 1l6 1l6 2l6-3l7 1l6 0l6-3l6-2l6-1l6 5l6 1l6 1l7 0l6 1l6 0l6-1l6 0l6 2l6 2l6-2l6 2l7-3l6 1l6 0l6-1l6 0l6-2l6 3l6 2l7-5l6 0l6 5l6-4l6 2" stroke="#348ABD"/>
<path d="M1230 1107l5-1l3 2l1 1l4-4l5-1l0-2l4 2l4 4l4-1l0-1l5 1l4-1l3 2l1-4l5 5l4 0l3 5l1-7l4-11l0 1l4 5l1 2l4-3l4 0l0 3l5 0l4-1l4 3l0-2l4 3l5-2l3 5l1-2l4 1l4 5l3 0l2-1l4-4l4 0l4-1l1-2l4-19l0 3l4 10l1 4l3 5l5 0l4 2l2-1l2 2l5 1l4-4l1 2l3-2l4-6l2 4l3-7l3-5l1 1l4 8l1 1l4-1l4 0l4 2l4 0l0 4l5 5l4-5l3-3l1 2l5 2l4-1l4-3l4 3l1-1l4-3l4 2l4-5l5 0l1-2l3 3l4-6l3-5l1-1l5-5l0 5l4 1l2 4l2-1l5-1l2 1l2 2l4-2l4-1l3 1l2 1l2 3l2-1l4 3l5-1l2 2l2-4l4-8l0 2l4 3l5 4l0-2l4-1l4 2l5 3l3 0l1 0l4 0l4 4l3-1l2 3l4 2l4-1l2 1l3 1l4-2l0-1l4-24l1-5l3 3l4 0l1-1l4-3l4-5l0 1l5 2l4-3l0-2l4 2l3 0l1 3l5 2l4 1l2 0l2 2l5-1l4 0l1-4l3 3l4 1l5 2l1 1l3-2l4-2l5 2l0-3l4 2l4-1l4-4l5 5l4 4l4 2l0-1l5 7l4 1l3 1l1 1l4 3l5-2l3 5l1 0l4 1l5 1l2 1l2-2l4 2l4-3l2 6l3-4l3-2l1-2l4-7l5-1l3-6l1 2l4-1l1-2l3 0l5 4l1 1l3 0l4-1l3 3l2-4l4-2l0-2l4 4l2-4l2 2l5 3l4 0l1 2l3-3l5 1l4-4l4 3l1-1l3 0l5 2l4-1l1 0l3 3l5 2l4-1l0 2l4-3l4 1l4 4l1 0l4 1l4 1l4 4l1-2l4 3l4 1l3-1l1 2l5 3l4 2l3-1l1-3l5-10l0-2l4-7l2-9l2 3l4-2l5 4l1-2l3-2l4 0l5 1l1 2l3 0l4 1l4 4l1-4l4 4l4 2l4 0l5-1l4 8l4 1l0 2l4-4l2-3l3-6l3-6l1 1l4 5l4 1l0 4l5 4l4 3l1 1l3 3l5 1l4 4l0-4l4 8l4 2l4-3l1-2l4 1l4 2l4 1l1-1l4 2l4 0l0 1l4-8l5-4l0 1l4 3l3 1l1 0l5 0l4 2l2 1l2-1l4 1l5 1l1 0l3 0l4 2l5-1l4-3" stroke="#988ED5"/>
<path d="M1230 1120l5 4l4 3l3-3l1 3l5-2l4 0l2 0l2 1l4 1l5 1l1-1l3 6l4-2l5-2l1 2l3 9l3 7l1 10l2 4l2-33l1-10l4 1l2 1l2 3l4 1l5 3l1 0l3 1l4 2l4-2l2 4l3 1l4 1l4 3l1 0l3 4l5 0l4 3l1 2l3-10l5-5l1-4l3-3l1-4l3 3l2 5l2 2l5 4l4-2l2-1l2 2l5 0l4 2l1 1l3 2l4 3l5-1l0-2l4-1l4 3l5 4l4-1l4 2l4 0l5 0l4 1l3-2l1-1l5-1l4 3l3 0l1 4l4-3l5-3l2 3l2-1l4 1l5-1l1-1l3 2l4-3l3-2l1-8l5-20l0 1l3 9l1 2l4 10l1-1l4 2l4 2l4 3l1 3l3-2l5 1l2 1l2-7l4 1l5 2l2-3l2-3l4-5l3-2l1 0l5 6l0 1l4 6l4-1l5-3l3 6l1 0l4 1l4 1l3-1l2-4l4 3l4-3l2 4l3-1l4 3l0-2l4-32l1-5l3-13l1-2l4 5l2 2l2-2l4-5l0 2l5 5l1 2l3 2l4 1l3 3l1-1l5 1l4-1l2 2l2-5l5-5l4-6l1-1l3 3l4 5l0 2l5 4l4 6l3-3l1-1l5 4l4 3l2-2l2-2l4 0l5 1l2-4l2 0l4 1l5 0l1 3l3 2l4-1l4 3l1-2l4 10l4 1l4-3l1 0l4 4l4 3l4 2l0-3l4 5l5 0l0 1l4-1l3-9l1-8l5-8l3-9l1-1l4-7l1 1l3 6l3 10l2-1l4 1l0-1l4-6l3-5l2-2l4-9l0 3l4 2l4 10l1 3l4 0l4 7l1-2l3 3l5-1l4 1l4 1l1 0l3-1l5 2l4-3l1 2l3 6l5-2l4-1l0-2l4 0l4 3l4-1l1 1l4 0l4 1l4-2l1-1l4 0l4 4l3 1l1 0l5 0l4 0l3-3l1-6l5-4l0-2l4 2l4-8l1-3l3 5l5 4l1-1l3 4l4-1l5 4l1-5l3 2l4 4l4 4l1-5l4 3l4 4l4 0l0 3l5-2l4-1l4 4l0-2l4-4l5 3l3-1l1-2l4 2l4 5l3 6l2-1l4-4l4 3l3 2l2-1l4 5l4-5l2 7l2-1l5 0l4 0l2 4l2 0l5-3l4 2l1-1l3-1l4-3l5-1l0 1l4 3l3 4l1-4l5 0l4 0l2 4l2 2l4-2l5 1l1 0l3-1l4 4l5 2l4 0" stroke="#777777"/>
<path d="M1230 1132l5 4l3-2l1 0l4 1l5 2l0 2l4-1l4 2l1 5l3 2l5 0l1-3l3 2l4 0l5 0l1 0l3-14l3-8l1 34l0-4l4-3l1-3l4 2l2 1l2 13l1 8l3-15l5-3l1 2l3-1l4-2l4-2l2 2l3-3l4 3l4 0l1 1l3-2l5 0l4 2l1-2l3 1l5-3l4-2l4 2l4 4l4 5l1-2l4 0l4 1l4 2l1 1l4-5l4 1l3 1l1 1l5 2l4 0l4-3l5 0l0 3l4 1l4 0l4 1l5-3l4 0l3 1l1 2l5-3l4 1l4 5l4-5l5 0l2 2l2-3l4 6l5-2l4-3l4 2l0-6l4-13l0 2l5-26l0-3l4 10l2 7l2 2l5 5l2 1l2 0l4 0l4 4l3 3l2 3l2-3l2-1l4 1l5 0l2 0l2-5l4 0l3-5l1 3l5 2l3 2l1-2l4-1l5 5l3-1l1-1l4 3l4 2l3-2l2 3l4 2l4 3l2 0l3-1l4 1l0-1l4-19l1 1l2-24l1 9l3 6l2-5l2-9l2 5l4 3l0 1l5-2l4 1l0 2l4 2l4-1l5 2l0-2l4 1l4 3l4 1l1 2l4-14l1-4l3 5l4 4l0 2l5 3l4 2l3 3l1-3l5 3l4 0l4 1l4 5l0-1l5-1l4 4l4 1l5 2l1 1l3-1l4 4l4 1l5 0l3 6l1-2l4 0l5 0l4 3l4 3l0-3l4 2l5-2l4-3l4-6l2-1l3-13l3-11l1 0l4-20l1-4l3 10l3 12l2 4l4 10l4 5l0-1l5-16l4-15l0 3l4 12l2 3l2 5l5 7l2 3l2-1l4 2l5-2l4-1l4 1l1-3l3 2l5 3l4-1l1-3l3 0l5 1l4 0l0 1l4 1l4 1l4-1l1 4l4 0l4 4l4-1l1-2l4 3l4-2l3 5l1-3l5 4l4 1l3 2l1-3l5-2l0-2l4-5l2-4l2 1l4 0l5 3l1 0l3 2l4 0l5 0l1 0l3 0l4 4l4-2l1-4l4 4l4 5l4-2l5 1l4 0l4 1l4-2l5-1l3 0l1-2l4 0l4 0l3 4l2 0l4 0l4 1l3 1l2-1l4 2l4 1l2 4l2 1l5-1l4-1l2-1l2 3l5-3l4 2l1 2l3-2l4-3l5 1l0 1l4 0l4-1l5 2l0 1l4 0l4 1l4-1l0 2l5 3l4-1l4-1l5-4l4 1" stroke="#FBC15E"/>
<path d="M1232 1250l4 5l2 1l3 1l4 6l0 1l4-5l2-1l3 38l0 1l3-40l1 6l2-7l2 42l1 14l3-46l0-1l5 1l0-4l4 53l0 6l4-45l0-6l5-25l0 3l4 0l0 1l4 8l2 3l2 26l2 17l3-17l2-15l2-5l4-1l0 1l5 4l2-1l2 3l4 1l0 3l4 1l2 2l3 3l4 3l2-2l2 3l5 2l3 3l1-1l4 4l4 3l0-2l5-6l4-2l0-2l4-3l2 3l3-4l4 1l0 2l4 3l2 7l2 0l4 3l1 0l4 4l1-1l3 3l3 4l2 9l3 18l1-7l3-27l1 0l4 0l2 1l3 2l4 2l2 2l2 2l5 3l2 0l2 2l4 0l3-5l1 3l5 2l4 0l0-2l4 0l5 2l0-5l4 8l4 6l1 1l3-2l4 3l1 1l4-15l1 4l3-20l3-3l2-5l2-5l2 3l3 3l1 0l4 10l1 1l4 6l3 4l1 1l4-3l1-2l3 5l1 4l4 3l1-1l3 2l3 3l1 2l5-6l0 1l4-18l3-9l1-8l2-5l3 11l0-2l3 21l1-1l4-3l1-2l3 7l3 3l2 5l4 2l0 1l4 0l3 3l2 8l1-4l3-1l3 6l1 1l4 1l1 2l4-38l2-29l2 5l1-5l3 6l1 0l4 9l2 2l2-13l4-23l0-3l4-2l2-2l3-1l3 4l1 0l4 6l1 0l4 8l3 6l1 6l4 18l1 5l3 13l3 11l2-10l4-27l0-2l4-11l2-7l3 2l3 1l1 4l4 1l2 1l2 3l5 7l4 4l1 2l3 3l5-1l4 2l0-2l4 3l4 3l5 1l4 6l4 5l4 3l1-4l4 3l4 2l4 4l0 1l5 6l4 0l3 4l1 0l5 6l4 7l2 0l2 6l1-2l3-6l5-11l2-2l2-6l4-8l5-8l1-6l3-1l4-1l4-1l1-1l4-3l4-3l2-1l2 4l4 0l1 0l4 3l4 5l0 1l4 6l5 7l4 2l0 3l4-5l5-9l4-8l0-2l4 5l4 6l5 5l1 0l3 2l4 4l5 7l4 5l2-2l2 4l4 7l5 3l4 7l3 9l1 1l4 5l4 7l1-1l4-12l4-6l5-13l4-9l4-6l4-3l0-1l5 8l4-1l2 2l2 0l5 4l4 3l2-1l2 2l4 6l5 2l4-1l4 5l0 1l5-3l4-2l4-6l4-3l5 0l4-4l4 2l1-2l4 1l4 3l4 4l4 4l3 2l2-2l4 1l4 0l5 3l3 0l1 0l4-1l4 2l5-1l4 4l0 1l4-2l5 1l4-1l4 5l4-2l5 4l1-4l3 2l4 1l5-1l4 0l4 2l4 1l4-3" stroke="#8EBA42"/>
<path d="M1349 1351l6 0l6 0l6 0l7 0l6 0l6 0l6 1l6 0l6 0l6 0l6 1l7 0l6 0l6 0l6 0l6 0l6 1l6 0l6 1l7 0l6 1l6 0l6 0l6 0l6 1l6 0l6 0l7 0l6 0l6 1l6 0l6 0l6 0l6 0l6 0l6 1l7 0l6 0l6 1l6 0l6 0l6 0l6 1l6 0l7 0l6 0l6 0l6 0l6 1l6 0l6 0l6 1l7 0l6 0l6 0l6 0l6 1l6 0l6 0l6 1l7 0l6 0l6 0l6 0l6 0l6 1l6 0l6 0l6 0l7 0l6 1l6 0l6 0l6 0l6 1l6 0l6 0l7 1l6 0l6 0l6 0l6 0l6 0l6 0l6 1l7 0l6 0l6 1l6 0l6 0l6 0l6 0l6 0l7 1l6 0l6 0l6 0l6 1l6 0l6 0l6 0l6 0l7 0l6 1l6 0l6 1l6 0l6 0l6 1l6 0l7 0l6 0l6 0l6 0l6 0l6 1l6 0l6 0l7 1l6 0l6 0l6 0l6 0l6 1l6-1l6 0l7 1" stroke="#8EBA42"/>
<path d="M1236 1423l7-4l6 3l6 0l6 2l6-2l6 4l6-5l6-1l7-2l6 2l6 0l6 0l6 0l6 3l6-3l6 5l7 0l6-2l6-6l6 7l6-2l6 0l6 5l6-9l7 1l6 3l6 2l6-2l6 7l6-7l6 2l6-2l6 4l7 1l6 4l6-3l6-2l6 1l6-5l6 3l6 1l7 2l6-3l6 3l6 0l6 3l6-4l6-1l6 5l7 0l6 3l6-2l6 0l6 4l6-1l6 6l6-1l7 3l6-2l6 1l6 5l6 1l6 0l6 1l6 0l6 1l7 2l6-5l6 4l6 4l6-2l6 1l6 0l6 1l7 6l6 0l6 3l6 0l6 2l6-4l6 6l6-10l7 14l6-6l6 7l6-8l6 9l6-5l6 5l6-9l7 10l6-9l6 9l6-12l6 17l6-9l6 9l6-11l6 18l7-14l6 15l6-16l6 12l6-7l6 12l6-16l6 9l7-6l6 13l6-12l6 15l6-11l6 10l6-11l6 10l7-9l6 12l6-7l6 13l6-16l6 12l6-15l6 12l7-5l6 6l6-7l6 10l6-10l6 15l6-19l6 13l6-11l7 12l6-9l6 11l6-17l6 15l6-9l6 4l6-7l7 13l6-15l6 14l6-13l6 11" stroke="#E24A33"/>
<path d="M1236 1395l7 2l6-1l6 8l6-4l6 2l6 0l6 2l6-1l7-4l6 9l6-3l6 0l6 1l6 0l6-1l6 3l7 0l6 0l6 0l6 2l6 0l6-2l6 1l6-2l7 4l6 5l6-2l6 1l6 1l6-2l6 1l6-1l6-3l7-1l6 3l6 0l6 0l6 0l6 7l6 3l6-7l7 4l6 5l6-3l6 3l6-4l6-1l6 3l6 3l7 1l6 2l6 1l6 0l6 3l6 1l6 1l6-3l7 4l6 4l6-2l6 3l6 3l6 7l6-1l6 2l6-2l7 2l6 0l6 1l6 4l6 5l6-4l6 2l6 3l7 2l6 1l6-7l6 6l6 0l6 4l6 4l6-4l7-1l6-1l6 5l6 3l6-2l6 2l6 0l6 0l7 1l6 1l6 7l6-1l6 5l6-5l6 7l6-4l6 8l7-5l6 11l6-8l6 0l6-2l6 15l6-13l6 12l7-5l6 6l6-4l6 11l6-6l6 7l6-7l6 8l7-12l6 17l6-8l6 9l6-10l6 13l6-6l6 7l7-5l6 10l6-10l6 11l6-10l6 10l6-3l6 9l6-8l7 13l6-9l6 9l6-8l6 10l6-5l6 11l6-10l7 14l6-8l6 6l6-5l6 11" stroke="#348ABD"/>
<path d="M1236 1353l7 0l6-3l6 3l6 0l6 3l6 0l6-3l6-2l7 6l6-2l6-2l6 3l6-4l6 4l6 0l6-1l7 4l6-1l6-1l6 0l6-3l6 3l6 0l6 2l7 0l6-3l6-1l6 1l6 1l6 2l6-1l6-4l6-1l7 10l6-4l6-3l6 5l6-2l6-1l6 6l6-1l7 0l6 1l6 5l6-3l6-3l6 5l6 3l6-4l7 4l6 0l6-1l6 3l6-1l6-1l6 3l6 6l7-1l6-3l6 4l6 2l6-3l6-1l6 4l6-3l6 1l7 5l6-4l6 6l6-2l6-2l6 1l6 3l6 2l7-6l6 6l6-3l6 2l6 2l6 0l6-4l6 6l7-1l6 1l6-1l6 6l6-3l6 0l6 2l6-1l7 6l6 2l6-2l6-5l6 3l6 1l6-2l6 2l6 3l7-5l6 2l6 2l6 3l6-1l6 5l6-2l6-1l7-1l6-1l6 3l6-1l6 5l6 0l6 0l6-3l7 1l6 6l6 4l6-5l6 2l6 1l6-3l6 0l7-3l6 5l6 1l6-2l6-3l6-1l6 7l6 1l6-3l7-1l6 3l6 2l6 1l6-6l6 1l6 9l6 2l7-7l6 3l6-3l6 1l6 2" stroke="#988ED5"/>
<path d="M1236 1419l7-7l6 2l6-1l6 4l6-4l6 4l6 3l6-4l7-1l6-2l6-4l6 7l6-1l6 5l6-1l6 4l7-7l6 2l6 1l6 3l6-1l6 1l6-2l6 2l7 3l6-3l6 1l6 1l6-3l6 5l6 0l6-1l6 0l7 2l6 2l6-4l6-2l6-4l6 5l6 0l6 1l7-1l6-2l6 0l6-1l6 2l6 2l6-1l6 4l7-1l6 1l6-3l6 1l6 0l6 3l6 4l6 1l7 1l6-1l6 1l6 1l6-1l6 0l6 1l6 2l6-1l7 4l6 1l6 2l6-1l6 5l6-2l6 3l6 3l7-2l6-1l6 1l6-2l6-1l6 6l6 4l6 0l7-5l6 4l6 0l6-3l6 5l6 1l6 0l6 0l7 0l6 3l6 2l6-1l6 5l6-7l6 6l6-4l6 1l7-1l6 12l6-8l6 9l6-11l6 9l6-5l6 7l7-14l6 12l6-8l6 11l6-5l6 3l6-6l6 6l7-7l6 10l6-7l6 11l6-4l6 4l6-10l6 13l7-9l6 9l6-8l6 10l6-11l6 11l6-10l6 8l6-5l7 8l6-9l6 8l6-7l6 11l6-12l6 15l6-7l7 2l6-8l6 14l6-8l6 7" stroke="#777777"/>
<path d="M1236 1382l7-2l6 0l6-4l6-4l6 3l6 6l6-1l6-1l7 3l6-3l6 0l6-2l6 1l6-3l6-1l6 6l7-4l6 2l6 2l6 3l6 2l6-3l6-4l6 4l7 2l6 3l6-7l6 5l6 0l6-1l6-1l6-1l6-1l7 3l6 0l6-2l6 1l6 1l6-2l6 0l6 2l7 0l6 0l6 0l6-5l6 7l6-5l6 2l6-1l7 2l6 4l6-3l6 0l6-5l6 10l6-8l6 7l7 2l6-2l6-2l6-3l6 0l6 2l6 1l6 4l6-4l7 2l6 5l6 1l6-7l6 5l6-1l6 3l6-4l7 3l6-1l6 0l6-2l6 3l6 4l6-5l6 6l7-2l6 0l6 1l6 1l6-4l6 6l6-1l6 2l7-9l6 5l6 1l6 6l6 2l6 1l6-2l6-5l6 0l7 3l6 2l6 1l6-2l6 2l6-2l6 1l6 3l7-1l6 2l6 2l6 2l6-2l6-4l6 3l6-3l7 5l6 2l6-4l6 3l6 1l6 0l6 1l6 1l7-1l6-1l6 5l6-3l6 6l6-2l6 1l6-2l6-2l7 1l6 3l6 2l6-1l6 5l6 2l6-1l6 3l7-5l6-4l6 5l6 4l6 1" stroke="#FBC15E"/>
<path d="M1236 1345l7 3l6-2l6 1l6 0l6 4l6 3l6-4l6 3l7 4l6-5l6 5l6 1l6-4l6 2l6 4l6 1l7 3l6 0l6-3l6 10l6-2l6-3l6 6l6-2l7-5l6-2l6 7l6 1l6 0l6 6l6 1l6 2l6-4l7 4l6-4l6 3l6 2l6-2l6 5l6 0l6-1l7 1l6-3l6 1l6 0l6 5l6 6l6-1l6-2l7-1l6 4l6 4l6 1l6 4l6-2l6 3l6 3l7 2l6-6l6 4l6-1l6 0l6 1l6 3l6 7l6 1l7 2l6-5l6 0l6 2l6 3l6-2l6 2l6 1l7 4l6 1l6 2l6 2l6 3l6 1l6 1l6-5l7 0l6 2l6 5l6 1l6-1l6 2l6 4l6-2l7-1l6 0l6 2l6 5l6-1l6 1l6 8l6-5l6 0l7 2l6-2l6 3l6 0l6 2l6 6l6 0l6 1l7 1l6-2l6 8l6-2l6 5l6-6l6 2l6 1l7 7l6-1l6 1l6 5l6-4l6-3l6 7l6 1l7 6l6 1l6-2l6 2l6-1l6 5l6-1l6 9l6 2l7-1l6 0l6-3l6 1l6 5l6 4l6 2l6 1l7 1l6 0l6 3l6 4l6 0" stroke="#8EBA42"/>
<path d="M1236 1408l7-1l6 5l6-2l6 2l6 3l6-2l6 0l6-2l7-1l6 1l6 4l6-6l6-2l6 5l6-1l6-5l7 2l6 1l6-5l6 3l6-1l6 0l6 1l6 1l7 1l6-3l6 1l6-1l6 4l6-1l6 1l6-4l6 2l7 1l6 0l6-4l6 0l6 1l6 1l6 2l6 2l7 0l6-1l6 2l6-5l6 2l6 0l6 4l6 2l7 5l6 1l6-3l6 0l6 1l6 2l6-4l6 5l7 2l6-5l6 9l6 4l6-1l6-1l6 8l6-4l6 0l7-1l6 0l6 9l6 3l6 3l6-4l6 8l6-5l7 0l6 4l6 1l6 2l6 4l6-5l6 3l6-7l7 8l6-1l6 14l6-12l6 8l6-5l6 6l6-11l7 16l6-7l6 10l6-5l6 6l6-6l6 4l6-9l6 17l7-6l6 8l6-14l6 15l6-11l6 12l6-7l6 9l7-9l6 14l6-9l6 12l6-5l6 5l6-3l6 10l7-13l6 9l6-2l6 10l6-5l6 13l6-8l6 10l7-12l6 11l6-4l6 9l6-8l6 9l6-4l6 10l6-11l7 12l6-6l6 15l6-10l6 15l6-5l6 7l6-8l7 11l6-6l6 14l6-10l6 8" stroke="#FFB5B8"/>
<path d="M1236 1348l7-1l6 2l6 5l6-4l6-4l6 6l6 6l6-4l7 3l6-1l6 2l6 1l6 2l6 1l6 2l6-1l7 3l6-3l6-3l6 4l6 3l6 4l6-3l6-3l7 5l6-4l6 4l6-2l6 5l6-1l6-3l6 4l6 1l7 2l6-1l6 5l6-1l6 2l6-1l6-3l6 4l7 3l6-3l6 1l6 3l6-1l6 7l6-4l6-2l7 0l6 0l6 3l6 1l6 0l6 4l6-1l6 3l7-2l6 2l6 0l6 3l6 2l6-3l6-2l6 6l6 2l7-1l6 0l6-2l6 4l6-1l6 5l6 4l6-2l7 3l6-3l6-1l6 7l6 0l6-3l6 7l6-6l7 8l6-4l6 11l6-7l6 8l6-11l6 11l6-7l7 15l6-12l6 3l6-2l6 12l6-10l6 16l6-7l6 8l7-5l6 8l6-14l6 13l6-5l6 12l6-9l6 13l7-9l6 9l6-9l6 13l6-12l6 16l6-9l6 11l7-10l6 12l6-11l6 11l6-7l6 8l6-8l6 12l7-12l6 11l6-12l6 20l6-13l6 10l6-7l6 13l6-8l7 5l6-8l6 7l6-8l6 9l6-7l6 10l6-8l7 13l6-10l6 10l6-10l6 7" stroke="#E24A33"/>
<path d="M1236 1355l7-2l6 2l6 1l6 1l6 0l6-1l6 1l6 1l7 3l6 1l6-4l6-1l6 0l6 4l6-4l6 1l7-5l6 3l6 3l6-1l6 4l6 1l6-1l6 0l7 0l6 0l6-3l6-1l6-1l6 5l6 1l6 0l6-2l7-3l6 5l6 1l6 4l6-1l6 3l6 4l6-3l7 2l6-2l6 3l6 3l6 2l6 1l6 2l6 4l7-1l6-2l6-5l6 2l6 3l6 4l6 5l6-1l7 4l6 3l6-2l6 2l6 5l6 1l6 3l6-3l6 4l7 1l6 6l6-6l6 6l6 0l6-2l6 0l6-1l7 1l6 4l6 5l6-3l6-4l6 8l6 1l6-2l7 1l6-2l6 4l6 3l6-1l6 4l6 1l6-4l7 3l6-5l6 2l6 7l6-3l6 1l6 4l6-7l6 3l7 7l6-2l6 1l6-1l6 3l6 4l6-3l6-2l7 7l6-2l6-1l6 0l6 6l6 2l6-3l6 2l7 0l6 3l6-1l6 7l6 2l6 3l6 0l6-3l7 2l6 2l6 5l6-2l6 1l6 3l6 1l6 7l6 6l7 1l6 3l6-1l6-4l6 6l6 0l6 7l6 5l7-5l6 2l6 5l6-4l6 6" stroke="#348ABD"/>
<path d="M1236 1378l7-5l6-2l6 9l6-1l6-2l6 1l6 1l6-4l7-3l6 1l6 4l6 3l6 4l6 3l6-8l6 1l7 4l6 0l6 0l6-7l6 3l6 0l6-1l6 5l7-4l6-2l6 3l6 2l6-4l6 2l6 0l6 2l6 2l7-2l6-5l6 5l6 5l6 0l6-1l6-1l6 3l7 0l6-3l6 0l6 10l6-2l6 4l6 1l6-5l7 7l6-1l6-6l6 9l6-2l6 5l6 0l6-2l7 3l6-2l6 7l6 1l6-4l6 0l6-2l6 5l6 5l7 0l6 2l6 0l6-4l6 2l6 4l6 1l6 0l7 0l6 3l6 2l6-3l6 0l6 6l6 1l6 1l7 0l6 5l6-1l6 1l6-2l6 3l6-1l6 3l7-1l6 3l6 1l6 0l6-1l6 4l6 7l6-3l6 0l7 2l6 4l6 1l6-1l6-2l6 0l6 3l6-1l7 1l6 2l6 1l6 3l6 0l6 1l6 2l6-4l7 6l6-2l6 9l6-5l6 1l6 3l6 2l6-3l7 2l6 3l6 2l6 1l6 0l6-3l6 7l6 0l6-1l7 1l6 4l6 0l6 7l6-4l6 1l6 3l6 1l7 3l6-3l6 2l6 1l6-2" stroke="#988ED5"/>
<path d="M1236 1347l7-1l6 2l6 4l6-2l6 4l6 3l6-3l6-3l7-4l6 7l6 1l6 0l6-1l6-2l6 2l6 2l7 1l6 2l6 2l6 0l6 4l6-9l6 3l6 1l7 0l6 4l6 0l6 0l6-3l6 2l6 6l6 0l6 0l7 1l6-3l6 3l6 4l6-1l6-1l6 3l6 1l7 1l6-2l6 2l6 0l6 5l6 4l6-1l6 2l7 0l6 2l6 0l6 1l6 5l6-2l6 4l6-2l7-2l6 1l6 6l6 6l6-7l6 3l6 5l6 4l6-1l7-2l6 2l6 0l6-1l6 7l6 2l6 1l6-1l7 1l6 0l6 0l6-1l6 5l6 1l6 1l6 0l7-6l6 4l6-1l6 2l6 1l6-1l6-3l6 2l7 4l6 3l6-3l6 2l6 0l6-1l6 1l6 0l6 1l7-1l6-1l6 6l6 1l6-7l6-2l6 3l6-3l7 1l6 1l6-1l6 6l6 0l6 3l6-2l6 0l7-2l6 1l6 2l6-1l6 4l6 2l6-2l6-1l7 4l6 0l6-2l6 1l6 6l6 0l6 2l6-1l6 0l7 0l6-5l6 9l6 4l6 0l6-4l6 1l6 0l7-2l6 3l6 5l6 1l6 0" stroke="#777777"/>
<path d="M1236 1348l7 4l6-6l6 2l6 2l6-3l6-4l6 8l6-4l7 2l6 3l6-2l6 2l6 3l6-3l6-5l6 5l7 3l6 0l6-6l6 1l6-3l6 4l6 1l6 3l7-4l6-1l6-2l6 2l6 3l6 4l6-3l6 0l6 4l7 0l6-1l6-1l6 0l6-5l6 9l6-1l6 2l7-3l6-2l6 5l6 0l6-2l6 5l6-2l6 3l7 2l6 2l6 1l6 1l6-3l6 5l6 1l6-3l7 5l6-5l6 0l6 2l6 6l6 1l6-3l6-1l6 2l7 1l6 4l6 3l6 2l6-3l6-5l6 2l6 0l7-1l6 5l6 3l6-1l6 2l6 2l6-2l6 3l7-1l6 2l6 3l6 1l6-1l6-2l6-1l6 0l7 1l6 4l6-2l6 1l6 2l6 2l6-2l6-2l6 0l7 1l6 7l6-3l6 3l6-1l6 3l6-4l6 3l7 4l6-2l6 0l6 0l6 0l6-3l6 3l6 4l7-3l6 4l6 0l6 0l6 4l6-5l6 4l6 0l7-3l6-2l6 6l6-2l6 3l6 1l6 0l6-2l6-2l7 10l6-3l6-3l6 3l6 1l6-3l6-3l6 7l7 0l6 1l6 3l6 0l6-2" stroke="#FBC15E"/>
<path d="M1236 1359l7-1l6-5l6 2l6 0l6 4l6 0l6 2l6-6l7 3l6 0l6 4l6 1l6 0l6 2l6 1l6-4l7-2l6 4l6 6l6-4l6-1l6-2l6 4l6 0l7 0l6 1l6 2l6 0l6 0l6 2l6 2l6-3l6-2l7 7l6 3l6-3l6 1l6-1l6-5l6 4l6-2l7 3l6-4l6 1l6-1l6 6l6-4l6 2l6 3l7 1l6-1l6 1l6 0l6 0l6 4l6-2l6 0l7-1l6 1l6 1l6 3l6-1l6 3l6 1l6-2l6-1l7 1l6-3l6 1l6 1l6 3l6 4l6-2l6 4l7-3l6 4l6-3l6 0l6 1l6 0l6 0l6 4l7-2l6 1l6 1l6 0l6 2l6-2l6 0l6 2l7 5l6-1l6 0l6-1l6 0l6 1l6-3l6 1l6 7l7 0l6-4l6 1l6 1l6 4l6 1l6-2l6 1l7 6l6-5l6-2l6 2l6 5l6-2l6 0l6 3l7-2l6 8l6-7l6-2l6 3l6-1l6 0l6 1l7-4l6-2l6 6l6-2l6-2l6-2l6 3l6 0l6-2l7-1l6 3l6 6l6-1l6-2l6 0l6 5l6-1l7-5l6 2l6 4l6-5l6 3" stroke="#8EBA42"/>
<path d="M1236 1381l7-3l6-2l6 3l6 2l6-3l6 1l6 2l6 2l7-5l6 4l6 1l6-3l6 5l6-5l6 5l6-2l7 1l6 3l6-2l6 2l6-1l6-1l6 4l6-2l7-1l6 0l6 2l6 3l6 1l6-4l6 0l6 4l6 0l7 3l6-3l6 3l6 2l6-8l6 7l6 3l6-2l7-1l6 0l6-3l6 0l6 1l6 4l6 5l6-4l7 0l6 1l6 4l6-1l6-3l6-3l6 6l6 1l7 0l6 3l6-2l6-1l6 7l6-6l6 3l6-1l6 0l7 3l6 4l6 1l6 0l6-1l6 4l6 0l6-2l7 7l6-4l6 2l6 4l6-1l6 4l6-6l6 4l7 3l6 0l6-1l6 2l6-4l6 0l6 5l6 5l7-7l6 4l6 2l6-5l6 3l6 4l6 1l6-5l6 0l7 3l6 0l6 2l6 2l6-1l6 1l6-1l6 0l7 0l6 7l6 3l6-2l6 3l6-3l6 0l6 0l7-2l6 6l6 3l6-3l6 2l6-1l6-2l6 1l7 3l6-4l6 7l6 0l6 4l6-2l6-1l6 4l6-4l7 0l6 2l6-1l6-1l6 5l6 5l6 0l6 3l7-5l6 4l6-2l6 4l6-1" stroke="#FFB5B8"/>
<path d="M1236 1378l7-2l6 0l6 1l6-5l6 2l6 1l6 2l6 3l7-4l6 4l6-2l6 1l6 1l6 3l6-5l6-3l7 4l6 3l6 0l6-2l6 1l6-4l6 3l6 2l7-2l6 6l6 0l6 1l6-2l6 1l6-1l6 2l6-7l7 4l6 2l6 0l6-3l6 0l6 4l6-1l6 3l7-2l6-5l6 5l6-1l6 1l6 2l6 3l6 1l7-1l6 1l6 1l6-1l6 8l6-7l6 5l6 0l7 2l6-2l6 0l6-1l6 4l6 4l6-2l6-2l6 6l7-3l6-2l6-4l6 6l6 3l6 2l6 1l6-3l7 2l6 2l6 4l6-1l6 1l6 0l6 2l6-2l7 7l6-7l6 3l6 3l6 2l6 3l6 4l6-3l7 3l6-5l6 5l6-1l6 13l6-13l6 15l6-14l6 16l7-17l6 13l6-10l6 19l6-16l6 17l6-10l6 12l7-10l6 19l6-15l6 12l6-9l6 16l6-13l6 14l7-16l6 15l6-11l6 16l6-19l6 10l6-11l6 12l7-5l6 16l6-16l6 16l6-11l6 17l6-16l6 10l6-3l7 9l6-14l6 11l6-14l6 19l6-18l6 17l6-12l7 11l6-12l6 16l6-13l6 17" stroke="#E24A33"/>
<path d="M1236 1354l7 5l6-5l6 3l6-2l6 4l6 1l6 2l6-4l7 1l6 4l6 0l6 3l6-2l6 1l6-3l6 3l7-2l6 5l6 2l6-1l6-2l6-1l6 4l6-2l7 2l6-3l6 0l6 3l6 0l6 3l6 5l6-3l6 4l7-1l6 2l6-3l6 3l6 2l6 5l6 1l6-3l7 0l6 1l6 1l6 0l6 3l6 4l6 0l6 2l7-3l6 9l6-1l6 1l6-5l6 6l6 7l6-2l7 5l6-4l6 1l6 3l6 2l6 2l6 2l6 5l6 3l7-2l6-1l6-3l6 5l6 4l6 2l6 0l6 1l7 1l6-2l6 3l6 5l6-1l6 1l6 0l6-6l7 8l6 1l6-4l6 3l6-3l6-1l6 5l6-1l7 0l6 5l6-3l6-2l6 4l6-5l6 5l6-5l6 4l7 1l6 2l6-5l6 1l6 3l6-2l6 4l6-1l7-3l6 0l6 3l6 1l6-2l6 2l6 2l6 0l7-3l6 3l6 3l6 0l6-3l6-2l6 5l6 0l7 4l6-3l6 5l6 0l6 3l6 2l6-5l6 1l6-1l7 5l6 2l6 1l6-1l6 0l6 2l6 0l6 1l7-1l6 2l6 7l6 1l6-3" stroke="#348ABD"/>
<path d="M1236 1386l7-2l6 2l6 2l6 1l6-3l6-2l6 0l6 3l7 2l6 1l6-1l6 1l6-1l6 1l6 2l6-3l7-1l6-2l6 6l6 0l6 1l6 0l6 5l6-3l7-2l6-2l6-3l6 7l6 0l6 0l6-2l6 3l6-1l7 3l6 0l6-4l6 2l6 2l6 1l6-2l6 4l7-11l6 5l6 4l6 4l6-6l6 2l6 5l6 1l7 2l6 0l6 1l6-4l6-1l6 2l6 7l6 0l7-4l6 4l6-2l6 2l6 4l6-2l6 1l6 0l6 0l7 1l6 6l6 0l6 2l6 5l6-3l6-4l6 4l7-4l6 3l6 0l6 2l6 2l6-2l6 1l6 6l7-2l6-1l6 0l6-1l6 4l6-3l6 2l6-1l7 6l6-2l6 9l6-10l6 5l6-2l6 8l6-14l6 14l7-13l6 17l6-12l6 14l6-17l6 13l6-12l6 12l7-14l6 16l6-13l6 20l6-18l6 13l6-13l6 14l7-10l6 12l6-13l6 18l6-15l6 17l6-10l6 13l7-13l6 22l6-16l6 16l6-18l6 18l6-15l6 11l6-8l7 14l6-11l6 17l6-13l6 13l6-14l6 17l6-13l7 18l6-11l6 8l6-10l6 15" stroke="#988ED5"/>
<path d="M1236 1425l7-1l6-4l6 4l6-3l6 0l6 6l6-5l6 2l7-1l6 3l6 1l6-7l6 4l6-1l6-3l6 5l7 3l6-5l6 3l6-3l6 6l6 1l6-6l6 3l7-5l6 5l6-1l6 4l6-1l6 0l6 0l6 2l6-4l7 0l6 0l6-1l6 0l6-2l6 4l6-2l6 4l7-3l6 1l6 1l6 0l6-1l6 0l6 10l6-2l7-1l6 3l6-2l6-7l6 4l6 4l6 1l6 1l7 0l6 4l6-2l6 5l6-7l6 1l6 4l6 1l6 2l7 2l6 3l6 1l6 3l6 0l6-4l6 6l6-6l7 7l6 0l6 4l6 1l6-1l6 5l6 1l6 2l7 0l6 0l6 2l6 3l6 1l6 5l6-6l6 1l7-2l6 2l6 5l6 8l6-6l6 0l6 2l6 5l6-2l7 3l6 2l6 4l6-2l6-1l6-1l6 6l6-1l7 3l6 3l6-2l6-1l6 7l6-5l6 5l6 2l7-2l6-5l6 5l6 1l6 3l6 3l6-5l6 0l7 4l6 3l6 2l6 1l6-2l6 3l6 0l6 2l6-3l7 1l6-2l6 5l6 2l6-1l6-4l6 4l6 0l7 6l6 0l6 0l6-4l6 5" stroke="#777777"/>
<path d="M1236 1369l7 0l6-2l6 4l6 0l6-1l6 1l6 0l6 4l7-5l6 4l6 2l6 1l6-3l6 2l6 0l6-3l7 5l6-5l6 0l6 6l6-6l6 3l6-1l6 0l7 7l6-6l6 3l6-1l6 0l6-5l6-1l6 3l6 1l7 3l6 1l6 2l6 1l6-1l6 5l6-5l6 5l7-6l6-1l6 3l6-1l6 0l6 5l6 0l6 0l7 3l6 4l6-2l6-1l6 1l6-1l6 2l6 5l7 1l6-2l6-2l6 0l6 5l6-4l6 8l6 2l6 4l7 0l6-7l6 2l6 4l6 1l6 4l6-3l6 0l7 6l6-1l6-7l6 10l6-2l6 3l6-2l6 2l7 0l6 1l6 3l6-1l6 2l6-1l6-2l6 4l7-4l6 4l6 0l6 1l6 4l6 3l6-5l6-1l6-1l7-1l6 3l6 6l6 1l6-1l6 3l6-3l6 1l7 1l6-2l6 5l6-2l6-2l6 5l6 0l6-1l7-2l6 1l6 7l6-3l6 0l6 4l6-1l6 2l7 0l6 0l6 3l6-1l6-2l6 2l6 7l6 1l6 1l7-2l6-1l6 5l6 0l6 7l6-1l6-3l6 1l7 2l6 0l6 2l6 1l6 1" stroke="#FBC15E"/>
<path d="M1236 1351l7-2l6 0l6-1l6 7l6-3l6-2l6 0l6 0l7 2l6-1l6 1l6 0l6 5l6-4l6 1l6-4l7 1l6 3l6 3l6-4l6 1l6 2l6 1l6 3l7 4l6-3l6-4l6 4l6-8l6 4l6 2l6-6l6 1l7 3l6 2l6 2l6 2l6-1l6 0l6-2l6 3l7 2l6 0l6-4l6 4l6 0l6 3l6 2l6 4l7-3l6 0l6 1l6 3l6 0l6 4l6-4l6 1l7-1l6 0l6 2l6 7l6-1l6 1l6 1l6-1l6-3l7 0l6 5l6 1l6 1l6-1l6 3l6 0l6 2l7-4l6 4l6 0l6 2l6 7l6-2l6 3l6 1l7 1l6 1l6-2l6 4l6 1l6 0l6 5l6-3l7 4l6-1l6-2l6 7l6-4l6 3l6 0l6 1l6 12l7 3l6-2l6-2l6 4l6-1l6 2l6 0l6 1l7 4l6-3l6 1l6 4l6 1l6 7l6 4l6-3l7 3l6-1l6 4l6 1l6-3l6 6l6-4l6 3l7 5l6 2l6 4l6-1l6-4l6 7l6-2l6-4l6 6l7-3l6 8l6-3l6 3l6 1l6 1l6 4l6 2l7 0l6-4l6-2l6 8l6 2" stroke="#8EBA42"/>
<path d="M1236 1378l7-3l6-1l6-1l6 5l6 3l6-3l6 1l6 2l7-2l6-2l6 0l6 6l6 0l6 4l6 0l6 1l7 4l6-2l6-3l6 4l6-5l6 3l6 5l6-3l7-2l6 0l6 0l6 0l6 2l6 1l6 2l6 4l6-6l7 0l6 3l6-1l6 1l6 3l6 3l6-6l6 0l7 1l6-2l6 1l6 2l6 1l6 1l6-2l6 0l7 4l6 2l6 0l6 2l6-2l6 4l6-1l6 1l7 1l6 3l6-4l6 2l6-1l6 2l6 3l6-1l6-1l7 4l6 1l6 2l6-1l6 4l6-3l6 1l6 1l7-2l6-2l6 4l6 5l6 0l6 0l6-2l6 4l7 0l6-3l6 5l6-4l6 5l6 2l6 4l6-2l7 1l6-3l6 2l6 3l6 4l6 1l6-7l6-3l6 2l7 8l6-3l6 2l6-1l6 4l6 0l6 0l6 3l7-2l6 4l6-2l6-1l6 3l6 4l6 0l6-2l7-1l6 1l6 0l6 5l6-4l6 5l6-3l6 2l7 2l6-1l6 2l6 0l6 1l6-4l6 1l6 1l6 0l7 0l6 2l6 4l6-1l6-3l6 2l6 1l6 2l7 1l6 4l6-1l6 2l6-1" stroke="#FFB5B8"/>
<path d="M1236 1358l7-1l6 1l6-1l6 0l6-1l6 2l6 0l6-1l7 4l6-1l6 0l6 0l6 3l6 5l6-4l6 0l7 4l6-4l6 7l6-7l6 3l6 0l6 1l6 3l7 0l6-5l6 4l6 1l6-1l6-1l6 2l6 0l6 3l7 0l6 0l6 1l6 3l6 7l6-5l6 2l6-8l7 4l6 2l6 4l6-3l6 1l6 2l6 0l6 1l7 1l6 3l6 4l6 1l6-3l6 4l6-5l6 3l7-2l6 3l6 3l6 1l6 6l6-2l6-2l6 4l6 0l7 4l6-2l6 3l6-1l6 0l6-2l6 1l6 3l7-1l6 3l6 0l6 3l6 0l6-2l6 1l6-1l7 2l6 3l6 6l6 2l6 0l6-5l6-1l6 1l7 1l6 1l6 5l6-1l6-2l6 2l6 3l6 3l6-4l7-2l6 6l6 0l6 2l6-2l6 1l6 0l6 3l7-2l6 4l6 1l6 1l6 2l6-2l6-4l6 2l7 0l6 5l6-6l6 4l6-4l6 1l6-2l6 1l7-2l6 2l6-4l6 1l6 1l6-2l6 1l6 3l6-3l7 1l6-7l6 0l6 1l6 3l6-1l6-3l6 1l7 3l6-6l6-8l6 3l6-1" stroke="#E24A33"/>
<path d="M1236 1352l7-5l6 3l6 4l6 3l6-4l6 0l6 1l6 3l7-3l6 1l6-2l6-1l6 2l6 4l6-4l6 4l7 1l6-3l6 1l6-4l6 2l6 1l6 0l6 0l7 2l6-4l6 2l6 2l6 1l6-1l6 2l6 0l6 1l7-2l6 4l6 0l6 2l6-7l6-2l6 5l6 3l7 1l6 3l6-1l6 0l6 1l6 0l6-1l6-3l7 10l6-10l6 7l6 0l6 5l6 1l6-1l6-1l7 6l6-3l6 1l6-1l6-2l6 0l6 7l6-2l6-1l7-1l6 4l6 0l6 1l6 0l6 2l6 1l6-6l7 8l6-3l6-1l6 1l6 5l6-1l6 1l6 0l7-1l6 4l6-1l6 1l6 4l6-8l6 6l6-2l7 4l6 0l6 0l6 0l6-3l6 4l6-3l6 4l6 4l7-2l6 3l6-5l6 2l6 0l6 6l6-2l6 9l7-3l6 0l6 1l6-5l6 5l6 3l6-7l6 3l7-1l6 4l6-3l6 0l6-4l6 5l6 1l6-3l7 2l6 5l6-2l6 0l6-4l6 7l6-1l6 1l6 0l7 1l6 1l6-5l6 1l6-1l6 5l6 0l6-5l7 3l6 1l6 0l6-1l6 0" stroke="#348ABD"/>
<path d="M1236 1376l7-4l6 4l6 1l6 1l6-3l6-2l6 3l6 4l7-3l6-1l6 0l6 0l6 1l6-1l6 4l6-3l7 3l6-2l6 0l6 2l6 0l6 3l6-5l6 4l7-2l6-7l6 4l6 5l6-1l6 1l6-7l6-2l6 6l7-8l6 8l6 0l6 3l6 3l6-5l6 0l6-3l7 3l6 1l6 1l6 0l6 3l6 1l6-2l6 2l7-1l6-1l6-3l6 11l6-2l6-1l6-4l6 4l7-1l6-2l6 4l6-2l6 1l6 6l6 2l6-1l6 4l7-1l6-7l6 4l6-1l6-1l6 4l6-1l6 0l7 2l6 6l6 0l6-5l6 5l6-3l6 2l6 1l7 0l6 4l6 1l6 1l6 2l6 5l6-4l6-3l7 4l6 1l6 1l6 1l6 0l6 2l6-3l6 1l6-2l7 6l6-2l6 5l6-2l6 2l6-1l6 5l6-2l7 1l6 4l6 2l6-4l6-4l6 7l6-3l6 4l7-1l6-2l6 0l6 2l6-2l6 1l6-5l6 5l7 0l6-1l6-4l6 5l6-3l6-1l6 1l6-1l6-2l7 0l6 1l6 0l6 2l6-5l6 4l6 1l6-1l7 0l6-6l6 0l6 2l6-1" stroke="#988ED5"/>
<path d="M1236 1409l7-2l6 5l6-4l6 7l6-3l6-2l6-3l6-2l7 2l6 5l6-7l6 0l6-1l6 4l6 3l6-4l7-3l6 3l6-3l6-2l6 3l6 1l6-2l6 5l7-5l6-4l6 3l6 1l6-7l6 4l6-1l6 5l6-2l7 2l6 0l6 2l6 1l6-6l6-1l6 2l6-1l7 4l6 2l6-1l6 2l6-5l6 3l6 7l6-6l7 8l6 1l6-5l6-2l6 8l6-1l6-1l6-3l7 3l6 8l6-4l6 4l6 1l6-6l6 5l6-1l6 3l7 0l6 4l6 1l6 1l6 0l6-4l6 3l6 3l7 2l6 2l6-3l6 6l6-1l6 1l6-4l6 8l7 5l6-2l6 0l6 3l6-4l6 3l6 4l6-3l7-2l6 5l6 0l6 1l6 6l6 0l6 2l6-2l6 3l7 3l6 2l6-3l6 4l6-1l6 5l6-3l6 3l7 0l6 2l6 1l6-1l6 3l6-1l6 3l6 4l7 3l6 0l6 2l6-1l6 0l6 3l6 4l6-3l7 4l6 5l6-5l6 2l6 9l6-1l6-1l6 4l6 1l7 9l6-4l6 0l6 4l6 0l6 3l6 0l6 0l7 1l6 0l6 0l6 5l6 4" stroke="#777777"/>
<path d="M1236 1387l7 0l6-4l6-2l6 0l6 1l6 0l6-1l6-5l7 5l6-3l6 3l6-3l6 0l6-9l6 7l6-3l7 2l6 2l6-3l6-3l6 5l6-5l6-2l6-2l7 4l6-6l6 0l6-2l6 1l6-1l6 4l6-3l6 5l7-4l6 1l6-2l6-1l6 1l6 2l6 0l6 1l7 4l6-1l6-2l6 5l6-2l6 2l6 1l6 0l7 1l6-3l6 1l6 5l6 2l6-1l6 1l6 0l7-1l6 2l6 0l6-4l6 4l6 1l6 2l6 2l6 3l7 0l6-2l6 1l6 1l6-1l6 4l6 2l6 2l7 1l6-6l6 3l6 3l6-2l6 2l6 3l6-1l7-2l6 0l6 1l6 1l6 3l6-2l6 4l6-2l7-6l6 9l6-5l6 0l6 4l6-1l6 3l6-1l6-2l7 4l6-1l6-2l6 2l6 1l6 5l6-1l6 0l7-5l6 4l6 0l6 1l6-1l6 1l6 1l6 1l7-1l6 4l6 3l6-2l6-1l6 5l6 1l6 0l7-1l6 2l6 3l6-3l6 1l6 4l6 1l6-2l6 4l7-5l6 6l6 0l6 4l6-1l6 3l6 0l6 0l7 3l6 5l6 1l6 0l6 0" stroke="#FBC15E"/>
<path d="M1236 1345l7 0l6 7l6-8l6 4l6 1l6 2l6-4l6 3l7 0l6 1l6 4l6 0l6 1l6-3l6-1l6 4l7 2l6-3l6 3l6-1l6 5l6-4l6 2l6-2l7 5l6-1l6 1l6 0l6-2l6-2l6 1l6 6l6-6l7 6l6 1l6 2l6-2l6 2l6-3l6 1l6 2l7-1l6-1l6 5l6 3l6 2l6 1l6 2l6 0l7 3l6 3l6-1l6 1l6-1l6-1l6 1l6 5l7-5l6 1l6 2l6 0l6 2l6 2l6 2l6 2l6 2l7 3l6 2l6 0l6-2l6-1l6 6l6-2l6 4l7-3l6 2l6 4l6 0l6 4l6-2l6 3l6-1l7 5l6-2l6-3l6 3l6-1l6 2l6 1l6-1l7 5l6-1l6-1l6 3l6 1l6-1l6 2l6 4l6-4l7 1l6-4l6 4l6 4l6-6l6 8l6-3l6-1l7 5l6 3l6 0l6 1l6 2l6 0l6-3l6 4l7-7l6 4l6 2l6-1l6 1l6-2l6-4l6 3l7 4l6-2l6 0l6 5l6 0l6-1l6-1l6-3l6-2l7 5l6-1l6 7l6-3l6-3l6 6l6-5l6-4l7 5l6 3l6 0l6 0l6-1" stroke="#8EBA42"/>
<path d="M1236 1422l7-2l6 2l6-1l6 2l6-2l6-1l6 1l6-1l7-2l6 0l6 1l6 3l6 0l6-7l6 1l6-3l7 1l6-4l6 4l6-2l6 0l6 0l6 3l6-3l7 0l6-4l6 5l6 2l6-3l6 1l6-3l6 4l6-5l7 3l6-4l6 1l6-6l6 2l6 2l6 0l6 1l7-5l6 2l6 0l6-2l6 3l6 2l6 0l6 1l7-3l6-2l6 1l6 1l6 3l6 1l6-1l6-3l7 1l6 2l6 2l6 1l6-4l6 4l6 0l6 0l6-4l7-1l6 8l6 3l6 0l6-3l6-2l6 3l6 2l7-8l6 5l6 6l6-1l6 1l6 2l6 6l6-7l7 4l6 1l6 2l6 4l6 0l6-2l6 2l6 3l7-4l6 6l6 1l6 1l6-7l6 9l6-1l6 2l6-2l7 4l6 2l6-3l6 2l6 2l6 0l6 4l6-3l7 6l6 1l6 1l6 4l6-4l6 1l6 1l6 6l7 0l6 6l6 3l6-4l6-2l6 4l6 4l6-2l7 5l6 0l6 1l6 4l6-2l6 7l6 4l6 0l6 3l7 6l6 1l6-3l6 1l6 3l6 6l6-2l6 8l7 1l6-1l6 4l6 5l6 5" stroke="#FFB5B8"/>
<path d="M1236 1393l7-1l6 2l6 4l6-2l6 0l6 4l6-2l6 4l7-4l6 5l6-3l6 1l6 1l6 1l6-1l6 4l7-1l6 0l6 2l6-4l6 1l6 6l6-6l6 4l7-2l6 5l6 1l6 3l6-2l6-1l6 1l6-1l6 1l7-1l6 2l6 1l6 3l6 0l6-2l6 1l6 2l7-4l6 3l6 0l6 1l6-3l6 3l6-4l6 0l7 5l6 2l6 0l6 5l6-7l6 4l6 4l6 1l7 2l6-1l6 0l6-4l6-1l6 2l6 5l6 4l6 1l7 2l6 0l6-2l6 1l6 4l6-2l6-3l6-5l7 7l6 5l6 3l6-4l6 3l6 2l6 2l6-1l7 3l6-4l6 7l6-3l6 7l6-10l6 17l6-14l7 16l6-13l6 11l6-9l6 17l6-19l6 15l6-15l6 18l7-10l6 16l6-17l6 14l6-10l6 16l6-13l6 13l7-15l6 14l6-7l6 16l6-17l6 18l6-16l6 15l7-13l6 13l6-13l6 16l6-8l6 12l6-17l6 21l7-18l6 15l6-13l6 20l6-18l6 18l6-11l6 13l6-16l7 16l6-13l6 17l6-15l6 12l6-13l6 16l6-15l7 19l6-15l6 19l6-20l6 15" stroke="#E24A33"/>
<path d="M1236 1369l7 2l6 0l6 0l6-2l6 3l6-6l6 4l6 4l7-4l6 5l6-5l6 5l6 0l6-1l6 5l6 2l7-3l6 1l6 3l6 1l6-5l6 1l6 0l6-1l7 4l6-3l6 1l6 0l6 0l6 5l6 2l6-2l6-5l7 5l6 0l6 3l6-7l6 2l6 4l6 2l6 2l7-1l6-1l6 3l6-2l6 2l6 0l6-3l6 2l7-1l6 5l6-3l6 5l6-2l6 2l6 2l6-3l7 1l6 3l6-2l6 6l6-2l6 4l6 0l6 1l6-1l7-1l6 2l6-3l6 7l6-5l6 9l6-4l6 4l7-2l6 0l6 4l6-2l6-1l6 2l6 0l6 3l7-2l6 2l6 4l6 2l6-1l6 2l6 3l6-1l7 0l6 1l6-4l6 5l6-3l6 6l6-4l6 4l6 2l7-3l6 3l6 0l6 0l6 1l6 6l6 5l6-3l7-2l6-3l6 5l6-1l6 5l6-4l6 2l6-3l7 5l6 2l6-4l6 3l6-3l6 4l6 5l6 2l7-2l6 0l6 4l6-3l6 0l6 4l6 5l6 3l6-1l7 0l6 3l6-2l6-1l6 4l6 3l6 3l6 1l7-1l6-2l6 2l6-2l6 4" stroke="#348ABD"/>
<path d="M1236 1360l7-6l6 6l6 2l6 1l6-2l6 5l6-4l6-2l7 4l6 0l6 1l6 0l6 0l6 4l6 1l6-4l7 5l6-2l6-1l6-1l6 5l6-2l6 3l6-1l7 4l6-1l6 0l6-2l6-1l6 0l6 1l6 3l6 2l7-1l6 2l6-2l6 2l6 1l6 2l6 0l6-2l7-1l6 2l6 1l6 0l6 0l6-1l6 3l6-1l7-1l6 4l6 4l6-1l6-2l6 4l6 1l6 4l7-1l6 0l6-1l6 5l6 0l6 2l6 2l6-4l6 7l7-5l6 4l6-2l6-2l6 4l6 6l6 0l6-5l7 9l6 1l6 1l6-4l6 3l6 1l6 4l6 1l7-1l6 4l6 4l6-2l6-1l6 0l6 2l6 1l7 3l6 6l6-5l6 0l6-2l6 7l6-1l6 1l6 1l7-1l6 8l6 0l6 0l6 4l6 3l6-2l6 4l7-6l6 0l6 5l6 4l6 2l6-2l6 2l6 0l7-1l6-3l6 4l6 1l6-3l6 3l6 0l6-4l7 10l6-1l6-5l6-1l6 3l6 2l6-3l6 0l6 0l7-3l6 1l6 6l6-1l6-3l6 1l6-1l6-1l7 1l6 2l6-1l6-2l6-4" stroke="#988ED5"/>
<path d="M1236 1415l7 1l6 1l6-6l6-1l6 3l6 4l6-3l6-1l7 0l6 3l6 0l6-4l6 2l6-5l6 2l6-1l7 4l6-7l6 2l6 0l6 3l6-2l6 1l6 1l7-3l6-1l6 1l6-5l6-2l6 1l6 1l6 7l6-3l7 0l6 2l6-2l6 1l6-3l6 0l6-2l6 3l7 0l6 2l6 1l6 3l6 0l6 0l6-2l6 4l7-1l6 4l6-2l6 0l6 0l6 0l6 0l6 6l7-1l6-2l6 4l6 2l6-1l6 0l6 1l6 3l6-2l7 4l6-5l6 1l6 3l6 2l6-1l6 1l6 3l7 0l6-2l6 9l6 3l6 1l6-4l6 2l6 0l7 5l6-2l6-1l6 9l6-4l6-1l6-1l6 0l7 3l6 0l6 4l6-2l6 5l6 2l6 3l6 0l6-2l7-2l6-3l6 7l6 0l6 1l6-2l6 4l6 0l7 1l6 2l6 0l6 0l6 1l6 2l6 4l6 1l7 2l6-5l6 1l6 3l6 0l6 3l6-1l6-1l7 3l6 5l6-1l6-4l6 2l6 1l6-6l6-2l6 7l7-1l6 0l6 0l6 3l6-1l6 0l6 5l6 0l7-5l6 2l6 3l6 0l6 4" stroke="#777777"/>
<path d="M1236 1348l7 2l6 0l6 1l6 4l6-4l6 3l6 4l6-3l7 0l6-2l6 10l6-8l6 6l6 2l6 1l6 2l7-1l6-1l6 0l6 3l6 1l6 1l6-5l6 5l7 0l6 1l6-4l6 0l6 5l6-2l6 4l6 1l6 2l7-3l6 0l6 2l6 3l6 1l6 1l6 0l6 2l7-1l6 5l6-1l6 1l6-1l6 0l6 4l6 1l7-4l6 3l6 0l6 3l6 1l6-2l6 1l6-1l7 4l6 1l6 3l6-1l6 0l6-2l6 4l6 4l6-2l7 2l6-3l6 2l6 3l6-1l6-1l6 1l6 2l7 3l6 1l6 2l6-3l6-2l6 0l6 1l6 7l7-2l6-3l6 4l6 2l6-1l6 0l6-1l6 3l7 5l6-4l6-1l6-2l6 6l6-1l6 0l6-2l6 0l7 4l6-4l6-1l6 3l6 2l6 0l6 2l6 0l7 4l6-1l6-4l6 3l6-3l6 4l6 0l6 5l7-8l6 11l6-3l6 4l6-2l6 2l6 6l6 0l7 0l6 0l6-1l6 2l6 8l6-3l6 1l6-1l6 4l7 1l6 1l6 5l6 1l6 1l6 7l6-3l6-1l7 9l6 2l6 1l6 3l6-1" stroke="#FBC15E"/>
<path d="M1236 1407l7-1l6 1l6-1l6-3l6 1l6 0l6 1l6 2l7-4l6 5l6-6l6 3l6-2l6-1l6 1l6 2l7 3l6-5l6-2l6-1l6 5l6-2l6 6l6-1l7-1l6-3l6 1l6-2l6-3l6 7l6-4l6-1l6 1l7 0l6-1l6-2l6 0l6 5l6 5l6-6l6-4l7 2l6 4l6 3l6-2l6-3l6 3l6 4l6-3l7-1l6 2l6 1l6 2l6-1l6 5l6-3l6-1l7 5l6 3l6 0l6-3l6 6l6 1l6-5l6 2l6 1l7 3l6 1l6-3l6 4l6 0l6 3l6 2l6 4l7 0l6-2l6-3l6 2l6 2l6 3l6-2l6-2l7 3l6 1l6 0l6 2l6 5l6-2l6 2l6 0l7 1l6 4l6 1l6-7l6-1l6 5l6 4l6-5l6 7l7 1l6-3l6 0l6 2l6 5l6-4l6 4l6-1l7-1l6-1l6 3l6 2l6 3l6-3l6-1l6 2l7 3l6 0l6-1l6 3l6-1l6 0l6 0l6 4l7 0l6-1l6-1l6 0l6-2l6 4l6 2l6 0l6-7l7 2l6-1l6 3l6 1l6 2l6 1l6 2l6-4l7-1l6-1l6-1l6 2l6 1" stroke="#8EBA42"/>
<path d="M1236 1356l7 2l6-1l6 5l6-2l6 2l6 3l6 0l6-2l7-2l6-1l6 2l6 2l6 0l6-3l6 7l6-2l7 1l6-8l6 2l6 4l6 3l6 0l6 2l6 2l7-1l6-3l6 4l6 0l6 5l6-2l6 1l6-2l6-1l7 3l6 1l6-4l6 2l6 1l6 3l6-5l6 1l7 2l6 3l6-1l6 4l6-3l6 3l6 6l6-2l7 2l6-3l6 1l6 3l6-1l6 4l6 1l6-2l7 0l6 1l6 2l6 1l6 4l6 2l6-7l6 0l6 2l7 7l6 1l6 1l6-3l6 2l6-1l6 2l6 0l7 2l6 4l6-1l6-2l6 1l6 5l6-3l6 3l7 1l6 1l6 2l6 3l6-5l6 3l6 6l6-5l7-2l6 3l6 3l6 2l6 4l6-1l6 0l6 0l6 0l7-1l6 1l6 8l6 2l6 4l6 0l6-5l6-3l7 5l6-5l6 8l6-4l6 3l6 4l6-4l6-3l7 2l6 7l6 3l6-2l6 0l6-2l6 2l6-1l7-2l6 3l6 0l6-2l6 1l6 0l6 0l6 2l6-1l7 1l6-2l6-2l6 3l6-1l6 5l6 2l6-8l7 2l6-1l6 4l6 2l6-2" stroke="#FFB5B8"/>
<path d="M1236 1393l7 1l6-4l6 0l6 5l6 2l6-2l6-1l6 1l7 0l6 0l6 6l6 5l6-7l6 6l6-5l6 4l7-1l6 1l6 1l6 3l6-6l6 1l6 2l6-2l7 4l6 1l6 2l6-4l6 3l6-1l6 5l6 4l6 1l7-2l6-4l6-4l6-1l6 5l6 5l6 1l6-3l7-6l6 5l6 3l6-1l6 4l6-1l6 3l6 2l7 2l6-4l6 1l6 0l6-4l6 6l6 0l6 9l7-5l6-2l6 6l6 1l6 0l6 1l6 0l6 4l6 6l7-2l6-3l6 1l6 3l6 4l6-2l6 2l6 3l7 1l6 3l6 0l6 1l6 0l6-2l6 6l6 3l7-4l6 7l6 0l6-5l6 4l6 0l6 8l6-2l7-1l6-1l6 2l6-1l6 5l6 0l6 5l6 0l6 0l7 0l6 4l6 3l6-3l6-4l6 6l6 5l6 4l7 0l6 2l6 2l6-6l6 1l6 5l6 1l6 0l7 2l6 3l6 0l6 3l6 2l6-3l6 3l6-1l7 3l6 1l6 2l6-4l6-2l6 11l6-1l6-1l6-2l7 2l6 5l6-2l6 3l6 2l6 3l6 1l6-2l7 1l6 3l6 2l6-1l6-2" stroke="#E24A33"/>
<path d="M1236 1354l7-3l6 2l6-4l6-2l6 5l6-1l6 7l6 1l7-4l6-2l6-2l6 3l6 1l6 8l6-6l6 1l7 3l6 2l6-4l6 4l6-1l6-1l6 3l6 4l7-2l6-4l6-2l6 4l6 2l6 1l6 0l6 0l6 2l7 0l6 1l6 3l6-1l6 3l6-3l6 0l6-1l7 0l6 1l6-5l6 11l6-1l6 1l6 0l6 0l7 6l6-5l6 5l6 0l6-4l6 1l6 0l6 2l7-1l6 0l6 4l6 2l6-3l6 2l6 2l6-6l6 6l7 0l6 3l6-1l6 3l6-1l6 7l6 0l6-2l7-3l6 3l6 1l6-2l6 5l6-1l6-1l6 0l7 2l6 3l6-5l6 3l6 7l6-6l6 0l6-4l7 2l6 4l6 4l6 4l6-2l6-1l6 0l6-4l6 2l7 3l6 1l6-2l6 2l6 4l6-1l6-1l6-3l7 3l6 2l6 1l6 2l6-4l6-2l6 4l6 2l7 3l6 1l6 4l6-2l6-1l6 5l6-2l6 6l7 2l6-4l6 4l6 2l6 5l6 1l6 3l6-2l6-1l7 4l6 1l6 1l6 2l6 1l6 3l6 4l6 0l7 0l6 1l6 4l6 2l6 4" stroke="#348ABD"/>
<path d="M1236 1376l7 0l6 0l6 0l6-1l6 1l6-9l6 8l6 0l7 1l6 2l6-3l6 2l6 1l6 2l6 3l6 0l7-1l6-4l6 6l6-7l6 2l6-1l6-1l6 5l7 0l6 1l6-2l6-5l6 2l6 4l6-1l6 2l6 0l7-1l6 0l6 2l6 1l6 0l6 2l6-1l6 2l7 1l6 2l6 0l6 4l6 2l6 3l6-4l6 2l7 2l6-2l6 2l6 4l6 2l6-2l6-3l6 2l7 4l6 4l6 3l6-2l6 2l6 3l6 1l6 2l6 2l7-6l6 4l6 5l6 5l6-4l6 3l6-5l6 6l7-2l6 3l6 5l6 2l6-1l6 5l6 2l6-3l7-2l6 3l6 0l6 1l6 7l6-4l6 6l6-2l7 6l6-6l6 7l6-5l6 12l6-8l6 9l6-11l6 6l7-2l6 10l6-5l6 5l6-8l6 11l6-2l6 9l7-5l6 7l6-9l6 9l6-6l6 13l6-6l6 6l7-9l6 7l6-5l6 6l6-7l6 5l6-5l6 11l7-5l6 3l6-5l6 6l6-7l6 8l6-8l6 6l6-1l7 9l6-6l6 3l6-5l6 5l6-5l6 9l6-10l7 5l6-5l6 8l6-9l6 8" stroke="#988ED5"/>
<path d="M1236 1412l7-2l6-4l6 3l6 3l6-5l6-1l6 1l6-4l7 7l6-2l6-6l6 5l6-3l6-4l6 1l6 6l7-6l6 1l6 3l6-3l6 3l6-3l6 4l6 0l7-3l6-1l6 2l6-9l6 4l6 6l6-7l6 3l6-2l7 0l6-1l6 1l6 1l6 0l6-2l6 8l6 0l7-2l6 5l6-5l6 2l6-2l6-1l6 9l6 0l7 2l6-3l6 5l6-4l6 5l6-4l6 8l6-2l7-2l6 8l6-3l6-3l6 7l6 2l6 2l6 3l6 0l7 1l6 0l6 9l6-6l6 2l6-1l6 1l6 6l7 0l6 0l6 4l6 7l6-6l6-3l6 0l6 5l7 0l6 3l6-1l6 4l6 2l6 2l6-1l6 0l7 2l6-2l6 3l6 0l6 4l6-4l6 5l6 0l6 3l7-1l6 4l6-2l6 1l6-3l6 4l6-1l6 7l7 1l6-2l6 8l6-3l6-2l6 1l6 3l6 5l7 0l6-1l6 2l6 1l6 2l6-2l6 3l6 1l7-5l6 8l6 3l6-1l6-5l6 4l6 5l6 5l6 1l7-3l6 3l6 3l6 1l6 0l6 7l6-4l6 4l7 2l6-2l6 1l6 7l6 3" stroke="#777777"/>
<path d="M1236 1423l7 1l6 1l6 0l6-1l6-4l6 9l6-1l6-5l7 5l6 3l6-5l6 0l6-4l6 6l6-2l6-2l7-3l6 2l6 3l6 1l6-2l6 2l6 1l6 1l7-5l6-3l6 3l6 4l6 2l6-4l6 4l6-5l6 4l7-2l6 1l6-1l6 3l6-4l6-3l6 4l6 0l7 0l6-2l6-1l6 3l6 0l6 1l6 3l6-4l7 4l6 1l6-1l6 0l6 2l6 5l6 0l6 0l7 1l6 2l6-4l6 4l6 3l6 2l6 5l6-1l6-4l7-3l6 7l6 3l6-3l6 3l6 4l6 0l6 1l7 3l6 1l6-3l6 4l6 2l6 3l6 0l6 0l7 3l6-2l6 4l6-4l6 6l6-5l6 9l6-4l7 8l6-8l6 13l6-13l6 14l6-12l6 11l6-9l6 16l7-7l6 13l6-14l6 17l6-10l6 8l6-11l6 18l7-12l6 5l6-9l6 15l6-12l6 15l6-8l6 14l7-10l6 13l6-12l6 13l6-8l6 10l6-9l6 14l7-12l6 11l6-9l6 13l6-15l6 18l6-11l6 16l6-9l7 14l6-16l6 15l6-13l6 14l6-7l6 12l6-12l7 13l6-11l6 16l6-14l6 12" stroke="#FBC15E"/>
<path d="M1236 1377l7 0l6 3l6-3l6-3l6 3l6 3l6-1l6-4l7 1l6-3l6 4l6 4l6-2l6-3l6 3l6-1l7-2l6 1l6-3l6 2l6 4l6-3l6 1l6-3l7 1l6 0l6 6l6-4l6 4l6-4l6-4l6 5l6 1l7 0l6-4l6-1l6 4l6 0l6 5l6 2l6 4l7-4l6-1l6 1l6-3l6 5l6 0l6 1l6 6l7 1l6 0l6 1l6 0l6 1l6 5l6-5l6 5l7-6l6 5l6 3l6 2l6 4l6-1l6 0l6 2l6 0l7-2l6-3l6 5l6 3l6 1l6 2l6 1l6 5l7-1l6 2l6 1l6-2l6 1l6 4l6-2l6-2l7 4l6-4l6 6l6 1l6 0l6 4l6-2l6-2l7 2l6 1l6 3l6 0l6 0l6 1l6 2l6 0l6 4l7-3l6 4l6-5l6 3l6 2l6 1l6 1l6 1l7 1l6-4l6 2l6 2l6 0l6 4l6 0l6 2l7-1l6 1l6-3l6 3l6 0l6 4l6 1l6-5l7 6l6 0l6 2l6 2l6-3l6-2l6 3l6 2l6-1l7-1l6-2l6 0l6 6l6 5l6 1l6-1l6-3l7 2l6 3l6-1l6 3l6 3" stroke="#8EBA42"/>
<path d="M1236 1415l7-1l6 5l6-4l6-1l6 1l6 0l6-1l6-2l7 0l6-4l6 1l6 2l6 0l6 1l6-2l6-1l7 1l6 1l6-2l6-7l6 4l6-3l6-2l6 0l7 3l6 1l6 1l6 1l6-9l6 3l6-1l6 1l6 0l7 0l6-2l6 4l6-3l6 0l6-3l6 10l6-4l7 2l6-2l6 1l6-2l6 5l6 1l6 0l6-1l7 0l6 6l6 2l6-6l6 0l6 3l6-1l6 3l7 4l6 1l6 0l6 2l6 1l6-2l6 4l6-1l6 4l7-2l6 1l6 1l6 1l6 2l6 2l6 3l6-4l7 0l6-2l6 8l6-3l6 2l6-1l6 4l6 0l7 4l6-3l6-3l6 9l6-1l6 2l6-2l6-1l7 1l6 5l6 6l6-8l6 11l6-11l6 10l6-8l6 10l7-10l6 17l6-18l6 16l6-16l6 16l6-11l6 13l7-13l6 13l6-12l6 9l6-5l6 12l6-10l6 12l7-9l6 15l6-12l6 14l6-10l6 19l6-17l6 13l7-11l6 19l6-10l6 17l6-13l6 9l6-10l6 11l6-8l7 15l6-14l6 20l6-12l6 15l6-13l6 17l6-13l7 15l6-6l6 16l6-16l6 15" stroke="#FFB5B8"/>
<path d="M1236 1385l7-2l6 0l6 1l6 4l6-3l6 1l6 0l6 1l7 1l6 2l6-3l6-1l6 4l6 0l6 2l6-3l7-3l6 4l6 1l6 0l6-3l6 4l6 3l6-2l7 2l6 1l6-5l6 5l6-3l6 5l6-4l6 0l6 5l7-1l6-2l6-4l6 7l6 4l6-3l6 0l6 2l7-2l6 3l6-3l6 0l6 7l6-4l6 6l6-3l7 1l6 2l6-2l6 7l6 0l6 4l6-2l6 0l7 3l6 3l6 1l6 3l6-3l6 2l6 1l6-3l6 5l7 4l6 2l6-4l6 8l6 1l6-3l6 5l6 1l7-3l6 3l6 1l6-2l6 6l6-2l6 7l6-10l7 12l6-5l6 8l6-4l6 1l6-6l6 17l6-10l7 14l6-13l6 9l6-6l6 11l6-6l6 9l6-4l6 9l7-8l6 16l6-8l6 8l6-11l6 12l6-6l6 9l7-9l6 8l6-4l6 4l6-1l6 8l6-4l6 7l7-8l6 7l6-5l6 4l6-5l6 9l6 0l6 4l7-14l6 4l6 2l6 11l6-10l6 8l6-3l6 7l6-10l7 14l6-12l6 8l6-9l6 6l6-10l6 15l6-11l7 10l6-7l6 8l6-10l6 8" stroke="#E24A33"/>
<path d="M1236 1361l7 0l6 1l6 1l6 6l6-3l6 4l6-3l6 5l7-7l6 9l6-1l6 4l6-2l6-4l6 5l6 2l7-4l6 5l6-1l6 2l6 1l6-2l6 0l6 1l7 3l6 1l6-1l6-4l6 8l6-2l6-2l6 0l6 2l7 5l6-2l6 1l6 0l6 2l6-5l6-1l6 7l7 0l6-4l6 4l6-3l6 1l6 1l6 6l6-3l7 0l6 1l6-2l6 0l6 0l6 2l6 2l6 3l7-2l6 2l6-1l6 0l6 1l6 0l6 4l6 4l6 1l7-2l6-1l6 1l6-2l6 5l6 0l6 3l6 0l7-1l6 1l6 2l6-1l6-3l6 5l6-1l6 1l7-1l6 6l6-9l6 11l6-2l6-2l6 6l6-2l7 1l6-5l6 11l6-10l6 9l6-15l6 16l6-13l6 17l7-13l6 18l6-18l6 19l6-20l6 21l6-13l6 13l7-15l6 19l6-16l6 14l6-17l6 19l6-11l6 12l7-8l6 11l6-11l6 14l6-15l6 17l6-13l6 16l7-12l6 16l6-9l6 14l6-12l6 19l6-18l6 23l6-12l7 15l6-10l6 13l6-16l6 16l6-15l6 26l6-14l7 19l6-15l6 17l6-14l6 15" stroke="#348ABD"/>
<path d="M1236 1380l7-4l6 3l6 0l6-4l6 3l6 1l6-2l6 4l7-2l6-4l6 7l6 1l6-4l6-1l6 0l6 4l7-5l6-2l6 8l6-3l6-3l6-3l6 4l6-5l7 6l6-3l6 5l6-1l6 2l6-7l6 5l6-2l6 5l7 2l6-3l6-1l6-1l6 4l6-1l6-4l6 1l7 0l6 3l6 1l6 4l6-5l6 5l6-2l6-2l7 3l6 1l6 2l6 1l6-1l6 6l6-5l6 3l7-2l6 4l6-2l6 0l6-1l6 3l6 3l6 4l6-7l7-2l6 9l6 0l6-1l6 0l6 3l6 3l6 0l7 0l6 0l6-4l6 6l6-3l6 2l6 2l6-3l7 1l6-3l6 6l6-3l6 1l6-4l6-1l6 2l7 0l6 1l6 1l6-1l6 3l6 1l6 3l6-2l6-3l7 3l6 2l6-3l6-2l6-2l6 2l6 0l6 1l7 1l6-2l6 2l6 0l6 1l6-6l6 5l6 0l7 3l6-1l6 2l6-1l6 4l6-2l6 1l6 6l7-4l6 3l6 0l6 2l6 3l6-1l6 1l6-3l6-2l7 10l6-1l6 0l6 3l6 1l6-1l6 1l6 3l7 5l6-3l6 3l6 5l6-3" stroke="#988ED5"/>
<path d="M1236 1348l7-3l6 2l6 0l6 0l6 4l6-5l6 3l6 4l7-2l6 2l6 0l6 1l6-1l6-5l6 6l6-4l7 2l6 0l6-2l6 7l6-4l6 2l6 1l6-1l7 5l6-6l6 3l6-2l6 0l6 3l6 2l6-1l6 2l7 3l6-4l6 1l6-3l6 4l6 2l6 1l6 1l7-3l6 4l6 0l6 3l6 2l6-2l6-1l6 4l7 1l6-2l6 5l6 0l6-5l6 2l6 5l6 0l7-1l6 1l6 6l6-3l6 2l6 2l6-1l6 1l6 2l7-1l6 1l6 7l6-3l6-3l6 4l6 6l6 0l7-1l6 2l6 4l6-1l6-3l6 1l6 1l6 0l7 0l6 1l6 1l6-1l6 4l6 3l6-3l6-4l7 2l6 3l6 1l6 2l6-2l6-3l6 1l6 0l6 3l7 2l6 4l6-5l6 4l6-3l6 5l6 2l6 2l7-3l6 2l6-2l6 2l6 2l6-2l6 1l6 2l7 0l6-3l6 5l6 2l6-2l6 0l6 0l6 4l7 2l6-3l6 5l6-1l6 3l6 0l6-1l6 2l6 1l7 2l6-2l6 6l6 0l6-1l6 1l6 3l6 0l7 1l6-5l6 1l6 10l6 2" stroke="#777777"/>
<path d="M1236 1384l7-1l6 5l6-5l6 1l6 2l6 2l6 1l6 3l7-2l6-2l6 2l6 3l6-6l6 0l6 4l6 0l7-2l6 3l6 0l6 2l6-2l6-2l6 1l6 3l7-4l6 2l6 2l6 1l6 3l6-3l6 4l6 0l6-2l7 1l6 2l6 1l6-3l6 0l6 3l6 1l6-2l7 0l6 5l6-2l6-4l6-2l6 2l6 1l6 4l7 0l6 0l6 2l6 0l6 1l6 4l6-3l6-1l7-1l6 5l6-2l6 6l6 2l6-1l6-2l6 4l6-4l7 4l6-1l6 4l6-1l6 3l6 1l6-3l6 4l7 2l6-5l6 2l6 5l6 0l6 1l6 1l6-3l7-2l6 1l6 5l6 3l6 0l6 3l6-5l6 8l7-3l6 6l6-3l6 4l6-1l6 3l6-1l6 1l6 0l7 0l6 3l6 5l6 0l6 3l6-2l6 0l6 5l7-6l6 3l6 3l6 3l6 2l6-3l6 2l6-3l7 4l6 4l6 1l6 1l6 5l6-2l6 6l6 2l7 0l6 4l6 1l6 5l6 0l6 1l6 4l6 5l6 1l7-2l6 0l6 0l6 5l6 9l6-1l6 2l6 2l7 0l6 2l6 5l6 2l6 6" stroke="#FBC15E"/>
<path d="M1236 1341l7-2l6 1l6 4l6 4l6 0l6 6l6-8l6 5l7-3l6 1l6 1l6 5l6 1l6 0l6 3l6-2l7 0l6 2l6-1l6 1l6-4l6 4l6-1l6 5l7-4l6 2l6 3l6 0l6 2l6 2l6-3l6 0l6 6l7 0l6-5l6 0l6-1l6 7l6-4l6 2l6 5l7-3l6 3l6 0l6 3l6 2l6-4l6 5l6-1l7-3l6 4l6-1l6 6l6-2l6 0l6 6l6 1l7 3l6-3l6 1l6 2l6 2l6-5l6 6l6-2l6-1l7 5l6 4l6-1l6 2l6-5l6 2l6 5l6-3l7 2l6 6l6 0l6 4l6 0l6-3l6 4l6 0l7 6l6-7l6 12l6-11l6 15l6-15l6 9l6-5l7 19l6-13l6 16l6-14l6 15l6-9l6 10l6-17l6 18l7-8l6 15l6-10l6 11l6-12l6 13l6-9l6 15l7-5l6 9l6-10l6 11l6-9l6 14l6-8l6 10l7-7l6 10l6-11l6 10l6-9l6 11l6-6l6 15l7-16l6 15l6-9l6 13l6-9l6 14l6-13l6 10l6-9l7 11l6-13l6 18l6-12l6 14l6-20l6 17l6-11l7 16l6-13l6 15l6-8l6 12" stroke="#8EBA42"/>
<path d="M1236 1376l7-4l6-1l6-2l6-1l6 1l6-1l6-1l6 2l7 1l6 1l6-2l6 0l6 1l6 1l6-6l6 5l7-3l6 5l6-5l6-1l6 2l6 3l6-5l6 0l7 7l6-4l6-2l6-5l6 1l6 0l6 1l6-1l6-3l7 3l6 4l6-4l6 5l6-1l6 2l6 1l6 1l7 3l6-3l6-1l6 1l6 4l6 4l6 1l6 2l7 2l6 2l6 0l6 0l6 2l6-1l6 4l6-1l7 8l6-2l6 3l6-1l6 2l6 6l6 2l6-5l6 5l7 2l6 3l6 0l6-1l6 2l6 1l6 4l6-1l7 2l6 2l6 2l6 1l6 1l6-3l6 5l6-1l7-1l6 4l6 0l6 0l6 2l6-4l6 5l6 1l7 3l6 1l6 1l6 0l6 1l6-1l6 0l6 0l6 3l7 0l6 2l6 0l6 6l6-1l6-1l6 6l6-1l7-1l6-3l6 5l6 3l6-2l6 0l6-2l6 4l7 0l6 3l6-1l6 0l6 1l6 1l6 0l6 1l7 3l6-3l6 3l6-7l6-7l6 9l6 2l6-3l6-2l7 4l6-3l6 4l6 6l6-5l6-3l6-2l6 2l7 2l6-4l6 2l6-3l6 6" stroke="#FFB5B8"/>
<path d="M1236 1368l7 2l6-3l6-1l6-1l6 0l6-1l6 4l6 0l7-1l6 3l6-4l6 5l6-2l6 2l6 5l6-4l7 3l6-5l6 1l6 3l6-4l6 1l6 4l6-1l7-4l6 1l6-1l6 3l6 2l6 4l6-2l6 1l6-3l7 0l6 0l6 0l6 5l6 0l6 5l6-2l6-1l7 1l6-2l6-4l6 4l6 0l6 5l6 0l6 0l7 0l6-3l6 2l6 4l6 0l6 2l6 1l6 0l7-1l6-1l6 0l6 5l6 1l6-3l6 1l6 8l6 0l7-2l6-2l6 2l6 5l6 2l6-2l6 2l6-3l7 5l6 5l6-3l6 1l6-6l6 4l6 6l6-4l7 2l6 1l6-1l6-2l6 2l6 2l6 1l6-1l7 1l6 0l6-5l6 6l6 1l6 5l6-5l6 0l6-3l7 2l6 4l6 3l6-3l6 0l6-4l6 3l6 1l7-2l6 2l6 1l6 4l6-3l6 0l6 1l6-2l7 2l6-1l6 0l6 2l6 1l6 2l6 2l6-2l7-1l6-1l6 1l6-1l6 1l6-1l6 1l6-3l6 1l7-5l6 8l6-2l6-1l6 5l6-3l6-2l6 1l7 4l6-1l6 0l6-1l6-3" stroke="#E24A33"/>
<path d="M1236 1378l7-2l6 3l6-6l6 0l6-2l6 1l6-1l6 6l7 1l6-1l6 0l6-1l6 3l6 1l6 2l6-5l7-3l6-3l6 1l6-1l6 2l6 4l6-4l6 6l7 2l6-1l6-3l6 2l6-2l6 3l6-7l6 5l6-2l7 1l6 3l6-2l6 4l6 0l6-3l6 4l6 2l7-2l6 0l6 3l6 1l6 0l6 2l6 0l6 1l7-2l6-2l6 4l6 5l6-1l6 4l6-5l6 3l7 1l6 5l6 2l6 0l6-4l6 3l6 3l6 2l6 3l7-4l6 5l6-1l6 2l6 2l6-2l6 3l6 0l7-1l6-1l6 8l6 1l6 0l6 1l6-3l6 5l7 3l6 2l6 0l6-3l6 1l6 1l6 1l6-3l7 1l6 6l6-2l6-2l6 2l6 3l6-2l6 4l6 2l7 2l6 1l6 0l6-1l6 0l6 2l6 5l6 2l7-4l6 4l6-1l6-3l6 2l6-1l6 1l6 2l7 3l6-6l6 0l6 0l6 6l6 4l6-1l6-5l7 2l6 4l6-4l6 1l6 0l6 2l6-4l6-2l6 4l7-3l6-3l6 3l6 2l6-4l6 0l6 6l6-6l7 4l6 3l6-5l6 0l6-3" stroke="#348ABD"/>
<path d="M1236 1369l7-2l6 0l6 7l6-1l6-1l6-1l6-4l6 4l7-1l6 1l6 1l6 0l6 4l6-4l6 5l6 2l7 1l6-1l6 1l6-2l6-2l6 1l6 2l6-6l7 3l6-3l6 8l6 3l6-6l6 5l6-5l6 3l6-1l7 3l6 1l6-3l6 3l6-1l6-1l6 2l6-1l7-3l6 10l6-5l6 5l6-5l6 5l6-2l6 1l7 2l6 3l6-1l6-1l6-2l6 6l6-2l6-1l7 0l6 5l6 0l6 1l6 0l6 2l6-1l6 0l6 4l7-1l6 2l6 6l6-2l6 0l6 0l6 2l6-2l7 4l6 0l6 0l6 1l6 4l6-1l6 2l6 0l7 1l6 1l6-2l6 1l6 3l6 0l6 2l6 4l7 1l6 0l6 6l6-7l6 7l6-2l6 7l6-7l6 9l7-10l6 15l6-10l6 11l6-9l6 7l6-4l6 9l7-9l6 13l6-4l6 4l6-4l6 10l6-7l6 9l7-11l6 13l6-10l6 10l6-8l6 9l6-10l6 10l7-12l6 14l6-6l6 8l6-9l6 12l6-4l6 5l6-8l7 11l6-5l6 6l6-10l6 10l6-4l6 5l6-5l7 9l6-7l6 9l6-12l6 12" stroke="#988ED5"/>
<path d="M1236 1374l7-2l6 2l6 1l6 1l6 0l6 1l6 1l6 0l7-2l6 2l6 1l6-2l6 4l6 0l6 2l6-7l7 2l6 5l6-1l6-4l6 0l6 1l6-2l6-1l7-1l6 1l6 0l6 3l6 2l6-2l6 6l6 2l6-7l7-3l6 5l6-4l6 0l6 4l6 2l6 3l6-2l7-4l6 4l6 2l6 1l6 1l6 0l6-1l6-1l7 4l6 2l6 1l6 1l6 0l6-1l6-1l6 1l7 5l6-2l6-1l6 5l6 3l6-1l6 0l6 4l6 2l7-1l6-4l6 5l6-1l6-2l6 4l6 5l6-2l7 4l6-5l6-1l6 6l6 2l6 0l6 2l6-4l7 4l6-2l6 3l6 1l6 4l6-3l6-3l6 6l7 4l6-2l6 4l6 2l6 0l6-1l6 2l6-2l6-3l7 6l6 4l6-1l6-4l6 4l6 0l6 3l6 5l7-6l6-1l6 2l6 2l6 0l6 1l6-1l6 7l7-3l6 2l6 0l6 1l6-3l6 5l6-2l6 2l7 1l6 4l6 0l6 1l6 2l6 0l6-2l6-4l6 6l7 5l6 0l6-2l6 2l6-4l6 6l6 4l6-2l7 5l6-5l6-3l6 5l6 4" stroke="#777777"/>
<path d="M1236 1381l7-3l6 2l6-1l6-4l6 5l6-1l6 1l6 0l7-1l6 3l6-1l6-4l6 1l6 4l6-2l6 2l7 1l6-2l6 4l6 0l6-1l6 0l6 0l6 1l7 0l6-2l6 1l6 3l6 0l6-1l6 4l6-4l6-2l7 2l6 3l6 3l6 0l6 0l6-1l6-3l6 0l7 4l6 7l6-3l6 1l6-3l6 2l6 4l6-2l7 7l6 3l6-3l6 5l6-3l6 2l6 2l6-4l7 3l6 1l6 5l6 0l6 3l6 6l6-3l6 3l6 5l7 2l6-4l6-1l6 4l6 5l6 1l6-3l6 4l7 5l6-1l6-2l6 6l6-1l6-4l6-2l6 3l7 5l6-1l6-3l6 0l6 6l6 2l6-3l6 6l7-4l6 2l6 3l6-6l6 1l6 3l6-1l6 5l6 0l7 3l6-5l6 4l6-2l6 0l6 2l6 5l6-6l7 6l6-3l6-1l6-2l6 11l6-3l6 1l6-2l7-1l6 0l6-1l6 1l6 7l6-4l6 0l6 2l7-2l6 4l6-1l6 0l6 1l6-2l6 0l6 0l6 0l7-1l6 5l6-4l6 1l6-2l6 1l6 1l6-4l7 4l6-3l6-2l6 1l6 3" stroke="#FBC15E"/>
<path d="M1236 1357l7 3l6-2l6 0l6 2l6-4l6 4l6 1l6-3l7-3l6 3l6-1l6 4l6-1l6-2l6 3l6-3l7 4l6 1l6 0l6 0l6 2l6 3l6 1l6-3l7-3l6-2l6 6l6 1l6-1l6-2l6 0l6 1l6 2l7 4l6 0l6-3l6 4l6-2l6 7l6 1l6-4l7-2l6 5l6 2l6-2l6 5l6 1l6-3l6 2l7 0l6 4l6 1l6-5l6 3l6 2l6 6l6 0l7 2l6 1l6 3l6 0l6-1l6 2l6 1l6 1l6 0l7 3l6-1l6-3l6 6l6-2l6 2l6 3l6 2l7 0l6-3l6 3l6 2l6-2l6 2l6 2l6 2l7 3l6-3l6 3l6 1l6 0l6 3l6-3l6-1l7 0l6 3l6-1l6-1l6 7l6-1l6 3l6-5l6 1l7 0l6 1l6-5l6 4l6 4l6 7l6-9l6 5l7 1l6-2l6 0l6 7l6-1l6 2l6 3l6-5l7 5l6 0l6 2l6 1l6-1l6 0l6 3l6-1l7-2l6 8l6 3l6-2l6 5l6-3l6-2l6 7l6 1l7 2l6 1l6 1l6-4l6 5l6 1l6 1l6 1l7-1l6-4l6 7l6 2l6-1" stroke="#8EBA42"/>
<path d="M1236 1380l7 3l6-4l6 3l6 0l6 0l6-3l6-1l6 3l7 2l6-3l6 5l6-1l6 1l6 3l6 5l6-4l7-2l6 0l6 0l6 2l6 3l6-5l6-1l6 5l7 1l6-2l6 0l6 4l6 5l6-7l6 4l6-3l6 0l7 7l6-5l6 0l6-2l6 7l6 0l6-3l6 0l7-2l6 2l6 4l6-3l6-1l6 4l6 3l6 0l7 1l6-1l6 2l6-1l6-3l6-1l6 6l6-1l7 0l6 0l6 2l6-1l6 5l6 0l6 2l6 2l6 5l7-5l6 3l6 1l6 2l6-3l6 2l6-1l6-1l7 0l6 6l6-1l6 0l6 5l6-4l6 1l6 4l7 1l6 1l6 1l6-1l6 3l6-1l6 3l6-6l7 9l6-6l6 9l6-5l6 8l6-5l6 2l6 1l6 4l7-1l6-1l6-5l6 9l6-7l6 14l6-7l6 3l7-3l6 11l6-9l6 1l6 3l6 3l6-5l6 3l7 0l6 5l6 5l6-3l6 0l6 1l6-3l6 9l7-8l6 8l6-7l6 12l6-7l6 4l6-8l6 6l6-2l7 7l6-3l6 10l6-7l6 7l6-5l6 6l6-6l7 5l6-1l6 10l6-9l6 9" stroke="#FFB5B8"/>
<path d="M1236 1401l7-5l6 5l6-2l6 2l6 0l6-1l6 3l6 1l7 0l6 2l6-8l6 9l6-4l6 5l6-6l6 7l7-7l6 0l6 5l6 0l6-2l6 0l6 2l6 3l7-3l6 2l6-2l6 3l6 2l6-1l6 5l6-3l6-1l7 1l6-3l6 4l6 2l6-4l6-3l6 6l6-3l7-1l6 4l6-4l6 3l6-5l6 6l6 0l6 2l7 0l6 1l6 2l6-3l6-1l6 0l6 7l6 0l7-3l6-3l6 7l6-8l6 8l6 1l6-2l6 0l6 5l7-2l6 0l6-1l6 4l6 0l6 2l6-5l6 2l7 7l6-7l6 6l6-4l6 5l6-6l6 9l6-8l7 12l6-13l6 18l6-15l6 15l6-6l6 4l6-16l7 15l6-6l6 10l6-12l6 15l6-11l6 12l6-8l6 13l7-13l6 14l6-14l6 9l6-8l6 17l6-16l6 9l7-12l6 11l6-8l6 13l6-8l6 14l6-17l6 14l7-14l6 13l6-12l6 16l6-9l6 13l6-15l6 13l7-12l6 14l6-15l6 16l6-11l6 18l6-15l6 13l6-8l7 7l6-11l6 14l6-9l6 15l6-12l6 11l6-12l7 12l6-5l6 9l6-14l6 14" stroke="#E24A33"/>
<path d="M1236 1352l7-1l6 2l6-2l6 4l6-7l6 10l6-4l6 0l7 4l6 0l6-2l6 7l6-4l6-1l6 0l6 1l7 1l6-3l6 3l6 1l6 4l6-1l6-2l6 5l7 0l6 0l6-2l6 1l6 0l6 2l6-1l6 4l6-1l7 1l6-1l6 1l6 0l6 5l6 2l6-4l6 0l7 3l6 0l6-2l6 3l6 3l6-6l6 4l6 3l7-1l6-1l6 1l6 0l6 3l6-1l6-1l6 4l7 0l6 2l6-1l6 2l6-3l6 3l6-2l6 1l6 5l7-1l6-1l6 4l6-1l6 0l6 0l6 0l6 4l7-2l6 2l6 1l6-3l6 3l6 1l6-2l6 1l7 4l6 1l6-5l6 2l6 3l6-3l6 4l6 2l7-4l6 0l6 2l6 2l6-3l6 3l6 0l6 0l6 3l7-3l6 1l6 3l6-3l6 1l6 7l6-9l6 7l7 2l6-2l6-2l6 1l6 4l6-7l6 4l6 2l7-2l6 0l6-1l6 3l6 3l6-2l6 0l6-1l7-2l6 3l6 1l6-1l6 3l6-1l6-1l6-2l6 3l7-2l6 3l6 0l6-1l6-3l6 6l6 0l6 0l7-1l6 1l6 3l6-2l6-4" stroke="#348ABD"/>
<path d="M1236 1349l7-8l6 8l6-3l6-3l6-3l6 6l6 2l6 0l7 2l6 1l6-4l6-1l6 3l6 6l6-3l6-7l7 3l6 4l6 2l6 3l6-2l6-2l6-5l6 4l7 2l6-1l6 0l6 1l6 0l6 0l6 0l6-2l6 6l7-2l6 2l6-3l6 0l6 4l6 2l6 1l6-6l7 1l6 9l6 0l6-3l6 3l6 7l6-2l6 0l7-2l6 4l6-2l6-3l6 6l6 5l6 0l6-1l7-1l6 0l6-2l6 8l6 0l6 3l6 1l6-5l6-2l7 8l6 3l6-2l6 1l6 4l6 2l6-3l6 2l7 4l6-4l6 1l6 1l6 1l6-5l6 1l6 3l7-2l6 6l6 2l6 3l6-4l6-3l6 4l6-1l7-1l6-2l6 0l6 5l6-1l6 2l6 1l6-2l6 0l7-1l6 6l6-3l6 0l6 3l6 2l6 2l6-2l7 1l6-2l6-2l6 1l6-2l6 5l6-1l6 2l7-4l6-3l6 6l6-1l6 4l6-4l6 3l6-3l7-1l6 1l6 4l6-2l6 2l6 1l6 6l6-5l6 2l7-3l6 2l6 2l6 1l6-1l6-2l6 2l6 1l7 0l6 1l6 0l6-4l6 3" stroke="#988ED5"/>
<path d="M1236 1420l7 3l6-2l6 0l6-3l6-1l6 4l6 4l6-3l7-4l6 1l6 2l6-2l6 5l6-4l6 0l6 0l7 4l6-4l6-3l6 1l6 3l6 1l6 1l6-1l7-1l6 0l6 1l6-1l6 1l6 0l6-4l6 0l6-1l7 1l6 3l6-1l6-1l6 2l6 4l6-6l6-2l7-4l6 2l6 1l6 2l6-2l6 3l6-2l6-2l7-1l6 3l6 4l6-2l6-3l6-1l6 3l6 4l7-2l6-1l6 3l6 1l6-1l6 6l6-1l6-7l6 4l7-1l6 3l6 1l6-2l6 2l6 3l6 0l6-1l7 1l6-3l6 3l6-3l6 2l6 1l6 4l6 0l7-1l6 2l6-1l6 0l6-3l6 1l6 4l6 0l7-2l6 0l6 2l6-2l6-2l6 5l6 0l6-3l6 0l7 6l6 0l6 1l6-1l6 1l6-2l6 2l6 1l7-2l6-3l6 0l6 0l6-3l6 1l6 5l6 1l7 2l6 2l6 1l6-3l6 0l6 4l6-7l6 2l7 5l6 1l6 0l6 1l6 1l6-4l6 4l6 0l6 0l7 7l6-1l6-4l6 6l6-4l6 0l6 4l6-4l7 5l6 1l6 2l6 1l6-5" stroke="#777777"/>
<path d="M1236 1372l7 1l6 7l6-6l6 1l6 0l6 1l6 6l6-6l7 2l6 0l6 3l6 4l6 0l6-2l6 3l6 3l7 0l6-1l6 1l6-7l6 3l6 0l6 5l6-3l7 2l6 2l6 4l6 0l6 0l6 1l6-5l6 1l6 0l7 0l6 5l6-3l6-5l6 6l6-2l6 1l6 0l7 0l6 1l6 0l6-1l6-3l6 6l6-4l6 7l7-5l6 2l6 5l6-2l6-1l6-1l6 3l6-1l7 1l6-1l6 2l6-2l6-2l6 4l6-2l6 2l6-1l7 3l6 2l6 3l6-3l6 2l6 1l6-1l6-1l7 0l6 0l6-1l6 5l6 2l6-1l6-3l6 8l7 0l6-1l6 2l6-3l6 1l6 4l6 4l6-1l7 3l6 2l6-3l6 3l6-1l6 0l6 4l6 4l6 2l7 0l6-3l6 3l6-6l6 0l6 6l6 6l6 0l7 0l6 1l6-3l6 2l6 1l6 5l6-5l6-2l7 5l6 0l6-1l6 4l6-3l6 0l6 3l6-6l7 3l6-3l6 7l6-3l6 1l6 2l6 0l6-2l6 2l7 5l6-3l6-1l6 0l6 3l6 0l6-2l6 0l7-1l6 0l6 2l6 2l6 0" stroke="#FBC15E"/>
<path d="M1236 1358l7 3l6 1l6-5l6 2l6-1l6 1l6 2l6-1l7-7l6 6l6-6l6 4l6 2l6 3l6 0l6 1l7 0l6-4l6 4l6-1l6-4l6-2l6 3l6 3l7 4l6 1l6 0l6 3l6-1l6 0l6 2l6-4l6-2l7 2l6 3l6 2l6-5l6 3l6 0l6 4l6-1l7 1l6-1l6 2l6 6l6 2l6 0l6-4l6 6l7 6l6-8l6 4l6 4l6-1l6 1l6 3l6-1l7 0l6 4l6 0l6 2l6-1l6 1l6 0l6 3l6-1l7 0l6 3l6 1l6 1l6 3l6-2l6 3l6 6l7-2l6 8l6-6l6 6l6 1l6-3l6-1l6 1l7-1l6 3l6 6l6-2l6 0l6 1l6 2l6-1l7 1l6-1l6 0l6 5l6-1l6-2l6 5l6 2l6 2l7-1l6 3l6 4l6-6l6-1l6 3l6 1l6 2l7 2l6 0l6 5l6 1l6-3l6 0l6 3l6 2l7 0l6-1l6 0l6 3l6 3l6-4l6 2l6-3l7 2l6 3l6-1l6 5l6 0l6-4l6 6l6 4l6-3l7-3l6-1l6 3l6 5l6-3l6 6l6-3l6 2l7-4l6 4l6 0l6-4l6 4" stroke="#8EBA42"/>
<path d="M1236 1363l7-1l6 1l6 2l6 0l6-1l6 2l6-1l6 6l7 1l6-5l6 6l6-4l6 3l6-1l6 2l6-1l7 2l6 5l6 6l6-8l6-1l6 1l6 0l6 2l7 1l6 0l6 0l6 2l6 0l6-5l6 3l6 0l6 0l7 3l6-2l6 4l6-3l6 2l6 3l6 1l6 2l7 2l6 1l6-4l6 6l6 0l6-3l6 5l6-4l7 0l6 3l6-3l6 2l6 5l6 0l6 0l6 5l7 3l6-5l6 2l6-2l6 3l6 1l6 1l6 3l6 2l7 1l6 1l6 0l6-3l6 5l6-2l6 2l6 4l7 1l6-2l6 4l6 1l6 3l6 3l6-3l6-3l7-1l6 4l6-2l6 0l6 2l6 3l6 1l6 2l7 1l6 1l6-4l6 1l6 7l6-3l6 1l6 3l6 0l7-1l6-5l6 3l6 6l6-1l6 0l6-2l6-1l7 2l6 2l6 0l6 1l6 4l6 2l6 1l6-2l7 2l6 0l6-6l6-1l6 4l6 2l6-7l6-3l7 1l6 4l6 2l6-3l6 2l6-2l6-3l6 3l6 4l7-2l6-4l6-3l6 2l6 0l6-1l6-3l6 0l7-1l6 1l6 1l6-1l6-2" stroke="#FFB5B8"/>
<path d="M1236 1398l7-1l6-4l6 7l6 1l6-11l6 5l6-2l6 2l7 0l6-5l6 4l6 0l6 0l6 0l6 2l6 0l7-1l6 3l6-5l6 1l6 0l6-2l6 3l6-1l7 0l6-4l6 1l6-1l6 3l6-1l6 6l6-7l6-2l7 1l6 1l6 4l6-6l6 6l6-3l6-4l6 3l7 3l6 6l6-5l6 5l6 3l6 0l6-3l6 5l7 0l6 4l6-2l6 2l6-1l6 2l6-3l6 1l7 6l6 3l6-2l6 1l6 4l6 1l6-1l6 1l6 6l7-1l6 3l6-3l6 3l6 2l6 5l6-6l6 0l7 0l6 5l6 3l6 4l6 3l6-3l6 1l6 2l7 4l6 0l6 0l6 6l6 6l6-2l6-5l6 8l7 5l6-4l6 1l6-2l6 5l6-2l6 2l6 2l6 1l7-1l6 7l6 3l6-2l6 4l6 1l6 4l6-3l7 1l6 8l6-6l6 3l6 5l6 0l6 1l6 1l7 0l6 2l6 5l6 7l6-5l6 6l6 1l6 0l7 4l6 0l6 0l6 3l6 7l6-3l6 4l6-1l6 2l7-6l6 6l6 6l6 3l6-3l6 5l6 2l6-2l7 5l6 4l6 0l6 2l6 1" stroke="#E24A33"/>
<path d="M1236 1361l7-1l6 3l6-1l6-3l6-1l6 2l6-3l6 3l7 4l6 2l6-2l6-1l6-3l6 4l6-1l6 3l7-3l6-1l6-3l6 2l6 0l6-2l6 3l6-1l7 2l6-3l6 5l6-5l6 4l6 2l6-7l6 4l6 2l7 0l6 2l6-5l6 5l6 1l6-3l6-2l6 3l7-2l6 2l6 6l6 1l6-1l6-1l6 2l6-3l7 0l6 1l6-3l6 5l6 2l6 0l6 5l6 1l7-1l6-3l6-6l6 6l6 1l6-1l6 1l6 2l6 1l7-2l6 3l6 0l6-2l6 4l6-2l6 5l6-2l7 2l6-2l6 1l6-1l6-1l6 4l6-1l6 3l7 4l6-4l6 0l6 2l6 4l6-2l6 6l6-3l7 0l6 2l6-4l6 4l6 0l6 2l6-2l6 2l6 0l7-3l6 6l6 2l6-2l6-1l6 4l6 1l6 1l7 0l6 2l6-2l6-1l6-4l6 5l6 8l6-2l7 0l6 3l6 0l6-5l6 0l6 8l6-5l6 6l7 1l6-1l6 4l6-2l6-1l6 5l6 3l6 0l6 1l7 5l6-4l6 0l6 1l6 2l6 8l6-2l6-4l7 5l6-3l6 1l6 8l6-2" stroke="#348ABD"/>
<path d="M1236 1353l7 3l6 2l6 3l6-4l6 1l6-1l6 7l6-1l7-1l6 0l6 1l6 0l6-4l6 6l6 0l6 1l7-1l6 6l6-7l6-1l6 2l6 0l6-1l6-1l7 5l6 2l6-3l6 3l6 3l6 0l6-1l6-5l6 4l7-2l6 2l6 1l6 2l6 0l6-1l6 1l6 4l7 3l6-1l6 2l6 2l6 0l6 1l6 1l6 1l7 3l6-4l6 2l6 2l6 2l6 7l6-1l6-1l7-5l6 9l6 5l6-3l6-3l6 3l6 2l6 3l6 3l7 1l6 2l6 3l6 0l6 7l6 0l6-1l6 4l7 0l6-4l6 5l6 0l6 3l6-2l6 7l6-4l7 12l6-13l6 12l6-14l6 21l6-15l6 17l6-12l7 18l6-16l6 9l6-11l6 19l6-13l6 18l6-12l6 15l7-15l6 18l6-11l6 14l6-12l6 16l6-14l6 11l7-12l6 12l6-2l6 11l6-11l6 15l6-9l6 16l7-17l6 15l6-7l6 18l6-12l6 14l6-12l6 17l7-8l6 12l6-14l6 13l6-5l6 13l6-9l6 8l6-11l7 11l6-8l6 14l6-1l6 9l6-11l6 16l6-8l7 14l6-13l6 15l6-9l6 14" stroke="#988ED5"/>
<path d="M1236 1359l7 1l6 3l6-1l6-5l6 6l6-3l6 2l6 2l7 0l6 3l6-5l6-1l6 7l6-1l6 0l6 0l7 1l6-3l6-1l6 7l6 3l6 3l6-3l6-3l7-3l6 5l6 4l6-6l6-3l6 6l6-2l6 1l6 4l7 2l6-2l6-2l6 0l6 5l6-3l6 0l6 5l7 1l6 1l6-3l6 1l6 4l6 0l6-1l6 2l7-1l6 0l6-1l6 2l6 0l6 3l6 3l6-1l7-1l6 2l6 2l6-3l6 3l6 2l6 4l6-1l6 2l7-2l6 3l6 2l6 4l6-2l6-1l6 2l6 1l7 1l6 0l6 1l6 1l6-2l6-6l6 9l6-1l7 2l6 3l6-1l6-4l6 3l6 0l6 2l6-5l7 0l6-1l6 6l6 3l6 2l6-3l6 4l6-3l6-2l7 0l6 1l6 0l6 6l6-5l6 2l6-1l6 2l7-3l6 1l6 7l6-2l6-2l6-1l6 6l6-6l7 1l6 3l6 2l6-2l6 0l6 1l6-2l6 3l7 1l6-2l6-3l6 1l6 5l6-3l6 1l6 2l6-1l7-3l6 2l6 1l6 2l6 4l6-7l6 3l6-2l7 6l6-5l6-3l6-1l6 3" stroke="#777777"/>
<path d="M1236 1405l7 0l6-2l6 3l6 1l6-2l6 3l6 2l6-1l7 1l6 4l6 2l6-3l6 0l6 1l6 4l6-4l7 0l6 5l6 5l6-3l6-5l6 3l6-1l6 5l7 2l6-2l6-1l6 4l6 1l6-3l6 4l6-2l6-1l7 0l6 2l6 2l6 0l6-4l6 2l6 0l6 4l7 2l6-4l6 3l6-2l6 4l6-1l6 0l6 5l7-4l6 4l6 0l6-2l6 0l6 1l6-1l6 2l7 5l6 1l6 2l6 0l6 1l6 3l6-2l6 0l6 5l7 5l6-5l6-1l6 1l6 3l6 1l6 2l6-1l7 0l6-1l6 5l6-1l6 7l6-7l6-1l6 6l7 1l6-1l6 4l6-5l6 8l6-7l6 7l6-4l7 4l6-9l6 10l6-7l6 10l6-6l6 4l6-9l6 14l7-8l6 8l6-5l6 3l6-7l6 11l6-6l6 10l7-7l6 2l6-7l6 10l6-4l6 4l6-6l6 9l7-12l6 15l6-16l6 13l6-6l6 10l6-6l6 6l7-8l6 8l6-9l6 6l6-6l6 5l6-5l6 8l6-6l7 10l6-11l6 8l6-7l6 12l6-14l6 5l6-1l7 9l6-11l6 11l6-12l6 9" stroke="#FBC15E"/>
<path d="M1236 1425l7-1l6 1l6-1l6-4l6 4l6-2l6-3l6-2l7 5l6-2l6 0l6 2l6-2l6 0l6 3l6-2l7 3l6 1l6-1l6-2l6-2l6 3l6-2l6 0l7-2l6 4l6-4l6 6l6-4l6 3l6-1l6-3l6-1l7 2l6 0l6-3l6 6l6-2l6 2l6-4l6 3l7 0l6-1l6-1l6 0l6 4l6 5l6 1l6 2l7-6l6 8l6-4l6 3l6 0l6 0l6 4l6-2l7 4l6 3l6 2l6 0l6 0l6 2l6-2l6-1l6 1l7-1l6 5l6 3l6-3l6-2l6 6l6 2l6 0l7 7l6-2l6 0l6 5l6 0l6 1l6 0l6 2l7 0l6 2l6-2l6 5l6 3l6 4l6-3l6-2l7 2l6 3l6 1l6 5l6 0l6 0l6 1l6 0l6 1l7 3l6 5l6-4l6 2l6 1l6 3l6-1l6 2l7 1l6 5l6-2l6 3l6 2l6 3l6 0l6-6l7 5l6 5l6-1l6-1l6 2l6 1l6 5l6-3l7 3l6-3l6 7l6 4l6-5l6 2l6 4l6-4l6 4l7 0l6 4l6-1l6 1l6 0l6 1l6 0l6 6l7-7l6 2l6 2l6 3l6 2" stroke="#8EBA42"/>
<path d="M1236 1376l7 2l6-2l6 3l6-4l6 4l6-4l6 1l6 6l7-1l6-2l6 0l6-1l6-1l6 0l6 2l6 2l7 1l6-3l6 1l6 0l6 8l6-1l6-3l6 1l7 3l6-2l6-1l6-2l6 2l6 0l6-2l6 5l6-4l7-1l6 0l6 5l6 1l6 2l6-4l6 4l6 0l7-3l6 5l6-2l6 0l6 5l6 1l6 4l6 4l7 0l6-5l6 0l6 7l6-1l6 5l6 2l6 1l7 1l6 1l6 0l6-1l6 5l6-2l6 5l6-3l6 4l7-1l6 1l6 5l6 2l6-2l6-2l6 7l6-2l7 8l6-2l6-1l6-1l6 0l6 7l6 2l6-6l7 7l6 0l6 8l6-11l6 6l6 1l6 7l6-10l7 12l6-10l6 11l6-10l6 18l6-9l6 11l6-17l6 14l7-9l6 9l6-8l6 15l6-13l6 15l6-17l6 17l7-14l6 13l6-9l6 17l6-14l6 15l6-13l6 11l7-5l6 10l6-13l6 14l6-7l6 7l6-9l6 17l7-14l6 12l6-7l6 11l6-11l6 12l6-9l6 9l6-9l7 11l6-7l6 10l6-12l6 14l6-6l6 9l6-6l7 8l6-9l6 11l6-16l6 20" stroke="#FFB5B8"/>
<path d="M1236 1342l7 4l6 0l6 0l6 0l6 3l6-5l6 4l6 5l7-2l6-5l6 0l6 3l6-2l6 3l6-3l6 2l7 3l6-2l6-1l6 0l6 4l6 0l6-6l6 2l7 5l6-1l6-2l6-3l6 2l6 4l6-3l6 0l6 2l7 1l6 3l6-6l6 2l6 0l6 1l6 3l6 3l7 5l6-7l6 1l6 3l6-2l6 3l6 3l6 1l7 1l6-2l6 1l6-1l6 1l6 3l6 0l6 0l7 1l6-2l6 4l6 3l6 0l6-2l6 7l6-4l6 3l7 8l6-3l6-2l6-2l6 1l6 1l6-1l6 2l7 0l6 6l6-2l6 3l6-4l6 3l6 4l6-3l7 2l6-3l6 1l6 4l6-1l6-3l6-1l6 8l7-2l6 5l6-1l6 0l6 4l6-7l6 2l6 0l6 3l7-4l6 0l6 4l6-5l6 8l6-2l6 5l6-2l7 0l6 0l6 3l6 1l6-1l6 2l6 1l6 1l7 4l6-2l6 0l6-2l6 5l6-2l6 1l6-2l7-2l6 4l6 3l6-5l6 1l6 0l6-1l6-1l6 3l7 5l6-7l6 4l6-3l6 4l6 0l6-3l6-1l7 2l6 2l6 1l6-4l6 8" stroke="#E24A33"/>
<path d="M1236 1425l7 1l6-4l6 1l6 3l6-6l6 3l6-3l6 0l7 3l6-4l6-1l6 1l6 2l6 5l6 2l6-9l7 0l6 1l6-3l6 7l6-4l6 3l6-5l6 2l7 2l6-8l6 4l6-1l6 4l6 4l6-3l6-8l6 5l7 1l6 0l6-4l6 0l6 0l6 1l6 0l6 1l7-1l6-1l6 2l6-5l6-4l6 3l6 6l6-4l7 0l6 0l6 4l6-7l6 0l6 1l6 0l6 0l7 3l6 1l6 3l6-2l6 1l6 1l6 1l6-4l6 2l7-2l6 2l6-1l6 0l6 4l6 2l6-6l6 1l7 0l6 0l6 3l6-1l6 3l6 1l6-1l6 0l7 0l6 1l6-2l6 4l6 0l6 3l6-2l6 3l7 1l6 2l6-1l6-1l6 5l6-1l6-1l6-1l6 0l7 2l6 0l6-1l6 1l6 5l6-2l6-6l6 7l7 2l6 2l6-4l6 4l6 3l6-1l6 3l6-3l7-1l6 3l6 0l6-1l6 2l6 2l6-1l6-1l7 1l6 0l6 6l6 0l6-2l6 6l6-3l6 1l6 2l7-1l6 2l6 1l6 0l6 2l6-3l6 4l6-2l7 5l6-2l6 1l6-1l6 4" stroke="#348ABD"/>
<path d="M1236 1367l7-1l6-3l6 2l6 1l6 4l6 0l6-5l6-1l7-2l6 2l6-2l6 3l6-3l6 0l6-1l6-3l7 5l6 0l6-2l6-6l6 6l6 3l6-2l6-2l7-1l6-1l6 1l6 1l6 1l6-5l6 2l6 3l6-6l7-1l6 4l6-3l6 6l6-1l6 3l6-4l6 5l7-3l6 7l6-3l6 1l6 6l6-5l6 1l6 2l7 2l6-3l6 7l6 0l6-3l6 5l6 3l6 3l7-4l6-1l6 1l6 1l6-2l6 5l6 1l6 0l6-5l7 5l6 4l6 4l6-2l6 3l6-1l6-3l6 5l7 0l6 1l6 2l6-1l6-4l6 7l6 0l6 0l7-2l6 5l6-2l6 4l6 0l6 2l6 6l6-5l7-1l6 8l6 0l6-1l6-2l6 6l6-3l6-2l6-3l7 5l6 3l6 0l6 2l6-4l6 4l6 1l6 2l7 3l6 3l6-1l6-2l6-1l6 3l6 0l6 0l7-4l6 5l6-1l6 1l6 0l6 1l6-2l6 1l7-5l6 5l6 2l6-4l6 2l6-2l6 2l6 1l6-3l7 2l6-2l6-2l6-1l6-1l6 6l6-3l6-2l7-6l6 2l6 2l6-1l6 4" stroke="#988ED5"/>
<path d="M1236 1362l7-6l6 0l6 2l6 2l6-3l6-1l6 4l6-1l7-2l6 5l6-4l6 5l6-2l6 1l6-2l6-1l7-2l6 6l6 0l6-1l6-2l6 0l6 0l6 6l7-1l6 4l6 2l6-3l6-2l6 2l6-4l6 2l6 3l7 0l6 1l6-2l6-2l6 4l6-2l6 2l6 2l7-1l6 1l6 3l6-3l6 1l6-1l6 5l6-3l7 3l6-2l6-4l6 9l6-2l6 2l6 0l6 2l7 5l6-8l6 1l6 4l6 1l6 0l6 3l6-3l6-2l7 3l6 2l6-3l6-2l6 7l6-5l6 4l6-2l7 2l6-2l6 3l6 3l6-1l6 1l6 1l6 7l7-4l6 1l6-3l6 1l6 1l6 0l6-1l6 1l7 4l6 0l6-2l6 2l6 0l6 4l6 0l6-2l6 3l7 1l6-1l6-1l6-1l6-2l6 5l6-2l6 1l7 0l6 5l6-3l6 2l6-3l6 2l6 3l6 1l7-2l6 0l6 1l6-2l6 1l6 1l6 4l6-6l7 5l6 0l6 0l6-3l6 4l6 5l6-5l6 1l6-1l7 3l6-2l6 1l6-1l6 1l6-1l6-1l6-2l7 4l6 9l6-3l6 0l6 0" stroke="#777777"/>
<path d="M1236 1413l7 0l6 2l6 1l6 2l6-1l6 3l6-4l6 3l7-1l6-4l6 2l6 0l6 1l6 1l6 1l6-6l7 7l6-1l6 1l6-1l6 4l6-3l6-1l6 4l7 0l6-3l6 2l6-3l6 6l6-1l6 1l6 0l6 3l7-4l6 1l6 2l6-3l6 2l6 1l6 0l6-4l7 1l6 0l6 3l6-2l6 1l6 2l6-2l6-1l7 4l6 6l6-3l6 1l6 3l6-3l6 0l6 1l7 1l6-3l6 4l6 6l6 0l6 1l6 2l6 1l6-1l7 2l6-1l6 2l6 3l6 1l6-2l6 3l6 0l7-1l6 4l6 0l6 5l6-3l6 1l6 1l6 5l7-1l6-4l6-2l6 7l6 2l6 3l6 4l6-5l7 1l6 4l6-4l6 3l6 0l6 8l6 0l6-3l6 1l7 4l6 0l6 1l6 3l6 1l6 4l6-1l6 3l7-4l6 6l6-1l6-7l6 12l6-1l6 7l6-6l7 5l6-2l6 1l6 0l6 4l6-3l6-3l6 1l7 6l6-5l6 1l6-1l6 8l6 1l6 3l6-2l6-2l7 1l6 1l6 1l6 3l6-1l6-1l6 1l6-1l7 0l6 3l6 0l6 0l6-1" stroke="#FBC15E"/>
<path d="M1236 1342l7 2l6-2l6 2l6 0l6 1l6 5l6-2l6 2l7-6l6 3l6 1l6-1l6 1l6 4l6-1l6 1l7-2l6 0l6-2l6 0l6-2l6-1l6 5l6 2l7-1l6-1l6-2l6-2l6 5l6 4l6-3l6 4l6-2l7-2l6 3l6 0l6 3l6 4l6-9l6 4l6 6l7-6l6 3l6 3l6-3l6 3l6 1l6 1l6 1l7 2l6-1l6 5l6 2l6-1l6 2l6-6l6 4l7 0l6 0l6 4l6 1l6 3l6-4l6 3l6-1l6 1l7 5l6-4l6 3l6-2l6 9l6 0l6-1l6 2l7-3l6 2l6-2l6 5l6 0l6 4l6-4l6-2l7 2l6 7l6-4l6 5l6-1l6-5l6 2l6-1l7 5l6-7l6 1l6 6l6-1l6 2l6-1l6 1l6-2l7-1l6 1l6 6l6 0l6 4l6 2l6-1l6 1l7-3l6-5l6 8l6-3l6 2l6-5l6 6l6 6l7-2l6-1l6-1l6 4l6-4l6 1l6-2l6 4l7 4l6-1l6 0l6 2l6 1l6-4l6 3l6-2l6 1l7 7l6 1l6 1l6-2l6 2l6 1l6-2l6-2l7 4l6-1l6 2l6 1l6-2" stroke="#8EBA42"/>
<path d="M1236 1345l7 2l6-3l6 1l6 2l6-3l6 6l6-5l6 6l7-1l6-3l6-1l6 1l6 1l6-1l6 3l6-1l7 0l6 1l6 2l6-4l6-1l6 6l6 1l6-4l7 3l6-5l6 1l6 1l6-2l6 5l6-3l6 4l6-1l7-1l6 0l6 3l6 1l6-1l6 1l6 3l6 0l7 5l6-3l6-1l6 3l6 2l6 5l6 1l6-2l7-3l6 4l6 6l6-3l6-2l6 0l6 5l6 5l7 0l6 2l6-2l6 1l6-3l6 6l6 1l6-2l6 7l7-3l6 0l6 6l6 5l6-1l6 1l6 0l6 5l7 1l6 0l6-1l6-3l6 2l6 4l6-2l6 2l7-2l6 0l6 4l6 3l6 1l6-2l6 5l6 2l7 2l6-4l6 4l6 1l6-5l6 0l6 2l6 6l6 1l7 1l6-1l6 0l6 10l6-1l6 3l6-3l6-6l7 3l6 4l6 1l6-3l6 2l6 3l6 7l6-3l7-3l6 6l6-3l6 3l6-4l6 7l6-6l6 2l7 3l6-1l6-2l6 4l6-1l6-3l6 5l6 0l6 1l7-3l6-2l6 0l6 2l6 2l6 7l6-2l6-3l7-3l6 6l6-1l6 1l6-3" stroke="#FFB5B8"/>
<path d="M1236 1422l7 3l6-5l6 4l6-4l6 2l6 4l6-2l6 0l7-3l6-1l6 3l6 0l6-2l6 1l6-1l6 4l7-5l6-2l6 5l6-1l6 0l6-1l6 4l6-5l7-1l6 5l6-5l6 4l6 0l6 2l6-1l6-1l6 0l7 1l6-3l6-2l6 1l6 0l6 4l6 6l6-5l7 4l6-4l6 1l6 2l6 1l6-2l6 2l6-1l7-1l6 3l6-1l6 4l6-5l6 4l6-2l6 3l7-3l6 3l6 4l6 4l6-1l6 2l6-2l6 3l6 6l7-1l6 0l6-2l6 5l6 0l6-1l6-1l6 3l7 4l6 3l6 0l6-2l6 2l6 2l6 2l6 1l7-2l6 0l6-3l6 8l6 2l6 0l6 6l6-6l7 5l6-3l6 5l6-8l6 8l6-4l6 11l6-15l6 11l7-11l6 8l6-9l6 20l6-11l6 14l6-6l6 6l7-10l6 11l6-6l6 10l6-13l6 13l6-9l6 13l7-10l6 13l6-10l6 8l6-6l6 8l6-11l6 14l7-6l6 9l6-12l6 16l6-12l6 9l6-12l6 14l6-6l7 9l6-11l6 13l6-11l6 14l6-17l6 14l6-7l7 8l6-10l6 10l6-10l6 13" stroke="#E24A33"/>
<path d="M1236 1386l7 0l6 0l6 0l6 0l6 1l6 0l6-1l6 1l7 0l6 0l6 0l6 0l6 0l6 0l6 0l6 0l7 0l6 0l6 0l6 0l6 1l6 0l6 0l6 0l7 0l6 0l6 0l6 0l6 1l6 0l6 0l6 0l6 0l7 0l6 0l6 0l6 0l6 0l6 0l6 0l6 0l7 0l6 0l6 0l6 0l6 0l6 0l6 0l6 1l7 0l6 0l6 0l6 0l6 1l6 0l6 0l6 0l7 0l6 0l6 0l6 0l6 0l6 0l6 0l6 0l6 0l7 0l6 1l6 0l6 0l6 0l6 0l6 0l6 0l7 0l6 0l6 0l6 0l6 0l6 1l6-1l6 1l7 0l6 0l6 1l6-1l6 0l6 0l6 0l6 0l7 0l6 1l6 0l6 0l6 0l6 0l6 0l6 1l6 0l7-1l6 1l6 0l6 0l6 0l6 0l6 0l6 0l7 0l6 0l6 0l6 0l6 1l6-1l6 1l6 0l7 0l6 0l6 0l6 0l6 0l6 0l6 0l6 0l7 0l6 0l6 1l6 0l6 0l6 0l6 0l6 1l6 0l7 0l6 0l6-1l6 0l6 1l6-1l6 1l6 0l7 0l6 0l6 0l6 0l6 0" stroke="#FFB5B8"/>
<path d="M1236 1380l7 0l6 0l6 0l6 0l6 0l6 0l6 0l6 0l7 0l6 0l6 0l6 0l6 0l6 0l6 0l6 0l7 0l6 0l6 0l6 0l6 0l6 0l6 0l6 0l7 0l6 0l6 0l6 0l6 0l6 0l6 1l6 0l6 0l7 0l6 0l6 0l6 0l6 0l6 0l6 0l6 0l7-1l6 1l6 0l6 0l6 0l6 0l6 0l6 0l7 0l6 0l6 0l6 0l6 0l6 0l6 1l6-1l7 0l6 1l6-1l6 0l6 0l6 1l6 0l6 0l6 1l7-1l6 0l6 0l6 0l6 0l6 0l6 1l6-1l7 0l6 0l6 0l6 1l6 0l6 0l6 0l6 0l7 0l6 0l6 0l6 0l6 0l6 0l6 1l6-1l7 0l6 0l6 0l6 0l6 0l6 1l6-1l6 1l6 0l7 0l6 0l6 0l6 0l6 1l6-1l6 0l6 0l7 0l6 0l6 0l6 0l6 0l6 0l6 0l6 0l7 0l6 0l6 0l6 0l6 0l6 0l6 0l6 0l7 1l6 0l6 0l6 0l6 0l6 0l6 0l6 0l6 0l7 0l6 0l6 1l6-1l6 0l6 1l6 0l6-1l7 1l6 0l6 0l6-1l6 1" stroke="#988ED5"/>
<path d="M1236 1431l7 0l6 0l6 0l6 0l6 0l6 10l6-2l6-8l7 0l6 0l6 0l6 0l6 0l6 0l6 0l6 0l7 0l6 0l6 0l6 0l6 0l6 0l6 0l6 0l7 0l6 0l6 0l6 0l6 0l6 0l6 0l6 0l6 0l7 0l6 0l6 0l6 1l6 0l6 0l6-1l6 0l7 1l6 0l6 0l6 0l6-1l6 0l6 0l6 1l7 0l6 0l6 0l6 0l6 0l6 0l6 0l6 0l7 0l6 0l6 0l6 0l6 0l6 0l6 0l6 0l6 0l7 0l6 0l6 0l6 0l6 0l6 0l6 0l6 0l7 1l6 0l6-1l6 1l6 0l6 0l6 0l6 0l7 0l6 0l6 0l6 0l6 0l6 0l6 0l6 0l7 1l6 0l6 0l6 0l6 0l6 0l6 0l6 0l6 0l7 0l6 0l6 0l6 0l6 0l6 0l6 0l6 1l7 0l6 0l6 0l6 0l6 0l6 0l6 0l6 0l7 0l6 0l6 0l6 0l6 0l6 0l6 1l6 0l7 0l6 0l6 0l6 0l6 0l6 0l6 0l6 0l6 0l7 0l6 0l6 0l6 0l6 1l6 0l6 0l6 0l7 0l6 0l6 0l6 0l6 0" stroke="#E24A33"/>
<path d="M1236 1396l7 1l6 0l6 0l6 1l6 2l6 1l6 1l6 0l7 1l6 0l6 1l6 1l6 0l6 0l6 1l6 1l7 0l6 1l6 1l6 0l6 2l6 0l6 1l6 1l7 1l6 1l6 1l6-1l6 1l6 0l6 1l6 0l6 2l7 1l6 1l6 1l6 1l6 0l6 0l6 2l6 0l7 2l6 0l6 1l6 1l6 0l6 0l6 1l6 1l7 1l6 1l6 1l6 1l6 1l6 2l6-1l6 0l7 2l6 1l6 48l6-46l6 1l6 1l6 1l6 0l6 1l7 3l6 2l6 1l6 1l6 3l6 1l6 3l6-4l7 8l6-8l6 12l6-14l6 18l6-18l6 21l6-17l7 21l6-18l6 22l6-20l6 22l6-19l6 22l6-19l7 21l6-18l6 21l6-17l6 20l6-18l6 19l6-17l6 21l7-20l6 21l6-17l6 21l6-18l6 22l6-19l6 21l7-19l6 20l6-17l6 21l6-18l6 20l6-17l6 22l7-17l6 22l6-17l6 21l6-17l6 22l6-18l6 20l7-16l6 21l6-16l6 22l6-17l6 21l6-16l6 21l6-18l7 22l6-16l6 21l6-18l6 22l6-17l6 20l6-16l7 22l6-17l6 22l6-16l6 22" stroke="#777777"/>
<path d="M1236 1415l7 0l6 0l6 0l6 1l6 1l6 1l6 1l6 19l7-18l6 0l6-1l6 0l6 1l6 0l6 2l6 0l7 1l6 1l6 1l6 0l6 2l6 1l6-1l6 2l7-1l6 1l6 0l6 1l6 0l6-1l6 1l6 0l6 2l7 0l6 1l6 1l6-1l6 0l6 1l6 0l6 1l7 25l6-24l6 1l6 1l6-1l6 0l6 0l6 1l7 1l6 1l6 1l6 0l6 1l6 0l6 2l6 3l7 3l6 2l6 2l6 4l6-1l6 5l6-2l6 9l6-7l7 12l6-9l6 11l6-12l6 12l6-9l6 13l6-8l7 13l6-10l6 12l6-9l6 14l6-8l6 14l6-8l7 12l6-9l6 14l6-10l6 11l6-4l6 2l6 1l7 0l6 2l6 1l6 1l6 1l6 1l6 0l6 0l6 1l7 0l6 3l6 0l6 2l6 2l6 3l6 5l6 3l7 2l6 4l6 3l6 2l6 2l6 1l6 2l6 2l7 2l6 3l6 3l6 2l6 2l6 3l6 1l6 4l7 2l6 3l6 1l6 3l6 2l6 3l6 2l6 4l6 3l7 0l6 1l6 1l6-2l6 2l6 0l6 2l6 1l7 0l6 2l6 1l6 2l6 3" stroke="#988ED5"/>
<path d="M1236 1413l7 0l6 0l6 3l6 0l6 1l6 0l6 1l6-1l7 1l6 2l6 0l6 1l6-1l6 2l6 0l6 0l7 0l6-1l6 1l6 2l6 1l6 1l6 0l6 0l7 0l6 1l6-1l6 1l6 0l6 0l6 1l6 1l6 0l7 1l6 0l6 1l6-1l6 2l6 0l6 0l6 1l7 0l6 1l6 0l6 2l6 1l6 0l6 0l6 0l7 0l6 0l6 1l6 0l6 0l6 1l6 0l6 0l7 66l6-65l6 3l6-1l6 1l6 0l6 0l6 0l6 1l7 1l6 1l6 0l6 0l6 2l6-1l6 0l6 2l7 0l6-1l6 1l6 1l6 1l6 0l6 1l6-1l7 1l6 1l6 0l6 0l6 1l6 0l6 1l6-1l7 1l6 0l6 1l6 0l6 2l6 0l6 0l6 1l6 1l7 0l6 0l6 1l6-1l6 0l6 1l6 1l6 0l7 0l6 1l6 1l6 0l6 0l6 0l6 2l6-1l7 1l6-1l6 2l6-2l6 2l6 1l6 0l6-1l7 1l6 1l6 1l6 0l6 1l6 0l6 0l6-1l6 0l7 2l6 0l6 1l6 1l6 1l6 1l6-1l6 2l7 0l6 0l6 1l6 0l6 1" stroke="#FFB5B8"/>
<path d="M1236 1388l7-1l6 0l6 0l6 0l6 0l6-1l6 1l6 0l7-2l6 0l6 1l6-1l6 1l6 0l6-1l6 2l7 1l6 0l6 0l6 1l6-1l6 1l6 0l6-1l7 0l6 0l6-1l6-1l6 0l6 1l6 1l6-1l6 0l7 0l6 0l6-1l6 0l6 1l6 2l6 0l6 0l7-2l6 1l6-1l6 0l6 0l6 1l6 1l6 0l7 0l6 0l6 1l6 0l6-1l6 1l6-1l6-1l7 1l6 0l6 0l6 1l6 1l6 0l6-23l6 23l6 0l7 0l6 0l6 0l6 0l6 1l6-1l6 0l6-1l7 0l6 2l6 2l6 0l6 2l6 1l6 0l6 1l7 0l6 2l6 0l6 0l6 2l6 1l6 0l6 2l7-1l6 0l6 1l6 1l6 1l6 0l6 1l6 2l6 0l7 0l6 2l6 1l6 1l6 1l6 1l6-1l6 1l7 3l6 1l6 0l6 1l6 0l6 0l6 2l6 0l7 1l6 0l6 1l6 1l6 1l6 1l6 0l6 0l7 1l6 2l6 1l6 1l6 1l6 0l6 1l6 2l6 0l7 1l6 0l6 2l6-1l6 0l6 1l6 1l6 1l7 1l6 2l6 1l6 0l6 2" stroke="#348ABD"/>
<path d="M1236 1326l7-1l6 3l6-1l6 2l6 0l6 0l6-2l6 2l7 2l6-2l6 0l6 2l6 0l6 1l6 4l6 1l7 1l6 0l6 1l6 0l6 0l6 1l6 1l6 0l7 4l6 2l6-2l6 2l6 1l6 2l6 1l6 0l6-1l7-2l6 0l6 1l6 1l6 2l6-1l6 0l6 1l7 1l6 1l6 3l6 1l6-2l6 0l6 2l6 0l7-1l6 3l6 1l6 1l6-1l6 2l6 1l6 4l7-1l6 3l6-1l6 2l6 0l6 1l6 0l6 3l6 0l7-1l6 3l6 1l6 3l6 0l6 1l6 0l6 1l7-3l6 1l6 2l6-2l6 0l6-1l6 2l6 0l7 0l6 1l6 3l6 3l6 1l6 0l6 2l6-1l7 0l6-1l6 2l6-1l6 0l6 0l6 3l6 3l6-1l7 0l6-1l6 1l6 2l6 1l6-1l6 2l6 1l7 0l6 2l6-2l6-1l6-1l6 1l6-3l6 4l7 2l6 0l6 1l6 3l6 1l6 3l6-1l6 0l7-2l6 1l6 1l6-1l6 1l6 2l6 2l6-1l6 1l7 2l6 1l6-1l6-2l6 3l6 1l6 0l6 2l7-1l6 1l6 0l6 4l6 0" stroke="#FFB5B8"/>
<path d="M1236 1330l7 1l6 0l6 2l6 0l6 1l6 3l6 1l6 2l7 0l6 0l6 2l6-2l6 0l6 2l6 0l6-1l7 0l6 1l6 2l6 2l6 2l6-1l6 1l6 0l7 1l6-1l6 1l6 2l6 1l6 2l6 1l6-1l6 2l7 1l6 0l6 0l6 2l6 1l6-2l6 0l6-1l7 2l6 2l6 0l6 0l6 0l6 0l6 2l6 0l7 2l6 1l6 1l6 0l6 1l6 0l6 2l6-1l7-1l6 3l6 0l6-1l6 1l6 2l6 2l6 1l6 0l7 2l6-2l6 3l6 0l6 1l6 0l6 3l6 0l7 2l6 0l6 0l6-2l6 1l6 3l6 2l6-1l7 1l6-2l6 2l6 2l6 4l6 0l6-1l6 2l7 2l6-2l6-2l6 3l6-1l6-2l6 4l6 1l6 0l7-3l6 1l6 1l6 3l6 1l6-1l6 2l6-2l7 2l6 0l6 1l6-1l6 3l6 1l6 0l6 1l7 1l6 3l6 1l6-2l6 1l6 1l6 1l6 2l7 0l6-1l6 0l6 0l6 1l6-1l6 1l6 1l6 1l7 1l6 2l6 2l6-3l6 2l6 2l6 1l6 0l7 0l6-3l6 2l6 1l6 1" stroke="#FFB5B8"/>
<path d="M1236 1335l7 0l6-1l6 1l6 4l6 0l6 0l6-1l6 1l7-2l6 0l6 1l6 2l6-1l6 2l6 2l6 2l7 0l6-1l6 2l6-1l6 0l6 0l6 0l6 4l7-1l6 2l6 1l6 1l6 4l6-1l6 0l6-1l6 3l7 0l6 0l6 1l6 2l6-1l6 1l6 1l6 0l7 2l6 1l6 2l6 3l6-1l6 2l6-3l6 0l7-3l6 3l6 1l6 1l6 4l6 2l6 3l6-1l7-1l6-1l6 0l6 2l6 0l6-1l6 0l6 1l6 1l7 3l6 1l6 0l6 3l6-1l6 2l6-2l6 3l7-1l6-1l6 2l6 0l6 1l6-2l6 0l6 1l7 0l6 2l6 1l6 1l6 0l6 1l6 0l6 1l7 2l6-1l6 2l6-1l6 2l6 1l6 2l6 4l6-1l7 0l6 0l6 2l6 0l6-2l6 0l6 2l6 1l7 0l6 1l6-1l6-1l6 5l6 0l6 2l6-1l7-1l6 2l6 2l6 1l6 2l6-2l6 0l6 3l7-1l6 1l6 3l6-2l6 1l6 3l6 1l6 2l6-2l7-1l6-1l6-2l6 3l6 4l6-2l6 0l6 1l7-1l6 2l6 2l6 2l6 0" stroke="#E24A33"/>
<path d="M1236 1320l7 1l6-4l6 0l6 0l6 1l6 2l6-1l6 3l7 7l6-1l6 0l6-5l6 4l6 3l6 2l6-1l7 1l6 1l6 3l6 2l6-2l6 0l6-2l6 5l7-6l6 3l6-2l6 0l6 1l6 6l6 1l6 3l6-2l7-2l6 4l6 4l6 0l6 3l6 1l6 3l6 1l7-4l6 0l6 3l6-1l6 5l6 1l6 5l6-3l7 0l6 5l6 4l6-2l6-3l6 0l6 1l6 1l7-9l6 9l6 1l6 0l6 10l6-1l6 2l6-3l6-3l7-1l6 0l6 2l6 2l6 2l6 1l6 2l6-4l7 3l6 2l6-1l6-2l6 4l6 4l6 0l6 3l7-1l6 2l6 2l6-4l6 1l6 0l6 8l6-3l7 2l6 2l6-1l6 4l6 5l6-1l6 2l6 2l6 2l7-1l6-1l6-3l6-1l6-1l6 4l6-1l6 2l7 1l6-1l6 3l6-4l6 4l6 3l6-2l6-2l7 0l6 2l6 5l6 0l6 0l6 1l6-1l6-5l7 6l6-2l6 3l6-1l6 6l6-5l6-5l6 4l6 0l7 2l6-4l6 2l6 4l6 2l6 1l6-2l6 1l7 0l6 2l6-1l6 4l6 1" stroke="#E24A33"/>
</g></g>
<text x="314.3" y="413.8" font-size="6.40" text-anchor="middle" fill="#555">1950</text>
<text x="344.9" y="413.8" font-size="6.40" text-anchor="middle" fill="#555">1960</text>
<text x="375.5" y="413.8" font-size="6.40" text-anchor="middle" fill="#555">1970</text>
<text x="406.1" y="413.8" font-size="6.40" text-anchor="middle" fill="#555">1980</text>
<text x="436.8" y="413.8" font-size="6.40" text-anchor="middle" fill="#555">1990</text>
<text x="467.4" y="413.8" font-size="6.40" text-anchor="middle" fill="#555">2000</text>
<text x="498.0" y="413.8" font-size="6.40" text-anchor="middle" fill="#555">2010</text>
<text x="528.6" y="413.8" font-size="6.40" text-anchor="middle" fill="#555">2020</text>
<text x="420.3" y="232.8" font-size="9.00" text-anchor="middle" fill="#000" stroke="#000" stroke-width="0.2">Iteration 2</text>
<text x="0" y="0" font-size="7.9" text-anchor="middle" fill="#555" transform="translate(12.5 138.8) rotate(-90)">Groundwater Level</text>
<text x="0" y="0" font-size="7.9" text-anchor="middle" fill="#555" transform="translate(12.5 322.0) rotate(-90)">Groundwater Level</text>
<text x="282.6" y="14.5" font-size="10.35" text-anchor="middle" fill="#000">Imputation Refinement Over Iterations: Beryl-Enterprise</text>
</svg>
</body></html>
